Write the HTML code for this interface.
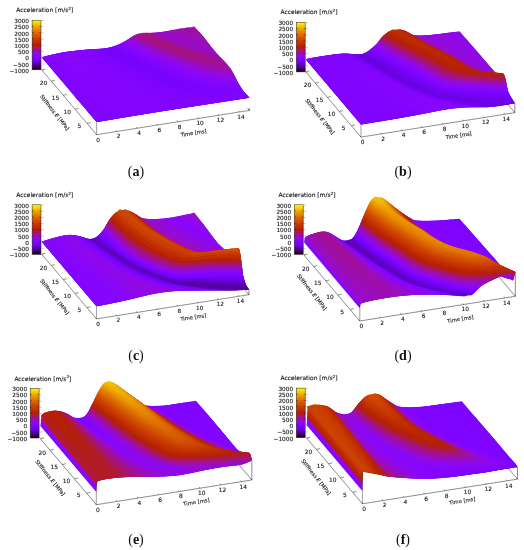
<!DOCTYPE html><html><head><meta charset="utf-8"><title>Figure</title><style>html,body{margin:0;padding:0;background:#fff}svg{display:block}text{font-family:"DejaVu Sans","Liberation Sans",sans-serif;fill:#111;stroke:#111;stroke-width:.1px}.cap text{font-family:"Liberation Serif",serif;fill:#111;stroke:none}</style></head><body><svg width="524" height="550" viewBox="0 0 524 550"><rect width="524" height="550" fill="#fff"/><defs><linearGradient id="cb" x1="0" y1="0" x2="0" y2="1"><stop offset="0" stop-color="#ff0"/><stop offset="0.03125" stop-color="#fbe800"/><stop offset="0.0625" stop-color="#f7d200"/><stop offset="0.09375" stop-color="#f3be00"/><stop offset="0.125" stop-color="#efab00"/><stop offset="0.1562" stop-color="#ea9900"/><stop offset="0.1875" stop-color="#e68900"/><stop offset="0.2188" stop-color="#e17a00"/><stop offset="0.25" stop-color="#dd6c00"/><stop offset="0.2812" stop-color="#d85f00"/><stop offset="0.3125" stop-color="#d35300"/><stop offset="0.3438" stop-color="#cf4800"/><stop offset="0.375" stop-color="#ca3e00"/><stop offset="0.4062" stop-color="#c43500"/><stop offset="0.4375" stop-color="#bf2d00"/><stop offset="0.4688" stop-color="#ba2600"/><stop offset="0.5" stop-color="#b42000"/><stop offset="0.5312" stop-color="#af1a32"/><stop offset="0.5625" stop-color="#a91562"/><stop offset="0.5938" stop-color="#a3118e"/><stop offset="0.625" stop-color="#9c0db4"/><stop offset="0.6562" stop-color="#960ad4"/><stop offset="0.6875" stop-color="#8f08ec"/><stop offset="0.7188" stop-color="#8706fa"/><stop offset="0.75" stop-color="#8004ff"/><stop offset="0.7812" stop-color="#7703fa"/><stop offset="0.8125" stop-color="#6e02ec"/><stop offset="0.8438" stop-color="#6501d4"/><stop offset="0.875" stop-color="#5a00b4"/><stop offset="0.9062" stop-color="#4e008e"/><stop offset="0.9375" stop-color="#400062"/><stop offset="0.9688" stop-color="#2d0032"/><stop offset="1" stop-color="#000"/></linearGradient><linearGradient id="a52" gradientUnits="userSpaceOnUse" x1="8.9" y1="56" x2="12.5" y2="78.8"><stop offset="0" stop-color="#9d0eaf"/><stop offset=".468" stop-color="#9e0fa9"/><stop offset=".61" stop-color="#9e0eac"/><stop offset=".927" stop-color="#990cc2"/><stop offset="1" stop-color="#990cc4"/></linearGradient><linearGradient id="a51" gradientUnits="userSpaceOnUse" x1="8.9" y1="55.8" x2="13.3" y2="83.4"><stop offset="0" stop-color="#9e0ea9"/><stop offset=".451" stop-color="#9e0fa9"/><stop offset=".642" stop-color="#9c0db7"/><stop offset=".773" stop-color="#990cc2"/><stop offset=".945" stop-color="#990cc4"/><stop offset="1" stop-color="#990cc3"/></linearGradient><linearGradient id="a50" gradientUnits="userSpaceOnUse" x1="8.9" y1="55.8" x2="14" y2="87.9"><stop offset="0" stop-color="#9e0eab"/><stop offset=".438" stop-color="#9e0eac"/><stop offset=".664" stop-color="#990cc2"/><stop offset=".813" stop-color="#990cc4"/><stop offset="1" stop-color="#9a0cbf"/></linearGradient><linearGradient id="a49" gradientUnits="userSpaceOnUse" x1="9" y1="56.6" x2="14.6" y2="92.1"><stop offset="0" stop-color="#9b0dbc"/><stop offset=".528" stop-color="#9a0dbd"/><stop offset=".625" stop-color="#990cc4"/><stop offset=".755" stop-color="#990cc3"/><stop offset=".924" stop-color="#9a0dbe"/><stop offset="1" stop-color="#9c0db4"/></linearGradient><linearGradient id="a48" gradientUnits="userSpaceOnUse" x1="9.1" y1="56.9" x2="14.8" y2="93.4"><stop offset="0" stop-color="#990cc4"/><stop offset=".725" stop-color="#990cc3"/><stop offset=".89" stop-color="#9a0dbe"/><stop offset=".964" stop-color="#9c0db4"/><stop offset="1" stop-color="#9d0eae"/></linearGradient><linearGradient id="a47" gradientUnits="userSpaceOnUse" x1="9" y1="56.8" x2="15.3" y2="96.2"><stop offset="0" stop-color="#9a0cc2"/><stop offset=".712" stop-color="#9a0cc1"/><stop offset=".826" stop-color="#9a0dbe"/><stop offset=".963" stop-color="#9e0eaa"/><stop offset="1" stop-color="#9e0fa7"/></linearGradient><linearGradient id="a46" gradientUnits="userSpaceOnUse" x1="9" y1="56.6" x2="15.5" y2="97.7"><stop offset="0" stop-color="#9b0dbc"/><stop offset=".759" stop-color="#9a0dbd"/><stop offset=".798" stop-color="#9a0dbe"/><stop offset=".928" stop-color="#9e0eaa"/><stop offset="1" stop-color="#9f0fa5"/></linearGradient><linearGradient id="a45" gradientUnits="userSpaceOnUse" x1="8.9" y1="55.9" x2="16" y2="100.8"><stop offset="0" stop-color="#9d0eae"/><stop offset=".696" stop-color="#9d0eaf"/><stop offset=".806" stop-color="#9c0db4"/><stop offset=".865" stop-color="#9e0eaa"/><stop offset=".965" stop-color="#9f0fa4"/><stop offset="1" stop-color="#9f0fa5"/></linearGradient><linearGradient id="a44" gradientUnits="userSpaceOnUse" x1="8.8" y1="55.4" x2="16.9" y2="106.5"><stop offset="0" stop-color="#a00fa1"/><stop offset=".611" stop-color="#9f0fa2"/><stop offset=".74" stop-color="#9e0eab"/><stop offset=".857" stop-color="#9f0fa4"/><stop offset=".921" stop-color="#9e0fa8"/><stop offset=".958" stop-color="#9d0eb0"/><stop offset="1" stop-color="#9a0dbd"/></linearGradient><linearGradient id="a43" gradientUnits="userSpaceOnUse" x1="8.7" y1="54.9" x2="17.3" y2="108.8"><stop offset="0" stop-color="#a21194"/><stop offset=".579" stop-color="#a11095"/><stop offset=".734" stop-color="#9f0fa3"/><stop offset=".766" stop-color="#9e0fa7"/><stop offset=".822" stop-color="#9f0fa4"/><stop offset=".883" stop-color="#9e0fa8"/><stop offset=".918" stop-color="#9d0eb0"/><stop offset="1" stop-color="#970bcd"/></linearGradient><linearGradient id="a42" gradientUnits="userSpaceOnUse" x1="8.6" y1="54.4" x2="17.7" y2="111.2"><stop offset="0" stop-color="#a41286"/><stop offset=".549" stop-color="#a31287"/><stop offset=".697" stop-color="#a11097"/><stop offset=".788" stop-color="#9f0fa4"/><stop offset=".846" stop-color="#9e0fa8"/><stop offset=".879" stop-color="#9d0eb0"/><stop offset="1" stop-color="#9309dd"/></linearGradient><linearGradient id="a41" gradientUnits="userSpaceOnUse" x1="8.6" y1="54" x2="18.1" y2="113.9"><stop offset="0" stop-color="#a5137b"/><stop offset=".521" stop-color="#a5137c"/><stop offset=".633" stop-color="#a31289"/><stop offset=".809" stop-color="#9e0fa8"/><stop offset=".841" stop-color="#9d0eb0"/><stop offset=".956" stop-color="#9309dd"/><stop offset="1" stop-color="#8e08ec"/></linearGradient><linearGradient id="a40" gradientUnits="userSpaceOnUse" x1="8.7" y1="54.4" x2="18.1" y2="113.9"><stop offset="0" stop-color="#a31287"/><stop offset=".498" stop-color="#a31288"/><stop offset=".58" stop-color="#a3118d"/><stop offset=".784" stop-color="#9e0eab"/><stop offset=".876" stop-color="#9a0cbe"/><stop offset=".955" stop-color="#9309dd"/><stop offset="1" stop-color="#8e08ec"/></linearGradient><linearGradient id="a39" gradientUnits="userSpaceOnUse" x1="8.7" y1="54.9" x2="18.1" y2="113.9"><stop offset="0" stop-color="#a11095"/><stop offset=".53" stop-color="#a11096"/><stop offset=".671" stop-color="#9f0fa4"/><stop offset=".85" stop-color="#9a0cbf"/><stop offset=".914" stop-color="#970bcd"/><stop offset="1" stop-color="#8e08ec"/></linearGradient><linearGradient id="a38" gradientUnits="userSpaceOnUse" x1="8.8" y1="55.4" x2="18.5" y2="116.6"><stop offset="0" stop-color="#9f0fa1"/><stop offset=".484" stop-color="#9f0fa2"/><stop offset=".591" stop-color="#9e0fa9"/><stop offset=".788" stop-color="#990cc2"/><stop offset=".878" stop-color="#960ad3"/><stop offset="1" stop-color="#8906f8"/></linearGradient><linearGradient id="a37" gradientUnits="userSpaceOnUse" x1="8.9" y1="56" x2="18.5" y2="116.6"><stop offset="0" stop-color="#9d0eaf"/><stop offset=".515" stop-color="#9d0eb0"/><stop offset=".624" stop-color="#9c0db8"/><stop offset=".793" stop-color="#980bcb"/><stop offset=".915" stop-color="#9309df"/><stop offset="1" stop-color="#8906f8"/></linearGradient><linearGradient id="a36" gradientUnits="userSpaceOnUse" x1="9" y1="56.6" x2="18.9" y2="118.9"><stop offset="0" stop-color="#9b0dbc"/><stop offset=".5" stop-color="#9b0dbd"/><stop offset=".605" stop-color="#990cc3"/><stop offset=".797" stop-color="#950ad7"/><stop offset=".92" stop-color="#8e08ec"/><stop offset=".963" stop-color="#8906f8"/><stop offset="1" stop-color="#8505fc"/></linearGradient><linearGradient id="a35" gradientUnits="userSpaceOnUse" x1="9.1" y1="57.2" x2="19.2" y2="121"><stop offset="0" stop-color="#980bc9"/><stop offset=".489" stop-color="#980bca"/><stop offset=".643" stop-color="#960ad3"/><stop offset=".776" stop-color="#9309df"/><stop offset=".889" stop-color="#8e08ed"/><stop offset=".93" stop-color="#8906f8"/><stop offset="1" stop-color="#8205fe"/></linearGradient><linearGradient id="a34" gradientUnits="userSpaceOnUse" x1="9.2" y1="57.9" x2="19.6" y2="123.1"><stop offset="0" stop-color="#950ad6"/><stop offset=".503" stop-color="#950ad7"/><stop offset=".757" stop-color="#9008e7"/><stop offset=".866" stop-color="#8c07f1"/><stop offset=".9" stop-color="#8906f8"/><stop offset="1" stop-color="#8004ff"/></linearGradient><linearGradient id="a33" gradientUnits="userSpaceOnUse" x1="9.3" y1="58.7" x2="19.9" y2="125.1"><stop offset="0" stop-color="#9109e4"/><stop offset=".518" stop-color="#9109e5"/><stop offset=".767" stop-color="#8c07f1"/><stop offset=".872" stop-color="#8906f8"/><stop offset=".97" stop-color="#8004ff"/><stop offset="1" stop-color="#7e04ff"/></linearGradient><linearGradient id="a32" gradientUnits="userSpaceOnUse" x1="9.5" y1="59.8" x2="20.2" y2="126.8"><stop offset="0" stop-color="#8c07f2"/><stop offset=".561" stop-color="#8b07f3"/><stop offset=".855" stop-color="#8605fb"/><stop offset=".973" stop-color="#7e04ff"/><stop offset="1" stop-color="#7d03fe"/></linearGradient><linearGradient id="a31" gradientUnits="userSpaceOnUse" x1="9.7" y1="61.1" x2="20.4" y2="128.4"><stop offset="0" stop-color="#8605fc"/><stop offset=".722" stop-color="#8505fd"/><stop offset=".891" stop-color="#8205fe"/><stop offset="1" stop-color="#7d03fe"/></linearGradient><linearGradient id="a30" gradientUnits="userSpaceOnUse" x1="9.9" y1="62.3" x2="20.6" y2="129.8"><stop offset="0" stop-color="#8004ff"/><stop offset=".901" stop-color="#8004ff"/><stop offset="1" stop-color="#7d04ff"/></linearGradient><linearGradient id="a29" gradientUnits="userSpaceOnUse" x1="10.1" y1="63.3" x2="20.9" y2="131.2"><stop offset="0" stop-color="#7a03fd"/><stop offset=".979" stop-color="#7d04ff"/><stop offset="1" stop-color="#7e04ff"/></linearGradient><linearGradient id="a28" gradientUnits="userSpaceOnUse" x1="10.2" y1="63.9" x2="20.9" y2="131.2"><stop offset="0" stop-color="#7703fa"/><stop offset=".712" stop-color="#7903fc"/><stop offset="1" stop-color="#7e04ff"/></linearGradient><linearGradient id="a27" gradientUnits="userSpaceOnUse" x1="10.2" y1="63.9" x2="21.1" y2="132.6"><stop offset="0" stop-color="#7703fa"/><stop offset=".632" stop-color="#7803fb"/><stop offset="1" stop-color="#7f04ff"/></linearGradient><linearGradient id="a26" gradientUnits="userSpaceOnUse" x1="10.1" y1="63.8" x2="21.3" y2="134.1"><stop offset="0" stop-color="#7803fb"/><stop offset=".64" stop-color="#7903fc"/><stop offset="1" stop-color="#7f04ff"/></linearGradient><linearGradient id="a25" gradientUnits="userSpaceOnUse" x1="10.1" y1="63.5" x2="21.3" y2="134.1"><stop offset="0" stop-color="#7a03fc"/><stop offset=".702" stop-color="#7b03fe"/><stop offset="1" stop-color="#7f04ff"/></linearGradient><linearGradient id="a24" gradientUnits="userSpaceOnUse" x1="10" y1="63.1" x2="21.3" y2="134.1"><stop offset="0" stop-color="#7b03fe"/><stop offset=".959" stop-color="#7e04ff"/><stop offset="1" stop-color="#7f04ff"/></linearGradient><linearGradient id="a18" gradientUnits="userSpaceOnUse" x1="9.8" y1="61.7" x2="21.3" y2="133.9"><stop offset="0" stop-color="#8305fe"/><stop offset="1" stop-color="#8004ff"/></linearGradient><linearGradient id="a16" gradientUnits="userSpaceOnUse" x1="9.8" y1="61.4" x2="21.3" y2="133.8"><stop offset="0" stop-color="#8405fd"/><stop offset=".847" stop-color="#8204ff"/><stop offset="1" stop-color="#8104ff"/></linearGradient><linearGradient id="a15" gradientUnits="userSpaceOnUse" x1="9.7" y1="61.3" x2="21.3" y2="133.8"><stop offset="0" stop-color="#8505fd"/><stop offset=".759" stop-color="#8305fe"/><stop offset="1" stop-color="#8104ff"/></linearGradient><linearGradient id="a14" gradientUnits="userSpaceOnUse" x1="9.7" y1="61.2" x2="21.3" y2="133.7"><stop offset="0" stop-color="#8505fc"/><stop offset=".715" stop-color="#8405fe"/><stop offset="1" stop-color="#8104ff"/></linearGradient><linearGradient id="a13" gradientUnits="userSpaceOnUse" x1="9.7" y1="61.1" x2="21.3" y2="133.7"><stop offset="0" stop-color="#8605fc"/><stop offset=".714" stop-color="#8405fd"/><stop offset="1" stop-color="#8104ff"/></linearGradient><linearGradient id="a12" gradientUnits="userSpaceOnUse" x1="9.7" y1="61" x2="21.2" y2="133.7"><stop offset="0" stop-color="#8605fb"/><stop offset=".67" stop-color="#8505fd"/><stop offset="1" stop-color="#8204ff"/></linearGradient><linearGradient id="a11" gradientUnits="userSpaceOnUse" x1="9.7" y1="60.9" x2="21.2" y2="133.6"><stop offset="0" stop-color="#8706fb"/><stop offset=".647" stop-color="#8505fc"/><stop offset="1" stop-color="#8204ff"/></linearGradient><linearGradient id="a10" gradientUnits="userSpaceOnUse" x1="9.7" y1="60.9" x2="21.2" y2="133.6"><stop offset="0" stop-color="#8706fb"/><stop offset=".669" stop-color="#8505fc"/><stop offset="1" stop-color="#8204ff"/></linearGradient><linearGradient id="a9" gradientUnits="userSpaceOnUse" x1="9.7" y1="60.9" x2="21.2" y2="133.6"><stop offset="0" stop-color="#8706fa"/><stop offset=".669" stop-color="#8505fc"/><stop offset="1" stop-color="#8204ff"/></linearGradient><linearGradient id="a8" gradientUnits="userSpaceOnUse" x1="9.7" y1="60.9" x2="21.2" y2="133.6"><stop offset="0" stop-color="#8706fb"/><stop offset=".669" stop-color="#8505fc"/><stop offset="1" stop-color="#8204ff"/></linearGradient><linearGradient id="a7" gradientUnits="userSpaceOnUse" x1="9.7" y1="61" x2="21.2" y2="133.7"><stop offset="0" stop-color="#8605fb"/><stop offset=".692" stop-color="#8505fd"/><stop offset="1" stop-color="#8204ff"/></linearGradient><linearGradient id="a6" gradientUnits="userSpaceOnUse" x1="9.7" y1="61.1" x2="21.3" y2="133.7"><stop offset="0" stop-color="#8605fc"/><stop offset=".648" stop-color="#8505fd"/><stop offset="1" stop-color="#8104ff"/></linearGradient><linearGradient id="a5" gradientUnits="userSpaceOnUse" x1="9.7" y1="61.2" x2="21.3" y2="133.7"><stop offset="0" stop-color="#8505fc"/><stop offset=".692" stop-color="#8405fe"/><stop offset="1" stop-color="#8104ff"/></linearGradient><linearGradient id="a4" gradientUnits="userSpaceOnUse" x1="9.8" y1="61.3" x2="21.3" y2="133.8"><stop offset="0" stop-color="#8505fd"/><stop offset=".737" stop-color="#8305fe"/><stop offset="1" stop-color="#8104ff"/></linearGradient><linearGradient id="a3" gradientUnits="userSpaceOnUse" x1="9.8" y1="61.5" x2="21.3" y2="133.8"><stop offset="0" stop-color="#8405fe"/><stop offset="1" stop-color="#8104ff"/></linearGradient><linearGradient id="a2" gradientUnits="userSpaceOnUse" x1="9.8" y1="61.7" x2="21.3" y2="133.9"><stop offset="0" stop-color="#8305fe"/><stop offset="1" stop-color="#8004ff"/></linearGradient><linearGradient id="b63" gradientUnits="userSpaceOnUse" x1="9.4" y1="58.8" x2="15.5" y2="97.8"><stop offset="0" stop-color="#9108e6"/><stop offset=".841" stop-color="#9108e6"/><stop offset="1" stop-color="#9109e5"/></linearGradient><linearGradient id="b62" gradientUnits="userSpaceOnUse" x1="9.3" y1="58.8" x2="16.7" y2="105.3"><stop offset="0" stop-color="#9109e5"/><stop offset=".572" stop-color="#9008e7"/><stop offset=".969" stop-color="#9109e3"/><stop offset="1" stop-color="#9209e1"/></linearGradient><linearGradient id="b61" gradientUnits="userSpaceOnUse" x1="9.3" y1="58.7" x2="17.1" y2="107.8"><stop offset="0" stop-color="#9109e3"/><stop offset=".607" stop-color="#9008e6"/><stop offset=".92" stop-color="#9109e3"/><stop offset=".976" stop-color="#9309de"/><stop offset="1" stop-color="#950ad7"/></linearGradient><linearGradient id="b60" gradientUnits="userSpaceOnUse" x1="9.3" y1="58.4" x2="17.3" y2="108.6"><stop offset="0" stop-color="#9209e0"/><stop offset=".846" stop-color="#9109e5"/><stop offset=".934" stop-color="#9209e1"/><stop offset=".961" stop-color="#9309de"/><stop offset=".984" stop-color="#950ad7"/><stop offset="1" stop-color="#980bc9"/></linearGradient><linearGradient id="b59" gradientUnits="userSpaceOnUse" x1="9.2" y1="58.1" x2="17.3" y2="108.6"><stop offset="0" stop-color="#940adb"/><stop offset=".877" stop-color="#9109e4"/><stop offset=".961" stop-color="#9309de"/><stop offset=".984" stop-color="#950ad7"/><stop offset="1" stop-color="#980bc9"/></linearGradient><linearGradient id="b58" gradientUnits="userSpaceOnUse" x1="9.2" y1="57.6" x2="17.3" y2="108.6"><stop offset="0" stop-color="#960bd1"/><stop offset=".744" stop-color="#940adb"/><stop offset=".961" stop-color="#9309de"/><stop offset=".985" stop-color="#950ad7"/><stop offset="1" stop-color="#980bc9"/><stop offset="1" stop-color="#a41286"/></linearGradient><linearGradient id="b57" gradientUnits="userSpaceOnUse" x1="9" y1="56.9" x2="17.3" y2="108.6"><stop offset="0" stop-color="#990cc3"/><stop offset=".767" stop-color="#960bd1"/><stop offset=".984" stop-color="#950ad7"/><stop offset="1" stop-color="#980bc9"/><stop offset="1" stop-color="#a41286"/></linearGradient><linearGradient id="b56" gradientUnits="userSpaceOnUse" x1="9" y1="56.3" x2="17.3" y2="108.6"><stop offset="0" stop-color="#9c0db7"/><stop offset=".699" stop-color="#990cc6"/><stop offset=".976" stop-color="#970bcf"/><stop offset="1" stop-color="#980bc9"/><stop offset="1" stop-color="#a41286"/></linearGradient><linearGradient id="b55" gradientUnits="userSpaceOnUse" x1="8.9" y1="55.7" x2="17.2" y2="108.4"><stop offset="0" stop-color="#9e0fa9"/><stop offset=".603" stop-color="#9c0db7"/><stop offset="1" stop-color="#990cc5"/><stop offset="1" stop-color="#a41286"/></linearGradient><linearGradient id="b54" gradientUnits="userSpaceOnUse" x1="8.8" y1="55.1" x2="17.1" y2="107.8"><stop offset="0" stop-color="#a11098"/><stop offset=".633" stop-color="#9e0fa9"/><stop offset="1" stop-color="#9b0db9"/><stop offset="1" stop-color="#ad193e"/></linearGradient><linearGradient id="b53" gradientUnits="userSpaceOnUse" x1="8.6" y1="54.3" x2="17.1" y2="107.4"><stop offset="0" stop-color="#a41282"/><stop offset=".63" stop-color="#a11096"/><stop offset=".935" stop-color="#9f0fa7"/><stop offset=".996" stop-color="#9e0fa9"/><stop offset="1" stop-color="#a41286"/><stop offset="1" stop-color="#ad193e"/></linearGradient><linearGradient id="b52" gradientUnits="userSpaceOnUse" x1="8.5" y1="53.4" x2="17.1" y2="107.4"><stop offset="0" stop-color="#a81569"/><stop offset=".532" stop-color="#a5137c"/><stop offset=".953" stop-color="#a11096"/><stop offset=".983" stop-color="#a11097"/><stop offset="1" stop-color="#a41286"/><stop offset="1" stop-color="#ad193e"/></linearGradient><linearGradient id="b51" gradientUnits="userSpaceOnUse" x1="8.3" y1="52.5" x2="17.1" y2="107.3"><stop offset="0" stop-color="#ab174d"/><stop offset=".496" stop-color="#a91562"/><stop offset="1" stop-color="#a41285"/><stop offset="1" stop-color="#ad193e"/></linearGradient><linearGradient id="b50" gradientUnits="userSpaceOnUse" x1="8.2" y1="51.6" x2="17" y2="106.7"><stop offset="0" stop-color="#af1a31"/><stop offset=".466" stop-color="#ac1848"/><stop offset=".643" stop-color="#aa1754"/><stop offset=".942" stop-color="#a7146e"/><stop offset="1" stop-color="#a71471"/><stop offset="1" stop-color="#ad193e"/></linearGradient><linearGradient id="b49" gradientUnits="userSpaceOnUse" x1="8.1" y1="50.8" x2="16.9" y2="106.6"><stop offset="0" stop-color="#b21d18"/><stop offset=".519" stop-color="#ae1a35"/><stop offset=".933" stop-color="#a9165c"/><stop offset=".991" stop-color="#a9165f"/><stop offset="1" stop-color="#ad193e"/><stop offset="1" stop-color="#b31f09"/></linearGradient><linearGradient id="b48" gradientUnits="userSpaceOnUse" x1="8" y1="50.2" x2="16.9" y2="106.6"><stop offset="0" stop-color="#b41f04"/><stop offset=".457" stop-color="#b11c1f"/><stop offset=".631" stop-color="#af1b2d"/><stop offset=".896" stop-color="#ac184a"/><stop offset=".982" stop-color="#ab1750"/><stop offset="1" stop-color="#ad193e"/><stop offset="1" stop-color="#b31f09"/></linearGradient><linearGradient id="b47" gradientUnits="userSpaceOnUse" x1="7.9" y1="49.7" x2="16.9" y2="106.6"><stop offset="0" stop-color="#b62100"/><stop offset=".226" stop-color="#b42001"/><stop offset=".569" stop-color="#b11d1a"/><stop offset=".919" stop-color="#ad1940"/><stop offset=".976" stop-color="#ac1844"/><stop offset="1" stop-color="#ad193e"/><stop offset="1" stop-color="#b31f09"/></linearGradient><linearGradient id="b46" gradientUnits="userSpaceOnUse" x1="7.8" y1="49.3" x2="16.9" y2="106.5"><stop offset="0" stop-color="#b72300"/><stop offset=".423" stop-color="#b42001"/><stop offset=".594" stop-color="#b31e0f"/><stop offset=".886" stop-color="#af1a32"/><stop offset=".999" stop-color="#ae193a"/><stop offset="1" stop-color="#b31f09"/></linearGradient><linearGradient id="b45" gradientUnits="userSpaceOnUse" x1="7.8" y1="48.8" x2="17.2" y2="107.9"><stop offset="0" stop-color="#b92500"/><stop offset=".548" stop-color="#b42000"/><stop offset=".689" stop-color="#b21e10"/><stop offset=".859" stop-color="#b01c26"/><stop offset=".969" stop-color="#af1b2e"/><stop offset=".976" stop-color="#b31f09"/><stop offset="1" stop-color="#b41f05"/></linearGradient><linearGradient id="b44" gradientUnits="userSpaceOnUse" x1="7.7" y1="48.3" x2="17.7" y2="111.6"><stop offset="0" stop-color="#bb2700"/><stop offset=".618" stop-color="#b42000"/><stop offset=".83" stop-color="#b11d1c"/><stop offset=".907" stop-color="#b01c22"/><stop offset=".919" stop-color="#b31f09"/><stop offset=".942" stop-color="#b41f05"/><stop offset="1" stop-color="#ac1849"/></linearGradient><linearGradient id="b43" gradientUnits="userSpaceOnUse" x1="7.6" y1="47.8" x2="17.7" y2="111.6"><stop offset="0" stop-color="#bc2900"/><stop offset=".641" stop-color="#b62100"/><stop offset=".72" stop-color="#b42001"/><stop offset=".85" stop-color="#b21e12"/><stop offset=".901" stop-color="#b21d15"/><stop offset=".92" stop-color="#b31f09"/><stop offset=".942" stop-color="#b41f05"/><stop offset="1" stop-color="#ac1849"/></linearGradient><linearGradient id="b42" gradientUnits="userSpaceOnUse" x1="7.5" y1="46.9" x2="17.7" y2="111.6"><stop offset="0" stop-color="#bf2e00"/><stop offset=".608" stop-color="#b92500"/><stop offset=".916" stop-color="#b52000"/><stop offset=".943" stop-color="#b41f05"/><stop offset="1" stop-color="#ac1849"/></linearGradient><linearGradient id="b41" gradientUnits="userSpaceOnUse" x1="7.5" y1="47.3" x2="17.7" y2="111.6"><stop offset="0" stop-color="#be2c00"/><stop offset=".663" stop-color="#b72300"/><stop offset=".819" stop-color="#b42001"/><stop offset=".92" stop-color="#b31f08"/><stop offset=".944" stop-color="#b31f08"/><stop offset="1" stop-color="#ac1849"/></linearGradient><linearGradient id="b40" gradientUnits="userSpaceOnUse" x1="7.6" y1="47.8" x2="17.7" y2="111.6"><stop offset="0" stop-color="#bc2900"/><stop offset=".641" stop-color="#b62100"/><stop offset=".72" stop-color="#b42001"/><stop offset=".825" stop-color="#b31e0f"/><stop offset=".926" stop-color="#b21d16"/><stop offset=".95" stop-color="#b21d16"/><stop offset="1" stop-color="#ac1849"/></linearGradient><linearGradient id="b39" gradientUnits="userSpaceOnUse" x1="7.7" y1="48.4" x2="18.6" y2="117.1"><stop offset="0" stop-color="#ba2700"/><stop offset=".569" stop-color="#b42000"/><stop offset=".763" stop-color="#b11d1c"/><stop offset=".857" stop-color="#b01c23"/><stop offset=".88" stop-color="#b01c23"/><stop offset=".92" stop-color="#ac1849"/><stop offset="1" stop-color="#9c0db6"/></linearGradient><linearGradient id="b38" gradientUnits="userSpaceOnUse" x1="7.8" y1="48.9" x2="18.6" y2="117.1"><stop offset="0" stop-color="#b92500"/><stop offset=".475" stop-color="#b42001"/><stop offset=".744" stop-color="#b01b28"/><stop offset=".839" stop-color="#af1a30"/><stop offset=".885" stop-color="#af1a31"/><stop offset=".919" stop-color="#ac1849"/><stop offset="1" stop-color="#9c0db6"/></linearGradient><linearGradient id="b37" gradientUnits="userSpaceOnUse" x1="7.9" y1="49.5" x2="18.6" y2="117.1"><stop offset="0" stop-color="#b72200"/><stop offset=".286" stop-color="#b42001"/><stop offset=".478" stop-color="#b21e12"/><stop offset=".749" stop-color="#ae1a37"/><stop offset=".845" stop-color="#ad193f"/><stop offset=".891" stop-color="#ad1940"/><stop offset=".919" stop-color="#ac1849"/><stop offset="1" stop-color="#9c0db6"/></linearGradient><linearGradient id="b36" gradientUnits="userSpaceOnUse" x1="8" y1="50.1" x2="18.6" y2="117.1"><stop offset="0" stop-color="#b42000"/><stop offset=".336" stop-color="#b21d17"/><stop offset=".531" stop-color="#b01b29"/><stop offset=".729" stop-color="#ac1844"/><stop offset=".85" stop-color="#ab174e"/><stop offset=".921" stop-color="#ab174f"/><stop offset="1" stop-color="#9c0db6"/></linearGradient><linearGradient id="b35" gradientUnits="userSpaceOnUse" x1="8.1" y1="50.7" x2="18.6" y2="117.1"><stop offset="0" stop-color="#b21e14"/><stop offset=".363" stop-color="#af1b2c"/><stop offset=".56" stop-color="#ad193e"/><stop offset=".784" stop-color="#aa1659"/><stop offset=".904" stop-color="#a9165e"/><stop offset=".927" stop-color="#a9165e"/><stop offset="1" stop-color="#9c0db6"/></linearGradient><linearGradient id="b34" gradientUnits="userSpaceOnUse" x1="8.2" y1="51.3" x2="18.6" y2="117.1"><stop offset="0" stop-color="#b01b29"/><stop offset=".317" stop-color="#ad193b"/><stop offset=".539" stop-color="#ab174d"/><stop offset=".79" stop-color="#a81568"/><stop offset=".911" stop-color="#a7146d"/><stop offset=".934" stop-color="#a7146d"/><stop offset="1" stop-color="#9c0db6"/></linearGradient><linearGradient id="b33" gradientUnits="userSpaceOnUse" x1="8.3" y1="52.1" x2="19.7" y2="123.9"><stop offset="0" stop-color="#ad1941"/><stop offset=".402" stop-color="#aa165a"/><stop offset=".743" stop-color="#a5137c"/><stop offset=".853" stop-color="#a5137f"/><stop offset=".905" stop-color="#9c0db6"/><stop offset="1" stop-color="#8405fe"/></linearGradient><linearGradient id="b32" gradientUnits="userSpaceOnUse" x1="8.4" y1="53.1" x2="19.7" y2="123.9"><stop offset="0" stop-color="#a91560"/><stop offset=".452" stop-color="#a61378"/><stop offset=".728" stop-color="#a21191"/><stop offset=".862" stop-color="#a21194"/><stop offset=".904" stop-color="#9c0db6"/><stop offset="1" stop-color="#8405fe"/></linearGradient><linearGradient id="b31" gradientUnits="userSpaceOnUse" x1="8.6" y1="54.3" x2="19.7" y2="123.9"><stop offset="0" stop-color="#a41282"/><stop offset=".481" stop-color="#a11097"/><stop offset=".737" stop-color="#9e0fa9"/><stop offset=".872" stop-color="#9e0ea9"/><stop offset=".902" stop-color="#9c0db6"/><stop offset="1" stop-color="#8405fe"/></linearGradient><linearGradient id="b30" gradientUnits="userSpaceOnUse" x1="8.8" y1="55.5" x2="19.7" y2="123.9"><stop offset="0" stop-color="#9f0fa4"/><stop offset=".488" stop-color="#9c0eb3"/><stop offset=".724" stop-color="#9a0cc0"/><stop offset=".906" stop-color="#9a0cbf"/><stop offset="1" stop-color="#8405fe"/></linearGradient><linearGradient id="b29" gradientUnits="userSpaceOnUse" x1="9" y1="56.9" x2="20.2" y2="126.8"><stop offset="0" stop-color="#990cc3"/><stop offset=".498" stop-color="#970bce"/><stop offset=".705" stop-color="#950ad5"/><stop offset=".881" stop-color="#960bd3"/><stop offset=".959" stop-color="#8405fe"/><stop offset="1" stop-color="#7d03fe"/></linearGradient><linearGradient id="b28" gradientUnits="userSpaceOnUse" x1="9.2" y1="58.2" x2="20.6" y2="129.3"><stop offset="0" stop-color="#940adb"/><stop offset=".733" stop-color="#9108e6"/><stop offset=".862" stop-color="#9109e4"/><stop offset=".924" stop-color="#8405fe"/><stop offset=".965" stop-color="#7d03fe"/><stop offset="1" stop-color="#7803fa"/></linearGradient><linearGradient id="b27" gradientUnits="userSpaceOnUse" x1="9.4" y1="59.3" x2="20.9" y2="131.5"><stop offset="0" stop-color="#8e08ec"/><stop offset=".719" stop-color="#8c07f2"/><stop offset=".847" stop-color="#8d07f1"/><stop offset=".894" stop-color="#8405fe"/><stop offset=".934" stop-color="#7d03fe"/><stop offset="1" stop-color="#7402f5"/></linearGradient><linearGradient id="b26" gradientUnits="userSpaceOnUse" x1="9.7" y1="61.3" x2="21.5" y2="135.5"><stop offset="0" stop-color="#8505fd"/><stop offset=".844" stop-color="#8405fe"/><stop offset=".883" stop-color="#7d03fe"/><stop offset="1" stop-color="#6f02ed"/></linearGradient><linearGradient id="b25" gradientUnits="userSpaceOnUse" x1="10" y1="63" x2="21.8" y2="137.3"><stop offset="0" stop-color="#7c03fe"/><stop offset=".859" stop-color="#7d03fe"/><stop offset=".976" stop-color="#6f02ed"/><stop offset="1" stop-color="#6e02ea"/></linearGradient><linearGradient id="b24" gradientUnits="userSpaceOnUse" x1="10.2" y1="64.2" x2="21.8" y2="137.3"><stop offset="0" stop-color="#7502f8"/><stop offset=".894" stop-color="#7603f9"/><stop offset="1" stop-color="#6e02ea"/></linearGradient><linearGradient id="b23" gradientUnits="userSpaceOnUse" x1="10.3" y1="65" x2="21.8" y2="137.3"><stop offset="0" stop-color="#7102f0"/><stop offset=".706" stop-color="#7302f5"/><stop offset=".949" stop-color="#7102f1"/><stop offset="1" stop-color="#6e02ea"/></linearGradient><linearGradient id="b22" gradientUnits="userSpaceOnUse" x1="10.4" y1="65.6" x2="21.8" y2="137.3"><stop offset="0" stop-color="#6d02e9"/><stop offset=".689" stop-color="#7102f0"/><stop offset=".976" stop-color="#6f02ec"/><stop offset="1" stop-color="#6e02ea"/></linearGradient><linearGradient id="b21" gradientUnits="userSpaceOnUse" x1="10.5" y1="66" x2="21.8" y2="137.4"><stop offset="0" stop-color="#6b01e3"/><stop offset=".713" stop-color="#6e02eb"/><stop offset="1" stop-color="#6d02e8"/></linearGradient><linearGradient id="b20" gradientUnits="userSpaceOnUse" x1="10.5" y1="66.3" x2="21.9" y2="137.5"><stop offset="0" stop-color="#6901df"/><stop offset=".541" stop-color="#6c01e5"/><stop offset=".736" stop-color="#6d02e8"/><stop offset="1" stop-color="#6c01e6"/></linearGradient><linearGradient id="b19" gradientUnits="userSpaceOnUse" x1="10.6" y1="66.5" x2="21.9" y2="137.6"><stop offset="0" stop-color="#6801dc"/><stop offset=".824" stop-color="#6c01e6"/><stop offset="1" stop-color="#6c01e5"/></linearGradient><linearGradient id="b18" gradientUnits="userSpaceOnUse" x1="10.6" y1="66.4" x2="21.8" y2="137.4"><stop offset="0" stop-color="#6801dd"/><stop offset=".63" stop-color="#6c01e5"/><stop offset=".825" stop-color="#6d02e8"/><stop offset="1" stop-color="#6d02e9"/></linearGradient><linearGradient id="b17" gradientUnits="userSpaceOnUse" x1="10.5" y1="65.9" x2="21.7" y2="136.4"><stop offset="0" stop-color="#6b01e5"/><stop offset=".676" stop-color="#7002ee"/><stop offset="1" stop-color="#7302f4"/></linearGradient><linearGradient id="b16" gradientUnits="userSpaceOnUse" x1="10.3" y1="65" x2="21.5" y2="135"><stop offset="0" stop-color="#7102f0"/><stop offset=".87" stop-color="#7903fc"/><stop offset="1" stop-color="#7b03fd"/></linearGradient><linearGradient id="b15" gradientUnits="userSpaceOnUse" x1="10.2" y1="63.9" x2="21.2" y2="133.5"><stop offset="0" stop-color="#7703fa"/><stop offset=".587" stop-color="#7e04ff"/><stop offset="1" stop-color="#8205fe"/></linearGradient><linearGradient id="b14" gradientUnits="userSpaceOnUse" x1="10" y1="63" x2="21.1" y2="132.5"><stop offset="0" stop-color="#7c03fe"/><stop offset=".629" stop-color="#8405fe"/><stop offset="1" stop-color="#8706fa"/></linearGradient><linearGradient id="b13" gradientUnits="userSpaceOnUse" x1="10" y1="62.7" x2="21" y2="132.2"><stop offset="0" stop-color="#7e04ff"/><stop offset=".717" stop-color="#8605fc"/><stop offset="1" stop-color="#8906f8"/></linearGradient><linearGradient id="b12" gradientUnits="userSpaceOnUse" x1="9.9" y1="62.5" x2="21" y2="132.3"><stop offset="0" stop-color="#7f04ff"/><stop offset=".761" stop-color="#8605fc"/><stop offset="1" stop-color="#8806f9"/></linearGradient><linearGradient id="b11" gradientUnits="userSpaceOnUse" x1="9.9" y1="62.4" x2="21.1" y2="132.5"><stop offset="0" stop-color="#7f04ff"/><stop offset=".957" stop-color="#8706fb"/><stop offset="1" stop-color="#8706fa"/></linearGradient><linearGradient id="b10" gradientUnits="userSpaceOnUse" x1="9.9" y1="62.3" x2="21.1" y2="132.8"><stop offset="0" stop-color="#8004ff"/><stop offset="1" stop-color="#8605fc"/></linearGradient><linearGradient id="b9" gradientUnits="userSpaceOnUse" x1="9.9" y1="62.2" x2="21.2" y2="133.2"><stop offset="0" stop-color="#8004ff"/><stop offset="1" stop-color="#8405fd"/></linearGradient><linearGradient id="c70" gradientUnits="userSpaceOnUse" x1="9.2" y1="57.7" x2="14.6" y2="91.9"><stop offset="0" stop-color="#960ad3"/><stop offset=".233" stop-color="#950ad6"/><stop offset=".753" stop-color="#8b07f4"/><stop offset=".954" stop-color="#8806f9"/><stop offset="1" stop-color="#8806f9"/></linearGradient><linearGradient id="c69" gradientUnits="userSpaceOnUse" x1="9.3" y1="58.5" x2="15.4" y2="96.9"><stop offset="0" stop-color="#9209e1"/><stop offset=".367" stop-color="#9209e2"/><stop offset=".649" stop-color="#8b07f4"/><stop offset=".829" stop-color="#8806f9"/><stop offset=".905" stop-color="#8906f8"/><stop offset="1" stop-color="#8e07ee"/></linearGradient><linearGradient id="c68" gradientUnits="userSpaceOnUse" x1="9.5" y1="59.6" x2="16.3" y2="102.4"><stop offset="0" stop-color="#8d07f0"/><stop offset=".474" stop-color="#8d07f0"/><stop offset=".679" stop-color="#8806f9"/><stop offset=".786" stop-color="#8906f8"/><stop offset=".901" stop-color="#8f08ea"/><stop offset="1" stop-color="#9109e4"/></linearGradient><linearGradient id="c67" gradientUnits="userSpaceOnUse" x1="9.6" y1="60.6" x2="17" y2="106.7"><stop offset="0" stop-color="#8806f9"/><stop offset=".708" stop-color="#8906f8"/><stop offset=".814" stop-color="#8f08ea"/><stop offset="1" stop-color="#9309df"/></linearGradient><linearGradient id="c66" gradientUnits="userSpaceOnUse" x1="9.6" y1="60.2" x2="17.6" y2="110.6"><stop offset="0" stop-color="#8a06f5"/><stop offset=".68" stop-color="#8a06f5"/><stop offset=".753" stop-color="#8f08ea"/><stop offset=".95" stop-color="#9309dc"/><stop offset="1" stop-color="#960bd2"/></linearGradient><linearGradient id="c65" gradientUnits="userSpaceOnUse" x1="9.4" y1="59" x2="17.7" y2="111.4"><stop offset="0" stop-color="#9008e8"/><stop offset=".716" stop-color="#8f08e9"/><stop offset=".746" stop-color="#8f08ea"/><stop offset=".938" stop-color="#9309dc"/><stop offset=".986" stop-color="#960bd2"/><stop offset="1" stop-color="#9a0cc2"/></linearGradient><linearGradient id="c64" gradientUnits="userSpaceOnUse" x1="9.3" y1="58.4" x2="17.7" y2="111.4"><stop offset="0" stop-color="#9209e0"/><stop offset=".738" stop-color="#9209e1"/><stop offset=".858" stop-color="#9109e3"/><stop offset=".938" stop-color="#9309dc"/><stop offset=".986" stop-color="#960bd2"/><stop offset="1" stop-color="#9a0cc2"/><stop offset="1" stop-color="#b82400"/></linearGradient><linearGradient id="c63" gradientUnits="userSpaceOnUse" x1="9.2" y1="57.9" x2="17.7" y2="111.4"><stop offset="0" stop-color="#950ad8"/><stop offset=".702" stop-color="#940ad9"/><stop offset=".91" stop-color="#9309dd"/><stop offset=".939" stop-color="#9309dc"/><stop offset=".986" stop-color="#960bd2"/><stop offset="1" stop-color="#9a0cc2"/><stop offset="1" stop-color="#b82400"/></linearGradient><linearGradient id="c62" gradientUnits="userSpaceOnUse" x1="9.1" y1="57.4" x2="17.7" y2="111.4"><stop offset="0" stop-color="#970bce"/><stop offset=".637" stop-color="#970bcf"/><stop offset=".931" stop-color="#960ad4"/><stop offset=".986" stop-color="#960bd2"/><stop offset="1" stop-color="#9a0cc2"/><stop offset="1" stop-color="#b82400"/></linearGradient><linearGradient id="c61" gradientUnits="userSpaceOnUse" x1="9" y1="56.9" x2="17.7" y2="111.4"><stop offset="0" stop-color="#990cc3"/><stop offset=".659" stop-color="#990cc4"/><stop offset=".922" stop-color="#980bca"/><stop offset=".976" stop-color="#980cc7"/><stop offset="1" stop-color="#9a0cc2"/><stop offset="1" stop-color="#b82400"/></linearGradient><linearGradient id="c60" gradientUnits="userSpaceOnUse" x1="8.9" y1="56.3" x2="17.6" y2="110.9"><stop offset="0" stop-color="#9c0db6"/><stop offset=".629" stop-color="#9c0db7"/><stop offset=".892" stop-color="#9a0cbf"/><stop offset=".949" stop-color="#9a0dbe"/><stop offset="1" stop-color="#9c0db7"/><stop offset="1" stop-color="#b82400"/></linearGradient><linearGradient id="c59" gradientUnits="userSpaceOnUse" x1="8.9" y1="55.7" x2="17.5" y2="110.3"><stop offset="0" stop-color="#9e0fa9"/><stop offset=".6" stop-color="#9e0ea9"/><stop offset=".893" stop-color="#9c0eb3"/><stop offset=".949" stop-color="#9d0eb2"/><stop offset="1" stop-color="#9e0eaa"/><stop offset="1" stop-color="#b82400"/></linearGradient><linearGradient id="c58" gradientUnits="userSpaceOnUse" x1="8.8" y1="55.2" x2="17.4" y2="109.7"><stop offset="0" stop-color="#a1109a"/><stop offset=".6" stop-color="#a1109b"/><stop offset=".893" stop-color="#9f0fa6"/><stop offset=".976" stop-color="#9f0fa1"/><stop offset="1" stop-color="#a0109b"/><stop offset="1" stop-color="#b82400"/></linearGradient><linearGradient id="c57" gradientUnits="userSpaceOnUse" x1="8.7" y1="54.5" x2="17.3" y2="109.1"><stop offset="0" stop-color="#a31289"/><stop offset=".6" stop-color="#a31289"/><stop offset=".866" stop-color="#a11096"/><stop offset=".95" stop-color="#a21094"/><stop offset=".976" stop-color="#a21190"/><stop offset="1" stop-color="#a31289"/><stop offset="1" stop-color="#b82400"/></linearGradient><linearGradient id="c56" gradientUnits="userSpaceOnUse" x1="8.5" y1="53.8" x2="17.2" y2="108.3"><stop offset="0" stop-color="#a61474"/><stop offset=".6" stop-color="#a61474"/><stop offset=".866" stop-color="#a41283"/><stop offset=".951" stop-color="#a41281"/><stop offset=".977" stop-color="#a5137d"/><stop offset="1" stop-color="#a61474"/><stop offset="1" stop-color="#b82400"/></linearGradient><linearGradient id="c55" gradientUnits="userSpaceOnUse" x1="8.4" y1="53" x2="17.1" y2="107.6"><stop offset="0" stop-color="#a9165c"/><stop offset=".571" stop-color="#a9165c"/><stop offset=".778" stop-color="#a81567"/><stop offset=".867" stop-color="#a7146e"/><stop offset=".952" stop-color="#a7146c"/><stop offset=".977" stop-color="#a81567"/><stop offset="1" stop-color="#a9165d"/><stop offset="1" stop-color="#b82400"/></linearGradient><linearGradient id="c54" gradientUnits="userSpaceOnUse" x1="8.3" y1="52.2" x2="17" y2="106.8"><stop offset="0" stop-color="#ac1843"/><stop offset=".571" stop-color="#ac1844"/><stop offset=".748" stop-color="#ab174e"/><stop offset=".868" stop-color="#aa1658"/><stop offset=".953" stop-color="#aa1756"/><stop offset=".978" stop-color="#ab1750"/><stop offset="1" stop-color="#ac1845"/><stop offset="1" stop-color="#d24f00"/></linearGradient><linearGradient id="c53" gradientUnits="userSpaceOnUse" x1="8.2" y1="51.4" x2="16.9" y2="106"><stop offset="0" stop-color="#af1b2b"/><stop offset=".571" stop-color="#af1b2c"/><stop offset=".779" stop-color="#ae193a"/><stop offset=".84" stop-color="#ad1941"/><stop offset=".926" stop-color="#ad1942"/><stop offset=".953" stop-color="#ad1940"/><stop offset=".978" stop-color="#ae193a"/><stop offset="1" stop-color="#af1b2e"/><stop offset="1" stop-color="#d24f00"/></linearGradient><linearGradient id="c52" gradientUnits="userSpaceOnUse" x1="8.1" y1="50.7" x2="16.8" y2="105.4"><stop offset="0" stop-color="#b21d15"/><stop offset=".571" stop-color="#b21d16"/><stop offset=".749" stop-color="#b01c22"/><stop offset=".87" stop-color="#af1b2e"/><stop offset=".954" stop-color="#af1b2c"/><stop offset=".979" stop-color="#b01c25"/><stop offset="1" stop-color="#b21d18"/><stop offset="1" stop-color="#d24f00"/></linearGradient><linearGradient id="c51" gradientUnits="userSpaceOnUse" x1="7.9" y1="50" x2="16.7" y2="105.1"><stop offset="0" stop-color="#b52000"/><stop offset=".595" stop-color="#b42000"/><stop offset=".804" stop-color="#b21e12"/><stop offset=".863" stop-color="#b21d18"/><stop offset=".947" stop-color="#b21d16"/><stop offset=".971" stop-color="#b31e0f"/><stop offset=".992" stop-color="#b42001"/><stop offset="1" stop-color="#b82400"/><stop offset="1" stop-color="#d24f00"/></linearGradient><linearGradient id="c50" gradientUnits="userSpaceOnUse" x1="7.8" y1="48.9" x2="16.6" y2="104.2"><stop offset="0" stop-color="#b82500"/><stop offset=".742" stop-color="#b72300"/><stop offset=".918" stop-color="#b52100"/><stop offset=".989" stop-color="#b82400"/><stop offset="1" stop-color="#bb2800"/><stop offset="1" stop-color="#d04c00"/></linearGradient><linearGradient id="c49" gradientUnits="userSpaceOnUse" x1="7.4" y1="46.8" x2="17.1" y2="107.7"><stop offset="0" stop-color="#c02e00"/><stop offset=".62" stop-color="#bf2d00"/><stop offset=".835" stop-color="#bc2900"/><stop offset=".88" stop-color="#be2b00"/><stop offset=".897" stop-color="#bf2e00"/><stop offset=".905" stop-color="#c33300"/><stop offset=".905" stop-color="#d04c00"/><stop offset="1" stop-color="#bf2e00"/></linearGradient><linearGradient id="c48" gradientUnits="userSpaceOnUse" x1="7.1" y1="44.5" x2="17.1" y2="107.7"><stop offset="0" stop-color="#c83b00"/><stop offset=".545" stop-color="#c73a00"/><stop offset=".807" stop-color="#c43400"/><stop offset=".865" stop-color="#c73a00"/><stop offset=".869" stop-color="#cb4200"/><stop offset=".869" stop-color="#d24f00"/><stop offset=".894" stop-color="#d04c00"/><stop offset="1" stop-color="#bf2e00"/></linearGradient><linearGradient id="c47" gradientUnits="userSpaceOnUse" x1="6.8" y1="42.6" x2="18.6" y2="117.3"><stop offset="0" stop-color="#ce4700"/><stop offset=".44" stop-color="#ce4600"/><stop offset=".664" stop-color="#ca3f00"/><stop offset=".705" stop-color="#ca3f00"/><stop offset=".733" stop-color="#cd4600"/><stop offset=".735" stop-color="#d24f00"/><stop offset=".747" stop-color="#d45400"/><stop offset=".783" stop-color="#d04c00"/><stop offset=".873" stop-color="#bf2e00"/><stop offset="1" stop-color="#a21194"/></linearGradient><linearGradient id="c46" gradientUnits="userSpaceOnUse" x1="6.9" y1="43.5" x2="18.6" y2="117.3"><stop offset="0" stop-color="#cb4100"/><stop offset=".446" stop-color="#ca4000"/><stop offset=".693" stop-color="#c73900"/><stop offset=".73" stop-color="#c83c00"/><stop offset=".742" stop-color="#ca4000"/><stop offset=".745" stop-color="#cf4800"/><stop offset=".758" stop-color="#d14c00"/><stop offset=".78" stop-color="#d04c00"/><stop offset=".871" stop-color="#bf2e00"/><stop offset="1" stop-color="#a21194"/></linearGradient><linearGradient id="c45" gradientUnits="userSpaceOnUse" x1="7.2" y1="45.4" x2="18.6" y2="117.3"><stop offset="0" stop-color="#c53500"/><stop offset=".503" stop-color="#c43400"/><stop offset=".71" stop-color="#c13000"/><stop offset=".748" stop-color="#c23200"/><stop offset=".762" stop-color="#c43500"/><stop offset=".767" stop-color="#c83b00"/><stop offset=".781" stop-color="#ca3f00"/><stop offset=".802" stop-color="#ca3f00"/><stop offset=".867" stop-color="#bf2e00"/><stop offset="1" stop-color="#a21194"/></linearGradient><linearGradient id="c44" gradientUnits="userSpaceOnUse" x1="7.6" y1="47.7" x2="18.6" y2="117.3"><stop offset="0" stop-color="#bd2a00"/><stop offset=".519" stop-color="#bc2900"/><stop offset=".709" stop-color="#b92600"/><stop offset=".771" stop-color="#bb2700"/><stop offset=".786" stop-color="#bc2900"/><stop offset=".794" stop-color="#c02e00"/><stop offset=".81" stop-color="#c13100"/><stop offset=".831" stop-color="#c23100"/><stop offset=".863" stop-color="#bf2e00"/><stop offset="1" stop-color="#a21194"/></linearGradient><linearGradient id="c43" gradientUnits="userSpaceOnUse" x1="7.9" y1="49.5" x2="18.6" y2="117.3"><stop offset="0" stop-color="#b62200"/><stop offset=".581" stop-color="#b52100"/><stop offset=".63" stop-color="#b42000"/><stop offset=".703" stop-color="#b31f0a"/><stop offset=".771" stop-color="#b31f08"/><stop offset=".791" stop-color="#b42000"/><stop offset=".833" stop-color="#bb2700"/><stop offset=".878" stop-color="#bb2800"/><stop offset="1" stop-color="#a21194"/></linearGradient><linearGradient id="c42" gradientUnits="userSpaceOnUse" x1="8" y1="50.5" x2="18.6" y2="117.3"><stop offset="0" stop-color="#b31e0f"/><stop offset=".444" stop-color="#b31e10"/><stop offset=".565" stop-color="#b21d18"/><stop offset=".713" stop-color="#b01b2a"/><stop offset=".782" stop-color="#b01b28"/><stop offset=".802" stop-color="#b11c21"/><stop offset=".819" stop-color="#b21e13"/><stop offset=".83" stop-color="#b52100"/><stop offset=".893" stop-color="#b72300"/><stop offset="1" stop-color="#a21194"/></linearGradient><linearGradient id="c41" gradientUnits="userSpaceOnUse" x1="8.2" y1="51.6" x2="20.1" y2="126.6"><stop offset="0" stop-color="#af1a30"/><stop offset=".416" stop-color="#af1a31"/><stop offset=".567" stop-color="#ad193f"/><stop offset=".611" stop-color="#ac1846"/><stop offset=".674" stop-color="#ac1847"/><stop offset=".694" stop-color="#ac1845"/><stop offset=".712" stop-color="#ad193f"/><stop offset=".728" stop-color="#ae1a33"/><stop offset=".739" stop-color="#b11d1b"/><stop offset=".755" stop-color="#b31e0f"/><stop offset=".795" stop-color="#b31e0e"/><stop offset=".875" stop-color="#a21194"/><stop offset="1" stop-color="#7e04ff"/></linearGradient><linearGradient id="c40" gradientUnits="userSpaceOnUse" x1="8.4" y1="52.7" x2="20.1" y2="126.6"><stop offset="0" stop-color="#aa1754"/><stop offset=".484" stop-color="#ab1751"/><stop offset=".637" stop-color="#a9165e"/><stop offset=".699" stop-color="#aa165b"/><stop offset=".736" stop-color="#ab174f"/><stop offset=".751" stop-color="#ad1941"/><stop offset=".767" stop-color="#ae1a37"/><stop offset=".809" stop-color="#ae1a35"/><stop offset=".873" stop-color="#a21194"/><stop offset="1" stop-color="#7e04ff"/></linearGradient><linearGradient id="c39" gradientUnits="userSpaceOnUse" x1="8.6" y1="53.9" x2="20.1" y2="126.6"><stop offset="0" stop-color="#a51379"/><stop offset=".214" stop-color="#a61379"/><stop offset=".381" stop-color="#a71470"/><stop offset=".461" stop-color="#a91562"/><stop offset=".638" stop-color="#a7146d"/><stop offset=".7" stop-color="#a8156a"/><stop offset=".739" stop-color="#a91561"/><stop offset=".765" stop-color="#a8156a"/><stop offset=".782" stop-color="#a91660"/><stop offset=".823" stop-color="#a9165e"/><stop offset=".871" stop-color="#a21194"/><stop offset="1" stop-color="#7e04ff"/></linearGradient><linearGradient id="c38" gradientUnits="userSpaceOnUse" x1="8.8" y1="55.2" x2="20.1" y2="126.6"><stop offset="0" stop-color="#a0109c"/><stop offset=".175" stop-color="#a0109e"/><stop offset=".302" stop-color="#a11096"/><stop offset=".385" stop-color="#a3118d"/><stop offset=".404" stop-color="#a31289"/><stop offset=".44" stop-color="#a61379"/><stop offset=".459" stop-color="#a61473"/><stop offset=".661" stop-color="#a5137e"/><stop offset=".704" stop-color="#a5137c"/><stop offset=".742" stop-color="#a71472"/><stop offset=".779" stop-color="#a21190"/><stop offset=".796" stop-color="#a41286"/><stop offset=".839" stop-color="#a41284"/><stop offset=".869" stop-color="#a21194"/><stop offset="1" stop-color="#7e04ff"/></linearGradient><linearGradient id="c37" gradientUnits="userSpaceOnUse" x1="9" y1="56.6" x2="20.1" y2="126.6"><stop offset="0" stop-color="#9b0dbc"/><stop offset=".201" stop-color="#9a0dbe"/><stop offset=".286" stop-color="#9c0db8"/><stop offset=".39" stop-color="#9e0eab"/><stop offset=".409" stop-color="#9f0fa6"/><stop offset=".427" stop-color="#a0109e"/><stop offset=".442" stop-color="#a21192"/><stop offset=".461" stop-color="#a3118a"/><stop offset=".668" stop-color="#a11098"/><stop offset=".712" stop-color="#a11097"/><stop offset=".732" stop-color="#a21193"/><stop offset=".75" stop-color="#a3118a"/><stop offset=".795" stop-color="#9c0eb3"/><stop offset=".812" stop-color="#9e0eaa"/><stop offset=".855" stop-color="#9e0fa7"/><stop offset=".877" stop-color="#9e0fa8"/><stop offset="1" stop-color="#7e04ff"/></linearGradient><linearGradient id="c36" gradientUnits="userSpaceOnUse" x1="9.2" y1="58" x2="20.9" y2="131.4"><stop offset="0" stop-color="#940ad9"/><stop offset=".213" stop-color="#940ada"/><stop offset=".353" stop-color="#970bce"/><stop offset=".391" stop-color="#980cc7"/><stop offset=".408" stop-color="#9a0cc1"/><stop offset=".423" stop-color="#9c0db6"/><stop offset=".441" stop-color="#9d0eb0"/><stop offset=".662" stop-color="#9a0dbe"/><stop offset=".683" stop-color="#9a0dbe"/><stop offset=".702" stop-color="#9b0dba"/><stop offset=".717" stop-color="#9d0eb0"/><stop offset=".761" stop-color="#960ad3"/><stop offset=".777" stop-color="#970bcc"/><stop offset=".839" stop-color="#980bca"/><stop offset=".936" stop-color="#7e04ff"/><stop offset="1" stop-color="#6c01e6"/></linearGradient><linearGradient id="c35" gradientUnits="userSpaceOnUse" x1="9.5" y1="59.5" x2="20.9" y2="131.4"><stop offset="0" stop-color="#8e08ee"/><stop offset=".239" stop-color="#8e08ee"/><stop offset=".383" stop-color="#9008e7"/><stop offset=".422" stop-color="#9209e3"/><stop offset=".459" stop-color="#940adb"/><stop offset=".705" stop-color="#9109e4"/><stop offset=".725" stop-color="#9209e2"/><stop offset=".741" stop-color="#940adb"/><stop offset=".777" stop-color="#8f08eb"/><stop offset=".795" stop-color="#9008e7"/><stop offset=".859" stop-color="#9109e5"/><stop offset=".934" stop-color="#7e04ff"/><stop offset="1" stop-color="#6c01e6"/></linearGradient><linearGradient id="c34" gradientUnits="userSpaceOnUse" x1="9.6" y1="60.7" x2="21.5" y2="135.1"><stop offset="0" stop-color="#8806f9"/><stop offset=".395" stop-color="#8906f8"/><stop offset=".477" stop-color="#8a06f6"/><stop offset=".71" stop-color="#8906f8"/><stop offset=".728" stop-color="#8a06f6"/><stop offset=".771" stop-color="#8906f7"/><stop offset=".833" stop-color="#8a06f6"/><stop offset=".886" stop-color="#7e04ff"/><stop offset=".95" stop-color="#6c01e6"/><stop offset="1" stop-color="#5d01be"/></linearGradient><linearGradient id="c33" gradientUnits="userSpaceOnUse" x1="9.9" y1="62.4" x2="21.5" y2="135.1"><stop offset="0" stop-color="#7f04ff"/><stop offset=".884" stop-color="#7e04ff"/><stop offset=".948" stop-color="#6c01e6"/><stop offset="1" stop-color="#5d01be"/></linearGradient><linearGradient id="c32" gradientUnits="userSpaceOnUse" x1="10.2" y1="64" x2="21.5" y2="135.1"><stop offset="0" stop-color="#7703fa"/><stop offset=".766" stop-color="#7703fa"/><stop offset=".859" stop-color="#7502f7"/><stop offset=".902" stop-color="#7502f8"/><stop offset=".947" stop-color="#6c01e6"/><stop offset="1" stop-color="#5d01be"/></linearGradient><linearGradient id="c31" gradientUnits="userSpaceOnUse" x1="10.3" y1="64.9" x2="21.9" y2="137.7"><stop offset="0" stop-color="#7102f1"/><stop offset=".703" stop-color="#7302f4"/><stop offset=".748" stop-color="#7202f2"/><stop offset=".801" stop-color="#6e02ea"/><stop offset=".887" stop-color="#6e02ea"/><stop offset=".913" stop-color="#6c01e6"/><stop offset=".964" stop-color="#5d01be"/><stop offset="1" stop-color="#5500a5"/></linearGradient><linearGradient id="c30" gradientUnits="userSpaceOnUse" x1="10.4" y1="65.5" x2="21.9" y2="137.7"><stop offset="0" stop-color="#6e02ea"/><stop offset=".663" stop-color="#7002f0"/><stop offset=".753" stop-color="#6f02ed"/><stop offset=".811" stop-color="#6901de"/><stop offset=".92" stop-color="#6801dc"/><stop offset="1" stop-color="#5500a5"/></linearGradient><linearGradient id="c29" gradientUnits="userSpaceOnUse" x1="10.5" y1="66.1" x2="22.2" y2="139.7"><stop offset="0" stop-color="#6b01e3"/><stop offset=".627" stop-color="#6e02ec"/><stop offset=".736" stop-color="#6d02e8"/><stop offset=".77" stop-color="#6701da"/><stop offset=".797" stop-color="#6401d2"/><stop offset=".863" stop-color="#6301cf"/><stop offset=".905" stop-color="#6301cf"/><stop offset=".938" stop-color="#5d01be"/><stop offset=".973" stop-color="#5500a5"/><stop offset="1" stop-color="#52009b"/></linearGradient><linearGradient id="c28" gradientUnits="userSpaceOnUse" x1="10.6" y1="66.5" x2="22.2" y2="139.7"><stop offset="0" stop-color="#6801dc"/><stop offset=".524" stop-color="#6c01e6"/><stop offset=".694" stop-color="#6c01e6"/><stop offset=".74" stop-color="#6a01e3"/><stop offset=".777" stop-color="#6301cf"/><stop offset=".805" stop-color="#6001c5"/><stop offset=".914" stop-color="#5e01c1"/><stop offset=".937" stop-color="#5d01be"/><stop offset=".973" stop-color="#5500a5"/><stop offset="1" stop-color="#52009b"/></linearGradient><linearGradient id="c27" gradientUnits="userSpaceOnUse" x1="10.6" y1="67" x2="22.5" y2="141.3"><stop offset="0" stop-color="#6501d4"/><stop offset=".515" stop-color="#6901df"/><stop offset=".683" stop-color="#6901df"/><stop offset=".729" stop-color="#6701db"/><stop offset=".766" stop-color="#5f01c3"/><stop offset=".794" stop-color="#5b01b8"/><stop offset=".838" stop-color="#5a00b4"/><stop offset=".901" stop-color="#5a00b4"/><stop offset=".924" stop-color="#5900b2"/><stop offset=".978" stop-color="#52009b"/><stop offset="1" stop-color="#520099"/></linearGradient><linearGradient id="c26" gradientUnits="userSpaceOnUse" x1="10.7" y1="67.4" x2="22.5" y2="141.3"><stop offset="0" stop-color="#6201cd"/><stop offset=".584" stop-color="#6501d5"/><stop offset=".668" stop-color="#6501d5"/><stop offset=".736" stop-color="#6301cf"/><stop offset=".773" stop-color="#5b01b6"/><stop offset=".8" stop-color="#5800ac"/><stop offset=".929" stop-color="#5600a7"/><stop offset=".952" stop-color="#5500a5"/><stop offset=".978" stop-color="#52009b"/><stop offset="1" stop-color="#520099"/></linearGradient><linearGradient id="c25" gradientUnits="userSpaceOnUse" x1="10.7" y1="67.6" x2="22.5" y2="141.3"><stop offset="0" stop-color="#6001c8"/><stop offset=".424" stop-color="#6001c6"/><stop offset=".654" stop-color="#6101c9"/><stop offset=".698" stop-color="#6001c8"/><stop offset=".745" stop-color="#5e01c1"/><stop offset=".778" stop-color="#5800ac"/><stop offset=".804" stop-color="#5500a4"/><stop offset=".848" stop-color="#5400a1"/><stop offset=".933" stop-color="#5400a1"/><stop offset="1" stop-color="#520099"/></linearGradient><linearGradient id="c24" gradientUnits="userSpaceOnUse" x1="10.8" y1="67.8" x2="22.5" y2="141.3"><stop offset="0" stop-color="#5f01c4"/><stop offset=".494" stop-color="#5c01b9"/><stop offset=".662" stop-color="#5d01bc"/><stop offset=".729" stop-color="#5b01b7"/><stop offset=".754" stop-color="#5900b1"/><stop offset=".806" stop-color="#54009f"/><stop offset=".934" stop-color="#53009d"/><stop offset="1" stop-color="#520099"/></linearGradient><linearGradient id="c23" gradientUnits="userSpaceOnUse" x1="10.7" y1="67.6" x2="22.4" y2="141.1"><stop offset="0" stop-color="#6101c8"/><stop offset=".433" stop-color="#5c01ba"/><stop offset=".687" stop-color="#5c01bb"/><stop offset=".732" stop-color="#5b01b7"/><stop offset=".783" stop-color="#5600a8"/><stop offset=".828" stop-color="#5500a3"/><stop offset=".934" stop-color="#5500a3"/><stop offset="1" stop-color="#54009f"/></linearGradient><linearGradient id="c22" gradientUnits="userSpaceOnUse" x1="10.7" y1="67.2" x2="22.3" y2="140.5"><stop offset="0" stop-color="#6301d0"/><stop offset=".395" stop-color="#5d01be"/><stop offset=".692" stop-color="#5d01be"/><stop offset=".737" stop-color="#5c01ba"/><stop offset=".785" stop-color="#5900b0"/><stop offset="1" stop-color="#5800ad"/></linearGradient><linearGradient id="c21" gradientUnits="userSpaceOnUse" x1="10.6" y1="66.7" x2="22.2" y2="140"><stop offset="0" stop-color="#6601d8"/><stop offset=".397" stop-color="#6001c5"/><stop offset=".569" stop-color="#5f01c3"/><stop offset=".674" stop-color="#5f01c4"/><stop offset=".741" stop-color="#5e01c0"/><stop offset=".766" stop-color="#5c01bb"/><stop offset="1" stop-color="#5c01ba"/></linearGradient><linearGradient id="c20" gradientUnits="userSpaceOnUse" x1="10.5" y1="66.2" x2="22.1" y2="139.3"><stop offset="0" stop-color="#6a01e1"/><stop offset=".442" stop-color="#6201cd"/><stop offset=".698" stop-color="#6201cd"/><stop offset=".743" stop-color="#6101c9"/><stop offset=".767" stop-color="#6001c5"/><stop offset=".83" stop-color="#6101c8"/><stop offset="1" stop-color="#6101c8"/></linearGradient><linearGradient id="c19" gradientUnits="userSpaceOnUse" x1="10.4" y1="65.5" x2="22" y2="138.6"><stop offset="0" stop-color="#6e02ea"/><stop offset=".485" stop-color="#6601d8"/><stop offset=".699" stop-color="#6601d8"/><stop offset=".743" stop-color="#6501d6"/><stop offset=".767" stop-color="#6401d2"/><stop offset=".787" stop-color="#6501d5"/><stop offset="1" stop-color="#6501d5"/></linearGradient><linearGradient id="c18" gradientUnits="userSpaceOnUse" x1="10.3" y1="64.9" x2="21.9" y2="137.9"><stop offset="0" stop-color="#7202f2"/><stop offset=".484" stop-color="#6b01e5"/><stop offset=".72" stop-color="#6b01e4"/><stop offset=".766" stop-color="#6901e0"/><stop offset=".828" stop-color="#6a01e1"/><stop offset="1" stop-color="#6a01e1"/></linearGradient><linearGradient id="c17" gradientUnits="userSpaceOnUse" x1="10.2" y1="64.1" x2="21.8" y2="137.1"><stop offset="0" stop-color="#7603f9"/><stop offset="1" stop-color="#6f02ec"/></linearGradient><linearGradient id="c16" gradientUnits="userSpaceOnUse" x1="10.1" y1="63.3" x2="21.6" y2="136.1"><stop offset="0" stop-color="#7b03fd"/><stop offset=".782" stop-color="#7603f9"/><stop offset="1" stop-color="#7502f7"/></linearGradient><linearGradient id="c15" gradientUnits="userSpaceOnUse" x1="10" y1="62.6" x2="21.5" y2="135.1"><stop offset="0" stop-color="#7e04ff"/><stop offset="1" stop-color="#7a03fd"/></linearGradient><linearGradient id="c12" gradientUnits="userSpaceOnUse" x1="9.7" y1="60.9" x2="21" y2="132.1"><stop offset="0" stop-color="#8706fa"/><stop offset=".785" stop-color="#8806f9"/><stop offset="1" stop-color="#8a06f7"/></linearGradient><linearGradient id="c11" gradientUnits="userSpaceOnUse" x1="9.6" y1="60.3" x2="20.8" y2="131.1"><stop offset="0" stop-color="#8a06f7"/><stop offset=".745" stop-color="#8b07f4"/><stop offset=".827" stop-color="#8d07f0"/><stop offset="1" stop-color="#8e08ed"/></linearGradient><linearGradient id="c10" gradientUnits="userSpaceOnUse" x1="9.5" y1="59.9" x2="20.7" y2="130.4"><stop offset="0" stop-color="#8c07f3"/><stop offset=".615" stop-color="#8d07ef"/><stop offset=".724" stop-color="#8d07ef"/><stop offset=".826" stop-color="#9008e7"/><stop offset=".979" stop-color="#9109e5"/><stop offset="1" stop-color="#9109e4"/></linearGradient><linearGradient id="c9" gradientUnits="userSpaceOnUse" x1="9.5" y1="59.7" x2="20.7" y2="130"><stop offset="0" stop-color="#8d07f0"/><stop offset=".724" stop-color="#8f08ea"/><stop offset=".765" stop-color="#9008e8"/><stop offset=".804" stop-color="#9209e2"/><stop offset="1" stop-color="#9309de"/></linearGradient><linearGradient id="c8" gradientUnits="userSpaceOnUse" x1="9.5" y1="59.7" x2="20.7" y2="130.1"><stop offset="0" stop-color="#8d07f0"/><stop offset=".745" stop-color="#8f08ea"/><stop offset=".804" stop-color="#9209e2"/><stop offset=".979" stop-color="#9209e0"/><stop offset="1" stop-color="#9309df"/></linearGradient><linearGradient id="c7" gradientUnits="userSpaceOnUse" x1="9.5" y1="59.8" x2="20.8" y2="130.6"><stop offset="0" stop-color="#8c07f2"/><stop offset=".546" stop-color="#8d07ee"/><stop offset=".743" stop-color="#8e08ee"/><stop offset=".803" stop-color="#9008e8"/><stop offset="1" stop-color="#9008e7"/></linearGradient><linearGradient id="c6" gradientUnits="userSpaceOnUse" x1="9.5" y1="60.1" x2="20.9" y2="131.4"><stop offset="0" stop-color="#8b07f4"/><stop offset=".763" stop-color="#8c07f3"/><stop offset=".825" stop-color="#8d07f0"/><stop offset="1" stop-color="#8d07f1"/></linearGradient><linearGradient id="c4" gradientUnits="userSpaceOnUse" x1="9.6" y1="60.7" x2="21.1" y2="132.7"><stop offset="0" stop-color="#8806f9"/><stop offset=".826" stop-color="#8706fb"/><stop offset="1" stop-color="#8605fb"/></linearGradient><linearGradient id="c3" gradientUnits="userSpaceOnUse" x1="9.7" y1="61" x2="21.2" y2="133.1"><stop offset="0" stop-color="#8705fb"/><stop offset="1" stop-color="#8405fd"/></linearGradient><linearGradient id="d86" gradientUnits="userSpaceOnUse" x1="10.1" y1="63.6" x2="18.5" y2="116.6"><stop offset="0" stop-color="#7903fc"/><stop offset=".943" stop-color="#8104ff"/><stop offset="1" stop-color="#8104ff"/></linearGradient><linearGradient id="d85" gradientUnits="userSpaceOnUse" x1="10.1" y1="63.3" x2="20" y2="126"><stop offset="0" stop-color="#7b03fd"/><stop offset=".415" stop-color="#7d04ff"/><stop offset=".949" stop-color="#8104ff"/><stop offset="1" stop-color="#8104ff"/></linearGradient><linearGradient id="d84" gradientUnits="userSpaceOnUse" x1="9.9" y1="62.5" x2="20.8" y2="131"><stop offset="0" stop-color="#7f04ff"/><stop offset=".928" stop-color="#8104ff"/><stop offset="1" stop-color="#8004ff"/></linearGradient><linearGradient id="d83" gradientUnits="userSpaceOnUse" x1="9.9" y1="62.1" x2="20.8" y2="131"><stop offset="0" stop-color="#8104ff"/><stop offset=".928" stop-color="#8104ff"/><stop offset="1" stop-color="#8004ff"/><stop offset="1" stop-color="#990cc3"/></linearGradient><linearGradient id="d82" gradientUnits="userSpaceOnUse" x1="9.8" y1="61.9" x2="20.8" y2="131"><stop offset="0" stop-color="#8204ff"/><stop offset=".929" stop-color="#8104ff"/><stop offset="1" stop-color="#8004ff"/><stop offset="1" stop-color="#990cc3"/></linearGradient><linearGradient id="d81" gradientUnits="userSpaceOnUse" x1="9.9" y1="62.1" x2="20.8" y2="131"><stop offset="0" stop-color="#8104ff"/><stop offset="1" stop-color="#8004ff"/><stop offset="1" stop-color="#990cc3"/></linearGradient><linearGradient id="d80" gradientUnits="userSpaceOnUse" x1="9.9" y1="62" x2="20.8" y2="130.7"><stop offset="0" stop-color="#8104ff"/><stop offset="1" stop-color="#8104ff"/><stop offset="1" stop-color="#990cc3"/></linearGradient><linearGradient id="d79" gradientUnits="userSpaceOnUse" x1="9.4" y1="59.3" x2="20.5" y2="129.2"><stop offset="0" stop-color="#8e08ec"/><stop offset=".274" stop-color="#8c07f1"/><stop offset=".925" stop-color="#8b07f4"/><stop offset="1" stop-color="#8806f8"/><stop offset="1" stop-color="#990cc3"/></linearGradient><linearGradient id="d78" gradientUnits="userSpaceOnUse" x1="9.3" y1="58.3" x2="20.4" y2="128.6"><stop offset="0" stop-color="#9309dd"/><stop offset=".229" stop-color="#9109e5"/><stop offset=".899" stop-color="#8f08ea"/><stop offset=".973" stop-color="#8d07f0"/><stop offset="1" stop-color="#8b07f4"/><stop offset="1" stop-color="#990cc3"/></linearGradient><linearGradient id="d77" gradientUnits="userSpaceOnUse" x1="9.1" y1="57.4" x2="20.4" y2="128.1"><stop offset="0" stop-color="#970bcd"/><stop offset=".184" stop-color="#950ad7"/><stop offset=".874" stop-color="#9209e0"/><stop offset=".945" stop-color="#9109e5"/><stop offset="1" stop-color="#8d07ef"/><stop offset="1" stop-color="#990cc3"/></linearGradient><linearGradient id="d76" gradientUnits="userSpaceOnUse" x1="9" y1="56.5" x2="20.3" y2="127.6"><stop offset="0" stop-color="#9b0dbb"/><stop offset=".185" stop-color="#980bc9"/><stop offset=".872" stop-color="#950ad4"/><stop offset=".944" stop-color="#940adb"/><stop offset="1" stop-color="#9008e8"/><stop offset="1" stop-color="#990cc3"/></linearGradient><linearGradient id="d75" gradientUnits="userSpaceOnUse" x1="8.8" y1="55.6" x2="20.2" y2="127.1"><stop offset="0" stop-color="#9f0fa7"/><stop offset=".162" stop-color="#9c0db7"/><stop offset=".406" stop-color="#9a0dbe"/><stop offset=".848" stop-color="#990cc6"/><stop offset=".917" stop-color="#980bcb"/><stop offset=".97" stop-color="#940ad8"/><stop offset="1" stop-color="#9209e1"/><stop offset="1" stop-color="#990cc3"/></linearGradient><linearGradient id="d74" gradientUnits="userSpaceOnUse" x1="8.7" y1="54.7" x2="20.2" y2="127"><stop offset="0" stop-color="#a2118f"/><stop offset=".139" stop-color="#9f0fa2"/><stop offset=".251" stop-color="#9e0fa9"/><stop offset=".819" stop-color="#9c0db6"/><stop offset=".91" stop-color="#9a0dbd"/><stop offset=".964" stop-color="#970bcd"/><stop offset=".995" stop-color="#940ad9"/><stop offset="1" stop-color="#990cc3"/></linearGradient><linearGradient id="d73" gradientUnits="userSpaceOnUse" x1="8.6" y1="53.8" x2="20.2" y2="127"><stop offset="0" stop-color="#a61377"/><stop offset=".139" stop-color="#a3118d"/><stop offset=".271" stop-color="#a11096"/><stop offset=".79" stop-color="#9f0fa4"/><stop offset=".879" stop-color="#9e0eaa"/><stop offset=".928" stop-color="#9c0db5"/><stop offset=".988" stop-color="#960bd0"/><stop offset="1" stop-color="#990cc3"/></linearGradient><linearGradient id="d72" gradientUnits="userSpaceOnUse" x1="8.4" y1="52.9" x2="20.2" y2="127"><stop offset="0" stop-color="#a9165c"/><stop offset=".16" stop-color="#a61379"/><stop offset=".334" stop-color="#a41283"/><stop offset=".761" stop-color="#a21190"/><stop offset=".848" stop-color="#a11095"/><stop offset=".894" stop-color="#a0109d"/><stop offset=".92" stop-color="#9f0fa5"/><stop offset=".981" stop-color="#990cc6"/><stop offset="1" stop-color="#990cc3"/><stop offset="1" stop-color="#b01b2a"/></linearGradient><linearGradient id="d71" gradientUnits="userSpaceOnUse" x1="8.3" y1="52" x2="20.2" y2="127"><stop offset="0" stop-color="#ad193f"/><stop offset=".115" stop-color="#aa1659"/><stop offset=".203" stop-color="#a81565"/><stop offset=".521" stop-color="#a61473"/><stop offset=".775" stop-color="#a5137c"/><stop offset=".863" stop-color="#a41285"/><stop offset=".886" stop-color="#a3118b"/><stop offset=".912" stop-color="#a11095"/><stop offset=".974" stop-color="#9b0dbb"/><stop offset="1" stop-color="#990cc3"/><stop offset="1" stop-color="#b01b2a"/></linearGradient><linearGradient id="d70" gradientUnits="userSpaceOnUse" x1="8.1" y1="51.1" x2="20.2" y2="127"><stop offset="0" stop-color="#b11c21"/><stop offset=".114" stop-color="#ad193e"/><stop offset=".202" stop-color="#ab184c"/><stop offset=".371" stop-color="#aa1755"/><stop offset=".768" stop-color="#a81566"/><stop offset=".855" stop-color="#a71470"/><stop offset=".878" stop-color="#a61377"/><stop offset=".904" stop-color="#a41282"/><stop offset="1" stop-color="#990cc3"/><stop offset="1" stop-color="#b01b2a"/></linearGradient><linearGradient id="d69" gradientUnits="userSpaceOnUse" x1="8" y1="50.1" x2="20.2" y2="126.9"><stop offset="0" stop-color="#b42002"/><stop offset=".114" stop-color="#b01c22"/><stop offset=".18" stop-color="#af1b2f"/><stop offset=".348" stop-color="#ad193b"/><stop offset=".742" stop-color="#ab174d"/><stop offset=".826" stop-color="#aa1756"/><stop offset=".849" stop-color="#aa165a"/><stop offset=".898" stop-color="#a7146e"/><stop offset="1" stop-color="#9a0cc0"/><stop offset="1" stop-color="#b01b2a"/></linearGradient><linearGradient id="d68" gradientUnits="userSpaceOnUse" x1="7.8" y1="49.2" x2="20.1" y2="126.4"><stop offset="0" stop-color="#b82400"/><stop offset=".092" stop-color="#b42000"/><stop offset=".18" stop-color="#b21e13"/><stop offset=".306" stop-color="#b11c1e"/><stop offset=".718" stop-color="#ae1a33"/><stop offset=".802" stop-color="#ae193b"/><stop offset=".846" stop-color="#ad1843"/><stop offset=".869" stop-color="#ac184b"/><stop offset=".895" stop-color="#aa1659"/><stop offset="1" stop-color="#9c0db6"/><stop offset="1" stop-color="#b01b2a"/></linearGradient><linearGradient id="d67" gradientUnits="userSpaceOnUse" x1="7.7" y1="48.1" x2="20" y2="126"><stop offset="0" stop-color="#bb2800"/><stop offset=".202" stop-color="#b52100"/><stop offset=".306" stop-color="#b42001"/><stop offset=".736" stop-color="#b11d1a"/><stop offset=".82" stop-color="#b01c24"/><stop offset=".866" stop-color="#ae1a33"/><stop offset=".893" stop-color="#ad1843"/><stop offset=".925" stop-color="#a91560"/><stop offset="1" stop-color="#9e0eab"/><stop offset="1" stop-color="#b01b2a"/></linearGradient><linearGradient id="d66" gradientUnits="userSpaceOnUse" x1="7.5" y1="47.1" x2="19.9" y2="125.5"><stop offset="0" stop-color="#bf2d00"/><stop offset=".223" stop-color="#b82400"/><stop offset=".754" stop-color="#b42001"/><stop offset=".817" stop-color="#b31f0a"/><stop offset=".84" stop-color="#b31e10"/><stop offset=".863" stop-color="#b11d1a"/><stop offset=".89" stop-color="#af1b2b"/><stop offset=".959" stop-color="#a61472"/><stop offset="1" stop-color="#a00f9f"/><stop offset="1" stop-color="#b01b2a"/></linearGradient><linearGradient id="d65" gradientUnits="userSpaceOnUse" x1="7.3" y1="46" x2="19.9" y2="125"><stop offset="0" stop-color="#c23200"/><stop offset=".223" stop-color="#bb2800"/><stop offset=".814" stop-color="#b62200"/><stop offset=".86" stop-color="#b42000"/><stop offset=".887" stop-color="#b21e12"/><stop offset=".958" stop-color="#a91560"/><stop offset="1" stop-color="#a21192"/><stop offset="1" stop-color="#b01b2a"/></linearGradient><linearGradient id="d64" gradientUnits="userSpaceOnUse" x1="7.2" y1="45" x2="19.8" y2="124.5"><stop offset="0" stop-color="#c63800"/><stop offset=".181" stop-color="#c02e00"/><stop offset=".834" stop-color="#b92500"/><stop offset=".885" stop-color="#b52100"/><stop offset=".919" stop-color="#b11c20"/><stop offset="1" stop-color="#a41285"/><stop offset="1" stop-color="#b01b2a"/></linearGradient><linearGradient id="d63" gradientUnits="userSpaceOnUse" x1="7" y1="43.9" x2="19.7" y2="124"><stop offset="0" stop-color="#ca3e00"/><stop offset=".181" stop-color="#c33300"/><stop offset=".808" stop-color="#bc2900"/><stop offset=".882" stop-color="#b82400"/><stop offset=".917" stop-color="#b31f09"/><stop offset="1" stop-color="#a61377"/><stop offset="1" stop-color="#b01b2a"/></linearGradient><linearGradient id="d62" gradientUnits="userSpaceOnUse" x1="6.8" y1="42.9" x2="19.6" y2="123.5"><stop offset="0" stop-color="#cd4500"/><stop offset=".16" stop-color="#c63900"/><stop offset=".364" stop-color="#c43400"/><stop offset=".805" stop-color="#bf2d00"/><stop offset=".88" stop-color="#bb2700"/><stop offset=".915" stop-color="#b62100"/><stop offset=".955" stop-color="#b01b28"/><stop offset="1" stop-color="#a81569"/><stop offset="1" stop-color="#b01b2a"/></linearGradient><linearGradient id="d61" gradientUnits="userSpaceOnUse" x1="6.6" y1="41.7" x2="19.6" y2="123.1"><stop offset="0" stop-color="#d14d00"/><stop offset=".16" stop-color="#ca3f00"/><stop offset=".402" stop-color="#c73900"/><stop offset=".78" stop-color="#c33300"/><stop offset=".848" stop-color="#c02f00"/><stop offset=".912" stop-color="#b92500"/><stop offset=".953" stop-color="#b21e12"/><stop offset=".999" stop-color="#aa1658"/><stop offset="1" stop-color="#b01b2a"/></linearGradient><linearGradient id="d60" gradientUnits="userSpaceOnUse" x1="6.4" y1="40.2" x2="19.6" y2="123.1"><stop offset="0" stop-color="#d55800"/><stop offset=".159" stop-color="#ce4700"/><stop offset=".475" stop-color="#ca3f00"/><stop offset=".77" stop-color="#c73900"/><stop offset=".837" stop-color="#c43400"/><stop offset=".943" stop-color="#b52100"/><stop offset=".991" stop-color="#ac1843"/><stop offset="1" stop-color="#b01b2a"/></linearGradient><linearGradient id="d59" gradientUnits="userSpaceOnUse" x1="6.1" y1="38.5" x2="19.6" y2="123.1"><stop offset="0" stop-color="#db6500"/><stop offset=".137" stop-color="#d45400"/><stop offset=".219" stop-color="#d14e00"/><stop offset=".759" stop-color="#cb4100"/><stop offset=".825" stop-color="#c83b00"/><stop offset=".854" stop-color="#c53700"/><stop offset=".933" stop-color="#b92500"/><stop offset=".982" stop-color="#af1b2b"/><stop offset="1" stop-color="#b01b2a"/></linearGradient><linearGradient id="d58" gradientUnits="userSpaceOnUse" x1="5.9" y1="37" x2="19.6" y2="123.1"><stop offset="0" stop-color="#df7200"/><stop offset=".157" stop-color="#d75c00"/><stop offset=".332" stop-color="#d45400"/><stop offset=".749" stop-color="#cf4900"/><stop offset=".815" stop-color="#cc4200"/><stop offset=".882" stop-color="#c33300"/><stop offset=".925" stop-color="#bc2900"/><stop offset=".974" stop-color="#b21d15"/><stop offset="1" stop-color="#b01b2a"/></linearGradient><linearGradient id="d57" gradientUnits="userSpaceOnUse" x1="5.7" y1="35.6" x2="19.6" y2="123.1"><stop offset="0" stop-color="#e37f00"/><stop offset=".156" stop-color="#db6600"/><stop offset=".329" stop-color="#d85d00"/><stop offset=".721" stop-color="#d35200"/><stop offset=".806" stop-color="#cf4900"/><stop offset=".873" stop-color="#c63800"/><stop offset=".967" stop-color="#b42000"/><stop offset="1" stop-color="#b01b2a"/></linearGradient><linearGradient id="d56" gradientUnits="userSpaceOnUse" x1="5.5" y1="34.4" x2="19.6" y2="123.1"><stop offset="0" stop-color="#e78c00"/><stop offset=".135" stop-color="#df7300"/><stop offset=".234" stop-color="#dc6a00"/><stop offset=".695" stop-color="#d75a00"/><stop offset=".774" stop-color="#d45400"/><stop offset=".827" stop-color="#cf4900"/><stop offset=".961" stop-color="#b72200"/><stop offset="1" stop-color="#b01b2a"/></linearGradient><linearGradient id="d55" gradientUnits="userSpaceOnUse" x1="5.3" y1="33.1" x2="19.6" y2="123.1"><stop offset="0" stop-color="#ea9900"/><stop offset=".134" stop-color="#e37d00"/><stop offset=".232" stop-color="#df7400"/><stop offset=".726" stop-color="#d96000"/><stop offset=".791" stop-color="#d55700"/><stop offset=".859" stop-color="#cc4200"/><stop offset=".955" stop-color="#b92500"/><stop offset="1" stop-color="#b01b2a"/></linearGradient><linearGradient id="d54" gradientUnits="userSpaceOnUse" x1="5.1" y1="32" x2="19.6" y2="123.1"><stop offset="0" stop-color="#eea700"/><stop offset=".134" stop-color="#e68800"/><stop offset=".231" stop-color="#e37d00"/><stop offset=".681" stop-color="#dc6a00"/><stop offset=".76" stop-color="#da6300"/><stop offset=".812" stop-color="#d55500"/><stop offset=".897" stop-color="#c63700"/><stop offset=".95" stop-color="#ba2700"/><stop offset="1" stop-color="#b01b2a"/></linearGradient><linearGradient id="d53" gradientUnits="userSpaceOnUse" x1="4.9" y1="30.9" x2="19.6" y2="123.1"><stop offset="0" stop-color="#f0b300"/><stop offset=".112" stop-color="#e99600"/><stop offset=".193" stop-color="#e68900"/><stop offset=".462" stop-color="#e27b00"/><stop offset=".676" stop-color="#df7200"/><stop offset=".754" stop-color="#dc6900"/><stop offset=".807" stop-color="#d75b00"/><stop offset=".892" stop-color="#c83b00"/><stop offset=".946" stop-color="#bc2900"/><stop offset="1" stop-color="#b01b2a"/></linearGradient><linearGradient id="d52" gradientUnits="userSpaceOnUse" x1="4.6" y1="29" x2="19.6" y2="123.1"><stop offset="0" stop-color="#f6cc00"/><stop offset=".09" stop-color="#f0b000"/><stop offset=".153" stop-color="#eca100"/><stop offset=".228" stop-color="#ea9800"/><stop offset=".667" stop-color="#e38000"/><stop offset=".744" stop-color="#e07600"/><stop offset=".797" stop-color="#db6600"/><stop offset=".883" stop-color="#cb4100"/><stop offset=".938" stop-color="#bf2d00"/><stop offset="1" stop-color="#b01b2a"/></linearGradient><linearGradient id="d51" gradientUnits="userSpaceOnUse" x1="4.7" y1="29.8" x2="19.6" y2="123.3"><stop offset="0" stop-color="#f4c200"/><stop offset=".132" stop-color="#eb9d00"/><stop offset=".21" stop-color="#e89200"/><stop offset=".474" stop-color="#e58400"/><stop offset=".668" stop-color="#e27b00"/><stop offset=".745" stop-color="#df7200"/><stop offset=".797" stop-color="#da6200"/><stop offset=".884" stop-color="#ca3f00"/><stop offset=".938" stop-color="#be2c00"/><stop offset="1" stop-color="#af1a30"/></linearGradient><linearGradient id="d50" gradientUnits="userSpaceOnUse" x1="4.9" y1="30.8" x2="19.7" y2="123.6"><stop offset="0" stop-color="#f1b500"/><stop offset=".111" stop-color="#ea9800"/><stop offset=".172" stop-color="#e78d00"/><stop offset=".3" stop-color="#e48300"/><stop offset=".671" stop-color="#df7300"/><stop offset=".727" stop-color="#de6e00"/><stop offset=".772" stop-color="#db6500"/><stop offset=".84" stop-color="#d04c00"/><stop offset=".939" stop-color="#bc2900"/><stop offset="1" stop-color="#ad193c"/></linearGradient><linearGradient id="d49" gradientUnits="userSpaceOnUse" x1="5.1" y1="31.9" x2="19.7" y2="124"><stop offset="0" stop-color="#eea700"/><stop offset=".132" stop-color="#e68800"/><stop offset=".21" stop-color="#e37f00"/><stop offset=".495" stop-color="#df7200"/><stop offset=".674" stop-color="#dd6b00"/><stop offset=".752" stop-color="#da6300"/><stop offset=".804" stop-color="#d55600"/><stop offset=".94" stop-color="#bb2700"/><stop offset="1" stop-color="#ac1848"/></linearGradient><linearGradient id="d48" gradientUnits="userSpaceOnUse" x1="5.3" y1="33.1" x2="19.8" y2="124.4"><stop offset="0" stop-color="#ea9a00"/><stop offset=".111" stop-color="#e48200"/><stop offset=".172" stop-color="#e17800"/><stop offset=".372" stop-color="#de6e00"/><stop offset=".696" stop-color="#d96200"/><stop offset=".755" stop-color="#d75c00"/><stop offset=".807" stop-color="#d25000"/><stop offset=".89" stop-color="#c43400"/><stop offset=".941" stop-color="#b92500"/><stop offset="1" stop-color="#aa1754"/></linearGradient><linearGradient id="d47" gradientUnits="userSpaceOnUse" x1="5.5" y1="34.3" x2="19.8" y2="124.8"><stop offset="0" stop-color="#e78d00"/><stop offset=".132" stop-color="#df7300"/><stop offset=".229" stop-color="#dc6a00"/><stop offset=".699" stop-color="#d65a00"/><stop offset=".782" stop-color="#d25100"/><stop offset=".892" stop-color="#c13000"/><stop offset=".942" stop-color="#b72200"/><stop offset="1" stop-color="#a91660"/></linearGradient><linearGradient id="d46" gradientUnits="userSpaceOnUse" x1="5.7" y1="35.7" x2="19.9" y2="125.2"><stop offset="0" stop-color="#e37f00"/><stop offset=".111" stop-color="#dd6c00"/><stop offset=".192" stop-color="#da6300"/><stop offset=".393" stop-color="#d75b00"/><stop offset=".703" stop-color="#d35200"/><stop offset=".786" stop-color="#cf4a00"/><stop offset=".894" stop-color="#bf2d00"/><stop offset=".944" stop-color="#b42000"/><stop offset="1" stop-color="#a7146d"/></linearGradient><linearGradient id="d45" gradientUnits="userSpaceOnUse" x1="5.9" y1="37" x2="20" y2="125.7"><stop offset="0" stop-color="#df7200"/><stop offset=".152" stop-color="#d75c00"/><stop offset=".322" stop-color="#d45400"/><stop offset=".688" stop-color="#d04b00"/><stop offset=".767" stop-color="#ce4600"/><stop offset=".818" stop-color="#c93d00"/><stop offset=".897" stop-color="#bc2900"/><stop offset=".945" stop-color="#b21e13"/><stop offset="1" stop-color="#a5137a"/></linearGradient><linearGradient id="d44" gradientUnits="userSpaceOnUse" x1="6.1" y1="38.5" x2="20.1" y2="126.2"><stop offset="0" stop-color="#db6600"/><stop offset=".152" stop-color="#d35200"/><stop offset=".36" stop-color="#d04b00"/><stop offset=".731" stop-color="#cc4200"/><stop offset=".795" stop-color="#c83c00"/><stop offset=".859" stop-color="#c02f00"/><stop offset=".9" stop-color="#b92500"/><stop offset=".947" stop-color="#b01b29"/><stop offset="1" stop-color="#a31287"/></linearGradient><linearGradient id="d43" gradientUnits="userSpaceOnUse" x1="6.3" y1="39.9" x2="20.1" y2="126.6"><stop offset="0" stop-color="#d65a00"/><stop offset=".152" stop-color="#cf4900"/><stop offset=".38" stop-color="#cc4200"/><stop offset=".736" stop-color="#c83b00"/><stop offset=".8" stop-color="#c53600"/><stop offset=".902" stop-color="#b62200"/><stop offset=".948" stop-color="#ad193e"/><stop offset="1" stop-color="#a11095"/></linearGradient><linearGradient id="d42" gradientUnits="userSpaceOnUse" x1="6.6" y1="41.3" x2="20.2" y2="127.1"><stop offset="0" stop-color="#d24f00"/><stop offset=".153" stop-color="#cb4100"/><stop offset=".42" stop-color="#c73a00"/><stop offset=".741" stop-color="#c43400"/><stop offset=".805" stop-color="#c13000"/><stop offset=".867" stop-color="#b92600"/><stop offset=".905" stop-color="#b31e0c"/><stop offset=".95" stop-color="#aa1754"/><stop offset="1" stop-color="#9f0fa1"/></linearGradient><linearGradient id="d41" gradientUnits="userSpaceOnUse" x1="6.8" y1="42.6" x2="20.3" y2="127.6"><stop offset="0" stop-color="#ce4600"/><stop offset=".173" stop-color="#c73900"/><stop offset=".787" stop-color="#bf2d00"/><stop offset=".836" stop-color="#bb2800"/><stop offset=".87" stop-color="#b62200"/><stop offset=".908" stop-color="#b01c24"/><stop offset=".951" stop-color="#a81566"/><stop offset="1" stop-color="#9e0eac"/></linearGradient><linearGradient id="d40" gradientUnits="userSpaceOnUse" x1="6.9" y1="43.7" x2="20.3" y2="127.9"><stop offset="0" stop-color="#ca4000"/><stop offset=".153" stop-color="#c43400"/><stop offset=".791" stop-color="#bc2900"/><stop offset=".839" stop-color="#b92500"/><stop offset=".873" stop-color="#b42003"/><stop offset=".91" stop-color="#ae1a36"/><stop offset=".952" stop-color="#a61474"/><stop offset="1" stop-color="#9c0db4"/></linearGradient><linearGradient id="d39" gradientUnits="userSpaceOnUse" x1="7.1" y1="44.7" x2="20.4" y2="128.3"><stop offset="0" stop-color="#c73a00"/><stop offset=".194" stop-color="#c02e00"/><stop offset=".795" stop-color="#b92500"/><stop offset=".842" stop-color="#b62200"/><stop offset=".875" stop-color="#b21d18"/><stop offset=".954" stop-color="#a41282"/><stop offset="1" stop-color="#9b0dbc"/></linearGradient><linearGradient id="d38" gradientUnits="userSpaceOnUse" x1="7.3" y1="45.7" x2="20.5" y2="128.7"><stop offset="0" stop-color="#c43400"/><stop offset=".194" stop-color="#bc2900"/><stop offset=".799" stop-color="#b62200"/><stop offset=".821" stop-color="#b52100"/><stop offset=".846" stop-color="#b31f0b"/><stop offset=".878" stop-color="#af1b2e"/><stop offset=".914" stop-color="#aa165a"/><stop offset=".955" stop-color="#a21190"/><stop offset="1" stop-color="#990cc4"/></linearGradient><linearGradient id="d37" gradientUnits="userSpaceOnUse" x1="7.4" y1="46.8" x2="20.5" y2="129"><stop offset="0" stop-color="#c02e00"/><stop offset=".235" stop-color="#b82400"/><stop offset=".665" stop-color="#b42000"/><stop offset=".783" stop-color="#b31f0b"/><stop offset=".804" stop-color="#b31e0f"/><stop offset=".825" stop-color="#b21d17"/><stop offset=".85" stop-color="#b01c26"/><stop offset=".881" stop-color="#ac1846"/><stop offset=".956" stop-color="#a0109e"/><stop offset="1" stop-color="#970bcc"/></linearGradient><linearGradient id="d36" gradientUnits="userSpaceOnUse" x1="7.6" y1="47.9" x2="20.6" y2="129.5"><stop offset="0" stop-color="#bc2900"/><stop offset=".215" stop-color="#b52000"/><stop offset=".275" stop-color="#b42002"/><stop offset=".67" stop-color="#b11c21"/><stop offset=".788" stop-color="#af1b2c"/><stop offset=".831" stop-color="#ae1a36"/><stop offset=".855" stop-color="#ac1844"/><stop offset=".885" stop-color="#a91660"/><stop offset=".958" stop-color="#9e0ead"/><stop offset="1" stop-color="#950ad4"/></linearGradient><linearGradient id="d35" gradientUnits="userSpaceOnUse" x1="7.8" y1="49.1" x2="20.7" y2="129.9"><stop offset="0" stop-color="#b82400"/><stop offset=".089" stop-color="#b42001"/><stop offset=".154" stop-color="#b21e14"/><stop offset=".256" stop-color="#b01c23"/><stop offset=".535" stop-color="#ae193a"/><stop offset=".674" stop-color="#ac1844"/><stop offset=".815" stop-color="#ab1752"/><stop offset=".837" stop-color="#aa1658"/><stop offset=".861" stop-color="#a81564"/><stop offset=".923" stop-color="#a11099"/><stop offset=".96" stop-color="#9b0dbc"/><stop offset="1" stop-color="#930adc"/></linearGradient><linearGradient id="d34" gradientUnits="userSpaceOnUse" x1="8" y1="50.4" x2="20.7" y2="130.4"><stop offset="0" stop-color="#b31f0b"/><stop offset=".133" stop-color="#ae1a34"/><stop offset=".216" stop-color="#ad1843"/><stop offset=".479" stop-color="#aa165a"/><stop offset=".72" stop-color="#a7146c"/><stop offset=".822" stop-color="#a61376"/><stop offset=".844" stop-color="#a5137c"/><stop offset=".868" stop-color="#a41286"/><stop offset=".963" stop-color="#980bcb"/><stop offset="1" stop-color="#9109e4"/></linearGradient><linearGradient id="d33" gradientUnits="userSpaceOnUse" x1="8.2" y1="51.7" x2="20.8" y2="131"><stop offset="0" stop-color="#ae1a36"/><stop offset=".089" stop-color="#ab1750"/><stop offset=".175" stop-color="#a91562"/><stop offset=".299" stop-color="#a71470"/><stop offset=".788" stop-color="#a21094"/><stop offset=".83" stop-color="#a1109a"/><stop offset=".876" stop-color="#9e0fa7"/><stop offset=".965" stop-color="#940ada"/><stop offset="1" stop-color="#8f08eb"/></linearGradient><linearGradient id="d32" gradientUnits="userSpaceOnUse" x1="8.5" y1="53.3" x2="20.9" y2="131.6"><stop offset="0" stop-color="#a81565"/><stop offset=".111" stop-color="#a5127f"/><stop offset=".217" stop-color="#a2118f"/><stop offset=".795" stop-color="#9c0db6"/><stop offset=".86" stop-color="#9a0cbf"/><stop offset=".884" stop-color="#990cc5"/><stop offset="1" stop-color="#8c07f2"/></linearGradient><linearGradient id="d31" gradientUnits="userSpaceOnUse" x1="8.8" y1="55.1" x2="21" y2="132.3"><stop offset="0" stop-color="#a1109a"/><stop offset=".133" stop-color="#9d0eaf"/><stop offset=".239" stop-color="#9b0db9"/><stop offset=".844" stop-color="#950ad6"/><stop offset=".889" stop-color="#930adc"/><stop offset="1" stop-color="#8906f8"/></linearGradient><linearGradient id="d30" gradientUnits="userSpaceOnUse" x1="9.1" y1="57.5" x2="21.2" y2="133.2"><stop offset="0" stop-color="#970bcf"/><stop offset=".154" stop-color="#9309dd"/><stop offset=".642" stop-color="#8f08ec"/><stop offset=".876" stop-color="#8c07f2"/><stop offset="1" stop-color="#8405fd"/></linearGradient><linearGradient id="d29" gradientUnits="userSpaceOnUse" x1="9.5" y1="60" x2="21.3" y2="134.1"><stop offset="0" stop-color="#8b07f3"/><stop offset=".305" stop-color="#8806fa"/><stop offset=".931" stop-color="#8204ff"/><stop offset="1" stop-color="#7f04ff"/></linearGradient><linearGradient id="d28" gradientUnits="userSpaceOnUse" x1="9.9" y1="62.5" x2="21.5" y2="135"><stop offset="0" stop-color="#7f04ff"/><stop offset="1" stop-color="#7a03fd"/></linearGradient><linearGradient id="d27" gradientUnits="userSpaceOnUse" x1="10.3" y1="64.6" x2="21.6" y2="135.9"><stop offset="0" stop-color="#7302f4"/><stop offset=".92" stop-color="#7302f4"/><stop offset="1" stop-color="#7602f8"/></linearGradient><linearGradient id="d26" gradientUnits="userSpaceOnUse" x1="10.5" y1="65.8" x2="21.7" y2="136.6"><stop offset="0" stop-color="#6c01e7"/><stop offset=".372" stop-color="#6d02e8"/><stop offset=".9" stop-color="#6d02e9"/><stop offset=".981" stop-color="#7002ef"/><stop offset="1" stop-color="#7202f2"/></linearGradient><linearGradient id="d25" gradientUnits="userSpaceOnUse" x1="10.6" y1="66.6" x2="21.8" y2="137.3"><stop offset="0" stop-color="#6701da"/><stop offset=".394" stop-color="#6801de"/><stop offset=".899" stop-color="#6a01e1"/><stop offset=".981" stop-color="#6c02e7"/><stop offset="1" stop-color="#6e02ea"/></linearGradient><linearGradient id="d24" gradientUnits="userSpaceOnUse" x1="10.7" y1="67.4" x2="21.9" y2="137.9"><stop offset="0" stop-color="#6201cd"/><stop offset=".371" stop-color="#6401d3"/><stop offset=".897" stop-color="#6701d9"/><stop offset="1" stop-color="#6a01e1"/></linearGradient><linearGradient id="d23" gradientUnits="userSpaceOnUse" x1="10.8" y1="68" x2="22" y2="138.6"><stop offset="0" stop-color="#5e01c0"/><stop offset=".523" stop-color="#6101ca"/><stop offset=".894" stop-color="#6301d0"/><stop offset="1" stop-color="#6501d6"/></linearGradient><linearGradient id="d22" gradientUnits="userSpaceOnUse" x1="10.9" y1="68.4" x2="22.2" y2="139.3"><stop offset="0" stop-color="#5b01b7"/><stop offset="1" stop-color="#6001c7"/></linearGradient><linearGradient id="d21" gradientUnits="userSpaceOnUse" x1="10.7" y1="67.6" x2="22" y2="138.4"><stop offset="0" stop-color="#6001c8"/><stop offset=".979" stop-color="#6601d7"/><stop offset="1" stop-color="#6701d9"/></linearGradient><linearGradient id="d20" gradientUnits="userSpaceOnUse" x1="10.7" y1="67.1" x2="21.9" y2="137.5"><stop offset="0" stop-color="#6401d1"/><stop offset=".979" stop-color="#6b01e5"/><stop offset="1" stop-color="#6c01e6"/></linearGradient><linearGradient id="d19" gradientUnits="userSpaceOnUse" x1="10.6" y1="66.5" x2="21.7" y2="136.5"><stop offset="0" stop-color="#6801dc"/><stop offset=".979" stop-color="#7202f2"/><stop offset="1" stop-color="#7202f3"/></linearGradient><linearGradient id="d18" gradientUnits="userSpaceOnUse" x1="10.4" y1="65.7" x2="21.5" y2="135.2"><stop offset="0" stop-color="#6d02e8"/><stop offset=".805" stop-color="#7703fa"/><stop offset="1" stop-color="#7a03fc"/></linearGradient><linearGradient id="d17" gradientUnits="userSpaceOnUse" x1="10.3" y1="64.6" x2="21.3" y2="133.9"><stop offset="0" stop-color="#7302f5"/><stop offset=".63" stop-color="#7c03fe"/><stop offset="1" stop-color="#8004ff"/></linearGradient><linearGradient id="d16" gradientUnits="userSpaceOnUse" x1="10" y1="62.9" x2="21.1" y2="132.7"><stop offset="0" stop-color="#7d03fe"/><stop offset=".717" stop-color="#8405fe"/><stop offset="1" stop-color="#8605fb"/></linearGradient><linearGradient id="d15" gradientUnits="userSpaceOnUse" x1="9.7" y1="60.9" x2="20.9" y2="131.7"><stop offset="0" stop-color="#8706fa"/><stop offset="1" stop-color="#8b07f4"/></linearGradient><linearGradient id="d13" gradientUnits="userSpaceOnUse" x1="9.3" y1="58.4" x2="20.8" y2="130.6"><stop offset="0" stop-color="#9309df"/><stop offset="1" stop-color="#9108e6"/></linearGradient><linearGradient id="d12" gradientUnits="userSpaceOnUse" x1="9.2" y1="57.6" x2="20.7" y2="130.1"><stop offset="0" stop-color="#960bd1"/><stop offset="1" stop-color="#9209e0"/></linearGradient><linearGradient id="d11" gradientUnits="userSpaceOnUse" x1="9.1" y1="57" x2="20.6" y2="129.7"><stop offset="0" stop-color="#990cc5"/><stop offset="1" stop-color="#940ad9"/></linearGradient><linearGradient id="d10" gradientUnits="userSpaceOnUse" x1="9" y1="56.4" x2="20.6" y2="129.3"><stop offset="0" stop-color="#9c0db8"/><stop offset="1" stop-color="#960bd0"/></linearGradient><linearGradient id="d9" gradientUnits="userSpaceOnUse" x1="8.9" y1="55.8" x2="20.5" y2="128.8"><stop offset="0" stop-color="#9e0eab"/><stop offset="1" stop-color="#980cc8"/></linearGradient><linearGradient id="d8" gradientUnits="userSpaceOnUse" x1="8.8" y1="55.3" x2="20.4" y2="128.4"><stop offset="0" stop-color="#a0109d"/><stop offset=".935" stop-color="#9b0dbd"/><stop offset="1" stop-color="#9a0cbf"/></linearGradient><linearGradient id="d7" gradientUnits="userSpaceOnUse" x1="8.7" y1="54.7" x2="20.3" y2="128"><stop offset="0" stop-color="#a2118f"/><stop offset=".935" stop-color="#9c0eb4"/><stop offset="1" stop-color="#9c0db6"/></linearGradient><linearGradient id="d6" gradientUnits="userSpaceOnUse" x1="8.7" y1="54.6" x2="20.3" y2="127.9"><stop offset="0" stop-color="#a3118d"/><stop offset="1" stop-color="#9c0db5"/></linearGradient><linearGradient id="d5" gradientUnits="userSpaceOnUse" x1="8.7" y1="55" x2="20.4" y2="128.1"><stop offset="0" stop-color="#a11096"/><stop offset="1" stop-color="#9b0db8"/></linearGradient><linearGradient id="d4" gradientUnits="userSpaceOnUse" x1="8.8" y1="55.5" x2="20.4" y2="128.3"><stop offset="0" stop-color="#9f0fa3"/><stop offset="1" stop-color="#9a0dbd"/></linearGradient><linearGradient id="d3" gradientUnits="userSpaceOnUse" x1="8.9" y1="56" x2="20.4" y2="128.5"><stop offset="0" stop-color="#9d0eaf"/><stop offset="1" stop-color="#9a0cc2"/></linearGradient><linearGradient id="d2" gradientUnits="userSpaceOnUse" x1="9" y1="56.6" x2="20.5" y2="128.8"><stop offset="0" stop-color="#9b0dbd"/><stop offset="1" stop-color="#990cc7"/></linearGradient><linearGradient id="d1" gradientUnits="userSpaceOnUse" x1="9.1" y1="57.2" x2="20.5" y2="129.1"><stop offset="0" stop-color="#980bca"/><stop offset="1" stop-color="#970bcd"/></linearGradient><linearGradient id="d0" gradientUnits="userSpaceOnUse" x1="9.2" y1="58" x2="20.6" y2="129.5"><stop offset="0" stop-color="#940ad8"/><stop offset="1" stop-color="#950ad5"/></linearGradient><linearGradient id="dw" gradientUnits="userSpaceOnUse" x1="96.6" y1="122.1" x2="115.2" y2="106.3"><stop offset="0" stop-color="#8004ff"/><stop offset="0.075" stop-color="#8706fa"/><stop offset="0.15" stop-color="#8f08ec"/><stop offset="0.175" stop-color="#980cc8"/><stop offset="0.2" stop-color="#a11096"/><stop offset="0.225" stop-color="#ab174f"/><stop offset="0.25" stop-color="#b42000"/><stop offset="0.425" stop-color="#c13000"/><stop offset="0.525" stop-color="#cd4400"/><stop offset="0.65" stop-color="#db6600"/><stop offset="0.775" stop-color="#e89200"/><stop offset="0.875" stop-color="#f3be00"/><stop offset="0.95" stop-color="#fae300"/><stop offset="1" stop-color="#ff0"/></linearGradient><linearGradient id="e115" gradientUnits="userSpaceOnUse" x1="9.9" y1="62" x2="18.6" y2="117.1"><stop offset="0" stop-color="#8104ff"/><stop offset=".964" stop-color="#8104ff"/><stop offset="1" stop-color="#8605fb"/></linearGradient><linearGradient id="e114" gradientUnits="userSpaceOnUse" x1="9.9" y1="62" x2="18.7" y2="117.9"><stop offset="0" stop-color="#8104ff"/><stop offset=".95" stop-color="#8104ff"/><stop offset=".985" stop-color="#8605fb"/><stop offset="1" stop-color="#8a06f6"/></linearGradient><linearGradient id="e113" gradientUnits="userSpaceOnUse" x1="9.9" y1="62.3" x2="18.9" y2="118.7"><stop offset="0" stop-color="#8004ff"/><stop offset=".937" stop-color="#8104ff"/><stop offset=".972" stop-color="#8605fb"/><stop offset=".986" stop-color="#8a06f6"/><stop offset="1" stop-color="#8e08ee"/></linearGradient><linearGradient id="e112" gradientUnits="userSpaceOnUse" x1="9.9" y1="62" x2="19" y2="119.2"><stop offset="0" stop-color="#8204ff"/><stop offset=".928" stop-color="#8104ff"/><stop offset=".963" stop-color="#8605fb"/><stop offset=".977" stop-color="#8a06f6"/><stop offset=".991" stop-color="#8e08ee"/><stop offset="1" stop-color="#9309df"/></linearGradient><linearGradient id="e111" gradientUnits="userSpaceOnUse" x1="9.5" y1="60.1" x2="19" y2="119.2"><stop offset="0" stop-color="#8b07f4"/><stop offset=".962" stop-color="#8706fa"/><stop offset=".978" stop-color="#8a06f6"/><stop offset=".991" stop-color="#8e08ee"/><stop offset="1" stop-color="#9309df"/></linearGradient><linearGradient id="e110" gradientUnits="userSpaceOnUse" x1="9.4" y1="58.9" x2="19" y2="119.2"><stop offset="0" stop-color="#9008e7"/><stop offset=".976" stop-color="#8b07f5"/><stop offset=".991" stop-color="#8e08ee"/><stop offset="1" stop-color="#9309df"/></linearGradient><linearGradient id="e109" gradientUnits="userSpaceOnUse" x1="9.2" y1="58" x2="19" y2="119.3"><stop offset="0" stop-color="#940ad9"/><stop offset=".966" stop-color="#8d07ef"/><stop offset=".99" stop-color="#8e08ee"/><stop offset=".998" stop-color="#9309df"/><stop offset="1" stop-color="#990cc5"/></linearGradient><linearGradient id="e108" gradientUnits="userSpaceOnUse" x1="9.1" y1="57.3" x2="19" y2="119.3"><stop offset="0" stop-color="#970bcc"/><stop offset=".985" stop-color="#8f08ea"/><stop offset=".998" stop-color="#9309df"/><stop offset="1" stop-color="#990cc5"/></linearGradient><linearGradient id="e107" gradientUnits="userSpaceOnUse" x1="9" y1="56.7" x2="19" y2="119.3"><stop offset="0" stop-color="#9a0cbf"/><stop offset=".952" stop-color="#9109e3"/><stop offset=".979" stop-color="#9109e5"/><stop offset=".998" stop-color="#9309df"/><stop offset="1" stop-color="#990cc5"/></linearGradient><linearGradient id="e106" gradientUnits="userSpaceOnUse" x1="8.9" y1="56.1" x2="19" y2="119.3"><stop offset="0" stop-color="#9d0eb1"/><stop offset=".998" stop-color="#9309df"/><stop offset="1" stop-color="#990cc5"/></linearGradient><linearGradient id="e105" gradientUnits="userSpaceOnUse" x1="8.8" y1="55.5" x2="19" y2="119.3"><stop offset="0" stop-color="#9f0fa3"/><stop offset=".889" stop-color="#960ad3"/><stop offset=".995" stop-color="#940adc"/><stop offset="1" stop-color="#990cc5"/></linearGradient><linearGradient id="e104" gradientUnits="userSpaceOnUse" x1="8.7" y1="54.9" x2="19" y2="119.3"><stop offset="0" stop-color="#a11095"/><stop offset=".884" stop-color="#980bcb"/><stop offset=".989" stop-color="#950ad6"/><stop offset="1" stop-color="#990cc5"/></linearGradient><linearGradient id="e103" gradientUnits="userSpaceOnUse" x1="8.6" y1="54.4" x2="19" y2="119.3"><stop offset="0" stop-color="#a41286"/><stop offset=".853" stop-color="#9a0cc1"/><stop offset=".984" stop-color="#970bcf"/><stop offset="1" stop-color="#990cc5"/><stop offset="1" stop-color="#a00f9f"/></linearGradient><linearGradient id="e102" gradientUnits="userSpaceOnUse" x1="8.6" y1="53.8" x2="19" y2="119.3"><stop offset="0" stop-color="#a61375"/><stop offset=".874" stop-color="#9b0dbb"/><stop offset=".979" stop-color="#980cc8"/><stop offset="1" stop-color="#990cc5"/><stop offset="1" stop-color="#a00f9f"/></linearGradient><linearGradient id="e101" gradientUnits="userSpaceOnUse" x1="8.5" y1="53.2" x2="19" y2="119.3"><stop offset="0" stop-color="#a81565"/><stop offset=".844" stop-color="#9d0eaf"/><stop offset="1" stop-color="#990cc5"/><stop offset="1" stop-color="#a00f9f"/></linearGradient><linearGradient id="e100" gradientUnits="userSpaceOnUse" x1="8.4" y1="52.6" x2="19" y2="119.3"><stop offset="0" stop-color="#ab1753"/><stop offset=".419" stop-color="#a5137b"/><stop offset=".815" stop-color="#9f0fa3"/><stop offset=".943" stop-color="#9c0db4"/><stop offset=".97" stop-color="#9b0db9"/><stop offset=".999" stop-color="#990cc3"/><stop offset="1" stop-color="#a00f9f"/></linearGradient><linearGradient id="e99" gradientUnits="userSpaceOnUse" x1="8.3" y1="52" x2="19" y2="119.3"><stop offset="0" stop-color="#ad1940"/><stop offset=".416" stop-color="#a7146c"/><stop offset=".662" stop-color="#a31288"/><stop offset=".86" stop-color="#a0109e"/><stop offset=".964" stop-color="#9d0eb1"/><stop offset=".994" stop-color="#9b0dbb"/><stop offset="1" stop-color="#a00f9f"/></linearGradient><linearGradient id="e98" gradientUnits="userSpaceOnUse" x1="8.2" y1="51.4" x2="19" y2="119.3"><stop offset="0" stop-color="#af1b2d"/><stop offset=".291" stop-color="#ab174e"/><stop offset=".831" stop-color="#a21190"/><stop offset=".959" stop-color="#9e0fa8"/><stop offset=".989" stop-color="#9c0eb3"/><stop offset="1" stop-color="#a00f9f"/></linearGradient><linearGradient id="e97" gradientUnits="userSpaceOnUse" x1="8.1" y1="50.8" x2="19" y2="119.3"><stop offset="0" stop-color="#b11d19"/><stop offset=".363" stop-color="#ac1846"/><stop offset=".655" stop-color="#a7146e"/><stop offset=".826" stop-color="#a41284"/><stop offset=".928" stop-color="#a11098"/><stop offset=".954" stop-color="#a00f9f"/><stop offset=".984" stop-color="#9e0eab"/><stop offset="1" stop-color="#a00f9f"/></linearGradient><linearGradient id="e96" gradientUnits="userSpaceOnUse" x1="8" y1="50.2" x2="19" y2="119.3"><stop offset="0" stop-color="#b41f05"/><stop offset=".288" stop-color="#af1b2a"/><stop offset=".626" stop-color="#a9165c"/><stop offset=".82" stop-color="#a61378"/><stop offset=".922" stop-color="#a3118d"/><stop offset=".948" stop-color="#a11095"/><stop offset=".978" stop-color="#9f0fa3"/><stop offset=".999" stop-color="#a00f9f"/><stop offset="1" stop-color="#a61376"/></linearGradient><linearGradient id="e95" gradientUnits="userSpaceOnUse" x1="7.9" y1="49.6" x2="19" y2="119.3"><stop offset="0" stop-color="#b62200"/><stop offset=".119" stop-color="#b42000"/><stop offset=".358" stop-color="#b01c23"/><stop offset=".67" stop-color="#aa1754"/><stop offset=".791" stop-color="#a81566"/><stop offset=".891" stop-color="#a5137b"/><stop offset=".943" stop-color="#a3118a"/><stop offset=".973" stop-color="#a11099"/><stop offset=".999" stop-color="#a00f9f"/><stop offset="1" stop-color="#a61376"/></linearGradient><linearGradient id="e94" gradientUnits="userSpaceOnUse" x1="7.8" y1="48.9" x2="19" y2="119.3"><stop offset="0" stop-color="#b82500"/><stop offset=".26" stop-color="#b42001"/><stop offset=".643" stop-color="#ad1941"/><stop offset=".786" stop-color="#aa1658"/><stop offset=".911" stop-color="#a61376"/><stop offset=".938" stop-color="#a5127f"/><stop offset=".999" stop-color="#a00f9f"/><stop offset="1" stop-color="#a61376"/></linearGradient><linearGradient id="e93" gradientUnits="userSpaceOnUse" x1="7.7" y1="48.3" x2="19" y2="119.3"><stop offset="0" stop-color="#bb2700"/><stop offset=".353" stop-color="#b52000"/><stop offset=".425" stop-color="#b31f0a"/><stop offset=".663" stop-color="#ae1a35"/><stop offset=".758" stop-color="#ac1845"/><stop offset=".881" stop-color="#a91562"/><stop offset=".933" stop-color="#a61474"/><stop offset=".963" stop-color="#a41285"/><stop offset=".997" stop-color="#a0109c"/><stop offset="1" stop-color="#a61376"/></linearGradient><linearGradient id="e92" gradientUnits="userSpaceOnUse" x1="7.6" y1="47.6" x2="19" y2="119.3"><stop offset="0" stop-color="#bd2b00"/><stop offset=".47" stop-color="#b42001"/><stop offset=".753" stop-color="#ae1a36"/><stop offset=".851" stop-color="#ab174d"/><stop offset=".901" stop-color="#a9165d"/><stop offset=".928" stop-color="#a81568"/><stop offset=".959" stop-color="#a5137a"/><stop offset=".993" stop-color="#a21193"/><stop offset="1" stop-color="#a61376"/></linearGradient><linearGradient id="e91" gradientUnits="userSpaceOnUse" x1="7.5" y1="46.9" x2="19" y2="119.3"><stop offset="0" stop-color="#c02e00"/><stop offset=".538" stop-color="#b52000"/><stop offset=".561" stop-color="#b42002"/><stop offset=".773" stop-color="#af1b2b"/><stop offset=".871" stop-color="#ac1847"/><stop offset=".923" stop-color="#a9165b"/><stop offset=".954" stop-color="#a7146f"/><stop offset=".988" stop-color="#a3118a"/><stop offset="1" stop-color="#a61376"/></linearGradient><linearGradient id="e90" gradientUnits="userSpaceOnUse" x1="7.3" y1="46.2" x2="19" y2="119.3"><stop offset="0" stop-color="#c23100"/><stop offset=".628" stop-color="#b42000"/><stop offset=".721" stop-color="#b21e11"/><stop offset=".816" stop-color="#b01b29"/><stop offset=".891" stop-color="#ad1942"/><stop offset=".918" stop-color="#ab174e"/><stop offset=".949" stop-color="#a81564"/><stop offset=".983" stop-color="#a41280"/><stop offset="1" stop-color="#a61376"/></linearGradient><linearGradient id="e89" gradientUnits="userSpaceOnUse" x1="7.2" y1="45.6" x2="19" y2="119.3"><stop offset="0" stop-color="#c43500"/><stop offset=".717" stop-color="#b42001"/><stop offset=".836" stop-color="#b01c23"/><stop offset=".913" stop-color="#ad1942"/><stop offset=".944" stop-color="#aa1659"/><stop offset=".979" stop-color="#a61377"/><stop offset="1" stop-color="#a61376"/></linearGradient><linearGradient id="e88" gradientUnits="userSpaceOnUse" x1="7.2" y1="45" x2="19" y2="119.6"><stop offset="0" stop-color="#c63800"/><stop offset=".758" stop-color="#b42000"/><stop offset=".83" stop-color="#b21d16"/><stop offset=".88" stop-color="#b01b29"/><stop offset=".906" stop-color="#ae1a37"/><stop offset=".937" stop-color="#ab174e"/><stop offset=".972" stop-color="#a7146e"/><stop offset=".997" stop-color="#a61376"/><stop offset="1" stop-color="#ab174f"/></linearGradient><linearGradient id="e87" gradientUnits="userSpaceOnUse" x1="7.1" y1="44.4" x2="19" y2="119.6"><stop offset="0" stop-color="#c83b00"/><stop offset=".802" stop-color="#b42000"/><stop offset=".876" stop-color="#b11d1d"/><stop offset=".902" stop-color="#af1b2b"/><stop offset=".933" stop-color="#ac1844"/><stop offset=".968" stop-color="#a81565"/><stop offset=".997" stop-color="#a61376"/><stop offset="1" stop-color="#ab174f"/></linearGradient><linearGradient id="e86" gradientUnits="userSpaceOnUse" x1="7" y1="43.8" x2="19" y2="119.6"><stop offset="0" stop-color="#ca3f00"/><stop offset=".798" stop-color="#b62200"/><stop offset=".822" stop-color="#b52000"/><stop offset=".846" stop-color="#b41f06"/><stop offset=".871" stop-color="#b21e10"/><stop offset=".898" stop-color="#b11c1f"/><stop offset=".929" stop-color="#ae1a39"/><stop offset=".964" stop-color="#a9165c"/><stop offset=".997" stop-color="#a61376"/><stop offset="1" stop-color="#ab174f"/></linearGradient><linearGradient id="e85" gradientUnits="userSpaceOnUse" x1="6.9" y1="43.1" x2="19" y2="119.6"><stop offset="0" stop-color="#cc4300"/><stop offset=".746" stop-color="#b92500"/><stop offset=".842" stop-color="#b52100"/><stop offset=".867" stop-color="#b42003"/><stop offset=".893" stop-color="#b21e12"/><stop offset=".925" stop-color="#af1b2d"/><stop offset=".961" stop-color="#ab1752"/><stop offset=".995" stop-color="#a61473"/><stop offset="1" stop-color="#ab174f"/></linearGradient><linearGradient id="e84" gradientUnits="userSpaceOnUse" x1="6.7" y1="42.4" x2="19" y2="119.6"><stop offset="0" stop-color="#cf4800"/><stop offset=".789" stop-color="#b92500"/><stop offset=".862" stop-color="#b62100"/><stop offset=".889" stop-color="#b41f03"/><stop offset=".92" stop-color="#b11c20"/><stop offset=".991" stop-color="#a81569"/><stop offset="1" stop-color="#ab174f"/></linearGradient><linearGradient id="e83" gradientUnits="userSpaceOnUse" x1="6.6" y1="41.5" x2="19" y2="119.6"><stop offset="0" stop-color="#d14e00"/><stop offset=".647" stop-color="#c02e00"/><stop offset=".857" stop-color="#b82400"/><stop offset=".883" stop-color="#b62200"/><stop offset=".915" stop-color="#b31e10"/><stop offset=".951" stop-color="#ae1a39"/><stop offset=".986" stop-color="#a9165e"/><stop offset="1" stop-color="#ab174f"/></linearGradient><linearGradient id="e82" gradientUnits="userSpaceOnUse" x1="6.5" y1="40.7" x2="19" y2="119.6"><stop offset="0" stop-color="#d45400"/><stop offset=".732" stop-color="#bf2d00"/><stop offset=".878" stop-color="#b82400"/><stop offset=".91" stop-color="#b42000"/><stop offset=".982" stop-color="#ab1752"/><stop offset="1" stop-color="#ab174f"/></linearGradient><linearGradient id="e81" gradientUnits="userSpaceOnUse" x1="6.3" y1="39.8" x2="19.1" y2="120.2"><stop offset="0" stop-color="#d75b00"/><stop offset=".611" stop-color="#c53600"/><stop offset=".815" stop-color="#bd2a00"/><stop offset=".897" stop-color="#b62200"/><stop offset=".934" stop-color="#b11d1d"/><stop offset=".969" stop-color="#ac1846"/><stop offset=".992" stop-color="#ab174f"/><stop offset="1" stop-color="#af1a32"/></linearGradient><linearGradient id="e80" gradientUnits="userSpaceOnUse" x1="6.2" y1="39" x2="19.1" y2="120.2"><stop offset="0" stop-color="#d96100"/><stop offset=".607" stop-color="#c73a00"/><stop offset=".835" stop-color="#bd2b00"/><stop offset=".892" stop-color="#b82400"/><stop offset=".929" stop-color="#b31e0f"/><stop offset=".965" stop-color="#ae193a"/><stop offset=".992" stop-color="#ab174f"/><stop offset="1" stop-color="#af1a32"/></linearGradient><linearGradient id="e79" gradientUnits="userSpaceOnUse" x1="6.1" y1="38.1" x2="19.1" y2="120.2"><stop offset="0" stop-color="#dc6800"/><stop offset=".625" stop-color="#c93c00"/><stop offset=".83" stop-color="#bf2d00"/><stop offset=".888" stop-color="#b92600"/><stop offset=".925" stop-color="#b42001"/><stop offset=".961" stop-color="#af1b2e"/><stop offset=".992" stop-color="#ab174f"/><stop offset="1" stop-color="#af1a32"/></linearGradient><linearGradient id="e78" gradientUnits="userSpaceOnUse" x1="5.9" y1="37.1" x2="19.1" y2="120.2"><stop offset="0" stop-color="#df7200"/><stop offset=".557" stop-color="#cd4500"/><stop offset=".776" stop-color="#c43500"/><stop offset=".85" stop-color="#bf2e00"/><stop offset=".919" stop-color="#b62200"/><stop offset=".955" stop-color="#b11c1f"/><stop offset=".992" stop-color="#ab174d"/><stop offset="1" stop-color="#af1a32"/></linearGradient><linearGradient id="e77" gradientUnits="userSpaceOnUse" x1="5.7" y1="35.7" x2="19.4" y2="122.3"><stop offset="0" stop-color="#e37e00"/><stop offset=".538" stop-color="#d04c00"/><stop offset=".728" stop-color="#c93d00"/><stop offset=".823" stop-color="#c23200"/><stop offset=".891" stop-color="#b92500"/><stop offset=".926" stop-color="#b31f0b"/><stop offset=".962" stop-color="#ad193d"/><stop offset=".976" stop-color="#af1a32"/><stop offset="1" stop-color="#ad1942"/></linearGradient><linearGradient id="e76" gradientUnits="userSpaceOnUse" x1="5.5" y1="34.4" x2="19.4" y2="122.3"><stop offset="0" stop-color="#e78c00"/><stop offset=".534" stop-color="#d45300"/><stop offset=".744" stop-color="#ca4000"/><stop offset=".848" stop-color="#c13000"/><stop offset=".921" stop-color="#b52100"/><stop offset=".957" stop-color="#af1b2c"/><stop offset=".977" stop-color="#af1a32"/><stop offset="1" stop-color="#ad1942"/></linearGradient><linearGradient id="e75" gradientUnits="userSpaceOnUse" x1="5.3" y1="33.3" x2="19.4" y2="122.3"><stop offset="0" stop-color="#ea9800"/><stop offset=".55" stop-color="#d65800"/><stop offset=".739" stop-color="#cd4500"/><stop offset=".842" stop-color="#c33300"/><stop offset=".916" stop-color="#b72300"/><stop offset=".952" stop-color="#b11c1e"/><stop offset="1" stop-color="#ad1942"/></linearGradient><linearGradient id="e74" gradientUnits="userSpaceOnUse" x1="5.1" y1="32.1" x2="19.4" y2="122.3"><stop offset="0" stop-color="#eda500"/><stop offset=".526" stop-color="#d96100"/><stop offset=".734" stop-color="#cf4a00"/><stop offset=".805" stop-color="#ca3e00"/><stop offset=".911" stop-color="#b92500"/><stop offset=".948" stop-color="#b31e0f"/><stop offset=".977" stop-color="#af1a32"/><stop offset="1" stop-color="#ad1942"/></linearGradient><linearGradient id="e73" gradientUnits="userSpaceOnUse" x1="4.9" y1="31" x2="20.3" y2="127.7"><stop offset="0" stop-color="#f0b300"/><stop offset=".474" stop-color="#dd6b00"/><stop offset=".688" stop-color="#d24f00"/><stop offset=".755" stop-color="#cc4300"/><stop offset=".855" stop-color="#bb2700"/><stop offset=".89" stop-color="#b42001"/><stop offset=".92" stop-color="#af1b2b"/><stop offset=".943" stop-color="#ad1942"/><stop offset="1" stop-color="#9d0eb0"/></linearGradient><linearGradient id="e72" gradientUnits="userSpaceOnUse" x1="4.7" y1="29.8" x2="20.3" y2="127.7"><stop offset="0" stop-color="#f4c200"/><stop offset=".452" stop-color="#e07600"/><stop offset=".662" stop-color="#d65900"/><stop offset=".75" stop-color="#ce4700"/><stop offset=".852" stop-color="#bd2a00"/><stop offset=".887" stop-color="#b62200"/><stop offset=".916" stop-color="#b11d1d"/><stop offset=".944" stop-color="#ad1942"/><stop offset="1" stop-color="#9d0eb0"/></linearGradient><linearGradient id="e71" gradientUnits="userSpaceOnUse" x1="4.7" y1="29.6" x2="20.3" y2="127.7"><stop offset="0" stop-color="#f4c400"/><stop offset=".451" stop-color="#e17700"/><stop offset=".641" stop-color="#d75d00"/><stop offset=".75" stop-color="#cf4800"/><stop offset=".851" stop-color="#bd2a00"/><stop offset=".886" stop-color="#b62200"/><stop offset=".916" stop-color="#b11d1b"/><stop offset=".944" stop-color="#ad1942"/><stop offset="1" stop-color="#9d0eb0"/></linearGradient><linearGradient id="e70" gradientUnits="userSpaceOnUse" x1="4.9" y1="30.6" x2="20.3" y2="127.7"><stop offset="0" stop-color="#f1b700"/><stop offset=".491" stop-color="#dd6b00"/><stop offset=".645" stop-color="#d55800"/><stop offset=".753" stop-color="#cd4400"/><stop offset=".889" stop-color="#b52000"/><stop offset=".945" stop-color="#ac1845"/><stop offset="1" stop-color="#9d0eb0"/></linearGradient><linearGradient id="e69" gradientUnits="userSpaceOnUse" x1="5.1" y1="31.8" x2="20.3" y2="127.7"><stop offset="0" stop-color="#eea900"/><stop offset=".495" stop-color="#da6300"/><stop offset=".649" stop-color="#d35100"/><stop offset=".758" stop-color="#ca4000"/><stop offset=".858" stop-color="#b92600"/><stop offset=".893" stop-color="#b31f0b"/><stop offset=".922" stop-color="#ae1a34"/><stop offset=".948" stop-color="#ab1751"/><stop offset="1" stop-color="#9d0eb0"/></linearGradient><linearGradient id="e68" gradientUnits="userSpaceOnUse" x1="5.2" y1="32.9" x2="20.3" y2="127.7"><stop offset="0" stop-color="#eb9c00"/><stop offset=".517" stop-color="#d75a00"/><stop offset=".674" stop-color="#cf4900"/><stop offset=".762" stop-color="#c83b00"/><stop offset=".862" stop-color="#b82400"/><stop offset=".896" stop-color="#b11d19"/><stop offset=".925" stop-color="#ad1941"/><stop offset=".951" stop-color="#a9165c"/><stop offset="1" stop-color="#9d0eb0"/></linearGradient><linearGradient id="e67" gradientUnits="userSpaceOnUse" x1="5.4" y1="34.1" x2="20.3" y2="127.7"><stop offset="0" stop-color="#e88f00"/><stop offset=".501" stop-color="#d45500"/><stop offset=".678" stop-color="#c40"/><stop offset=".767" stop-color="#c63700"/><stop offset=".866" stop-color="#b62100"/><stop offset=".929" stop-color="#ab174d"/><stop offset=".955" stop-color="#a81567"/><stop offset="1" stop-color="#9d0eb0"/></linearGradient><linearGradient id="e66" gradientUnits="userSpaceOnUse" x1="5.6" y1="35.3" x2="20.3" y2="127.7"><stop offset="0" stop-color="#e48300"/><stop offset=".543" stop-color="#d04b00"/><stop offset=".726" stop-color="#c73a00"/><stop offset=".801" stop-color="#bf2d00"/><stop offset=".836" stop-color="#b92600"/><stop offset=".87" stop-color="#b41f05"/><stop offset=".903" stop-color="#ae1a37"/><stop offset=".932" stop-color="#aa165a"/><stop offset=".958" stop-color="#a61473"/><stop offset="1" stop-color="#9d0eb0"/></linearGradient><linearGradient id="e65" gradientUnits="userSpaceOnUse" x1="5.8" y1="36.5" x2="20.3" y2="127.7"><stop offset="0" stop-color="#e17700"/><stop offset=".547" stop-color="#cd4500"/><stop offset=".709" stop-color="#c63800"/><stop offset=".777" stop-color="#c13000"/><stop offset=".84" stop-color="#b72300"/><stop offset=".874" stop-color="#b21d16"/><stop offset=".907" stop-color="#ac1846"/><stop offset=".936" stop-color="#a81567"/><stop offset=".962" stop-color="#a5137d"/><stop offset="1" stop-color="#9d0eb0"/></linearGradient><linearGradient id="e64" gradientUnits="userSpaceOnUse" x1="6" y1="37.5" x2="20.3" y2="127.7"><stop offset="0" stop-color="#de6e00"/><stop offset=".57" stop-color="#ca3f00"/><stop offset=".735" stop-color="#c23200"/><stop offset=".781" stop-color="#bf2d00"/><stop offset=".844" stop-color="#b52100"/><stop offset=".877" stop-color="#b01c25"/><stop offset=".91" stop-color="#ab1752"/><stop offset=".939" stop-color="#a71471"/><stop offset=".965" stop-color="#a41286"/><stop offset="1" stop-color="#9d0eb0"/></linearGradient><linearGradient id="e63" gradientUnits="userSpaceOnUse" x1="6.1" y1="38.3" x2="20.3" y2="127.7"><stop offset="0" stop-color="#db6700"/><stop offset=".514" stop-color="#ca3f00"/><stop offset=".738" stop-color="#c02f00"/><stop offset=".814" stop-color="#b92500"/><stop offset=".847" stop-color="#b41f04"/><stop offset=".913" stop-color="#a9165c"/><stop offset=".942" stop-color="#a5137a"/><stop offset=".967" stop-color="#a3118e"/><stop offset="1" stop-color="#9d0eb0"/></linearGradient><linearGradient id="e62" gradientUnits="userSpaceOnUse" x1="6.2" y1="39.1" x2="20.3" y2="127.7"><stop offset="0" stop-color="#d96000"/><stop offset=".557" stop-color="#c73900"/><stop offset=".764" stop-color="#bd2a00"/><stop offset=".817" stop-color="#b82400"/><stop offset=".851" stop-color="#b21e13"/><stop offset=".917" stop-color="#a81568"/><stop offset=".946" stop-color="#a41284"/><stop offset=".971" stop-color="#a11096"/><stop offset="1" stop-color="#9d0eb0"/></linearGradient><linearGradient id="e61" gradientUnits="userSpaceOnUse" x1="6.4" y1="40" x2="20.3" y2="127.7"><stop offset="0" stop-color="#d65900"/><stop offset=".56" stop-color="#c43500"/><stop offset=".79" stop-color="#ba2600"/><stop offset=".82" stop-color="#b62200"/><stop offset=".855" stop-color="#b01c23"/><stop offset=".922" stop-color="#a61376"/><stop offset=".95" stop-color="#a21190"/><stop offset="1" stop-color="#9d0eb0"/></linearGradient><linearGradient id="e60" gradientUnits="userSpaceOnUse" x1="6.5" y1="41" x2="20.3" y2="127.8"><stop offset="0" stop-color="#d35200"/><stop offset=".707" stop-color="#bc2900"/><stop offset=".793" stop-color="#b82400"/><stop offset=".823" stop-color="#b42000"/><stop offset=".859" stop-color="#ae1a33"/><stop offset=".892" stop-color="#a9165e"/><stop offset=".926" stop-color="#a41285"/><stop offset=".954" stop-color="#a0109c"/><stop offset=".978" stop-color="#9e0eaa"/><stop offset="1" stop-color="#9c0eb2"/></linearGradient><linearGradient id="e59" gradientUnits="userSpaceOnUse" x1="6.6" y1="41.8" x2="20.4" y2="128.2"><stop offset="0" stop-color="#d04c00"/><stop offset=".565" stop-color="#bf2d00"/><stop offset=".793" stop-color="#b62200"/><stop offset=".823" stop-color="#b31e0f"/><stop offset=".86" stop-color="#ad1843"/><stop offset=".894" stop-color="#a7146d"/><stop offset=".927" stop-color="#a21191"/><stop offset=".954" stop-color="#9f0fa7"/><stop offset=".978" stop-color="#9c0eb3"/><stop offset="1" stop-color="#9b0dba"/></linearGradient><linearGradient id="e58" gradientUnits="userSpaceOnUse" x1="6.8" y1="42.6" x2="20.4" y2="128.5"><stop offset="0" stop-color="#ce4600"/><stop offset=".793" stop-color="#b52000"/><stop offset=".824" stop-color="#b11c1f"/><stop offset=".861" stop-color="#ab1751"/><stop offset=".895" stop-color="#a5137a"/><stop offset=".928" stop-color="#a0109d"/><stop offset=".955" stop-color="#9d0eb0"/><stop offset="1" stop-color="#9a0cc1"/></linearGradient><linearGradient id="e57" gradientUnits="userSpaceOnUse" x1="6.9" y1="43.5" x2="20.5" y2="128.8"><stop offset="0" stop-color="#cb4100"/><stop offset=".712" stop-color="#b62100"/><stop offset=".754" stop-color="#b42001"/><stop offset=".795" stop-color="#b31e0e"/><stop offset=".825" stop-color="#af1b2f"/><stop offset=".862" stop-color="#a91660"/><stop offset=".896" stop-color="#a41287"/><stop offset=".929" stop-color="#9f0fa7"/><stop offset=".956" stop-color="#9b0db9"/><stop offset=".979" stop-color="#9a0cc2"/><stop offset="1" stop-color="#980cc7"/></linearGradient><linearGradient id="e56" gradientUnits="userSpaceOnUse" x1="7" y1="44.3" x2="20.5" y2="129.1"><stop offset="0" stop-color="#c83c00"/><stop offset=".631" stop-color="#b72200"/><stop offset=".693" stop-color="#b42000"/><stop offset=".797" stop-color="#b01c22"/><stop offset=".827" stop-color="#ad1941"/><stop offset=".863" stop-color="#a7146e"/><stop offset=".897" stop-color="#a21192"/><stop offset=".929" stop-color="#9d0eb0"/><stop offset=".956" stop-color="#9a0cc0"/><stop offset="1" stop-color="#970bcd"/></linearGradient><linearGradient id="e55" gradientUnits="userSpaceOnUse" x1="7.2" y1="45.2" x2="20.6" y2="129.3"><stop offset="0" stop-color="#c53700"/><stop offset=".633" stop-color="#b42001"/><stop offset=".779" stop-color="#af1b2e"/><stop offset=".801" stop-color="#ae1a37"/><stop offset=".83" stop-color="#ab1753"/><stop offset=".865" stop-color="#a5137b"/><stop offset=".897" stop-color="#a0109c"/><stop offset=".929" stop-color="#9c0db7"/><stop offset=".956" stop-color="#990cc6"/><stop offset=".979" stop-color="#970bce"/><stop offset="1" stop-color="#960bd2"/></linearGradient><linearGradient id="e54" gradientUnits="userSpaceOnUse" x1="7.3" y1="46" x2="20.6" y2="129.6"><stop offset="0" stop-color="#c33300"/><stop offset=".553" stop-color="#b42000"/><stop offset=".676" stop-color="#b11c1f"/><stop offset=".804" stop-color="#ac184b"/><stop offset=".833" stop-color="#a81564"/><stop offset=".866" stop-color="#a41287"/><stop offset=".898" stop-color="#9f0fa4"/><stop offset=".929" stop-color="#9a0dbd"/><stop offset=".956" stop-color="#980bcb"/><stop offset="1" stop-color="#950ad6"/></linearGradient><linearGradient id="e53" gradientUnits="userSpaceOnUse" x1="7.4" y1="46.7" x2="20.6" y2="129.8"><stop offset="0" stop-color="#c02f00"/><stop offset=".472" stop-color="#b42000"/><stop offset=".657" stop-color="#af1b2a"/><stop offset=".785" stop-color="#aa1753"/><stop offset=".808" stop-color="#a9165e"/><stop offset=".835" stop-color="#a61473"/><stop offset=".867" stop-color="#a21191"/><stop offset=".898" stop-color="#9e0eab"/><stop offset=".929" stop-color="#9a0cc1"/><stop offset=".955" stop-color="#970bce"/><stop offset="1" stop-color="#940ad9"/></linearGradient><linearGradient id="e52" gradientUnits="userSpaceOnUse" x1="7.5" y1="47.5" x2="20.7" y2="129.9"><stop offset="0" stop-color="#be2b00"/><stop offset=".39" stop-color="#b52000"/><stop offset=".431" stop-color="#b31f07"/><stop offset=".679" stop-color="#ad193f"/><stop offset=".766" stop-color="#aa165a"/><stop offset=".811" stop-color="#a7146d"/><stop offset=".838" stop-color="#a51280"/><stop offset=".898" stop-color="#9d0eb0"/><stop offset=".928" stop-color="#990cc4"/><stop offset=".955" stop-color="#960bd1"/><stop offset="1" stop-color="#940adc"/></linearGradient><linearGradient id="e51" gradientUnits="userSpaceOnUse" x1="7.7" y1="48.2" x2="20.7" y2="130"><stop offset="0" stop-color="#bb2800"/><stop offset=".308" stop-color="#b52000"/><stop offset=".349" stop-color="#b41f07"/><stop offset=".681" stop-color="#ab174d"/><stop offset=".745" stop-color="#a9165f"/><stop offset=".813" stop-color="#a61379"/><stop offset=".898" stop-color="#9c0db4"/><stop offset=".928" stop-color="#990cc6"/><stop offset=".954" stop-color="#960bd2"/><stop offset="1" stop-color="#9309dd"/></linearGradient><linearGradient id="e50" gradientUnits="userSpaceOnUse" x1="7.8" y1="48.9" x2="20.7" y2="130"><stop offset="0" stop-color="#b92500"/><stop offset=".226" stop-color="#b42000"/><stop offset=".558" stop-color="#ad1941"/><stop offset=".682" stop-color="#aa1658"/><stop offset=".791" stop-color="#a61376"/><stop offset=".814" stop-color="#a5127f"/><stop offset=".898" stop-color="#9c0db7"/><stop offset=".927" stop-color="#980cc8"/><stop offset=".978" stop-color="#940ada"/><stop offset="1" stop-color="#9309de"/></linearGradient><linearGradient id="e49" gradientUnits="userSpaceOnUse" x1="7.9" y1="49.6" x2="20.7" y2="130"><stop offset="0" stop-color="#b62200"/><stop offset=".103" stop-color="#b42000"/><stop offset=".33" stop-color="#b01c25"/><stop offset=".58" stop-color="#ab1751"/><stop offset=".684" stop-color="#a91562"/><stop offset=".792" stop-color="#a5137c"/><stop offset=".815" stop-color="#a41284"/><stop offset=".899" stop-color="#9b0db9"/><stop offset=".927" stop-color="#980cc8"/><stop offset=".977" stop-color="#940ada"/><stop offset="1" stop-color="#9309de"/></linearGradient><linearGradient id="e48" gradientUnits="userSpaceOnUse" x1="8" y1="50.2" x2="20.7" y2="130"><stop offset="0" stop-color="#b41f06"/><stop offset=".269" stop-color="#af1b2b"/><stop offset=".54" stop-color="#aa1656"/><stop offset=".707" stop-color="#a71470"/><stop offset=".793" stop-color="#a41283"/><stop offset=".816" stop-color="#a31289"/><stop offset=".899" stop-color="#9b0dbb"/><stop offset=".927" stop-color="#980bc9"/><stop offset=".977" stop-color="#940ad9"/><stop offset="1" stop-color="#9309de"/></linearGradient><linearGradient id="e47" gradientUnits="userSpaceOnUse" x1="8.1" y1="50.9" x2="20.7" y2="130"><stop offset="0" stop-color="#b11d1c"/><stop offset=".311" stop-color="#ad1942"/><stop offset=".73" stop-color="#a5137c"/><stop offset=".817" stop-color="#a2118f"/><stop offset=".843" stop-color="#a0109c"/><stop offset=".9" stop-color="#9b0dbd"/><stop offset=".953" stop-color="#960bd2"/><stop offset="1" stop-color="#9309dd"/></linearGradient><linearGradient id="e46" gradientUnits="userSpaceOnUse" x1="8.2" y1="51.6" x2="20.7" y2="129.9"><stop offset="0" stop-color="#af1a32"/><stop offset=".312" stop-color="#ab1752"/><stop offset=".584" stop-color="#a71472"/><stop offset=".71" stop-color="#a41280"/><stop offset=".819" stop-color="#a11095"/><stop offset=".9" stop-color="#9a0dbe"/><stop offset=".927" stop-color="#980bca"/><stop offset=".977" stop-color="#940ad8"/><stop offset="1" stop-color="#9309dc"/></linearGradient><linearGradient id="e45" gradientUnits="userSpaceOnUse" x1="8.3" y1="52.3" x2="20.6" y2="129.9"><stop offset="0" stop-color="#ac1848"/><stop offset=".27" stop-color="#a9165e"/><stop offset=".711" stop-color="#a31288"/><stop offset=".82" stop-color="#a1109a"/><stop offset=".928" stop-color="#980bca"/><stop offset=".977" stop-color="#950ad8"/><stop offset="1" stop-color="#940adb"/></linearGradient><linearGradient id="e44" gradientUnits="userSpaceOnUse" x1="8.4" y1="53" x2="20.6" y2="129.8"><stop offset="0" stop-color="#a9165c"/><stop offset=".355" stop-color="#a61473"/><stop offset=".713" stop-color="#a2118f"/><stop offset=".822" stop-color="#a00f9f"/><stop offset=".928" stop-color="#980bca"/><stop offset=".977" stop-color="#950ad7"/><stop offset="1" stop-color="#940ada"/></linearGradient><linearGradient id="e43" gradientUnits="userSpaceOnUse" x1="8.5" y1="53.6" x2="20.6" y2="129.8"><stop offset="0" stop-color="#a7146f"/><stop offset=".271" stop-color="#a5137a"/><stop offset=".714" stop-color="#a11095"/><stop offset=".823" stop-color="#9f0fa3"/><stop offset=".928" stop-color="#980bcb"/><stop offset="1" stop-color="#940ad9"/></linearGradient><linearGradient id="e42" gradientUnits="userSpaceOnUse" x1="8.6" y1="54.2" x2="20.6" y2="129.7"><stop offset="0" stop-color="#a41281"/><stop offset=".293" stop-color="#a31288"/><stop offset=".715" stop-color="#a0109b"/><stop offset=".825" stop-color="#9e0fa7"/><stop offset=".849" stop-color="#9d0eae"/><stop offset=".928" stop-color="#980bcb"/><stop offset="1" stop-color="#940ad8"/></linearGradient><linearGradient id="e41" gradientUnits="userSpaceOnUse" x1="8.7" y1="54.8" x2="20.6" y2="129.6"><stop offset="0" stop-color="#a21191"/><stop offset=".356" stop-color="#a11095"/><stop offset=".716" stop-color="#a00fa0"/><stop offset=".826" stop-color="#9e0eab"/><stop offset=".953" stop-color="#960bd1"/><stop offset="1" stop-color="#950ad7"/></linearGradient><linearGradient id="e40" gradientUnits="userSpaceOnUse" x1="8.8" y1="55.4" x2="20.6" y2="129.6"><stop offset="0" stop-color="#a00fa0"/><stop offset=".42" stop-color="#a00fa0"/><stop offset=".717" stop-color="#9f0fa5"/><stop offset=".827" stop-color="#9d0eae"/><stop offset=".929" stop-color="#980bcb"/><stop offset=".977" stop-color="#960ad4"/><stop offset="1" stop-color="#950ad6"/></linearGradient><linearGradient id="e39" gradientUnits="userSpaceOnUse" x1="8.9" y1="56" x2="20.6" y2="129.5"><stop offset="0" stop-color="#9d0eae"/><stop offset=".357" stop-color="#9e0fa9"/><stop offset=".718" stop-color="#9e0eaa"/><stop offset=".828" stop-color="#9d0eb1"/><stop offset=".93" stop-color="#970bcc"/><stop offset="1" stop-color="#950ad5"/></linearGradient><linearGradient id="e38" gradientUnits="userSpaceOnUse" x1="9" y1="56.5" x2="20.6" y2="129.5"><stop offset="0" stop-color="#9b0dbb"/><stop offset=".4" stop-color="#9d0eb1"/><stop offset=".719" stop-color="#9d0eaf"/><stop offset=".829" stop-color="#9c0db4"/><stop offset=".954" stop-color="#960bd0"/><stop offset="1" stop-color="#960ad4"/></linearGradient><linearGradient id="e37" gradientUnits="userSpaceOnUse" x1="9.1" y1="57.1" x2="20.6" y2="129.4"><stop offset="0" stop-color="#980bc9"/><stop offset=".358" stop-color="#9b0dbb"/><stop offset=".721" stop-color="#9c0db4"/><stop offset=".831" stop-color="#9c0db8"/><stop offset=".88" stop-color="#9a0cc1"/><stop offset=".955" stop-color="#970bd0"/><stop offset="1" stop-color="#960ad3"/></linearGradient><linearGradient id="e36" gradientUnits="userSpaceOnUse" x1="9.2" y1="57.8" x2="20.6" y2="129.3"><stop offset="0" stop-color="#950ad6"/><stop offset=".487" stop-color="#9a0cc1"/><stop offset=".766" stop-color="#9b0dba"/><stop offset=".832" stop-color="#9b0dbc"/><stop offset=".955" stop-color="#970bd0"/><stop offset="1" stop-color="#960bd2"/></linearGradient><linearGradient id="e35" gradientUnits="userSpaceOnUse" x1="9.3" y1="58.7" x2="20.6" y2="129.3"><stop offset="0" stop-color="#9109e3"/><stop offset=".681" stop-color="#990cc3"/><stop offset=".835" stop-color="#9a0cc1"/><stop offset=".955" stop-color="#970bcf"/><stop offset="1" stop-color="#960bd1"/></linearGradient><linearGradient id="e34" gradientUnits="userSpaceOnUse" x1="9.5" y1="59.6" x2="20.6" y2="129.3"><stop offset="0" stop-color="#8d07ef"/><stop offset=".793" stop-color="#980bc9"/><stop offset=".86" stop-color="#980bc9"/><stop offset=".954" stop-color="#970bd0"/><stop offset="1" stop-color="#960bd1"/></linearGradient><linearGradient id="e33" gradientUnits="userSpaceOnUse" x1="9.7" y1="60.7" x2="20.6" y2="129.3"><stop offset="0" stop-color="#8806fa"/><stop offset=".429" stop-color="#9008e8"/><stop offset=".839" stop-color="#960bd0"/><stop offset="1" stop-color="#960bd2"/></linearGradient><linearGradient id="e32" gradientUnits="userSpaceOnUse" x1="9.9" y1="62.1" x2="20.6" y2="129.5"><stop offset="0" stop-color="#8104ff"/><stop offset=".389" stop-color="#8a06f6"/><stop offset=".713" stop-color="#9109e4"/><stop offset=".865" stop-color="#940ad9"/><stop offset="1" stop-color="#950ad5"/></linearGradient><linearGradient id="e31" gradientUnits="userSpaceOnUse" x1="10" y1="62.8" x2="20.6" y2="129.8"><stop offset="0" stop-color="#7d04fe"/><stop offset=".261" stop-color="#8305fe"/><stop offset=".587" stop-color="#8b07f4"/><stop offset=".913" stop-color="#9209e0"/><stop offset="1" stop-color="#940ad9"/></linearGradient><linearGradient id="e30" gradientUnits="userSpaceOnUse" x1="9.9" y1="62.1" x2="20.7" y2="130.4"><stop offset="0" stop-color="#8104ff"/><stop offset=".412" stop-color="#8806f9"/><stop offset=".935" stop-color="#9008e7"/><stop offset="1" stop-color="#9109e3"/></linearGradient><linearGradient id="e29" gradientUnits="userSpaceOnUse" x1="9.6" y1="60.6" x2="20.8" y2="131"><stop offset="0" stop-color="#8906f8"/><stop offset="1" stop-color="#8f08eb"/></linearGradient><linearGradient id="e28" gradientUnits="userSpaceOnUse" x1="9.4" y1="59.2" x2="20.8" y2="130.9"><stop offset="0" stop-color="#8f08eb"/><stop offset=".806" stop-color="#8f08ec"/><stop offset="1" stop-color="#8f08ea"/></linearGradient><linearGradient id="e27" gradientUnits="userSpaceOnUse" x1="9.3" y1="58.3" x2="20.8" y2="130.6"><stop offset="0" stop-color="#9309dd"/><stop offset=".763" stop-color="#9008e7"/><stop offset="1" stop-color="#9008e7"/></linearGradient><linearGradient id="e26" gradientUnits="userSpaceOnUse" x1="9.1" y1="57.5" x2="20.7" y2="130.4"><stop offset="0" stop-color="#970bd0"/><stop offset=".784" stop-color="#9209e2"/><stop offset="1" stop-color="#9109e4"/></linearGradient><linearGradient id="e25" gradientUnits="userSpaceOnUse" x1="9" y1="56.9" x2="20.7" y2="130.2"><stop offset="0" stop-color="#990cc3"/><stop offset=".741" stop-color="#940adc"/><stop offset="1" stop-color="#9209e1"/></linearGradient><linearGradient id="e24" gradientUnits="userSpaceOnUse" x1="8.9" y1="56.3" x2="20.7" y2="130"><stop offset="0" stop-color="#9c0db6"/><stop offset=".74" stop-color="#950ad6"/><stop offset="1" stop-color="#9309dd"/></linearGradient><linearGradient id="e23" gradientUnits="userSpaceOnUse" x1="8.9" y1="55.7" x2="20.6" y2="129.8"><stop offset="0" stop-color="#9e0fa9"/><stop offset=".74" stop-color="#970bd0"/><stop offset="1" stop-color="#940ada"/></linearGradient><linearGradient id="e22" gradientUnits="userSpaceOnUse" x1="8.8" y1="55.2" x2="20.6" y2="129.6"><stop offset="0" stop-color="#a0109c"/><stop offset=".718" stop-color="#980cc8"/><stop offset="1" stop-color="#950ad6"/></linearGradient><linearGradient id="e21" gradientUnits="userSpaceOnUse" x1="8.7" y1="54.7" x2="20.6" y2="129.3"><stop offset="0" stop-color="#a2118e"/><stop offset=".543" stop-color="#9c0db6"/><stop offset="1" stop-color="#960bd2"/></linearGradient><linearGradient id="e20" gradientUnits="userSpaceOnUse" x1="8.6" y1="54.2" x2="20.5" y2="129.1"><stop offset="0" stop-color="#a41282"/><stop offset=".652" stop-color="#9c0db6"/><stop offset="1" stop-color="#970bcd"/></linearGradient><linearGradient id="e19" gradientUnits="userSpaceOnUse" x1="8.6" y1="53.8" x2="20.5" y2="128.8"><stop offset="0" stop-color="#a61375"/><stop offset=".608" stop-color="#9e0eab"/><stop offset="1" stop-color="#980cc8"/></linearGradient><linearGradient id="e18" gradientUnits="userSpaceOnUse" x1="8.5" y1="53.3" x2="20.4" y2="128.6"><stop offset="0" stop-color="#a81567"/><stop offset=".456" stop-color="#a21094"/><stop offset=".978" stop-color="#9a0cc1"/><stop offset="1" stop-color="#990cc2"/></linearGradient><linearGradient id="e17" gradientUnits="userSpaceOnUse" x1="8.4" y1="52.9" x2="20.4" y2="128.3"><stop offset="0" stop-color="#aa165a"/><stop offset=".522" stop-color="#a21191"/><stop offset="1" stop-color="#9b0dbc"/></linearGradient><linearGradient id="e16" gradientUnits="userSpaceOnUse" x1="8.3" y1="52.5" x2="20.3" y2="127.9"><stop offset="0" stop-color="#ab174e"/><stop offset=".609" stop-color="#a21190"/><stop offset="1" stop-color="#9c0db5"/></linearGradient><linearGradient id="e15" gradientUnits="userSpaceOnUse" x1="8.3" y1="52.1" x2="20.3" y2="127.6"><stop offset="0" stop-color="#ad1940"/><stop offset=".609" stop-color="#a41286"/><stop offset="1" stop-color="#9e0eac"/></linearGradient><linearGradient id="e14" gradientUnits="userSpaceOnUse" x1="8.2" y1="51.6" x2="20.2" y2="127.2"><stop offset="0" stop-color="#ae1a33"/><stop offset=".652" stop-color="#a5137f"/><stop offset="1" stop-color="#9f0fa2"/></linearGradient><linearGradient id="e13" gradientUnits="userSpaceOnUse" x1="8.1" y1="51.2" x2="20.1" y2="126.7"><stop offset="0" stop-color="#b01b26"/><stop offset=".63" stop-color="#a71470"/><stop offset="1" stop-color="#a11096"/></linearGradient><linearGradient id="e12" gradientUnits="userSpaceOnUse" x1="8.1" y1="50.9" x2="20.1" y2="126.3"><stop offset="0" stop-color="#b11d1c"/><stop offset=".891" stop-color="#a5137f"/><stop offset="1" stop-color="#a3118a"/></linearGradient><linearGradient id="e11" gradientUnits="userSpaceOnUse" x1="8" y1="50.6" x2="20" y2="125.8"><stop offset="0" stop-color="#b21e12"/><stop offset="1" stop-color="#a5137d"/></linearGradient><linearGradient id="e10" gradientUnits="userSpaceOnUse" x1="8" y1="50.3" x2="19.9" y2="125.3"><stop offset="0" stop-color="#b31f09"/><stop offset="1" stop-color="#a71470"/></linearGradient><linearGradient id="e9" gradientUnits="userSpaceOnUse" x1="8" y1="50.1" x2="19.9" y2="124.9"><stop offset="0" stop-color="#b42001"/><stop offset="1" stop-color="#a91563"/></linearGradient><linearGradient id="e8" gradientUnits="userSpaceOnUse" x1="7.9" y1="49.9" x2="19.8" y2="124.5"><stop offset="0" stop-color="#b52100"/><stop offset=".087" stop-color="#b42002"/><stop offset=".608" stop-color="#af1a31"/><stop offset="1" stop-color="#aa1756"/></linearGradient><linearGradient id="e7" gradientUnits="userSpaceOnUse" x1="7.9" y1="49.7" x2="19.7" y2="124"><stop offset="0" stop-color="#b62100"/><stop offset=".152" stop-color="#b42000"/><stop offset="1" stop-color="#ac1848"/></linearGradient><linearGradient id="e6" gradientUnits="userSpaceOnUse" x1="7.9" y1="49.6" x2="19.6" y2="123.6"><stop offset="0" stop-color="#b62200"/><stop offset=".217" stop-color="#b42001"/><stop offset="1" stop-color="#ae193b"/></linearGradient><linearGradient id="e5" gradientUnits="userSpaceOnUse" x1="7.9" y1="49.7" x2="19.6" y2="123.2"><stop offset="0" stop-color="#b62100"/><stop offset=".196" stop-color="#b42001"/><stop offset=".566" stop-color="#b21d18"/><stop offset="1" stop-color="#af1b2e"/></linearGradient><linearGradient id="e4" gradientUnits="userSpaceOnUse" x1="8" y1="50.1" x2="19.6" y2="123"><stop offset="0" stop-color="#b42000"/><stop offset="1" stop-color="#b01b28"/></linearGradient><linearGradient id="e3" gradientUnits="userSpaceOnUse" x1="8" y1="50.6" x2="19.6" y2="123.2"><stop offset="0" stop-color="#b21e11"/><stop offset=".652" stop-color="#b01c22"/><stop offset="1" stop-color="#af1b2e"/></linearGradient><linearGradient id="e2" gradientUnits="userSpaceOnUse" x1="8.1" y1="51" x2="19.6" y2="123.4"><stop offset="0" stop-color="#b11c1e"/><stop offset="1" stop-color="#ae1a35"/></linearGradient><linearGradient id="e1" gradientUnits="userSpaceOnUse" x1="8.2" y1="51.4" x2="19.7" y2="123.7"><stop offset="0" stop-color="#af1b2d"/><stop offset="1" stop-color="#ad193e"/></linearGradient><linearGradient id="e0" gradientUnits="userSpaceOnUse" x1="8.3" y1="52.2" x2="19.7" y2="124.1"><stop offset="0" stop-color="#ac1844"/><stop offset="1" stop-color="#ac184a"/></linearGradient><linearGradient id="ew" gradientUnits="userSpaceOnUse" x1="96.6" y1="122.1" x2="115.2" y2="106.3"><stop offset="0" stop-color="#8004ff"/><stop offset="0.075" stop-color="#8706fa"/><stop offset="0.15" stop-color="#8f08ec"/><stop offset="0.175" stop-color="#980cc8"/><stop offset="0.2" stop-color="#a11096"/><stop offset="0.225" stop-color="#ab174f"/><stop offset="0.25" stop-color="#b42000"/><stop offset="0.425" stop-color="#c13000"/><stop offset="0.525" stop-color="#cd4400"/><stop offset="0.65" stop-color="#db6600"/><stop offset="0.775" stop-color="#e89200"/><stop offset="0.875" stop-color="#f3be00"/><stop offset="0.95" stop-color="#fae300"/><stop offset="1" stop-color="#ff0"/></linearGradient><linearGradient id="f81" gradientUnits="userSpaceOnUse" x1="9.9" y1="62.2" x2="20.6" y2="129.5"><stop offset="0" stop-color="#8004ff"/><stop offset=".815" stop-color="#7f04ff"/><stop offset=".959" stop-color="#7d04ff"/><stop offset="1" stop-color="#7f04ff"/></linearGradient><linearGradient id="f80" gradientUnits="userSpaceOnUse" x1="9.8" y1="61.7" x2="20.6" y2="129.5"><stop offset="0" stop-color="#8305fe"/><stop offset=".811" stop-color="#8104ff"/><stop offset=".959" stop-color="#7d04ff"/><stop offset="1" stop-color="#7f04ff"/></linearGradient><linearGradient id="f79" gradientUnits="userSpaceOnUse" x1="9.6" y1="60.5" x2="20.6" y2="129.5"><stop offset="0" stop-color="#8906f8"/><stop offset=".805" stop-color="#8405fd"/><stop offset=".98" stop-color="#7e04ff"/><stop offset="1" stop-color="#7f04ff"/></linearGradient><linearGradient id="f78" gradientUnits="userSpaceOnUse" x1="9.4" y1="59.2" x2="20.8" y2="131"><stop offset="0" stop-color="#8f08ea"/><stop offset=".491" stop-color="#8b07f5"/><stop offset=".758" stop-color="#8806f9"/><stop offset=".909" stop-color="#8104ff"/><stop offset=".96" stop-color="#7e04ff"/><stop offset="1" stop-color="#7f04ff"/></linearGradient><linearGradient id="f77" gradientUnits="userSpaceOnUse" x1="9.3" y1="58.2" x2="20.8" y2="131"><stop offset="0" stop-color="#9309dc"/><stop offset=".4" stop-color="#8e08ec"/><stop offset=".754" stop-color="#8b07f4"/><stop offset=".881" stop-color="#8405fe"/><stop offset=".979" stop-color="#7f04ff"/><stop offset="1" stop-color="#7f04ff"/></linearGradient><linearGradient id="f76" gradientUnits="userSpaceOnUse" x1="9.1" y1="57.4" x2="20.8" y2="131"><stop offset="0" stop-color="#970bce"/><stop offset=".377" stop-color="#9109e3"/><stop offset=".727" stop-color="#8e07ee"/><stop offset=".879" stop-color="#8505fd"/><stop offset="1" stop-color="#7f04ff"/></linearGradient><linearGradient id="f75" gradientUnits="userSpaceOnUse" x1="9" y1="56.7" x2="20.8" y2="131"><stop offset="0" stop-color="#9a0cbe"/><stop offset=".354" stop-color="#940ad9"/><stop offset=".747" stop-color="#8f08ea"/><stop offset=".85" stop-color="#8806f9"/><stop offset=".955" stop-color="#8004ff"/><stop offset="1" stop-color="#7f04ff"/></linearGradient><linearGradient id="f74" gradientUnits="userSpaceOnUse" x1="8.9" y1="55.8" x2="20.8" y2="131"><stop offset="0" stop-color="#9e0eac"/><stop offset=".374" stop-color="#970bcf"/><stop offset=".72" stop-color="#9209e1"/><stop offset=".874" stop-color="#8806fa"/><stop offset=".979" stop-color="#7f04ff"/><stop offset="1" stop-color="#7f04ff"/></linearGradient><linearGradient id="f73" gradientUnits="userSpaceOnUse" x1="8.7" y1="55" x2="21.1" y2="132.8"><stop offset="0" stop-color="#a11097"/><stop offset=".343" stop-color="#9a0cc1"/><stop offset=".701" stop-color="#940ad9"/><stop offset=".852" stop-color="#8906f8"/><stop offset=".955" stop-color="#8004ff"/><stop offset="1" stop-color="#7e04ff"/></linearGradient><linearGradient id="f72" gradientUnits="userSpaceOnUse" x1="8.6" y1="54.2" x2="21.1" y2="132.8"><stop offset="0" stop-color="#a41280"/><stop offset=".321" stop-color="#9d0eb0"/><stop offset=".509" stop-color="#9a0cc1"/><stop offset=".676" stop-color="#970bce"/><stop offset=".744" stop-color="#940ada"/><stop offset=".797" stop-color="#8f08ea"/><stop offset=".877" stop-color="#8806f9"/><stop offset=".954" stop-color="#8104ff"/><stop offset="1" stop-color="#7e04ff"/></linearGradient><linearGradient id="f71" gradientUnits="userSpaceOnUse" x1="8.5" y1="53.4" x2="21.1" y2="132.8"><stop offset="0" stop-color="#a8156a"/><stop offset=".32" stop-color="#9f0fa1"/><stop offset=".486" stop-color="#9c0eb3"/><stop offset=".673" stop-color="#990cc4"/><stop offset=".718" stop-color="#970bcc"/><stop offset=".822" stop-color="#8e08ed"/><stop offset=".875" stop-color="#8906f8"/><stop offset=".953" stop-color="#8104ff"/><stop offset="1" stop-color="#7e04ff"/></linearGradient><linearGradient id="f70" gradientUnits="userSpaceOnUse" x1="8.4" y1="52.6" x2="21.1" y2="132.8"><stop offset="0" stop-color="#ab1752"/><stop offset=".319" stop-color="#a21192"/><stop offset=".546" stop-color="#9e0eac"/><stop offset=".67" stop-color="#9b0dba"/><stop offset=".715" stop-color="#990cc3"/><stop offset=".82" stop-color="#9008e9"/><stop offset=".874" stop-color="#8a06f6"/><stop offset=".952" stop-color="#8204ff"/><stop offset="1" stop-color="#7e04ff"/></linearGradient><linearGradient id="f69" gradientUnits="userSpaceOnUse" x1="8.2" y1="51.8" x2="21.4" y2="134.7"><stop offset="0" stop-color="#ae1a38"/><stop offset=".29" stop-color="#a5137c"/><stop offset=".411" stop-color="#a21190"/><stop offset=".652" stop-color="#9d0eae"/><stop offset=".695" stop-color="#9b0db9"/><stop offset=".798" stop-color="#9109e5"/><stop offset=".851" stop-color="#8b07f4"/><stop offset=".903" stop-color="#8505fc"/><stop offset=".976" stop-color="#7e04ff"/><stop offset="1" stop-color="#7c03fe"/></linearGradient><linearGradient id="f68" gradientUnits="userSpaceOnUse" x1="8.1" y1="51" x2="21.4" y2="134.7"><stop offset="0" stop-color="#b11c1e"/><stop offset=".31" stop-color="#a7146e"/><stop offset=".41" stop-color="#a51280"/><stop offset=".649" stop-color="#9f0fa2"/><stop offset=".692" stop-color="#9d0eaf"/><stop offset=".743" stop-color="#980cc7"/><stop offset=".796" stop-color="#9209e0"/><stop offset=".85" stop-color="#8c07f2"/><stop offset=".902" stop-color="#8605fc"/><stop offset=".976" stop-color="#7e04ff"/><stop offset="1" stop-color="#7c03fe"/></linearGradient><linearGradient id="f67" gradientUnits="userSpaceOnUse" x1="8" y1="50.2" x2="21.4" y2="134.7"><stop offset="0" stop-color="#b41f03"/><stop offset=".329" stop-color="#a91660"/><stop offset=".547" stop-color="#a41285"/><stop offset=".626" stop-color="#a21191"/><stop offset=".668" stop-color="#a0109b"/><stop offset=".714" stop-color="#9d0eaf"/><stop offset=".768" stop-color="#970bce"/><stop offset=".822" stop-color="#9108e6"/><stop offset=".875" stop-color="#8a06f6"/><stop offset=".927" stop-color="#8405fe"/><stop offset="1" stop-color="#7c03fe"/></linearGradient><linearGradient id="f66" gradientUnits="userSpaceOnUse" x1="7.8" y1="49.4" x2="21.4" y2="134.7"><stop offset="0" stop-color="#b72300"/><stop offset=".082" stop-color="#b42001"/><stop offset=".308" stop-color="#ac1848"/><stop offset=".427" stop-color="#a91561"/><stop offset=".624" stop-color="#a41283"/><stop offset=".665" stop-color="#a2118f"/><stop offset=".711" stop-color="#9f0fa4"/><stop offset=".766" stop-color="#980cc7"/><stop offset=".82" stop-color="#9209e2"/><stop offset=".874" stop-color="#8b07f4"/><stop offset=".926" stop-color="#8405fd"/><stop offset=".977" stop-color="#7e04ff"/><stop offset="1" stop-color="#7c03fe"/></linearGradient><linearGradient id="f65" gradientUnits="userSpaceOnUse" x1="7.7" y1="48.6" x2="21.4" y2="134.7"><stop offset="0" stop-color="#ba2600"/><stop offset=".143" stop-color="#b52000"/><stop offset=".163" stop-color="#b41f03"/><stop offset=".308" stop-color="#ae1a34"/><stop offset=".387" stop-color="#ac1847"/><stop offset=".622" stop-color="#a61375"/><stop offset=".685" stop-color="#a3118b"/><stop offset=".709" stop-color="#a11099"/><stop offset=".764" stop-color="#9a0cc0"/><stop offset=".819" stop-color="#9309de"/><stop offset=".873" stop-color="#8c07f2"/><stop offset=".925" stop-color="#8505fd"/><stop offset=".976" stop-color="#7e04ff"/><stop offset="1" stop-color="#7c03fe"/></linearGradient><linearGradient id="f64" gradientUnits="userSpaceOnUse" x1="7.6" y1="47.7" x2="21.4" y2="134.7"><stop offset="0" stop-color="#bd2a00"/><stop offset=".204" stop-color="#b52100"/><stop offset=".225" stop-color="#b42003"/><stop offset=".327" stop-color="#b01c25"/><stop offset=".425" stop-color="#ad193d"/><stop offset=".619" stop-color="#a81566"/><stop offset=".66" stop-color="#a61474"/><stop offset=".683" stop-color="#a5137e"/><stop offset=".707" stop-color="#a3118d"/><stop offset=".762" stop-color="#9b0db8"/><stop offset=".79" stop-color="#980bca"/><stop offset=".845" stop-color="#9008e6"/><stop offset=".899" stop-color="#8906f7"/><stop offset=".95" stop-color="#8205fe"/><stop offset="1" stop-color="#7c03fe"/></linearGradient><linearGradient id="f63" gradientUnits="userSpaceOnUse" x1="7.4" y1="46.8" x2="21.4" y2="134.7"><stop offset="0" stop-color="#c02e00"/><stop offset=".265" stop-color="#b52100"/><stop offset=".286" stop-color="#b42002"/><stop offset=".385" stop-color="#b11c1f"/><stop offset=".617" stop-color="#aa1755"/><stop offset=".658" stop-color="#a81564"/><stop offset=".704" stop-color="#a51280"/><stop offset=".76" stop-color="#9d0eaf"/><stop offset=".788" stop-color="#990cc3"/><stop offset=".843" stop-color="#9209e2"/><stop offset=".871" stop-color="#8e07ee"/><stop offset=".924" stop-color="#8605fb"/><stop offset=".975" stop-color="#7f04ff"/><stop offset="1" stop-color="#7c03fe"/></linearGradient><linearGradient id="f62" gradientUnits="userSpaceOnUse" x1="7.3" y1="45.9" x2="21.4" y2="134.7"><stop offset="0" stop-color="#c33300"/><stop offset=".345" stop-color="#b42000"/><stop offset=".615" stop-color="#ac1844"/><stop offset=".655" stop-color="#aa1754"/><stop offset=".702" stop-color="#a61472"/><stop offset=".758" stop-color="#9f0fa5"/><stop offset=".786" stop-color="#9b0dbb"/><stop offset=".842" stop-color="#9309de"/><stop offset=".87" stop-color="#8f08eb"/><stop offset=".923" stop-color="#8706fa"/><stop offset=".975" stop-color="#8004ff"/><stop offset="1" stop-color="#7c03fe"/></linearGradient><linearGradient id="f61" gradientUnits="userSpaceOnUse" x1="7.2" y1="45.1" x2="21.4" y2="134.7"><stop offset="0" stop-color="#c63800"/><stop offset=".324" stop-color="#b72300"/><stop offset=".421" stop-color="#b42000"/><stop offset=".612" stop-color="#ae1a33"/><stop offset=".653" stop-color="#ac1844"/><stop offset=".675" stop-color="#ab1752"/><stop offset=".7" stop-color="#a81565"/><stop offset=".757" stop-color="#a0109c"/><stop offset=".785" stop-color="#9c0eb4"/><stop offset=".813" stop-color="#980cc9"/><stop offset=".869" stop-color="#9008e9"/><stop offset=".923" stop-color="#8806fa"/><stop offset=".975" stop-color="#8004ff"/><stop offset="1" stop-color="#7c03fe"/></linearGradient><linearGradient id="f60" gradientUnits="userSpaceOnUse" x1="7" y1="44.3" x2="21.4" y2="134.7"><stop offset="0" stop-color="#c83c00"/><stop offset=".343" stop-color="#b92500"/><stop offset=".477" stop-color="#b42000"/><stop offset=".591" stop-color="#b11c1e"/><stop offset=".631" stop-color="#af1b2c"/><stop offset=".651" stop-color="#ae1a36"/><stop offset=".674" stop-color="#ac1844"/><stop offset=".698" stop-color="#aa1658"/><stop offset=".755" stop-color="#a21193"/><stop offset=".784" stop-color="#9e0ead"/><stop offset=".84" stop-color="#950ad7"/><stop offset=".868" stop-color="#9008e6"/><stop offset=".922" stop-color="#8806f9"/><stop offset=".974" stop-color="#8004ff"/><stop offset="1" stop-color="#7c03fe"/></linearGradient><linearGradient id="f59" gradientUnits="userSpaceOnUse" x1="6.9" y1="43.6" x2="21.4" y2="134.7"><stop offset="0" stop-color="#cb4000"/><stop offset=".343" stop-color="#bb2700"/><stop offset=".533" stop-color="#b42000"/><stop offset=".609" stop-color="#b21d16"/><stop offset=".65" stop-color="#b01b29"/><stop offset=".672" stop-color="#ae1a38"/><stop offset=".696" stop-color="#ab174d"/><stop offset=".754" stop-color="#a3118c"/><stop offset=".811" stop-color="#9a0cbe"/><stop offset=".839" stop-color="#960ad3"/><stop offset=".868" stop-color="#9109e4"/><stop offset=".895" stop-color="#8d07f0"/><stop offset=".948" stop-color="#8505fd"/><stop offset="1" stop-color="#7c03fe"/></linearGradient><linearGradient id="f58" gradientUnits="userSpaceOnUse" x1="6.8" y1="43" x2="21.4" y2="134.6"><stop offset="0" stop-color="#cd4400"/><stop offset=".342" stop-color="#bc2900"/><stop offset=".569" stop-color="#b52000"/><stop offset=".588" stop-color="#b42003"/><stop offset=".627" stop-color="#b21e12"/><stop offset=".648" stop-color="#b11d1d"/><stop offset=".67" stop-color="#af1b2d"/><stop offset=".695" stop-color="#ad1843"/><stop offset=".753" stop-color="#a41284"/><stop offset=".81" stop-color="#9b0dba"/><stop offset=".839" stop-color="#970bd0"/><stop offset=".867" stop-color="#9209e2"/><stop offset=".922" stop-color="#8906f7"/><stop offset=".948" stop-color="#8505fd"/><stop offset="1" stop-color="#7c03fe"/></linearGradient><linearGradient id="f57" gradientUnits="userSpaceOnUse" x1="6.7" y1="42.3" x2="21.4" y2="134.6"><stop offset="0" stop-color="#cf4900"/><stop offset=".302" stop-color="#c02e00"/><stop offset=".606" stop-color="#b52000"/><stop offset=".626" stop-color="#b41f04"/><stop offset=".647" stop-color="#b31e0f"/><stop offset=".669" stop-color="#b11c1f"/><stop offset=".693" stop-color="#ae1a36"/><stop offset=".752" stop-color="#a5137b"/><stop offset=".781" stop-color="#a11099"/><stop offset=".838" stop-color="#970bcc"/><stop offset=".867" stop-color="#9309df"/><stop offset=".894" stop-color="#8e08ed"/><stop offset=".948" stop-color="#8505fc"/><stop offset=".974" stop-color="#8104ff"/><stop offset="1" stop-color="#7d03fe"/></linearGradient><linearGradient id="f56" gradientUnits="userSpaceOnUse" x1="6.6" y1="41.6" x2="21.4" y2="134.6"><stop offset="0" stop-color="#d14d00"/><stop offset=".341" stop-color="#c02e00"/><stop offset=".624" stop-color="#b52100"/><stop offset=".645" stop-color="#b42003"/><stop offset=".667" stop-color="#b21e13"/><stop offset=".692" stop-color="#af1b2b"/><stop offset=".751" stop-color="#a61473"/><stop offset=".78" stop-color="#a21193"/><stop offset=".837" stop-color="#980cc8"/><stop offset=".866" stop-color="#9309dc"/><stop offset=".894" stop-color="#8f08eb"/><stop offset=".921" stop-color="#8a06f6"/><stop offset=".974" stop-color="#8104ff"/><stop offset="1" stop-color="#7d03fe"/></linearGradient><linearGradient id="f55" gradientUnits="userSpaceOnUse" x1="6.8" y1="42.5" x2="21.4" y2="134.6"><stop offset="0" stop-color="#ce4700"/><stop offset=".322" stop-color="#be2c00"/><stop offset=".607" stop-color="#b42001"/><stop offset=".626" stop-color="#b31f09"/><stop offset=".669" stop-color="#b01c24"/><stop offset=".694" stop-color="#ad193b"/><stop offset=".752" stop-color="#a5137f"/><stop offset=".781" stop-color="#a0109c"/><stop offset=".838" stop-color="#970bcd"/><stop offset=".867" stop-color="#9209e0"/><stop offset=".921" stop-color="#8906f7"/><stop offset=".974" stop-color="#8104ff"/><stop offset="1" stop-color="#7d03fe"/></linearGradient><linearGradient id="f54" gradientUnits="userSpaceOnUse" x1="6.9" y1="43.2" x2="21.4" y2="134.7"><stop offset="0" stop-color="#cc4300"/><stop offset=".303" stop-color="#bd2b00"/><stop offset=".57" stop-color="#b42001"/><stop offset=".628" stop-color="#b21d16"/><stop offset=".649" stop-color="#b11c21"/><stop offset=".671" stop-color="#af1a30"/><stop offset=".696" stop-color="#ac1846"/><stop offset=".753" stop-color="#a41286"/><stop offset=".782" stop-color="#9f0fa2"/><stop offset=".839" stop-color="#960bd1"/><stop offset=".867" stop-color="#9209e2"/><stop offset=".895" stop-color="#8d07ef"/><stop offset=".922" stop-color="#8906f8"/><stop offset=".974" stop-color="#8104ff"/><stop offset="1" stop-color="#7c03fe"/></linearGradient><linearGradient id="f53" gradientUnits="userSpaceOnUse" x1="7" y1="43.9" x2="21.4" y2="134.7"><stop offset="0" stop-color="#ca3e00"/><stop offset=".343" stop-color="#ba2600"/><stop offset=".515" stop-color="#b42001"/><stop offset=".59" stop-color="#b21d16"/><stop offset=".63" stop-color="#b01c24"/><stop offset=".65" stop-color="#af1b2f"/><stop offset=".673" stop-color="#ad193e"/><stop offset=".697" stop-color="#ab1752"/><stop offset=".755" stop-color="#a2118f"/><stop offset=".811" stop-color="#9a0cc1"/><stop offset=".84" stop-color="#950ad5"/><stop offset=".868" stop-color="#9109e5"/><stop offset=".895" stop-color="#8d07f1"/><stop offset=".922" stop-color="#8806f9"/><stop offset=".974" stop-color="#8004ff"/><stop offset="1" stop-color="#7c03fe"/></linearGradient><linearGradient id="f52" gradientUnits="userSpaceOnUse" x1="7.1" y1="44.9" x2="21.4" y2="134.7"><stop offset="0" stop-color="#c63900"/><stop offset=".343" stop-color="#b72300"/><stop offset=".439" stop-color="#b42000"/><stop offset=".612" stop-color="#af1b2e"/><stop offset=".652" stop-color="#ad1940"/><stop offset=".675" stop-color="#ab174d"/><stop offset=".699" stop-color="#a91561"/><stop offset=".756" stop-color="#a1109a"/><stop offset=".784" stop-color="#9d0eb2"/><stop offset=".841" stop-color="#940ad9"/><stop offset=".869" stop-color="#9008e8"/><stop offset=".896" stop-color="#8c07f3"/><stop offset=".949" stop-color="#8405fe"/><stop offset="1" stop-color="#7c03fe"/></linearGradient><linearGradient id="f51" gradientUnits="userSpaceOnUse" x1="7.3" y1="45.9" x2="21.4" y2="134.8"><stop offset="0" stop-color="#c33300"/><stop offset=".344" stop-color="#b52000"/><stop offset=".363" stop-color="#b42002"/><stop offset=".614" stop-color="#ad1942"/><stop offset=".655" stop-color="#ab1752"/><stop offset=".677" stop-color="#a9165f"/><stop offset=".701" stop-color="#a71471"/><stop offset=".758" stop-color="#9f0fa5"/><stop offset=".786" stop-color="#9b0dbb"/><stop offset=".842" stop-color="#9309de"/><stop offset=".897" stop-color="#8b07f5"/><stop offset=".949" stop-color="#8305fe"/><stop offset="1" stop-color="#7c03fe"/></linearGradient><linearGradient id="f50" gradientUnits="userSpaceOnUse" x1="7.5" y1="46.9" x2="21.4" y2="134.8"><stop offset="0" stop-color="#c02e00"/><stop offset=".285" stop-color="#b42001"/><stop offset=".364" stop-color="#b11d1a"/><stop offset=".616" stop-color="#aa1755"/><stop offset=".657" stop-color="#a81564"/><stop offset=".704" stop-color="#a51280"/><stop offset=".76" stop-color="#9d0eaf"/><stop offset=".787" stop-color="#990cc3"/><stop offset=".843" stop-color="#9109e3"/><stop offset=".897" stop-color="#8a06f6"/><stop offset=".924" stop-color="#8605fc"/><stop offset=".975" stop-color="#7f04ff"/><stop offset="1" stop-color="#7c03fe"/></linearGradient><linearGradient id="f49" gradientUnits="userSpaceOnUse" x1="7.6" y1="47.7" x2="21.4" y2="134.9"><stop offset="0" stop-color="#bd2a00"/><stop offset=".224" stop-color="#b42001"/><stop offset=".306" stop-color="#b11c1e"/><stop offset=".385" stop-color="#ae1a33"/><stop offset=".618" stop-color="#a81565"/><stop offset=".659" stop-color="#a61473"/><stop offset=".706" stop-color="#a3118d"/><stop offset=".761" stop-color="#9b0db8"/><stop offset=".816" stop-color="#940ada"/><stop offset=".871" stop-color="#8c07f1"/><stop offset=".924" stop-color="#8505fc"/><stop offset=".975" stop-color="#7f04ff"/><stop offset="1" stop-color="#7b03fe"/></linearGradient><linearGradient id="f48" gradientUnits="userSpaceOnUse" x1="7.7" y1="48.5" x2="21.4" y2="134.9"><stop offset="0" stop-color="#ba2700"/><stop offset=".163" stop-color="#b42000"/><stop offset=".307" stop-color="#af1a31"/><stop offset=".406" stop-color="#ac1849"/><stop offset=".62" stop-color="#a61473"/><stop offset=".662" stop-color="#a51280"/><stop offset=".684" stop-color="#a3118a"/><stop offset=".708" stop-color="#a11098"/><stop offset=".763" stop-color="#9a0cbf"/><stop offset=".817" stop-color="#9309dd"/><stop offset=".872" stop-color="#8c07f2"/><stop offset=".924" stop-color="#8505fd"/><stop offset=".975" stop-color="#7e04ff"/><stop offset="1" stop-color="#7b03fe"/></linearGradient><linearGradient id="f47" gradientUnits="userSpaceOnUse" x1="7.8" y1="49" x2="21.4" y2="134.9"><stop offset="0" stop-color="#b82400"/><stop offset=".102" stop-color="#b52000"/><stop offset=".143" stop-color="#b31f0b"/><stop offset=".308" stop-color="#ad1940"/><stop offset=".387" stop-color="#ab1753"/><stop offset=".622" stop-color="#a5137e"/><stop offset=".663" stop-color="#a31289"/><stop offset=".709" stop-color="#a00f9f"/><stop offset=".764" stop-color="#990cc4"/><stop offset=".818" stop-color="#9209e0"/><stop offset=".872" stop-color="#8b07f3"/><stop offset=".924" stop-color="#8505fd"/><stop offset=".975" stop-color="#7e04ff"/><stop offset="1" stop-color="#7b03fe"/></linearGradient><linearGradient id="f46" gradientUnits="userSpaceOnUse" x1="7.9" y1="49.5" x2="21.4" y2="134.9"><stop offset="0" stop-color="#b62200"/><stop offset=".061" stop-color="#b42000"/><stop offset=".288" stop-color="#ac1847"/><stop offset=".368" stop-color="#aa165a"/><stop offset=".623" stop-color="#a41286"/><stop offset=".665" stop-color="#a21191"/><stop offset=".71" stop-color="#9f0fa6"/><stop offset=".765" stop-color="#980cc8"/><stop offset=".819" stop-color="#9209e2"/><stop offset=".872" stop-color="#8b07f4"/><stop offset=".924" stop-color="#8505fd"/><stop offset=".975" stop-color="#7e04ff"/><stop offset="1" stop-color="#7b03fe"/></linearGradient><linearGradient id="f45" gradientUnits="userSpaceOnUse" x1="7.9" y1="49.9" x2="21.4" y2="134.9"><stop offset="0" stop-color="#b52000"/><stop offset=".021" stop-color="#b42002"/><stop offset=".309" stop-color="#aa1657"/><stop offset=".409" stop-color="#a7146b"/><stop offset=".645" stop-color="#a21191"/><stop offset=".688" stop-color="#a00f9f"/><stop offset=".765" stop-color="#980bcb"/><stop offset=".819" stop-color="#9109e4"/><stop offset=".872" stop-color="#8b07f5"/><stop offset=".924" stop-color="#8505fd"/><stop offset=".975" stop-color="#7e04ff"/><stop offset="1" stop-color="#7b03fe"/></linearGradient><linearGradient id="f44" gradientUnits="userSpaceOnUse" x1="8" y1="50.3" x2="21.4" y2="134.9"><stop offset="0" stop-color="#b31f08"/><stop offset=".289" stop-color="#a9165c"/><stop offset=".39" stop-color="#a71471"/><stop offset=".626" stop-color="#a21194"/><stop offset=".667" stop-color="#a0109d"/><stop offset=".713" stop-color="#9d0eaf"/><stop offset=".766" stop-color="#970bce"/><stop offset=".819" stop-color="#9109e5"/><stop offset=".872" stop-color="#8a07f5"/><stop offset=".924" stop-color="#8405fd"/><stop offset=".975" stop-color="#7e04ff"/><stop offset="1" stop-color="#7b03fe"/></linearGradient><linearGradient id="f43" gradientUnits="userSpaceOnUse" x1="8.1" y1="50.7" x2="21.4" y2="134.9"><stop offset="0" stop-color="#b21d15"/><stop offset=".29" stop-color="#a81566"/><stop offset=".39" stop-color="#a61379"/><stop offset=".647" stop-color="#a0109d"/><stop offset=".69" stop-color="#9e0eaa"/><stop offset=".793" stop-color="#930adc"/><stop offset=".846" stop-color="#8d07ef"/><stop offset=".898" stop-color="#8706fa"/><stop offset=".949" stop-color="#8204ff"/><stop offset="1" stop-color="#7b03fe"/></linearGradient><linearGradient id="f42" gradientUnits="userSpaceOnUse" x1="8.1" y1="51.1" x2="21.4" y2="134.9"><stop offset="0" stop-color="#b11c21"/><stop offset=".27" stop-color="#a8156a"/><stop offset=".371" stop-color="#a5137e"/><stop offset=".648" stop-color="#9f0fa3"/><stop offset=".691" stop-color="#9d0eaf"/><stop offset=".715" stop-color="#9b0db8"/><stop offset=".767" stop-color="#960ad3"/><stop offset=".82" stop-color="#9008e8"/><stop offset=".873" stop-color="#8a06f6"/><stop offset=".948" stop-color="#8204ff"/><stop offset="1" stop-color="#7b03fe"/></linearGradient><linearGradient id="f41" gradientUnits="userSpaceOnUse" x1="8.2" y1="51.5" x2="21.4" y2="134.8"><stop offset="0" stop-color="#af1b2d"/><stop offset=".25" stop-color="#a7146f"/><stop offset=".352" stop-color="#a41284"/><stop offset=".649" stop-color="#9e0fa9"/><stop offset=".692" stop-color="#9c0eb3"/><stop offset=".794" stop-color="#9209e0"/><stop offset=".847" stop-color="#8c07f1"/><stop offset=".898" stop-color="#8706fb"/><stop offset=".974" stop-color="#7e04ff"/><stop offset="1" stop-color="#7b03fe"/></linearGradient><linearGradient id="f40" gradientUnits="userSpaceOnUse" x1="8.2" y1="51.9" x2="21.4" y2="134.8"><stop offset="0" stop-color="#ae193a"/><stop offset=".23" stop-color="#a61375"/><stop offset=".353" stop-color="#a3118d"/><stop offset=".651" stop-color="#9d0eae"/><stop offset=".693" stop-color="#9b0db8"/><stop offset=".795" stop-color="#9209e2"/><stop offset=".847" stop-color="#8c07f2"/><stop offset=".899" stop-color="#8706fb"/><stop offset=".974" stop-color="#7f04ff"/><stop offset="1" stop-color="#7b03fe"/></linearGradient><linearGradient id="f39" gradientUnits="userSpaceOnUse" x1="8.3" y1="52.3" x2="21.4" y2="134.8"><stop offset="0" stop-color="#ac1847"/><stop offset=".21" stop-color="#a5137b"/><stop offset=".354" stop-color="#a11096"/><stop offset=".652" stop-color="#9c0db4"/><stop offset=".695" stop-color="#9a0dbd"/><stop offset=".796" stop-color="#9109e4"/><stop offset=".873" stop-color="#8906f8"/><stop offset=".948" stop-color="#8204ff"/><stop offset="1" stop-color="#7c03fe"/></linearGradient><linearGradient id="f38" gradientUnits="userSpaceOnUse" x1="8.4" y1="52.7" x2="21.4" y2="134.8"><stop offset="0" stop-color="#aa1754"/><stop offset=".211" stop-color="#a41286"/><stop offset=".334" stop-color="#a0109c"/><stop offset=".534" stop-color="#9d0eb0"/><stop offset=".654" stop-color="#9b0dba"/><stop offset=".696" stop-color="#990cc2"/><stop offset=".796" stop-color="#9108e6"/><stop offset=".874" stop-color="#8906f8"/><stop offset=".948" stop-color="#8204ff"/><stop offset="1" stop-color="#7c03fe"/></linearGradient><linearGradient id="f37" gradientUnits="userSpaceOnUse" x1="8.4" y1="53.1" x2="21.4" y2="134.8"><stop offset="0" stop-color="#a91561"/><stop offset=".19" stop-color="#a3118d"/><stop offset=".335" stop-color="#9f0fa5"/><stop offset=".536" stop-color="#9c0db7"/><stop offset=".655" stop-color="#9a0cc0"/><stop offset=".698" stop-color="#980cc7"/><stop offset=".797" stop-color="#9008e8"/><stop offset=".874" stop-color="#8806f8"/><stop offset=".948" stop-color="#8204ff"/><stop offset="1" stop-color="#7c03fe"/></linearGradient><linearGradient id="f36" gradientUnits="userSpaceOnUse" x1="8.5" y1="53.5" x2="21.4" y2="134.8"><stop offset="0" stop-color="#a7146d"/><stop offset=".128" stop-color="#a3118b"/><stop offset=".254" stop-color="#9f0fa2"/><stop offset=".377" stop-color="#9d0eb2"/><stop offset=".657" stop-color="#990cc6"/><stop offset=".699" stop-color="#970bcc"/><stop offset=".824" stop-color="#8d07f0"/><stop offset=".899" stop-color="#8605fc"/><stop offset=".974" stop-color="#7f04ff"/><stop offset="1" stop-color="#7c03fe"/></linearGradient><linearGradient id="f35" gradientUnits="userSpaceOnUse" x1="8.6" y1="54" x2="21.4" y2="134.8"><stop offset="0" stop-color="#a5137a"/><stop offset=".15" stop-color="#a1109b"/><stop offset=".296" stop-color="#9d0eb2"/><stop offset=".459" stop-color="#9a0cc0"/><stop offset=".659" stop-color="#980bcb"/><stop offset=".724" stop-color="#950ad6"/><stop offset=".799" stop-color="#8f08eb"/><stop offset=".85" stop-color="#8a06f6"/><stop offset=".948" stop-color="#8204ff"/><stop offset="1" stop-color="#7c03fe"/></linearGradient><linearGradient id="f34" gradientUnits="userSpaceOnUse" x1="8.6" y1="54.4" x2="21.4" y2="134.7"><stop offset="0" stop-color="#a41286"/><stop offset=".129" stop-color="#9f0fa1"/><stop offset=".235" stop-color="#9c0eb3"/><stop offset=".42" stop-color="#990cc5"/><stop offset=".66" stop-color="#960bd1"/><stop offset=".725" stop-color="#940ada"/><stop offset=".825" stop-color="#8c07f2"/><stop offset=".899" stop-color="#8605fc"/><stop offset=".974" stop-color="#7f04ff"/><stop offset="1" stop-color="#7c03fe"/></linearGradient><linearGradient id="f33" gradientUnits="userSpaceOnUse" x1="8.7" y1="54.8" x2="21.4" y2="134.7"><stop offset="0" stop-color="#a21192"/><stop offset=".152" stop-color="#9d0eb0"/><stop offset=".278" stop-color="#9a0cc1"/><stop offset=".442" stop-color="#970bcd"/><stop offset=".683" stop-color="#950ad8"/><stop offset=".727" stop-color="#9309de"/><stop offset=".801" stop-color="#8d07ef"/><stop offset=".9" stop-color="#8505fc"/><stop offset=".974" stop-color="#7f04ff"/><stop offset="1" stop-color="#7c03fe"/></linearGradient><linearGradient id="f32" gradientUnits="userSpaceOnUse" x1="8.8" y1="55.3" x2="21.4" y2="134.7"><stop offset="0" stop-color="#a0109e"/><stop offset=".131" stop-color="#9c0db8"/><stop offset=".259" stop-color="#980cc8"/><stop offset=".424" stop-color="#960ad4"/><stop offset=".686" stop-color="#9309dd"/><stop offset=".753" stop-color="#9008e7"/><stop offset=".827" stop-color="#8b07f5"/><stop offset=".924" stop-color="#8405fe"/><stop offset="1" stop-color="#7c03fe"/></linearGradient><linearGradient id="f31" gradientUnits="userSpaceOnUse" x1="8.9" y1="55.8" x2="21.4" y2="134.6"><stop offset="0" stop-color="#9e0eab"/><stop offset=".132" stop-color="#990cc3"/><stop offset=".26" stop-color="#960bd2"/><stop offset=".446" stop-color="#9309dd"/><stop offset=".688" stop-color="#9209e2"/><stop offset=".876" stop-color="#8705fb"/><stop offset=".974" stop-color="#7f04ff"/><stop offset="1" stop-color="#7d03fe"/></linearGradient><linearGradient id="f30" gradientUnits="userSpaceOnUse" x1="9" y1="56.4" x2="21.4" y2="134.6"><stop offset="0" stop-color="#9c0db8"/><stop offset=".133" stop-color="#970bce"/><stop offset=".241" stop-color="#940ada"/><stop offset=".469" stop-color="#9109e5"/><stop offset=".713" stop-color="#8f08e9"/><stop offset=".853" stop-color="#8806fa"/><stop offset=".974" stop-color="#7f04ff"/><stop offset="1" stop-color="#7d04fe"/></linearGradient><linearGradient id="f29" gradientUnits="userSpaceOnUse" x1="9.1" y1="57" x2="21.4" y2="134.5"><stop offset="0" stop-color="#990cc5"/><stop offset=".135" stop-color="#940ada"/><stop offset=".265" stop-color="#9109e5"/><stop offset=".473" stop-color="#8e08ec"/><stop offset=".717" stop-color="#8d07ee"/><stop offset=".878" stop-color="#8605fc"/><stop offset="1" stop-color="#7d04ff"/></linearGradient><linearGradient id="f28" gradientUnits="userSpaceOnUse" x1="9.2" y1="57.6" x2="21.4" y2="134.4"><stop offset="0" stop-color="#960bd2"/><stop offset=".115" stop-color="#9109e3"/><stop offset=".247" stop-color="#8e08ee"/><stop offset=".519" stop-color="#8b07f4"/><stop offset=".743" stop-color="#8b07f5"/><stop offset=".975" stop-color="#8004ff"/><stop offset="1" stop-color="#7e04ff"/></linearGradient><linearGradient id="f27" gradientUnits="userSpaceOnUse" x1="9.3" y1="58.2" x2="21.3" y2="134.2"><stop offset="0" stop-color="#930adc"/><stop offset=".14" stop-color="#8e08ee"/><stop offset=".294" stop-color="#8a06f6"/><stop offset=".586" stop-color="#8806f9"/><stop offset=".792" stop-color="#8806f9"/><stop offset="1" stop-color="#7f04ff"/></linearGradient><linearGradient id="f26" gradientUnits="userSpaceOnUse" x1="9.3" y1="58.3" x2="21.3" y2="133.9"><stop offset="0" stop-color="#9309dd"/><stop offset=".14" stop-color="#8d07ef"/><stop offset=".295" stop-color="#8a06f7"/><stop offset=".548" stop-color="#8806fa"/><stop offset=".817" stop-color="#8706fa"/><stop offset="1" stop-color="#8004ff"/></linearGradient><linearGradient id="f25" gradientUnits="userSpaceOnUse" x1="9.2" y1="58.2" x2="21.2" y2="133.4"><stop offset="0" stop-color="#940adb"/><stop offset=".118" stop-color="#8f08eb"/><stop offset=".254" stop-color="#8b07f4"/><stop offset=".51" stop-color="#8806f9"/><stop offset=".822" stop-color="#8806f9"/><stop offset="1" stop-color="#8305fe"/></linearGradient><linearGradient id="f24" gradientUnits="userSpaceOnUse" x1="9.2" y1="57.9" x2="21.1" y2="132.5"><stop offset="0" stop-color="#950ad7"/><stop offset=".119" stop-color="#9008e8"/><stop offset=".234" stop-color="#8c07f1"/><stop offset=".493" stop-color="#8906f7"/><stop offset=".806" stop-color="#8a06f6"/><stop offset="1" stop-color="#8806fa"/></linearGradient><linearGradient id="f23" gradientUnits="userSpaceOnUse" x1="9.2" y1="57.7" x2="20.9" y2="131.3"><stop offset="0" stop-color="#960bd3"/><stop offset=".167" stop-color="#9008e9"/><stop offset=".368" stop-color="#8c07f2"/><stop offset=".603" stop-color="#8b07f4"/><stop offset=".812" stop-color="#8c07f1"/><stop offset=".98" stop-color="#8c07f1"/><stop offset="1" stop-color="#8d07f0"/></linearGradient><linearGradient id="f22" gradientUnits="userSpaceOnUse" x1="9.1" y1="57.4" x2="20.7" y2="130.3"><stop offset="0" stop-color="#970bce"/><stop offset=".144" stop-color="#9209e2"/><stop offset=".282" stop-color="#8f08eb"/><stop offset=".502" stop-color="#8d07f0"/><stop offset=".921" stop-color="#9008e9"/><stop offset=".981" stop-color="#9109e5"/><stop offset="1" stop-color="#9209e2"/></linearGradient><linearGradient id="f21" gradientUnits="userSpaceOnUse" x1="9.1" y1="57.2" x2="20.6" y2="129.5"><stop offset="0" stop-color="#980bca"/><stop offset=".169" stop-color="#9209e1"/><stop offset=".306" stop-color="#9008e9"/><stop offset=".547" stop-color="#8e08ed"/><stop offset=".922" stop-color="#9209e0"/><stop offset=".981" stop-color="#940ad9"/><stop offset="1" stop-color="#950ad5"/></linearGradient><linearGradient id="f20" gradientUnits="userSpaceOnUse" x1="9.1" y1="57" x2="20.5" y2="128.8"><stop offset="0" stop-color="#990cc5"/><stop offset=".146" stop-color="#940ada"/><stop offset=".239" stop-color="#9209e2"/><stop offset=".485" stop-color="#9008e9"/><stop offset=".635" stop-color="#9008e7"/><stop offset=".903" stop-color="#950ad8"/><stop offset=".981" stop-color="#970bcc"/><stop offset="1" stop-color="#980cc8"/></linearGradient><linearGradient id="f19" gradientUnits="userSpaceOnUse" x1="9" y1="56.8" x2="20.4" y2="128.2"><stop offset="0" stop-color="#9a0cc2"/><stop offset=".122" stop-color="#960ad4"/><stop offset=".24" stop-color="#9309de"/><stop offset=".464" stop-color="#9109e5"/><stop offset=".616" stop-color="#9109e3"/><stop offset=".864" stop-color="#960ad3"/><stop offset=".963" stop-color="#990cc5"/><stop offset="1" stop-color="#9b0dbb"/></linearGradient><linearGradient id="f18" gradientUnits="userSpaceOnUse" x1="9" y1="56.6" x2="20.3" y2="127.6"><stop offset="0" stop-color="#9a0dbd"/><stop offset=".122" stop-color="#970bd0"/><stop offset=".263" stop-color="#940adc"/><stop offset=".532" stop-color="#9209e1"/><stop offset=".638" stop-color="#9309de"/><stop offset=".845" stop-color="#970bcd"/><stop offset=".924" stop-color="#9a0cc1"/><stop offset=".982" stop-color="#9c0eb3"/><stop offset="1" stop-color="#9d0eae"/></linearGradient><linearGradient id="f17" gradientUnits="userSpaceOnUse" x1="9" y1="56.4" x2="20.2" y2="127.1"><stop offset="0" stop-color="#9b0db9"/><stop offset=".147" stop-color="#970bce"/><stop offset=".241" stop-color="#950ad6"/><stop offset=".467" stop-color="#930adc"/><stop offset=".619" stop-color="#940ada"/><stop offset=".845" stop-color="#990cc4"/><stop offset=".925" stop-color="#9c0db6"/><stop offset=".982" stop-color="#9f0fa7"/><stop offset="1" stop-color="#a00fa0"/></linearGradient><linearGradient id="f16" gradientUnits="userSpaceOnUse" x1="8.9" y1="56.2" x2="20.1" y2="126.6"><stop offset="0" stop-color="#9c0db4"/><stop offset=".147" stop-color="#980bc9"/><stop offset=".264" stop-color="#960bd3"/><stop offset=".534" stop-color="#950ad8"/><stop offset=".641" stop-color="#960ad3"/><stop offset=".846" stop-color="#9b0dbb"/><stop offset=".924" stop-color="#9e0eab"/><stop offset="1" stop-color="#a21193"/></linearGradient><linearGradient id="f15" gradientUnits="userSpaceOnUse" x1="8.9" y1="56" x2="20" y2="126.1"><stop offset="0" stop-color="#9d0eae"/><stop offset=".147" stop-color="#990cc4"/><stop offset=".287" stop-color="#970bce"/><stop offset=".535" stop-color="#960bd2"/><stop offset=".621" stop-color="#970bce"/><stop offset=".745" stop-color="#9a0cc0"/><stop offset=".846" stop-color="#9d0eb1"/><stop offset=".924" stop-color="#a00f9f"/><stop offset="1" stop-color="#a41286"/></linearGradient><linearGradient id="f14" gradientUnits="userSpaceOnUse" x1="8.8" y1="55.6" x2="20" y2="125.6"><stop offset="0" stop-color="#9f0fa6"/><stop offset=".147" stop-color="#9b0dbc"/><stop offset=".287" stop-color="#990cc6"/><stop offset=".535" stop-color="#980bca"/><stop offset=".621" stop-color="#990cc6"/><stop offset=".725" stop-color="#9b0dba"/><stop offset=".846" stop-color="#9f0fa6"/><stop offset=".924" stop-color="#a21192"/><stop offset="1" stop-color="#a61378"/></linearGradient><linearGradient id="f13" gradientUnits="userSpaceOnUse" x1="8.8" y1="55.2" x2="19.9" y2="125.3"><stop offset="0" stop-color="#a0109c"/><stop offset=".17" stop-color="#9c0db4"/><stop offset=".286" stop-color="#9b0dbc"/><stop offset=".556" stop-color="#9a0cc1"/><stop offset=".642" stop-color="#9b0dbb"/><stop offset=".805" stop-color="#9f0fa3"/><stop offset=".904" stop-color="#a3118c"/><stop offset="1" stop-color="#a7146e"/></linearGradient><linearGradient id="f12" gradientUnits="userSpaceOnUse" x1="8.7" y1="54.6" x2="19.9" y2="124.9"><stop offset="0" stop-color="#a3118c"/><stop offset=".144" stop-color="#9f0fa1"/><stop offset=".261" stop-color="#9e0eab"/><stop offset=".553" stop-color="#9d0eb1"/><stop offset=".638" stop-color="#9e0eab"/><stop offset=".843" stop-color="#a3118d"/><stop offset=".981" stop-color="#a8156a"/><stop offset="1" stop-color="#a81564"/></linearGradient><linearGradient id="f11" gradientUnits="userSpaceOnUse" x1="8.6" y1="53.8" x2="19.8" y2="124.6"><stop offset="0" stop-color="#a61376"/><stop offset=".119" stop-color="#a31288"/><stop offset=".257" stop-color="#a21194"/><stop offset=".547" stop-color="#a1109a"/><stop offset=".653" stop-color="#a21193"/><stop offset=".84" stop-color="#a5137b"/><stop offset=".96" stop-color="#a81563"/><stop offset="1" stop-color="#aa165a"/></linearGradient><linearGradient id="f10" gradientUnits="userSpaceOnUse" x1="8.4" y1="52.8" x2="19.8" y2="124.3"><stop offset="0" stop-color="#aa1658"/><stop offset=".163" stop-color="#a7146d"/><stop offset=".297" stop-color="#a61376"/><stop offset=".562" stop-color="#a5137c"/><stop offset=".752" stop-color="#a7146f"/><stop offset=".898" stop-color="#a9165f"/><stop offset="1" stop-color="#ab1750"/></linearGradient><linearGradient id="f9" gradientUnits="userSpaceOnUse" x1="8.2" y1="51.7" x2="19.7" y2="124"><stop offset="0" stop-color="#ae1a35"/><stop offset=".182" stop-color="#ac184a"/><stop offset=".447" stop-color="#aa1659"/><stop offset=".6" stop-color="#a9165c"/><stop offset=".875" stop-color="#ab1751"/><stop offset="1" stop-color="#ac1847"/></linearGradient><linearGradient id="f8" gradientUnits="userSpaceOnUse" x1="8" y1="50.5" x2="19.7" y2="123.7"><stop offset="0" stop-color="#b31e0f"/><stop offset=".201" stop-color="#b01c24"/><stop offset=".551" stop-color="#ad193c"/><stop offset=".894" stop-color="#ad1940"/><stop offset="1" stop-color="#ad193e"/></linearGradient><linearGradient id="f7" gradientUnits="userSpaceOnUse" x1="7.9" y1="49.4" x2="19.6" y2="123.4"><stop offset="0" stop-color="#b72300"/><stop offset=".241" stop-color="#b42001"/><stop offset=".633" stop-color="#b11c21"/><stop offset=".957" stop-color="#ae1a34"/><stop offset="1" stop-color="#ae1a35"/></linearGradient><linearGradient id="f6" gradientUnits="userSpaceOnUse" x1="7.7" y1="48.4" x2="19.6" y2="123.1"><stop offset="0" stop-color="#ba2700"/><stop offset=".586" stop-color="#b42000"/><stop offset="1" stop-color="#af1b2c"/></linearGradient><linearGradient id="f5" gradientUnits="userSpaceOnUse" x1="7.6" y1="47.5" x2="19.5" y2="122.8"><stop offset="0" stop-color="#bd2b00"/><stop offset=".757" stop-color="#b52000"/><stop offset=".802" stop-color="#b42003"/><stop offset="1" stop-color="#b11c21"/></linearGradient><linearGradient id="f4" gradientUnits="userSpaceOnUse" x1="7.5" y1="46.9" x2="19.5" y2="122.4"><stop offset="0" stop-color="#c02e00"/><stop offset=".799" stop-color="#b62200"/><stop offset=".888" stop-color="#b42000"/><stop offset="1" stop-color="#b21e14"/></linearGradient><linearGradient id="f3" gradientUnits="userSpaceOnUse" x1="7.3" y1="46.2" x2="19.3" y2="121.6"><stop offset="0" stop-color="#c23100"/><stop offset=".643" stop-color="#bc2900"/><stop offset="1" stop-color="#b52100"/></linearGradient><linearGradient id="f2" gradientUnits="userSpaceOnUse" x1="7.2" y1="45" x2="19" y2="119.5"><stop offset="0" stop-color="#c63800"/><stop offset=".753" stop-color="#c13000"/><stop offset="1" stop-color="#bc2a00"/></linearGradient><linearGradient id="f1" gradientUnits="userSpaceOnUse" x1="6.9" y1="43.7" x2="18.5" y2="116.6"><stop offset="0" stop-color="#ca3f00"/><stop offset=".912" stop-color="#c73a00"/><stop offset="1" stop-color="#c63900"/></linearGradient><linearGradient id="fw" gradientUnits="userSpaceOnUse" x1="96.6" y1="122.1" x2="115.2" y2="106.3"><stop offset="0" stop-color="#8004ff"/><stop offset="0.075" stop-color="#8706fa"/><stop offset="0.15" stop-color="#8f08ec"/><stop offset="0.175" stop-color="#980cc8"/><stop offset="0.2" stop-color="#a11096"/><stop offset="0.225" stop-color="#ab174f"/><stop offset="0.25" stop-color="#b42000"/><stop offset="0.425" stop-color="#c13000"/><stop offset="0.525" stop-color="#cd4400"/><stop offset="0.65" stop-color="#db6600"/><stop offset="0.775" stop-color="#e89200"/><stop offset="0.875" stop-color="#f3be00"/><stop offset="0.95" stop-color="#fae300"/><stop offset="1" stop-color="#ff0"/></linearGradient></defs><g transform="translate(0.00,0.00) scale(1.0)"><path stroke="#333" stroke-width=".55" fill="none" d="M96.6 134.7L249.4 110.4M96.6 134.7L41.7 69.9M249.4 110.4L247.5 108.1M249.4 110.4L249.4 108.2M96.6 134.7L95.7 133.6M117 131.5L116.1 130.4M137.4 128.2L136.5 127.1M157.7 125L156.8 123.9M178.1 121.7L177.2 120.6M198.5 118.5L197.6 117.4M218.9 115.3L218 114.2M239.3 112L238.4 110.9M249.4 110.4L248.5 109.3M87.1 123.4L90.7 122.5M75.1 109.3L78.7 108.4M63.2 95.3L66.8 94.4M51.2 81.2L54.8 80.3M41.7 69.9L45.3 69"/><g font-size="5.8" text-anchor="middle"><text x="98.2" y="141.5">0</text><text x="118.6" y="138.3">2</text><text x="139.0" y="135.0">4</text><text x="159.3" y="131.8">6</text><text x="179.7" y="128.5">8</text><text x="200.1" y="125.3">10</text><text x="220.5" y="122.1">12</text><text x="240.9" y="118.8">14</text><text x="79.3" y="127.6">5</text><text x="67.3" y="113.5">10</text><text x="55.4" y="99.5">15</text><text x="43.4" y="85.4">20</text><text font-size="5.2" transform="translate(193.8,134.8) rotate(-9)">Time [ms]</text><text font-size="5.2" transform="translate(53.2,113.6) rotate(51.5)">Stiffness <tspan font-style="italic">E</tspan> [MPa]</text></g><polygon fill="url(#a52)" points="194.5,26.4 204.1,37.5 211.3,47.2 211.3,47.2 209.8,45.7 199.8,42.5 187.2,38.1 178.4,34.7 170.2,31.2"/><polygon fill="url(#a51)" points="188.1,27.3 197,30.7 199.3,31.9 204.1,37.5 210.1,45.7 214.8,51.3 214.8,51.3 213.2,50 199.4,45.8 183.8,40.3 172.2,35.8 164.2,32.2"/><polygon fill="url(#a50)" points="181.3,28.3 190,31.7 202.5,36.1 204.1,37.5 211.3,47.2 218.4,55.4 218.4,55.4 216.9,54 199.3,48.8 189.7,45.6 180.6,42.2 169.1,37.7 158.6,32.9"/><polygon fill="url(#a49)" points="174.9,29.8 189.3,35.5 205.3,41 207.7,42.3 212.5,48.6 219.6,56.7 222,59.1 222,59.1 220.2,58 196.2,50.4 183.5,46 166.2,39.2 153.2,33.3"/><polygon fill="url(#a48)" points="170.2,31.2 178.4,34.7 187.2,38.1 199.8,42.5 209.8,45.7 219.6,56.7 223.2,60.2 223.2,60.2 217,57.9 190,49.2 180.8,45.9 163.7,39 150.9,33.1"/><polygon fill="url(#a47)" points="164.2,32.2 175,36.9 186.8,41.4 202.7,46.9 213.2,50 214.8,51.3 219.6,56.7 225.6,62.8 225.6,62.8 224.2,61.5 210.6,56.7 187.3,49.1 178.2,45.8 161.3,38.9 148.6,32.9"/><polygon fill="url(#a46)" points="158.6,32.9 171.9,38.8 186.7,44.5 199.3,48.8 216.9,54 218.4,55.4 226.8,64.1 226.8,64.1 206.8,56.8 187.1,50.3 177.9,46.9 161,40 153.2,36.5 145.8,32.8"/><polygon fill="url(#a45)" points="153.2,33.3 166.2,39.2 183.5,46 196.2,50.4 220.2,58 222,59.1 223.2,60.2 229.2,66.9 229.2,66.9 226.4,65.6 203,57 183.6,50.3 174.6,47 158,40 150.2,36.5 143,32.8"/><polygon fill="url(#a44)" points="150.9,33.1 163.7,39 180.8,45.9 190,49.2 217,57.9 223.2,60.2 229.2,66.9 231.5,70.2 232.7,72.2 232.7,72.2 229.7,70.6 196.7,58 177.9,51.3 169.1,47.9 152.9,40.9 145.3,37.3 138.3,33.6"/><polygon fill="url(#a43)" points="148.6,32.9 156.1,36.5 164,40.1 181.2,46.9 190.5,50.2 210.6,56.7 224.2,61.5 226.8,64.1 230.4,68.4 233.9,74.4 233.9,74.4 230.6,72.8 223,70.2 194,58.9 175.4,52.2 166.8,48.8 150.8,41.7 143.3,38.1 136.3,34.4"/><polygon fill="url(#a42)" points="145.8,32.8 153.2,36.5 161,40 177.9,46.9 187.1,50.3 206.8,56.8 226.8,64.1 229.2,66.9 231.5,70.2 235.1,76.7 235.1,76.7 232.3,74.8 227.8,73.6 220.3,71 191.6,59.8 167.5,50.8 159.3,47.3 148.9,42.5 141.5,38.9 134.5,35.2"/><polygon fill="url(#a41)" points="143,32.8 150.2,36.5 158,40 174.6,47 183.6,50.3 203,57 226.4,65.6 229.2,66.9 231.5,70.2 232.7,72.2 236.3,79.2 236.3,79.2 235.1,76.7 225.5,74.3 218,71.8 189.7,60.6 168.6,52.7 160.3,49.2 149.8,44.5 140,39.7 133.1,36"/><polygon fill="url(#a40)" points="138.3,33.6 145.3,37.3 152.9,40.9 169.1,47.9 177.9,51.3 196.7,58 229.7,70.6 232.7,72.2 236.3,79.2 236.3,79.2 233.2,77.3 223.7,75 216.3,72.5 188.2,61.4 167.2,53.5 159,50 148.6,45.3 138.8,40.4 131.9,36.7"/><polygon fill="url(#a39)" points="136.3,34.4 143.3,38.1 150.8,41.7 161.3,46.4 169.6,49.9 194,58.9 223,70.2 230.6,72.8 233.9,74.4 236.3,79.2 236.3,79.2 226.4,76.9 218.2,74.5 166,54.3 157.8,50.8 147.5,46 137.7,41.2 130.9,37.5"/><polygon fill="url(#a38)" points="134.5,35.2 141.5,38.9 148.9,42.5 159.3,47.3 167.5,50.8 191.6,59.8 220.3,71 227.8,73.6 232.3,74.8 235.1,76.7 237.5,81.8 237.5,81.8 235.1,79.7 224.6,77.6 216.5,75.3 209.8,72.8 164.6,55.2 156.5,51.7 146.2,46.9 136.6,42.1 129.8,38.3"/><polygon fill="url(#a37)" points="133.1,36 140,39.7 149.8,44.5 160.3,49.2 168.6,52.7 189.7,60.6 218,71.8 225.5,74.3 235.1,76.7 237.5,81.8 237.5,81.8 233,80.4 227.6,79.5 218.3,77.3 207.9,73.8 160.4,55 142.5,46.7 135.3,43 128.6,39.3"/><polygon fill="url(#a36)" points="131.9,36.7 138.8,40.4 148.6,45.3 159,50 167.2,53.5 188.2,61.4 216.3,72.5 223.7,75 233.2,77.3 236.3,79.2 238.7,84 238.7,84 236.4,82.1 230.3,81.4 220.1,79.5 212.1,77.3 205.5,74.9 158.5,56.2 140.8,47.8 133.7,44.2 127,40.4"/><polygon fill="url(#a35)" points="130.9,37.5 137.7,41.2 147.5,46 157.8,50.8 166,54.3 218.2,74.5 226.4,76.9 236.3,79.2 237.5,81.8 239.9,86 239.9,86 237,84.4 224.7,83 219.5,82.1 210.7,80.2 203.7,77.9 185.8,70.9 154.7,58.1 137.3,49.7 130.3,46 123.8,42.3"/><polygon fill="url(#a34)" points="129.8,38.3 136.6,42.1 146.2,46.9 156.5,51.7 167.5,56.3 209.8,72.8 216.5,75.3 224.6,77.6 235.1,79.7 237.5,81.8 241.1,87.9 241.1,87.9 236.6,86.8 223.8,85.6 213.1,84 204.6,82.1 197.9,79.9 177.6,71.9 158.2,63.7 150.2,60.2 133.2,51.7 120,44.2"/><polygon fill="url(#a33)" points="128.6,39.3 135.3,43 142.5,46.7 160.4,55 207.9,73.8 218.3,77.3 227.6,79.5 233,80.4 237.5,81.8 242.3,89.7 242.3,89.7 236.5,88.9 223,87.9 211.6,86.5 202.4,84.9 195.1,82.9 189.1,80.7 175.1,75 148.2,63.3 140.8,59.7 131.3,54.8 122.4,49.8 116.2,46"/><polygon fill="url(#a32)" points="127,40.4 133.7,44.2 140.8,47.8 158.5,56.2 205.5,74.9 212.1,77.3 220.1,79.5 230.3,81.4 236.4,82.1 238.7,84 243.5,91.3 243.5,91.3 237.6,90.6 222.8,89.9 211,88.6 205.7,87.9 196.8,86.3 189.7,84.3 183.9,82.1 170.2,76.5 144,64.7 136.8,61.1 127.6,56.1 118.9,51.1 112.7,47.3"/><polygon fill="url(#a31)" points="123.8,42.3 130.3,46 137.3,49.7 154.7,58.1 185.8,70.9 203.7,77.9 210.7,80.2 219.5,82.1 224.7,83 237,84.4 239.9,86 242.3,89.7 244.7,92.8 244.7,92.8 239.2,92.1 222.8,91.6 210.3,90.4 199.8,89.1 195.3,88.2 191.2,87.4 184.3,85.4 178.7,83.2 165.4,77.5 139.9,65.7 123.8,57.1 115.3,52 109.3,48.2"/><polygon fill="url(#a30)" points="120,44.2 133.2,51.7 150.2,60.2 158.2,63.7 177.6,71.9 194.9,78.8 201.1,81 204.6,82.1 213.1,84 223.8,85.6 236.6,86.8 241.1,87.9 243.5,91.3 245.9,94 245.9,94 242,93.2 224,92.9 210.3,92 194.5,89.8 186.2,88.1 182.7,87.2 176.7,85 163.6,79.3 148.5,72.2 136.2,66.2 120.5,57.5 112.1,52.5 106.2,48.6"/><polygon fill="url(#a29)" points="116.2,46 122.4,49.8 131.3,54.8 140.8,59.7 148.2,63.3 172.3,73.8 192,81.8 198.5,83.9 202.4,84.9 211.6,86.5 223,87.9 236.5,88.9 242.3,89.7 244.7,92.8 247.1,95.3 247.1,95.3 245.3,94.1 225.7,94.1 217.6,93.8 204.5,92.8 189.2,90.5 181.2,88.8 177.8,87.8 172,85.6 159.3,79.8 132.5,66.6 117.1,57.8 108.9,52.7 103.1,48.8"/><polygon fill="url(#a28)" points="112.7,47.3 118.9,51.1 127.6,56.1 136.8,61.1 144,64.7 167.6,75.3 186.7,83.2 193,85.3 196.8,86.3 205.7,87.9 222.8,89.9 237.6,90.6 243.5,91.3 247.1,95.3 247.1,95.3 218.9,95 204.5,94.2 193.4,92.8 183.9,91.2 176.2,89.3 172.9,88.3 167.3,86.1 154.9,80.1 128.8,66.8 113.8,58 105.8,52.9 100.1,49"/><polygon fill="url(#a27)" points="109.3,48.2 115.3,52 123.8,57.1 139.9,65.7 165.4,77.5 178.7,83.2 184.3,85.4 191.2,87.4 195.3,88.2 199.8,89.1 210.3,90.4 222.8,91.6 239.2,92.1 244.7,92.8 248.3,96.5 248.3,96.5 241.3,96.1 221.5,96.1 213.1,95.8 199.2,94.9 193.6,94.2 183.8,92.6 179.4,91.7 171.9,89.8 165.8,87.6 160.7,85.2 146.4,78 127.8,68.2 119.1,63.2 110.9,58.1 103,53 97.4,49.1"/><polygon fill="url(#a26)" points="106.2,48.6 112.1,52.5 120.5,57.5 136.2,66.2 161.1,78.1 174,83.9 179.6,86.1 186.2,88.1 194.5,89.8 210.3,92 224,92.9 242,93.2 245.9,94 249.4,97.8 249.4,97.8 244.7,97 215.3,96.9 200.1,96.2 193.9,95.6 183.6,94 174.8,92.2 167.5,90.2 161.7,88 156.7,85.6 142.7,78.3 124.6,68.4 116.1,63.3 108,58.2 94.7,49.1"/><polygon fill="url(#a25)" points="103.1,48.8 108.9,52.7 117.1,57.8 132.5,66.6 159.3,79.8 172,85.6 177.8,87.8 181.2,88.8 189.2,90.5 199,92.1 210.6,93.4 225.7,94.1 245.3,94.1 247.1,95.3 249.4,97.8 247.7,98.1 217.8,98 209,97.8 194.5,96.9 188.5,96.3 178.6,94.7 170.2,92.8 166.5,91.8 160.1,89.6 155,87.2 141.2,79.8 123.5,69.8 117,66.1 107,59.7 99.3,54.5 92.1,49.3"/><polygon fill="url(#a24)" points="100.1,49 105.8,52.9 113.8,58 128.8,66.8 154.9,80.1 167.3,86.1 172.9,88.3 176.2,89.3 183.9,91.2 193.4,92.8 204.5,94.2 218.9,95 247.1,95.3 249.4,97.8 240.9,99.1 212.2,98.8 203.8,98.6 189.8,97.6 184,96.9 174.4,95.2 166.3,93.3 162.7,92.3 156.5,90 151.5,87.6 138,80.1 120.6,70.1 114.3,66.3 104.5,59.9 96.9,54.7 89.8,49.4"/><polygon fill="#7d04ff" points="97.4,49.1 103,53 110.9,58.1 119.1,63.2 127.8,68.2 146.4,78 160.7,85.2 165.8,87.6 171.9,89.8 179.4,91.7 183.8,92.6 193.6,94.2 199.2,94.9 213.1,95.8 221.5,96.1 241.3,96.1 248.3,96.5 249.4,97.8 234,100.1 206.5,99.7 198.4,99.4 185,98.3 179.4,97.6 170.2,95.8 162.3,93.8 158.9,92.8 152.9,90.5 147.9,88.1 134.8,80.5 117.8,70.4 111.6,66.6 101.9,60.1 94.5,54.9 87.5,49.6"/><polygon fill="#7f04ff" points="94.7,49.1 108,58.2 116.1,63.3 124.6,68.4 142.7,78.3 156.7,85.6 161.7,88 167.5,90.2 174.8,92.2 183.6,94 193.9,95.6 200.1,96.2 215.3,96.9 244.7,97 249.4,97.8 227.1,101.2 200.8,100.5 193.1,100.2 180.2,99 174.9,98.2 166,96.4 158.4,94.4 155,93.3 149.2,91 144.4,88.5 131.6,80.9 114.9,70.7 108.9,66.8 99.4,60.4 92.1,55.1 85.2,49.8"/><polygon fill="#8004ff" points="92.1,49.3 99.3,54.5 107,59.7 117,66.1 123.5,69.8 141.2,79.8 155,87.2 160.1,89.6 166.5,91.8 170.2,92.8 178.6,94.7 188.5,96.3 194.5,96.9 209,97.8 217.8,98 247.7,98.1 220.3,102.2 195.2,101.4 187.8,101 175.5,99.7 170.3,98.9 161.8,97 154.4,94.9 151.2,93.8 145.6,91.4 140.9,88.9 112.1,71 106.2,67.1 96.9,60.6 89.7,55.3 82.9,50"/><polygon fill="#8104ff" points="89.8,49.4 96.9,54.7 104.5,59.9 114.3,66.3 120.6,70.1 138,80.1 151.5,87.6 156.5,90 162.7,92.3 166.3,93.3 174.4,95.2 184,96.9 189.8,97.6 203.8,98.6 212.2,98.8 240.9,99.1 213.5,103.3 189.6,102.2 182.5,101.7 170.7,100.4 165.8,99.5 157.6,97.6 150.5,95.5 147.4,94.3 142,91.9 137.4,89.4 107.3,70 92.6,59.5 80.7,50.2"/><polygon fill="#8204ff" points="87.5,49.6 94.5,54.9 101.9,60.1 111.6,66.6 117.8,70.4 134.8,80.5 147.9,88.1 152.9,90.5 158.9,92.8 162.3,93.8 170.2,95.8 179.4,97.6 185,98.3 198.4,99.4 206.5,99.7 234,100.1 206.5,104.3 183.8,103.1 177.1,102.5 165.9,101.1 161.2,100.2 153.4,98.2 146.5,96 143.6,94.8 138.3,92.4 133.9,89.8 104.5,70.3 90.1,59.8 78.3,50.5"/><polygon fill="url(#a18)" points="85.2,49.8 92.1,55.1 99.4,60.4 108.9,66.8 114.9,70.7 131.6,80.9 144.4,88.5 149.2,91 155,93.3 158.4,94.4 166,96.4 174.9,98.2 180.2,99 193.1,100.2 200.8,100.5 227.1,101.2 199.8,105.4 178.3,103.9 171.9,103.3 161.2,101.8 156.7,100.9 149.2,98.8 142.7,96.5 139.8,95.3 134.7,92.8 130.4,90.2 101.7,70.6 87.6,60.1 76.1,50.7"/><polygon fill="#8305fe" points="82.9,50 89.7,55.3 96.9,60.6 106.2,67.1 112.1,71 140.9,88.9 145.6,91.4 151.2,93.8 154.4,94.9 161.8,97 170.3,98.9 175.5,99.7 187.8,101 195.2,101.4 220.3,102.2 193,106.4 172.7,104.8 166.6,104.1 156.5,102.5 152.3,101.5 145.1,99.4 138.8,97.1 136,95.9 131.1,93.3 126.9,90.7 99,70.9 85.2,60.3 73.8,50.9"/><polygon fill="url(#a16)" points="80.7,50.2 92.6,59.5 107.3,70 137.4,89.4 142,91.9 147.4,94.3 150.5,95.5 157.6,97.6 165.8,99.5 170.7,100.4 182.5,101.7 189.6,102.2 213.5,103.3 186,107.5 166.9,105.7 161.2,104.9 151.7,103.2 147.6,102.2 140.8,100 134.8,97.7 132.1,96.4 127.4,93.8 123.4,91.2 96.1,71.3 82.6,60.6 71.5,51.2"/><polygon fill="url(#a15)" points="78.3,50.5 90.1,59.8 104.5,70.3 133.9,89.8 138.3,92.4 143.6,94.8 146.5,96 153.4,98.2 161.2,100.2 165.9,101.1 177.1,102.5 183.8,103.1 206.5,104.3 179.2,108.5 161.2,106.5 155.9,105.8 146.9,103.9 143,102.9 136.6,100.7 130.8,98.3 128.3,97 123.7,94.4 119.8,91.7 93.3,71.6 80.1,60.9 69.2,51.5"/><polygon fill="url(#a14)" points="76.1,50.7 87.6,60.1 101.7,70.6 130.4,90.2 134.7,92.8 139.8,95.3 142.7,96.5 149.2,98.8 156.7,100.9 161.2,101.8 171.9,103.3 178.3,103.9 199.8,105.4 172.2,109.6 155.4,107.4 150.5,106.6 142,104.7 138.4,103.6 132.3,101.3 124.4,97.6 120,94.9 116.2,92.2 90.5,72 77.6,61.3 66.9,51.8"/><polygon fill="url(#a13)" points="73.8,50.9 85.2,60.3 99,70.9 126.9,90.7 131.1,93.3 136,95.9 138.8,97.1 145.1,99.4 152.3,101.5 156.5,102.5 166.6,104.1 172.7,104.8 193,106.4 165.4,110.7 149.9,108.3 145.2,107.4 137.3,105.4 133.9,104.3 128.1,102 120.7,98.2 116.5,95.5 112.8,92.7 87.7,72.5 75.1,61.7 64.6,52.1"/><polygon fill="url(#a12)" points="71.5,51.2 82.6,60.6 96.1,71.3 123.4,91.2 127.4,93.8 132.1,96.4 134.8,97.7 140.8,100 147.6,102.2 151.7,103.2 161.2,104.9 166.9,105.7 186,107.5 158.7,111.8 144.3,109.2 140,108.3 132.6,106.2 129.5,105 124,102.6 116.9,98.8 112.9,96.1 109.3,93.3 84.9,72.9 72.7,62.1 62.4,52.5"/><polygon fill="url(#a11)" points="69.2,51.5 80.1,60.9 93.3,71.6 119.8,91.7 123.7,94.4 128.3,97 130.8,98.3 136.6,100.7 143,102.9 146.9,103.9 155.9,105.8 161.2,106.5 179.2,108.5 151.8,112.9 138.6,110.1 134.6,109.1 127.8,106.9 124.9,105.8 119.7,103.3 113,99.4 109.2,96.7 105.8,93.9 82.1,73.4 70.1,62.5 60.1,52.9"/><polygon fill="url(#a10)" points="66.9,51.8 77.6,61.3 90.5,72 116.2,92.2 120,94.9 124.4,97.6 132.3,101.3 138.4,103.6 142,104.7 150.5,106.6 155.4,107.4 172.2,109.6 144.9,114 132.9,111.1 129.3,110 123.1,107.7 120.3,106.5 115.5,104 109.2,100.1 105.6,97.3 102.3,94.5 77.8,72.6 67.6,63 57.8,53.4"/><polygon fill="url(#a9)" points="64.6,52.1 75.1,61.7 87.7,72.5 112.8,92.7 116.5,95.5 120.7,98.2 128.1,102 133.9,104.3 137.3,105.4 145.2,107.4 149.9,108.3 165.4,110.7 137.9,115.1 127.2,112 123.9,110.9 118.2,108.6 111.2,104.8 105.3,100.8 98.7,95.2 75,73.1 65.1,63.5 55.5,53.8"/><polygon fill="url(#a8)" points="62.4,52.5 72.7,62.1 84.9,72.9 109.3,93.3 112.9,96.1 116.9,98.8 124,102.6 129.5,105 132.6,106.2 140,108.3 144.3,109.2 158.7,111.8 131,116.3 121.5,113 118.5,111.8 113.4,109.4 107,105.5 101.5,101.5 95.2,95.9 72.3,73.7 53.2,54.4"/><polygon fill="url(#a7)" points="60.1,52.9 70.1,62.5 82.1,73.4 105.8,93.9 109.2,96.7 113,99.4 119.7,103.3 124.9,105.8 127.8,106.9 134.6,109.1 138.6,110.1 151.8,112.9 124.2,117.4 115.8,113.9 108.7,110.2 102.8,106.3 97.7,102.2 91.7,96.6 69.5,74.3 50.9,54.9"/><polygon fill="url(#a6)" points="57.8,53.4 67.6,63 77.8,72.6 102.3,94.5 105.6,97.3 109.2,100.1 115.5,104 120.3,106.5 123.1,107.7 129.3,110 132.9,111.1 144.9,114 117.3,118.6 110.1,114.9 103.8,111.1 98.6,107 93.8,102.9 88.1,97.3 66.7,75 48.6,55.5"/><polygon fill="url(#a5)" points="55.5,53.8 65.1,63.5 75,73.1 98.7,95.2 105.3,100.8 111.2,104.8 118.2,108.6 123.9,110.9 127.2,112 137.9,115.1 110.4,119.7 104.4,115.9 99.1,111.9 94.3,107.8 90,103.6 84.6,98 64,75.6 46.3,56"/><polygon fill="url(#a4)" points="53.2,54.4 72.3,73.7 95.2,95.9 101.5,101.5 107,105.5 113.4,109.4 118.5,111.8 121.5,113 131,116.3 103.5,120.9 94.2,112.8 86.1,104.4 44,56.7"/><polygon fill="url(#a3)" points="50.9,54.9 69.5,74.3 91.7,96.6 97.7,102.2 102.8,106.3 108.7,110.2 115.8,113.9 124.2,117.4 96.6,122.1 41.7,57.3"/><polygon fill="url(#a2)" points="48.6,55.5 66.7,75 88.1,97.3 93.8,102.9 98.6,107 103.8,111.1 110.1,114.9 117.3,118.6 96.6,122.1 41.7,57.3"/><polygon fill="#8104ff" points="46.3,56 64,75.6 84.6,98 90,103.6 94.3,107.8 99.1,111.9 104.4,115.9 110.4,119.7 96.6,122.1 41.7,57.3"/><polygon fill="#8004ff" points="44,56.7 86.1,104.4 94.2,112.8 103.5,120.9 96.6,122.1 41.7,57.3"/><path stroke="#444" stroke-width=".5" d="M96.6 134.7L96.6 122.1"/></g><g transform="translate(0,0)"><rect x="32.1" y="20.2" width="8.9" height="49.6" fill="url(#cb)" stroke="#222" stroke-width=".5"/><path stroke-width=".55" stroke="#222" d="M32.1 26.4h1.5M41.0 26.4h-1.5M32.1 32.6h1.5M41.0 32.6h-1.5M32.1 38.8h1.5M41.0 38.8h-1.5M32.1 45.0h1.5M41.0 45.0h-1.5M32.1 51.2h1.5M41.0 51.2h-1.5M32.1 57.4h1.5M41.0 57.4h-1.5M32.1 63.6h1.5M41.0 63.6h-1.5"/><path stroke-width=".55" stroke="#888" d="M42.0 20.5h1.6M42.0 26.7h1.6M42.0 32.9h1.6M42.0 39.1h1.6M42.0 45.3h1.6M42.0 51.5h1.6M42.0 57.7h1.6M42.0 63.9h1.6M42.0 70.1h1.6"/><g font-size="5.8" text-anchor="end"><text x="29" y="23.1">3000</text><text x="29" y="29.3">2500</text><text x="29" y="35.5">2000</text><text x="29" y="41.7">1500</text><text x="29" y="47.9">1000</text><text x="29" y="54.1">500</text><text x="29" y="60.3">0</text><text x="29" y="66.5">−500</text><text x="29" y="72.7">−1000</text></g><text x="16.3" y="12.4" font-size="5.94">Acceleration [m/s<tspan font-size="4.2" dy="-2.2">2</tspan><tspan dy="2.2">]</tspan></text></g><g transform="translate(263.72,1.46) scale(1.007)"><path stroke="#333" stroke-width=".55" fill="none" d="M96.6 134.7L249.4 110.4M96.6 134.7L41.7 69.9M249.4 110.4L194.5 45.6M249.4 110.4L249.4 101.1M96.6 134.7L95.7 133.6M117 131.5L116.1 130.4M137.4 128.2L136.5 127.1M157.7 125L156.8 123.9M178.1 121.7L177.2 120.6M198.5 118.5L197.6 117.4M218.9 115.3L218 114.2M239.3 112L238.4 110.9M249.4 110.4L248.5 109.3M87.1 123.4L90.7 122.5M75.1 109.3L78.7 108.4M63.2 95.3L66.8 94.4M51.2 81.2L54.8 80.3M41.7 69.9L45.3 69"/><g font-size="5.8" text-anchor="middle"><text x="98.2" y="141.5">0</text><text x="118.6" y="138.3">2</text><text x="139.0" y="135.0">4</text><text x="159.3" y="131.8">6</text><text x="179.7" y="128.5">8</text><text x="200.1" y="125.3">10</text><text x="220.5" y="122.1">12</text><text x="240.9" y="118.8">14</text><text x="79.3" y="127.6">5</text><text x="67.3" y="113.5">10</text><text x="55.4" y="99.5">15</text><text x="43.4" y="85.4">20</text><text font-size="5.2" transform="translate(193.8,134.8) rotate(-9)">Time [ms]</text><text font-size="5.2" transform="translate(54.4,115.3) rotate(51.5)">Stiffness <tspan font-style="italic">E</tspan> [MPa]</text></g><polygon fill="#9008e7" points="194.5,29.5 217.2,56.2 217.2,56.2 215.2,54.9 196.2,46.6 185.7,41.8 175.9,36.9 168.9,33.2"/><polygon fill="url(#b63)" points="188.2,30.4 198.3,35.3 200.5,36.5 224.4,64.6 224.4,64.6 222.8,63.2 213.3,58.2 182,43.8 172.3,38.8 163.1,33.8"/><polygon fill="url(#b62)" points="181.5,31.5 193.9,37.5 204.5,42.3 206.5,43.6 230.4,71.4 230.4,71.4 228.4,70.1 222.7,67.8 204,57.7 181,46.7 173.6,43.1 157.5,34.3"/><polygon fill="url(#b61)" points="175.1,32.4 182.2,36.1 192.3,40.9 211.3,49.2 228,68.7 230.4,71.4 232.7,73.5 232.7,73.5 225.7,71.6 222.3,70.5 216.8,68.1 198.5,57.9 171.1,44.4 161.8,39.4 153,34.3"/><polygon fill="url(#b60)" points="168.9,33.2 178.3,38.1 188.3,43 215.2,54.9 217.2,56.2 230.4,71.4 232.7,73.5 233.9,74.2 233.9,74.2 226,72.7 222,71.7 215.8,69.4 210.9,66.8 195.2,57.8 165.7,43 150.2,34.1"/><polygon fill="url(#b59)" points="163.1,33.8 179.5,42.5 189.7,47.4 208.3,55.8 215.7,59.4 222.8,63.2 224.4,64.6 229.2,70.1 231.5,72.5 232.7,73.5 233.9,74.2 233.9,74.2 228.6,73.4 224,72.5 220.1,71.5 213.9,69.2 209,66.6 193.3,57.6 164,42.7 148.5,33.8"/><polygon fill="url(#b58)" points="157.5,34.3 166.5,39.3 176,44.3 201.6,56.4 208.8,60.2 222.7,67.8 228.4,70.1 230.4,71.4 232.7,73.5 233.9,74.2 235.1,72.7 235.1,72.7 232.9,73.9 227.5,73.1 222.9,72.2 218.9,71.2 212.7,68.8 207.9,66.3 192.2,57.2 162.9,42.3 147.5,33.4"/><polygon fill="url(#b57)" points="153,34.3 168.7,43.1 198.5,57.9 214.4,66.8 219.3,69.3 225.7,71.6 232.7,73.5 233.9,74.2 235.1,72.7 235.1,72.7 231.7,73.4 226.3,72.6 221.7,71.7 217.7,70.7 211.6,68.4 206.7,65.8 191.1,56.7 161.9,41.7 146.4,32.8"/><polygon fill="url(#b56)" points="150.2,34.1 165.7,43 195.2,57.8 210.9,66.8 215.8,69.4 222,71.7 226,72.7 233.9,74.2 235.1,72.7 235.1,72.7 230.5,72.9 225.1,72.1 220.5,71.2 216.6,70.2 210.4,67.8 205.6,65.2 189.9,56.1 163.1,42.3 154,37.2 145.4,32.1"/><polygon fill="url(#b55)" points="148.5,33.8 164,42.7 193.3,57.6 209,66.6 213.9,69.2 220.1,71.5 224,72.5 228.6,73.4 233.9,74.2 235.1,72.7 235.1,72.7 229.3,72.3 224,71.5 219.3,70.6 215.4,69.6 209.2,67.2 204.4,64.6 188.8,55.4 162,41.6 152.9,36.5 144.3,31.3"/><polygon fill="url(#b54)" points="147.5,33.4 162.9,42.3 192.2,57.2 207.9,66.3 212.7,68.8 218.9,71.2 222.9,72.2 227.5,73.1 232.9,73.9 235.1,72.7 236.3,71.7 236.3,71.7 234.4,72.4 228.1,71.8 222.8,71 218.2,70.1 214.2,69 208.1,66.6 203.2,64 187.6,54.7 160.8,40.9 151.8,35.7 143.2,30.6"/><polygon fill="url(#b53)" points="146.4,32.8 161.9,41.7 191.1,56.7 206.7,65.8 211.6,68.4 217.7,70.7 221.7,71.7 226.3,72.6 231.7,73.4 235.1,72.7 236.3,71.7 236.3,71.7 233.3,72 227,71.3 221.6,70.5 217,69.6 213.1,68.5 206.9,66.1 202.1,63.5 193.3,58.1 186.5,54.1 159.7,40.2 150.7,35.1 142.1,29.9"/><polygon fill="url(#b52)" points="145.4,32.1 154,37.2 163.1,42.3 189.9,56.1 205.6,65.2 210.4,67.8 216.6,70.2 220.5,71.2 225.1,72.1 230.5,72.9 235.1,72.7 236.3,71.7 236.3,71.7 232.1,71.6 225.8,70.9 220.4,70.1 215.8,69.2 211.9,68.1 205.7,65.7 200.9,63.1 192.2,57.6 185.4,53.7 158.6,39.7 149.6,34.5 141,29.3"/><polygon fill="url(#b51)" points="144.3,31.3 152.9,36.5 162,41.6 188.8,55.4 204.4,64.6 209.2,67.2 215.4,69.6 219.3,70.6 224,71.5 229.3,72.3 235.1,72.7 236.3,71.7 236.3,71.7 224.6,70.7 219.2,69.9 214.6,68.9 210.7,67.9 204.5,65.4 199.7,62.8 191,57.3 184.2,53.4 157.5,39.4 148.5,34.2 139.9,29"/><polygon fill="url(#b50)" points="143.2,30.6 151.8,35.7 160.8,40.9 187.6,54.7 203.2,64 208.1,66.6 214.2,69 218.2,70.1 222.8,71 228.1,71.8 234.4,72.4 236.3,71.7 236.3,71.7 223.4,70.5 218,69.7 213.4,68.7 209.5,67.6 203.4,65.2 200.8,63.9 183.1,53.1 156.4,39.1 147.4,33.9 138.8,28.7"/><polygon fill="url(#b49)" points="142.1,29.9 150.7,35.1 159.7,40.2 186.5,54.1 193.3,58.1 202.1,63.5 206.9,66.1 213.1,68.5 217,69.6 221.6,70.5 227,71.3 233.3,72 236.3,71.7 237.5,71.4 237.5,71.4 235.3,71.5 228.5,70.9 222.2,70.3 216.9,69.5 212.3,68.5 208.4,67.4 205.1,66.3 199.7,63.7 186.5,55.5 179.6,51.6 162.5,42.6 153,37.5 137.8,28.4"/><polygon fill="url(#b48)" points="141,29.3 149.6,34.5 158.6,39.7 185.4,53.7 192.2,57.6 200.9,63.1 205.7,65.7 211.9,68.1 215.8,69.2 220.4,70.1 225.8,70.9 232.1,71.6 236.3,71.7 237.5,71.4 237.5,71.4 234.1,71.3 227.3,70.8 221.1,70.1 215.7,69.3 211.1,68.3 207.2,67.2 203.9,66.1 198.5,63.5 185.4,55.3 178.5,51.3 161.4,42.4 151.9,37.2 136.7,28.1"/><polygon fill="url(#b47)" points="139.9,29 148.5,34.2 157.5,39.4 184.2,53.4 191,57.3 199.7,62.8 204.5,65.4 210.7,67.9 214.6,68.9 219.2,69.9 224.6,70.7 230.9,71.3 236.3,71.7 237.5,71.4 237.5,71.4 226,70.6 219.7,69.9 214.4,69.1 209.8,68.1 205.9,67 202.6,65.9 197.2,63.3 184.1,55 177.2,51.1 160.1,42.1 150.7,36.9 135.5,27.8"/><polygon fill="url(#b46)" points="138.8,28.7 154.1,37.8 163.5,42.9 180.7,51.8 187.6,55.8 200.8,63.9 206.2,66.5 209.5,67.6 213.4,68.7 218,69.7 223.4,70.5 229.7,71.1 236.3,71.7 237.5,71.4 237.5,71.4 224.4,70.4 218.2,69.8 212.8,68.9 208.2,68 204.3,66.9 201.1,65.7 195.7,63.1 182.6,54.8 175.7,50.8 158.6,41.8 149.3,36.7 134.1,27.5"/><polygon fill="url(#b45)" points="137.8,28.4 146.3,33.6 155.3,38.8 181.9,52.9 199.7,63.7 202.2,65 208.4,67.4 212.3,68.5 216.9,69.5 222.2,70.3 235.3,71.5 237.5,71.4 238.7,72.7 238.7,72.7 224.3,71.7 211.3,70.4 206,69.6 201.4,68.6 197.5,67.5 194.3,66.3 188.9,63.7 175.9,55.4 169.1,51.4 152.2,42.3 142.9,37.2 127.9,27.9"/><polygon fill="url(#b44)" points="136.7,28.1 145.2,33.3 154.2,38.5 180.8,52.6 198.5,63.5 201.1,64.8 207.2,67.2 211.1,68.3 215.7,69.3 221.1,70.1 227.3,70.8 234.1,71.3 237.5,71.4 238.7,72.7 239.9,76.3 239.9,76.3 237.2,73.3 222.3,72.4 209.4,71.1 204,70.3 199.5,69.3 195.6,68.3 192.4,67.1 187,64.4 174.1,56.2 167.3,52.2 150.4,43.1 141.1,38 126.1,28.8"/><polygon fill="url(#b43)" points="135.5,27.8 144,33 153,38.2 179.5,52.4 186.3,56.4 197.2,63.3 199.7,64.6 205.9,67 209.8,68.1 214.4,69.1 219.7,69.9 226,70.6 237.5,71.4 238.7,72.7 239.9,76.3 239.9,76.3 235.9,73.9 220.9,73 208,71.8 202.7,70.9 198.1,70 194.2,68.9 191,67.7 185.7,65.1 172.8,56.8 166,52.8 149.1,43.8 139.9,38.7 124.9,29.5"/><polygon fill="url(#b42)" points="134.1,27.5 142.6,32.8 151.5,38 178,52.1 184.8,56.2 195.7,63.1 198.2,64.4 204.3,66.9 208.2,68 212.8,68.9 218.2,69.8 224.4,70.4 237.5,71.4 238.7,72.7 239.9,76.3 239.9,76.3 234.7,74.5 219.8,73.6 213.1,73.1 206.8,72.4 201.5,71.6 197,70.6 193.1,69.5 189.9,68.3 184.6,65.7 171.6,57.5 164.9,53.5 148,44.5 138.8,39.3 123.8,30.2"/><polygon fill="url(#b41)" points="127.9,27.9 142.9,37.2 152.2,42.3 169.1,51.4 175.9,55.4 188.9,63.7 194.3,66.3 197.5,67.5 201.4,68.6 206,69.6 211.3,70.4 224.3,71.7 238.7,72.7 239.9,76.3 239.9,76.3 233.5,75.1 218.6,74.3 205.7,73 200.4,72.2 195.8,71.2 191.9,70.2 188.7,69 183.4,66.4 170.5,58.2 163.8,54.2 146.9,45.2 137.7,40.1 122.8,30.9"/><polygon fill="url(#b40)" points="126.1,28.8 141.1,38 150.4,43.1 167.3,52.2 174.1,56.2 187,64.4 192.4,67.1 195.6,68.3 199.5,69.3 204,70.3 209.4,71.1 222.3,72.4 237.2,73.3 239.9,76.3 239.9,76.3 217.4,74.9 204.5,73.7 199.2,72.9 194.7,71.9 190.8,70.8 187.6,69.7 182.3,67.1 169.4,58.9 162.6,54.9 145.9,46 136.6,40.8 121.7,31.7"/><polygon fill="url(#b39)" points="124.9,29.5 133.3,34.7 142.1,40 168.3,54.2 174.9,58.2 185.7,65.1 188.2,66.4 194.2,68.9 198.1,70 202.7,70.9 208,71.8 214.2,72.5 220.9,73 235.9,73.9 239.9,76.3 241.1,81.7 241.1,81.7 238.9,76.9 216.3,75.6 203.4,74.4 198,73.6 193.5,72.6 189.6,71.5 186.4,70.4 181.1,67.8 168.3,59.6 161.5,55.7 144.8,46.7 135.6,41.6 120.7,32.5"/><polygon fill="url(#b38)" points="123.8,30.2 138.8,39.3 148,44.5 164.9,53.5 171.6,57.5 184.6,65.7 189.9,68.3 193.1,69.5 197,70.6 201.5,71.6 206.8,72.4 219.8,73.6 234.7,74.5 239.9,76.3 241.1,81.7 241.1,81.7 237.7,77.6 215.1,76.3 202.2,75.1 196.9,74.3 192.3,73.3 188.5,72.3 185.3,71.1 180,68.5 167.1,60.4 160.4,56.5 143.7,47.5 134.5,42.4 119.6,33.3"/><polygon fill="url(#b37)" points="122.8,30.9 137.7,40.1 146.9,45.2 163.8,54.2 170.5,58.2 183.4,66.4 188.7,69 191.9,70.2 195.8,71.2 200.4,72.2 205.7,73 218.6,74.3 233.5,75.1 239.9,76.3 241.1,81.7 241.1,81.7 236.5,78.3 213.9,77.1 201,75.8 195.7,75 191.2,74.1 187.3,73 184.1,71.8 178.8,69.3 166,61.2 159.3,57.3 142.6,48.4 133.4,43.2 118.6,34.1"/><polygon fill="url(#b36)" points="121.7,31.7 136.6,40.8 145.9,46 162.6,54.9 169.4,58.9 182.3,67.1 187.6,69.7 190.8,70.8 194.7,71.9 199.2,72.9 204.5,73.7 217.4,74.9 239.9,76.3 241.1,81.7 241.1,81.7 235.4,79.2 212.8,78 199.9,76.8 194.5,76 190,75 186.1,74 182.9,72.8 177.7,70.3 164.9,62.2 158.2,58.3 141.5,49.4 132.3,44.3 117.5,35.2"/><polygon fill="url(#b35)" points="120.7,32.5 135.6,41.6 144.8,46.7 161.5,55.7 168.3,59.6 181.1,67.8 186.4,70.4 189.6,71.5 193.5,72.6 198,73.6 203.4,74.4 216.3,75.6 238.9,76.9 241.1,81.7 241.1,81.7 234.3,80.2 211.7,79 198.7,77.8 193.4,77 188.8,76.1 185,75.1 181.7,73.9 176.5,71.4 163.8,63.4 157.1,59.5 140.4,50.7 131.2,45.6 116.4,36.5"/><polygon fill="url(#b34)" points="119.6,33.3 134.5,42.4 143.7,47.5 160.4,56.5 167.1,60.4 180,68.5 185.3,71.1 188.5,72.3 192.3,73.3 196.9,74.3 202.2,75.1 215.1,76.3 237.7,77.6 241.1,81.7 241.1,81.7 217.9,80.6 203.9,79.6 197.6,79 192.2,78.2 187.7,77.3 183.8,76.3 180.6,75.2 175.3,72.7 158.2,62.1 132.3,48.3 123.6,43.1 115.4,37.9"/><polygon fill="url(#b33)" points="118.6,34.1 133.4,43.2 142.6,48.4 159.3,57.3 166,61.2 178.8,69.3 184.1,71.8 187.3,73 191.2,74.1 195.7,75 201,75.8 213.9,77.1 236.5,78.3 241.1,81.7 242.3,88.5 242.3,88.5 240.1,82.8 209.5,81.3 196.4,80.2 191.1,79.5 186.5,78.6 182.6,77.6 179.4,76.5 174.1,74 161.5,66.1 154.8,62.2 138.1,53.5 129,48.5 120.4,43.4 114.3,39.4"/><polygon fill="url(#b32)" points="117.5,35.2 132.3,44.3 141.5,49.4 158.2,58.3 164.9,62.2 177.7,70.3 182.9,72.8 186.1,74 190,75 194.5,76 199.9,76.8 212.8,78 235.4,79.2 241.1,81.7 242.3,88.5 242.3,88.5 239,84 208.3,82.6 195.3,81.5 189.9,80.8 185.3,79.9 181.4,78.9 178.2,77.8 172.9,75.4 160.3,67.5 153.7,63.7 137,55 127.8,50 119.3,44.9 113.2,41"/><polygon fill="url(#b31)" points="116.4,36.5 131.2,45.6 140.4,50.7 157.1,59.5 163.8,63.4 176.5,71.4 181.7,73.9 185,75.1 188.8,76.1 193.4,77 198.7,77.8 211.7,79 234.3,80.2 241.1,81.7 242.3,88.5 242.3,88.5 237.8,85.3 207.2,83.8 194.1,82.8 188.7,82 184.1,81.2 180.2,80.2 177,79.1 171.8,76.6 159.2,68.8 152.6,65 129,52.7 120.3,47.6 112.2,42.4"/><polygon fill="url(#b30)" points="115.4,37.9 121.5,41.8 130.1,47 139.2,52.1 155.9,60.8 162.6,64.7 175.3,72.7 180.6,75.2 183.8,76.3 187.7,77.3 192.2,78.2 197.6,79 210.6,80.1 241.1,81.7 242.3,88.5 242.3,88.5 236.7,86.4 213.4,85.4 199.3,84.4 193,83.8 187.6,83.1 183.1,82.2 179.2,81.2 176,80.1 170.7,77.7 153.8,67.4 132.6,56.4 125.8,52.6 117.2,47.5 111.2,43.7"/><polygon fill="url(#b29)" points="114.3,39.4 120.4,43.4 129,48.5 138.1,53.5 154.8,62.2 161.5,66.1 174.1,74 179.4,76.5 182.6,77.6 186.5,78.6 191.1,79.5 196.4,80.2 209.5,81.3 240.1,82.8 243.5,91.3 243.5,91.3 239,89.8 208.4,88.3 201.2,87.8 188.7,86.6 183.5,85.9 179.1,85 175.4,84 172.2,82.9 167,80.5 149.9,70.4 122.3,55.7 107.7,46.8"/><polygon fill="url(#b28)" points="113.2,41 119.3,44.9 127.8,50 137,55 153.7,63.7 160.3,67.5 172.9,75.4 178.2,77.8 181.4,78.9 185.3,79.9 189.9,80.8 195.3,81.5 208.3,82.6 239,84 242.3,88.5 244.7,93.7 244.7,93.7 238.9,92.8 209.9,90.9 196.4,89.9 190.4,89.2 180.2,87.6 172.6,85.6 166.8,83.3 162.1,80.9 146.9,72.3 122,58.7 105,48.7"/><polygon fill="url(#b27)" points="112.2,42.4 120.3,47.6 129,52.7 152.6,65 159.2,68.8 171.8,76.6 177,79.1 180.2,80.2 184.1,81.2 188.7,82 194.1,82.8 207.2,83.8 237.8,85.3 242.3,88.5 243.5,91.3 245.9,95.8 245.9,95.8 205.3,92.5 192.7,91.2 182.3,89.6 177.9,88.7 170.7,86.6 165.1,84.4 158,80.8 131.3,66 103.1,49.9"/><polygon fill="url(#b26)" points="111.2,43.7 119.3,48.8 128,53.9 151.5,66.2 158.2,70 170.7,77.7 176,80.1 179.2,81.2 183.1,82.2 187.6,83.1 193,83.8 206,84.9 236.7,86.4 242.3,88.5 244.7,93.7 248.3,99.4 248.3,99.4 244.3,98.3 200.6,93.9 189.1,92.5 179.6,90.7 172.1,88.7 168.9,87.6 163.4,85.3 151.6,79.3 133.8,69.5 101.4,50.9"/><polygon fill="url(#b25)" points="107.7,46.8 115.9,51.9 124.5,56.9 149.9,70.4 167,80.5 172.2,82.9 175.4,84 179.1,85 183.5,85.9 188.7,86.6 194.7,87.3 208.4,88.3 239,89.8 243.5,91.3 245.9,95.8 249.4,101.1 249,101.2 196.9,94.9 186.1,93.4 177.4,91.5 170.4,89.4 164.6,87.1 159.4,84.8 145.4,77.7 134.3,71.5 100,51.6"/><polygon fill="url(#b24)" points="105,48.7 122,58.7 146.9,72.3 162.1,80.9 166.8,83.3 172.6,85.6 180.2,87.6 190.4,89.2 196.4,89.9 209.9,90.9 238.9,92.8 244.7,93.7 247.1,97.7 249.4,101.1 242.3,102.4 204.9,97.1 193.7,95.7 183.5,94 175.5,92.1 168.9,89.9 163.2,87.7 155.6,84.2 141.6,77 132.9,72.1 116.1,62.1 98.7,52.2"/><polygon fill="url(#b23)" points="103.1,49.9 131.3,66 158,80.8 165.1,84.4 170.7,86.6 177.9,88.7 182.3,89.6 192.7,91.2 205.3,92.5 245.9,95.8 249.4,101.1 235.3,103.6 205.8,98.7 185.2,95.6 180.6,94.7 176.6,93.7 170,91.6 164.2,89.4 156.4,85.9 142.1,78.8 133.3,73.9 116.7,63.8 97.2,52.7"/><polygon fill="url(#b22)" points="101.4,50.9 133.8,69.5 151.6,79.3 163.4,85.3 168.9,87.6 172.1,88.7 179.6,90.7 189.1,92.5 200.6,93.9 244.3,98.3 248.3,99.4 249.4,101.1 228.4,104.8 200.9,99.5 181.4,96.2 177.1,95.3 173.5,94.3 167.4,92.1 151.7,85.2 144.4,81.6 137.5,78 129,73.1 112.7,63 95.4,53"/><polygon fill="url(#b21)" points="100,51.6 134.3,71.5 145.4,77.7 159.4,84.8 164.6,87.1 170.4,89.4 177.4,91.5 186.1,93.4 196.9,94.9 249,101.2 221.4,105.2 195.5,99.9 177,96.5 172.9,95.6 166.6,93.4 161.3,91.2 146.2,84.2 134.6,78.2 126.1,73.2 110.2,63.1 93.1,53.1"/><polygon fill="url(#b20)" points="98.7,52.2 116.1,62.1 132.9,72.1 141.6,77 155.6,84.2 163.2,87.7 168.9,89.9 175.5,92.1 183.5,94 193.7,95.7 204.9,97.1 242.3,102.4 214.5,105 189.7,99.6 172,96.2 168.1,95.3 162.1,93.2 157,90.9 144.8,85.1 137.6,81.5 130.9,77.8 122.7,72.8 107.2,62.8 90.3,52.8"/><polygon fill="url(#b19)" points="97.2,52.7 116.7,63.8 133.3,73.9 142.1,78.8 156.4,85.9 164.2,89.4 170,91.6 176.6,93.7 180.6,94.7 185.2,95.6 205.8,98.7 235.3,103.6 207.5,104.6 183.6,99.1 166.6,95.6 162.9,94.7 157,92.5 152,90.3 140.1,84.4 128.9,78.3 120.7,73.3 103.6,62.1 87.3,52.2"/><polygon fill="url(#b18)" points="95.4,53 112.7,63 129,73.1 137.5,78 144.4,81.6 151.7,85.2 167.4,92.1 173.5,94.3 177.1,95.3 181.4,96.2 200.9,99.5 228.4,104.8 200.5,104.4 177.4,98.8 161.1,95.2 157.4,94.2 154.3,93.1 149.1,90.9 135.2,83.7 122.5,76.4 114.7,71.4 101.8,62.7 84.1,51.6"/><polygon fill="url(#b17)" points="93.1,53.1 110.2,63.1 126.1,73.2 134.6,78.2 146.2,84.2 161.3,91.2 166.6,93.4 172.9,95.6 177,96.5 195.5,99.9 221.4,105.2 193.6,104.8 171.4,99 155.8,95.3 149.3,93.2 144.1,90.9 130.7,83.7 118.4,76.3 110.9,71.4 98.3,62.6 81.1,51.5"/><polygon fill="url(#b16)" points="90.3,52.8 107.2,62.8 122.7,72.8 130.9,77.8 137.6,81.5 144.8,85.1 157,90.9 162.1,93.2 168.1,95.3 172,96.2 189.7,99.6 214.5,105 186.7,105.9 165.6,100 150.7,96.1 144.5,94 139.6,91.7 126.6,84.4 114.7,76.9 107.3,71.9 93.2,61.8 78.3,51.7"/><polygon fill="url(#b15)" points="87.3,52.2 103.6,62.1 120.7,73.3 128.9,78.3 140.1,84.4 152,90.3 157,92.5 162.9,94.7 166.6,95.6 183.6,99.1 207.5,104.6 179.8,107.2 159.8,101 145.7,97 139.7,94.9 135,92.5 122.5,85.1 110.9,77.6 103.7,72.5 90,62.2 75.5,52"/><polygon fill="url(#b14)" points="84.1,51.6 101.8,62.7 114.7,71.4 122.5,76.4 135.2,83.7 149.1,90.9 154.3,93.1 157.4,94.2 161.1,95.2 177.4,98.8 200.5,104.4 172.9,108.6 153.9,102.2 140.6,98 134.9,95.8 130.4,93.4 118.3,85.9 107.1,78.2 100.1,73.1 86.7,62.7 72.7,52.3"/><polygon fill="url(#b13)" points="81.1,51.5 98.3,62.6 110.9,71.4 118.4,76.3 130.7,83.7 144.1,90.9 149.3,93.2 155.8,95.3 171.4,99 193.6,104.8 165.9,110 148,103.4 135.5,99.1 130.1,96.8 125.8,94.3 114.1,86.7 103.3,78.9 96.6,73.7 83.5,63.2 69.9,52.7"/><polygon fill="url(#b12)" points="78.3,51.7 93.2,61.8 107.3,71.9 114.7,76.9 126.6,84.4 139.6,91.7 144.5,94 150.7,96.1 165.6,100 186.7,105.9 159,111.4 142.2,104.6 130.4,100.1 125.4,97.7 121.2,95.2 110.1,87.5 99.6,79.6 80.3,63.7 67.1,53"/><polygon fill="url(#b11)" points="75.5,52 90,62.2 103.7,72.5 110.9,77.6 122.5,85.1 135,92.5 139.7,94.9 145.7,97 159.8,101 179.8,107.2 152.1,112.8 136.3,105.7 125.4,101.1 120.6,98.7 116.6,96.1 105.9,88.2 95.8,80.3 77.1,64.2 64.3,53.4"/><polygon fill="url(#b10)" points="72.7,52.3 86.7,62.7 100.1,73.1 107.1,78.2 118.3,85.9 130.4,93.4 134.9,95.8 140.6,98 153.9,102.2 172.9,108.6 145.2,114.1 130.5,106.8 120.3,102 115.9,99.6 112.1,97 101.8,89 92.1,80.9 73.9,64.7 61.5,53.8"/><polygon fill="url(#b9)" points="69.9,52.7 83.5,63.2 96.6,73.7 103.3,78.9 114.1,86.7 125.8,94.3 130.1,96.8 135.5,99.1 148,103.4 165.9,110 138.2,115.3 124.6,107.8 115.2,102.9 111,100.4 107.5,97.8 97.6,89.7 88.2,81.6 70.6,65.2 58.6,54.3"/><polygon fill="#8104ff" points="67.1,53 80.3,63.7 99.6,79.6 110.1,87.5 121.2,95.2 125.4,97.7 130.4,100.1 142.2,104.6 159,111.4 131.4,116.4 110.2,103.8 106.3,101.2 102.9,98.5 93.5,90.4 84.5,82.3 55.8,54.7"/><polygon fill="#8104ff" points="64.3,53.4 77.1,64.2 95.8,80.3 105.9,88.2 116.6,96.1 120.6,98.7 125.4,101.1 136.3,105.7 152.1,112.8 124.5,117.6 105.1,104.7 101.5,102 98.4,99.3 89.4,91.1 80.8,82.9 53,55.2"/><polygon fill="#8104ff" points="61.5,53.8 73.9,64.7 92.1,80.9 101.8,89 112.1,97 115.9,99.6 120.3,102 130.5,106.8 145.2,114.1 117.5,118.7 100,105.5 93.8,100.1 77,83.5 50.2,55.7"/><polygon fill="#8104ff" points="58.6,54.3 70.6,65.2 88.2,81.6 97.6,89.7 107.5,97.8 111,100.4 115.2,102.9 124.6,107.8 138.2,115.3 110.6,119.8 94.9,106.4 89.1,100.9 73.2,84.2 47.4,56.2"/><polygon fill="#8104ff" points="55.8,54.7 84.5,82.3 93.5,90.4 102.9,98.5 106.3,101.2 110.2,103.8 131.4,116.4 103.6,121 89.8,107.2 84.5,101.6 69.4,84.8 44.5,56.7"/><polygon fill="#8104ff" points="53,55.2 80.8,82.9 89.4,91.1 98.4,99.3 101.5,102 105.1,104.7 124.5,117.6 96.6,122.1 41.7,57.3"/><polygon fill="#8104ff" points="50.2,55.7 77,83.5 93.8,100.1 100,105.5 117.5,118.7 96.6,122.1 41.7,57.3"/><polygon fill="#8004ff" points="47.4,56.2 73.2,84.2 89.1,100.9 94.9,106.4 110.6,119.8 96.6,122.1 41.7,57.3"/><polygon fill="#8004ff" points="44.5,56.7 69.4,84.8 84.5,101.6 89.8,107.2 103.6,121 96.6,122.1 41.7,57.3"/><path stroke="#444" stroke-width=".5" d="M96.6 134.7L96.6 122.1"/></g><g transform="translate(264.2,2.1)"><rect x="32.1" y="20.2" width="8.9" height="49.6" fill="url(#cb)" stroke="#222" stroke-width=".5"/><path stroke-width=".55" stroke="#222" d="M32.1 26.4h1.5M41.0 26.4h-1.5M32.1 32.6h1.5M41.0 32.6h-1.5M32.1 38.8h1.5M41.0 38.8h-1.5M32.1 45.0h1.5M41.0 45.0h-1.5M32.1 51.2h1.5M41.0 51.2h-1.5M32.1 57.4h1.5M41.0 57.4h-1.5M32.1 63.6h1.5M41.0 63.6h-1.5"/><path stroke-width=".55" stroke="#888" d="M42.0 20.5h1.6M42.0 26.7h1.6M42.0 32.9h1.6M42.0 39.1h1.6M42.0 45.3h1.6M42.0 51.5h1.6M42.0 57.7h1.6M42.0 63.9h1.6M42.0 70.1h1.6"/><g font-size="5.8" text-anchor="end"><text x="29" y="23.1">3000</text><text x="29" y="29.3">2500</text><text x="29" y="35.5">2000</text><text x="29" y="41.7">1500</text><text x="29" y="47.9">1000</text><text x="29" y="54.1">500</text><text x="29" y="60.3">0</text><text x="29" y="66.5">−500</text><text x="29" y="72.7">−1000</text></g><text x="16.3" y="12.4" font-size="5.94">Acceleration [m/s<tspan font-size="4.2" dy="-2.2">2</tspan><tspan dy="2.2">]</tspan></text></g><g transform="translate(0.09,184.47) scale(0.998)"><path stroke="#333" stroke-width=".55" fill="none" d="M96.6 134.7L249.4 110.4M96.6 134.7L41.7 69.9M249.4 110.4L194.5 45.6M249.4 110.4L249.4 105.2M96.6 134.7L95.7 133.6M117 131.5L116.1 130.4M137.4 128.2L136.5 127.1M157.7 125L156.8 123.9M178.1 121.7L177.2 120.6M198.5 118.5L197.6 117.4M218.9 115.3L218 114.2M239.3 112L238.4 110.9M249.4 110.4L248.5 109.3M87.1 123.4L90.7 122.5M75.1 109.3L78.7 108.4M63.2 95.3L66.8 94.4M51.2 81.2L54.8 80.3M41.7 69.9L45.3 69"/><g font-size="5.8" text-anchor="middle"><text x="98.2" y="141.5">0</text><text x="118.6" y="138.3">2</text><text x="139.0" y="135.0">4</text><text x="159.3" y="131.8">6</text><text x="179.7" y="128.5">8</text><text x="200.1" y="125.3">10</text><text x="220.5" y="122.1">12</text><text x="240.9" y="118.8">14</text><text x="79.3" y="127.6">5</text><text x="67.3" y="113.5">10</text><text x="55.4" y="99.5">15</text><text x="43.4" y="85.4">20</text><text font-size="5.2" transform="translate(193.8,134.8) rotate(-9)">Time [ms]</text><text font-size="5.2" transform="translate(53.2,113.6) rotate(51.5)">Stiffness <tspan font-style="italic">E</tspan> [MPa]</text></g><polygon fill="url(#c70)" points="194.5,28.2 201.7,37 213.6,53.4 218.4,59.5 218.4,59.5 216,58.3 207.4,54.8 202.2,52.5 192.7,47.6 181.9,41.3 178,38.7 172.8,34.8"/><polygon fill="url(#c69)" points="188.2,29.7 194.1,33.5 202.9,38.6 213.6,53.4 217.2,58.1 219.6,60.7 223.2,63.9 223.2,63.9 203.4,55.9 193.3,51.1 184.4,46.1 178.2,42.3 172.5,38.4 167.5,34.4"/><polygon fill="url(#c68)" points="184,31.2 189.7,35.1 193.9,37.6 205.6,43.8 207.7,45.1 214.8,55 218.4,59.5 224.4,65 228,68.8 228,68.8 226.2,67.5 213.7,63 202.3,58.4 194.4,54.8 189.5,52.4 180.8,47.4 172.7,42.3 167.2,38.4 162.5,34.3"/><polygon fill="url(#c67)" points="178.5,33.3 184,37.2 192.4,42.3 204.1,48.4 211.9,52 213.6,53.4 218.4,59.5 224.4,65 231.5,72.6 231.5,72.6 229.3,71.4 219.1,68.2 206.9,63.6 193.4,57.7 185.9,54.1 179.3,50.3 169.4,43.9 162.2,38.7 157.6,34.6"/><polygon fill="url(#c66)" points="172.8,34.8 178,38.7 181.9,41.3 192.7,47.6 202.2,52.5 207.4,54.8 216,58.3 218.4,59.5 224.4,65 232.7,73.8 235.1,76.1 235.1,76.1 233.5,75 225.7,73.1 218.9,71 209.3,67.6 197.9,62.9 185.1,56.9 176,51.9 166.3,45.5 159.2,40.2 153.2,34.8"/><polygon fill="url(#c65)" points="167.5,34.4 172.5,38.4 178.2,42.3 184.4,46.1 193.3,51.1 203.4,55.9 223.2,63.9 232.7,73.8 235.1,76.1 236.3,76.6 236.3,76.6 231.4,76.4 226.5,75.6 218.9,73.7 212.3,71.5 203,68.1 197.3,65.7 189.5,62.1 177.3,56 173,53.5 169,50.9 161.6,45.7 156.4,41.7 153.2,39 149,34.9"/><polygon fill="url(#c64)" points="162.5,34.3 167.2,38.4 172.7,42.3 180.8,47.4 189.5,52.4 197,56 207.9,60.7 216.6,64.2 226.2,67.5 228,68.8 232.7,73.8 235.1,76.1 236.3,76.6 237.5,70 237.5,70 234.4,76.7 225.9,76.6 221.1,75.9 213.7,73.9 204.1,70.6 195.4,67 187.5,63.4 175.4,57.2 168.9,53.5 161.4,48.3 154.5,43 149.8,38.9 145.7,34.8"/><polygon fill="url(#c63)" points="157.6,34.6 162.2,38.7 165.7,41.3 171.3,45.2 177.3,49.1 185.9,54.1 198.7,60.1 212.8,65.9 222.4,69.3 229.3,71.4 231.5,72.6 235.1,76.1 236.3,76.6 237.5,70 237.5,70 231.5,76.6 223,76.5 218.2,75.8 210.9,73.8 204.5,71.6 195.6,68.1 187.5,64.4 175.4,58.3 168.7,54.5 162.9,50.7 154,44.1 147.7,38.7 143.7,34.5"/><polygon fill="url(#c62)" points="153.2,34.8 157.6,38.9 162.6,42.9 168.2,46.8 176,51.9 185.1,56.9 195.3,61.7 203.4,65.3 209.3,67.6 218.9,71 225.7,73.1 233.5,75 236.3,76.6 237.5,70 237.5,70 230.1,76.2 221.7,76.2 216.9,75.5 209.6,73.5 203.2,71.3 194.3,67.7 186.3,64.1 174.2,57.9 167.6,54.2 161.7,50.3 153,43.7 146.7,38.3 142.7,34.2"/><polygon fill="url(#c61)" points="149,34.9 153.2,39 158.1,43 165.2,48.3 173,53.5 179.6,57.2 187,60.8 194.6,64.5 203,68.1 212.3,71.5 218.9,73.7 226.5,75.6 231.4,76.4 236.3,76.6 237.5,70 237.5,70 228.9,75.8 220.5,75.8 215.7,75.1 208.4,73.1 202.1,70.9 193.2,67.3 185.2,63.6 173.2,57.4 166.6,53.7 160.8,49.8 152,43.2 145.8,37.8 141.7,33.7"/><polygon fill="url(#c60)" points="145.7,34.8 149.8,38.9 154.5,43 161.4,48.3 168.9,53.5 175.4,57.2 187.5,63.4 195.4,67 204.1,70.6 213.7,73.9 221.1,75.9 225.9,76.6 234.4,76.7 237.5,70 237.5,70 227.7,75.3 219.3,75.3 214.5,74.6 210.7,73.7 207.2,72.6 200.9,70.4 192.1,66.8 184.1,63.1 172.2,56.9 165.6,53.1 159.8,49.3 151.1,42.7 144.8,37.3 140.8,33.1"/><polygon fill="url(#c59)" points="143.7,34.5 147.7,38.7 154,44.1 162.9,50.7 168.7,54.5 175.4,58.3 187.5,64.4 195.6,68.1 204.5,71.6 210.9,73.8 218.2,75.8 223,76.5 231.5,76.6 237.5,70 237.5,70 226.5,74.7 218.1,74.7 213.4,74 209.5,73.1 199.8,69.8 191,66.2 183.1,62.5 171.1,56.2 164.6,52.5 158.8,48.6 150.1,42 143.9,36.6 139.8,32.5"/><polygon fill="url(#c58)" points="142.7,34.2 146.7,38.3 153,43.7 161.7,50.3 167.6,54.2 174.2,57.9 186.3,64.1 194.3,67.7 203.2,71.3 209.6,73.5 216.9,75.5 221.7,76.2 230.1,76.2 237.5,70 237.5,70 225.3,74.1 216.9,74.1 212.2,73.5 208.3,72.5 198.7,69.2 189.9,65.6 182,61.9 170.1,55.6 163.5,51.8 157.8,48 149.1,41.3 142.9,36 138.9,31.8"/><polygon fill="url(#c57)" points="141.7,33.7 145.8,37.8 152,43.2 160.8,49.8 166.6,53.7 173.2,57.4 185.2,63.6 193.2,67.3 202.1,70.9 208.4,73.1 215.7,75.1 220.5,75.8 228.9,75.8 237.5,70 237.5,70 224.1,73.5 215.7,73.6 211,72.9 207.2,72 197.6,68.7 188.8,65 180.9,61.3 169.1,55 162.5,51.2 156.8,47.3 148.2,40.7 141.9,35.3 137.9,31.1"/><polygon fill="url(#c56)" points="140.8,33.1 144.8,37.3 151.1,42.7 159.8,49.3 165.6,53.1 172.2,56.9 184.1,63.1 192.1,66.8 200.9,70.4 207.2,72.6 210.7,73.7 214.5,74.6 219.3,75.3 227.7,75.3 237.5,70 237.5,70 222.9,72.9 214.6,73.1 209.9,72.4 206,71.5 196.4,68.2 187.7,64.5 179.9,60.7 168,54.4 161.5,50.6 155.8,46.7 147.2,40.1 141,34.7 137,30.6"/><polygon fill="url(#c55)" points="139.8,32.5 143.9,36.6 150.1,42 158.8,48.6 164.6,52.5 171.1,56.2 183.1,62.5 191,66.2 199.8,69.8 209.5,73.1 213.4,74 218.1,74.7 226.5,74.7 237.5,70 237.5,70 221.7,72.4 213.4,72.6 208.7,71.9 204.9,71 195.3,67.7 186.6,64 178.8,60.2 167,53.8 160.6,50.1 154.9,46.2 146.3,39.6 140.1,34.2 136.1,30"/><polygon fill="url(#c54)" points="138.9,31.8 142.9,36 149.1,41.3 157.8,48 163.5,51.8 172.4,56.8 184.5,63.1 195.6,68 204.9,71.5 208.3,72.5 212.2,73.5 216.9,74.1 225.3,74.1 237.5,70 238.7,63.6 238.7,63.6 237.3,69.9 220.5,71.9 212.2,72 207.6,71.4 203.7,70.5 200.4,69.4 191.2,65.9 180.2,60.9 166,53.3 159.6,49.5 153.9,45.6 145.3,39 139.1,33.6 135.1,29.4"/><polygon fill="url(#c53)" points="137.9,31.1 141.9,35.3 148.2,40.7 156.8,47.3 162.5,51.2 171.3,56.2 183.4,62.5 194.5,67.5 203.8,70.9 207.2,72 211,72.9 215.7,73.6 224.1,73.5 237.5,70 238.7,63.6 238.7,63.6 235.1,68.7 218.3,70.8 210.1,71 205.4,70.4 201.6,69.5 198.3,68.4 192.1,66.1 180.8,61.1 168.7,54.6 157.7,48.3 152.1,44.4 143.6,37.8 137.4,32.4 133.4,28.2"/><polygon fill="url(#c52)" points="137,30.6 141,34.7 147.2,40.1 155.8,46.7 161.5,50.6 170.3,55.6 182.4,62 193.4,66.9 202.7,70.4 206,71.5 209.9,72.4 214.6,73.1 222.9,72.9 237.5,70 238.7,63.6 238.7,63.6 230.3,66.6 213.7,68.9 205.4,69.2 200.8,68.6 197.1,67.7 193.8,66.6 187.7,64.3 176.6,59.1 169.2,55.2 158,48.8 153.9,46.3 148.3,42.4 139.9,35.7 133.8,30.3 129.8,26.1"/><polygon fill="url(#c51)" points="136.1,30 140.1,34.2 146.3,39.6 154.9,46.2 160.6,50.1 169.3,55.1 181.3,61.4 192.3,66.4 201.5,70 204.9,71 208.7,71.9 213.4,72.6 221.7,72.4 237.5,70 238.7,63.6 238.7,63.6 224.5,65.1 207.9,67.5 199.8,67.9 195.2,67.4 191.5,66.5 188.3,65.4 182.3,63 171.4,57.7 164.2,53.7 149.1,44.7 143.7,40.8 135.4,34.1 129.3,28.7 125.3,24.5"/><polygon fill="url(#c50)" points="135.1,29.4 139.1,33.6 145.3,39 153.9,45.6 159.6,49.5 166,53.3 180.2,60.9 191.2,65.9 200.4,69.4 203.7,70.5 207.6,71.4 212.2,72 220.5,71.9 237.3,69.9 238.7,63.6 239.9,65.5 239.9,65.5 232.2,64.3 217.6,65.7 201.1,68.1 193,68.4 188.5,67.9 184.9,67 175.9,63.6 167.7,59.5 160.4,55.5 145.3,46.4 139.8,42.5 130,34.5 124,29 120,24.9"/><polygon fill="url(#c49)" points="133.4,28.2 137.4,32.4 143.6,37.8 152.1,44.4 157.7,48.3 164.2,52.1 175.8,58.5 183.5,62.3 192.1,66.1 198.3,68.4 201.6,69.5 205.4,70.4 210.1,71 218.3,70.8 235.1,68.7 238.7,63.6 239.9,65.5 241.1,72.1 241.1,72.1 237.4,66.9 227.2,67 212.6,68.3 196.1,70.6 188.1,70.9 183.7,70.4 180.1,69.4 177,68.3 171.2,66 160.7,60.7 153.8,56.6 139.3,47.6 134.1,43.6 126,36.9 120.1,31.4 116.2,27.3"/><polygon fill="url(#c48)" points="129.8,26.1 133.8,30.3 139.9,35.7 148.3,42.4 153.9,46.3 158,48.8 171.6,56.5 179.2,60.4 187.7,64.3 197.1,67.7 200.8,68.6 205.4,69.2 213.7,68.9 230.3,66.6 238.7,63.6 239.9,65.5 241.1,72.1 241.1,72.1 234.2,69.7 224,69.8 209.4,71 193,73.2 184.8,73.4 180.4,72.8 176.8,71.8 168.1,68.4 160.2,64.4 153.2,60.4 138.6,51.3 133.2,47.4 123.6,39.3 117.7,33.9 113.8,29.7"/><polygon fill="url(#c47)" points="125.3,24.5 129.3,28.7 135.4,34.1 143.7,40.8 149.1,44.7 164.2,53.7 171.4,57.7 182.3,63 188.3,65.4 191.5,66.5 195.2,67.4 199.8,67.9 207.9,67.5 224.5,65.1 238.7,63.6 239.9,65.5 241.1,72.1 242.3,81.7 242.3,81.7 240.3,73 221,72.9 206.6,74.1 190.1,76.1 181.9,76.2 177.5,75.6 174,74.6 170.9,73.5 165.4,71.1 155.2,65.9 150.7,63.3 136.2,54.1 130.8,50.2 121.3,42.1 115.5,36.7 111.6,32.5"/><polygon fill="url(#c46)" points="120,24.9 124,29 130,34.5 139.8,42.5 145.3,46.4 160.4,55.5 167.7,59.5 175.9,63.6 184.9,67 188.5,67.9 193,68.4 201.1,68.1 217.6,65.7 232.2,64.3 239.9,65.5 241.1,72.1 242.3,81.7 242.3,81.7 239.1,74.3 219.9,74.3 205.4,75.4 189,77.3 180.9,77.4 176.4,76.8 172.9,75.8 164.3,72.3 156.6,68.4 149.6,64.5 135.2,55.4 129.9,51.4 120.4,43.3 114.6,37.9 110.7,33.7"/><polygon fill="url(#c45)" points="116.2,27.3 120.1,31.4 126,36.9 134.1,43.6 139.3,47.6 145.2,51.4 158.3,59.3 165.8,63.3 171.2,66 180.1,69.4 183.7,70.4 188.1,70.9 196.1,70.6 212.6,68.3 227.2,67 237.4,66.9 241.1,72.1 242.3,81.7 242.3,81.7 238,75.7 218.7,75.6 204.3,76.7 187.9,78.5 179.9,78.6 175.5,77.9 172,76.9 163.4,73.4 155.6,69.6 148.7,65.7 134.3,56.6 129,52.6 119.5,44.5 113.7,39.1 109.8,34.9"/><polygon fill="url(#c44)" points="113.8,29.7 117.7,33.9 123.6,39.3 133.2,47.4 136.7,50 144.6,55.2 157.8,63.1 168.1,68.4 173.7,70.7 176.8,71.8 180.4,72.8 184.8,73.4 193,73.2 209.4,71 224,69.8 234.2,69.7 241.1,72.1 242.3,81.7 242.3,81.7 236.8,77 217.6,77 203.2,78 186.8,79.7 179.1,79.6 174.7,78.9 171.2,77.9 162.5,74.5 154.7,70.7 147.7,66.8 135.3,59.1 129.7,55.1 120.2,47.1 112.8,40.3 109,36.1"/><polygon fill="url(#c43)" points="111.6,32.5 115.5,36.7 121.3,42.1 130.8,50.2 136.2,54.1 150.7,63.3 155.2,65.9 165.4,71.1 170.9,73.5 174,74.6 177.5,75.6 181.9,76.2 190.1,76.1 206.6,74.1 221,72.9 240.3,73 242.3,81.7 242.3,81.7 235.7,78.6 216.5,78.5 185.5,80.7 178.1,80.4 173.9,79.6 170.4,78.7 161.5,75.3 153.6,71.5 146.6,67.7 134.2,60.3 128.7,56.5 120.8,49.9 113.3,43.1 108.1,37.5"/><polygon fill="url(#c42)" points="110.7,33.7 114.6,37.9 120.4,43.3 129.9,51.4 135.2,55.4 149.6,64.5 156.6,68.4 164.3,72.3 172.9,75.8 176.4,76.8 180.9,77.4 189,77.3 205.4,75.4 219.9,74.3 239.1,74.3 242.3,81.7 242.3,81.7 234.7,80 225.7,79.9 215.5,80 201,81 184.1,81.4 177.3,81.1 173.1,80.3 169.6,79.3 160.6,75.9 152.6,72.2 139,65.1 133.1,61.6 127.6,57.9 119.8,51.3 112.5,44.5 107.3,38.9"/><polygon fill="url(#c41)" points="109.8,34.9 113.7,39.1 119.5,44.5 129,52.6 132.4,55.3 138.2,59.1 150.9,67 158.1,70.9 166.2,74.7 172,76.9 175.5,77.9 179.9,78.6 187.9,78.5 204.3,76.7 218.7,75.6 238,75.7 242.3,81.7 243.5,91.1 243.5,91.1 242.2,81.8 224.7,81.4 214.6,81.5 200,82.6 182.8,82.3 176.5,82 172.4,81.2 165.6,79.1 159.7,76.8 151.6,73.1 142,68 135.9,65.2 130.1,61.7 125,58 117.4,51.5 111.7,46 106.6,40.3"/><polygon fill="url(#c40)" points="109,36.1 112.8,40.3 118.7,45.7 128.1,53.8 131.5,56.5 139.3,61.6 149.9,68.1 157.2,72 165.3,75.7 171.2,77.9 174.7,78.9 179.1,79.6 186.8,79.7 203.2,78 217.6,77 236.8,77 242.3,81.7 243.5,91.1 243.5,91.1 241.3,83.4 223.8,83 213.6,83.1 198.9,84.2 181.5,83.6 175.7,83.4 171.6,82.6 164.8,80.5 158.8,78.1 150.6,74.4 140.8,69.3 134.8,66.6 129.1,63.2 124,59.6 116.5,53.1 110.9,47.6 105.8,41.9"/><polygon fill="url(#c39)" points="108.1,37.5 112,41.7 119.2,48.5 127,55.2 132.3,59.1 138.1,62.8 148.8,69 156.2,72.8 164.4,76.5 170.4,78.7 173.9,79.6 178.1,80.4 185.5,80.7 216.5,78.5 235.7,78.6 242.3,81.7 243.5,91.1 243.5,91.1 240.1,85.3 222.6,84.9 212.5,85 197.7,86.1 180.2,85.8 174.9,85.5 170.9,84.7 164,82.6 155.1,79 147,75.3 133.6,68.6 128,65.1 122.9,61.3 115.5,54.8 109.9,49.3 104.9,43.6"/><polygon fill="url(#c38)" points="107.3,38.9 112.5,44.5 118.3,50 126,56.6 131.2,60.4 137,64 150.1,71 157.8,74.7 163.5,77.1 169.6,79.3 173.1,80.3 177.3,81.1 184.1,81.4 201,81 215.5,80 234.7,80 242.3,81.7 243.5,91.1 243.5,91.1 238.9,87.1 221.5,86.7 211.3,86.7 196.6,87.7 179.2,88.2 174.3,87.8 170.4,86.9 163.5,84.8 154.4,81.3 143.6,76.4 134.6,71.7 128.9,68.1 123.6,64.2 117.6,59 110.4,52.1 104,45.1"/><polygon fill="url(#c37)" points="106.6,40.3 111.7,46 117.4,51.5 125,58 130.1,61.7 135.9,65.2 142,68 151.6,73.1 159.7,76.8 165.6,79.1 172.4,81.2 176.5,82 182.8,82.3 200,82.6 214.6,81.5 224.7,81.4 242.2,81.8 243.5,91.1 243.5,91.1 237.7,88.7 220.3,88.2 210.2,88.2 195.6,89.1 178.5,90.3 174,89.6 166.5,87.6 159.9,85.4 151.1,82 143.1,78.4 135.9,74.7 126.4,68.2 121.4,64.2 109.7,53.3 103.2,46.4"/><polygon fill="url(#c36)" points="105.8,41.9 110.9,47.6 116.5,53.1 124,59.6 129.1,63.2 132.8,65.6 136.7,67.6 140.8,69.3 148,73.2 153.3,75.7 161.8,79.3 168.1,81.6 171.6,82.6 175.7,83.4 198.9,84.2 213.6,83.1 223.8,83 241.3,83.4 244.7,95.8 244.7,95.8 241.8,92.1 225.4,91.6 206.8,91.4 192.9,92 178.1,92.4 169.9,90.4 162.9,88.3 153.7,85 142.8,80.4 135.5,76.8 129.4,73.1 122,67.9 117.2,63.9 107.9,55.8 101,48.9"/><polygon fill="url(#c35)" points="104.9,43.6 109.9,49.3 115.5,54.8 122.9,61.3 128,65.1 133.6,68.6 147,75.3 155.1,79 160.9,81.4 167.4,83.7 170.9,84.7 174.9,85.5 180.2,85.8 197.7,86.1 212.5,85 222.6,84.9 240.1,85.3 243.5,91.1 244.7,95.8 244.7,95.8 237.4,94.5 213,93.6 203.8,93.5 178.1,93.8 173.7,92.8 166.3,90.7 156.6,87.4 148.1,84 137.8,79.3 131.3,75.7 125.3,71.9 120,67.9 106.9,57.2 99.3,50.4"/><polygon fill="url(#c34)" points="104,45.1 110.4,52.1 117.6,59 123.6,64.2 128.9,68.1 134.6,71.7 143.6,76.4 151.6,80.1 160.3,83.6 166.8,85.9 170.4,86.9 174.3,87.8 179.2,88.2 196.6,87.7 211.3,86.7 221.5,86.7 238.9,87.1 243.5,91.1 244.7,95.8 245.9,99.4 245.9,99.4 243.9,96.1 234.4,96 201.8,94.7 178.1,94.4 169.9,92.3 162.9,90.2 153.7,86.9 145.4,83.4 137.8,79.9 131.2,76.3 127.2,73.7 121.6,69.8 106.4,57.9 98.4,51.3"/><polygon fill="url(#c33)" points="103.2,46.4 108.3,52 116.9,60.2 122.9,65.6 128.2,69.5 135.9,74.7 140.6,77.1 151.1,82 159.9,85.4 170.1,88.6 174,89.6 178.5,90.3 195.6,89.1 210.2,88.2 220.3,88.2 237.7,88.7 243.5,91.1 244.7,95.8 245.9,99.4 245.9,99.4 240.9,97.4 231.7,97.2 200.1,95.7 189.4,95.4 178.1,94.8 169.9,92.7 162.9,90.6 153.7,87.3 145.4,83.8 137.8,80.2 131.2,76.7 127.1,74.2 121.5,70.3 97.5,52"/><polygon fill="url(#c32)" points="101,48.9 105,53.1 112.5,59.9 122,67.9 127.5,71.8 135.5,76.8 140.2,79.2 150.8,83.9 159.6,87.3 169.9,90.4 178.1,92.4 192.9,92 206.8,91.4 225.4,91.6 241.8,92.1 244.7,95.8 245.9,99.4 245.9,99.4 237.9,98.6 229.1,98.4 188.6,96.2 178.1,95.2 173.7,94.1 166.3,92 156.6,88.7 148,85.3 140.2,81.8 133.3,78.3 129.1,75.8 123.2,72 96.7,52.6"/><polygon fill="url(#c31)" points="99.3,50.4 106.9,57.2 120,67.9 123.5,70.6 129.2,74.4 135.5,78.1 142.8,81.7 150.8,85.2 159.6,88.5 169.9,91.8 178.1,93.8 203.8,93.5 221.5,93.9 237.4,94.5 244.7,95.8 245.9,99.4 247.1,101.9 247.1,101.9 244.2,100 226.2,99.5 204.2,98.1 187.7,96.9 178.1,95.6 169.9,93.5 162.9,91.3 153.7,88 145.4,84.6 137.8,81 131.1,77.5 123.1,72.4 112.4,64.7 95.8,53.2"/><polygon fill="url(#c30)" points="98.4,51.3 106.4,57.9 121.6,69.8 127.2,73.7 131.2,76.3 137.8,79.9 145.4,83.4 153.7,86.9 162.9,90.2 169.9,92.3 178.1,94.4 201.8,94.7 234.4,96 243.9,96.1 245.9,99.4 247.1,101.9 247.1,101.9 239.9,101.2 223,100.5 208.8,99.6 194.6,98.5 186.6,97.7 178.1,96.2 166.3,93 156.6,89.7 148,86.3 140.2,82.8 133.2,79.2 124.9,74.3 112,65.3 94.8,53.8"/><polygon fill="url(#c29)" points="97.5,52 121.5,70.3 127.1,74.2 131.2,76.7 137.8,80.2 145.4,83.8 153.7,87.3 159.6,89.5 169.9,92.7 178.1,94.8 189.4,95.4 200.1,95.7 231.7,97.2 240.9,97.4 245.9,99.4 247.1,101.9 248.3,103.7 248.3,103.7 244.2,102.6 219.6,101.5 205.8,100.5 192.4,99.3 185.4,98.5 178.1,97 166.3,93.7 156.6,90.4 148,87 140.2,83.5 133.2,79.9 124.8,74.9 111.7,65.8 93.8,54.3"/><polygon fill="url(#c28)" points="96.7,52.6 121.4,70.7 127.1,74.5 131.1,77 137.8,80.6 145.4,84.2 153.7,87.6 162.9,90.9 169.9,93.1 178.1,95.2 188.6,96.2 229.1,98.4 237.9,98.6 245.9,99.4 247.1,101.9 248.3,103.7 248.3,103.7 216.9,102.1 203.4,101.1 190.5,99.9 184.4,98.9 178.1,97.6 166.3,94.3 156.6,91 148,87.6 140.2,84.1 133.1,80.5 126.7,76.7 111.3,66.2 92.9,54.6"/><polygon fill="url(#c27)" points="95.8,53.2 112.4,64.7 123.1,72.4 131.1,77.5 137.8,81 145.4,84.6 153.7,88 162.9,91.3 169.9,93.5 178.1,95.6 187.7,96.9 204.2,98.1 226.2,99.5 244.2,100 247.1,101.9 249.4,105.2 248.5,105.4 232.9,104.5 211.7,103 198.8,101.9 186.9,100.5 181.9,99.5 177.8,98.1 166,94.7 156.4,91.4 147.9,88 140,84.5 132.8,80.9 126.2,77 110.3,66.6 91.1,54.9"/><polygon fill="url(#c26)" points="94.8,53.8 112,65.3 124.9,74.3 131,78 137.8,81.6 145.4,85.1 153.7,88.6 162.9,91.9 169.8,94 178.1,96.2 186.6,97.7 194.6,98.5 208.8,99.6 223,100.5 239.9,101.2 247.1,101.9 249.4,105.2 241.5,105.9 227,105 207.1,103.3 194.8,102.1 183.5,100.7 179.1,99.6 176.2,98.2 168.1,96 161.2,93.7 155,91.5 146.6,88.2 138.8,84.6 131.6,81 124.9,77.1 108.8,66.6 89.5,54.9"/><polygon fill="url(#c25)" points="93.8,54.3 111.7,65.8 124.8,74.9 133.2,79.9 140.2,83.5 148,87 156.6,90.4 162.9,92.6 173.7,95.9 178.1,97 185.4,98.5 199,100 212.6,101 227.2,101.9 244.2,102.6 248.3,103.7 249.4,105.2 236.9,106.1 223,105.1 203.8,103.3 191.9,102.1 181,100.6 176.8,99.6 174.3,98.3 166.3,96 159.5,93.8 153.4,91.6 145.1,88.2 137.4,84.6 130.2,81 123.6,77.1 107.4,66.5 88.2,54.6"/><polygon fill="url(#c24)" points="92.9,54.6 111.3,66.2 126.7,76.7 133.1,80.5 140.2,84.1 148,87.6 156.6,91 162.9,93.2 169.8,95.4 178.1,97.6 184.4,98.9 190.5,99.9 203.4,101.1 216.9,102.1 248.3,103.7 249.4,105.2 232.6,106.2 219.2,105.1 200.6,103.3 189.1,101.9 178.5,100.4 174.5,99.5 172,98.3 164.2,96 157.5,93.8 151.5,91.5 143.3,88.1 135.7,84.5 128.6,80.8 122,77 106,66.3 87.1,54.3"/><polygon fill="url(#c23)" points="91.1,54.9 110.3,66.6 126.2,77 132.8,80.9 140,84.5 147.9,88 156.4,91.4 166,94.7 177.8,98.1 181.9,99.5 186.9,100.5 198.8,101.9 211.7,103 232.9,104.5 248.5,105.4 228.3,106.2 215.4,105 197.4,103.1 186.3,101.7 176,100.1 172,99.2 169.4,98.1 161.8,95.8 155.3,93.6 146.6,90.2 138.7,86.7 131.4,83 124.5,79.2 118.2,75.3 104.4,65.9 85.9,53.9"/><polygon fill="url(#c22)" points="89.5,54.9 108.8,66.6 124.9,77.1 131.6,81 138.8,84.6 146.6,88.2 155,91.5 161.2,93.7 168.1,96 176.2,98.2 179.1,99.6 183.5,100.7 194.8,102.1 207.1,103.3 227,105 241.5,105.9 224.2,106.1 211.6,104.9 194.2,102.9 183.5,101.4 173.5,99.8 169.5,98.8 152.8,93.2 144.3,89.8 136.5,86.3 129.4,82.6 122.6,78.8 116.4,74.9 84.7,53.4"/><polygon fill="url(#c21)" points="88.2,54.6 107.4,66.5 123.6,77.1 130.2,81 137.4,84.6 145.1,88.2 153.4,91.6 159.5,93.8 166.3,96 174.3,98.3 176.8,99.6 181,100.6 191.9,102.1 203.8,103.3 223,105.1 236.9,106.1 220.1,106.1 207.9,104.8 191,102.6 180.6,101.1 170.9,99.4 166.9,98.4 160,96.2 150.3,92.8 141.9,89.3 134.3,85.8 127.3,82.1 120.6,78.3 114.5,74.3 83.4,52.9"/><polygon fill="url(#c20)" points="87.1,54.3 106,66.3 122,77 128.6,80.8 135.7,84.5 143.3,88.1 151.5,91.5 157.5,93.8 164.2,96 172,98.3 174.5,99.5 178.5,100.4 189.1,101.9 200.6,103.3 219.2,105.1 232.6,106.2 214.1,106 202.4,104.6 186.3,102.3 167.2,98.9 163.2,97.9 156,95.7 146.7,92.2 138.6,88.7 131.1,85.1 124.2,81.3 117.8,77.5 109.9,72.3 81.7,52.3"/><polygon fill="url(#c19)" points="85.9,53.9 104.4,65.9 118.2,75.3 124.5,79.2 131.4,83 138.7,86.7 146.6,90.2 155.3,93.6 161.8,95.8 169.4,98.1 172,99.2 176,100.1 186.3,101.7 197.4,103.1 215.4,105 228.3,106.2 207.1,106.1 185.9,102.9 176.4,101.2 163.1,98.5 159.2,97.5 152,95.2 143.1,91.8 135.2,88.2 127.9,84.5 121.2,80.8 114.9,76.9 105.3,70.4 79.7,51.8"/><polygon fill="url(#c18)" points="84.7,53.4 116.4,74.9 122.6,78.8 129.4,82.6 136.5,86.3 144.3,89.8 152.8,93.2 169.5,98.8 173.5,99.8 183.5,101.4 194.2,102.9 211.6,104.9 224.2,106.1 200.3,106.2 180.7,102.9 171.8,101.1 159.4,98.2 148.8,95 137.5,90.4 125.3,84.3 118.7,80.5 110.6,75.3 104.8,71.4 92,62.1 77.9,51.5"/><polygon fill="url(#c17)" points="83.4,52.9 114.5,74.3 120.6,78.3 127.3,82.1 134.3,85.8 141.9,89.3 150.3,92.8 160,96.2 166.9,98.4 170.9,99.4 180.6,101.1 191,102.6 207.9,104.8 220.1,106.1 193.5,106.3 175.5,102.7 155.7,97.9 145.7,94.7 134.7,90.1 122.8,83.9 116.4,80.1 108.3,75 100.8,69.7 89.9,61.8 76.2,51.2"/><polygon fill="url(#c16)" points="81.7,52.3 109.9,72.3 117.8,77.5 124.2,81.3 131.1,85.1 138.6,88.7 146.7,92.2 156,95.7 163.2,97.9 167.2,98.9 186.3,102.3 202.4,104.6 214.1,106 186.5,106.3 170.2,102.6 152,97.5 142.6,94.4 132,89.7 124.8,86 118.2,82.3 104.1,73.3 96.7,68.1 86,60.2 74.4,50.8"/><polygon fill="url(#c15)" points="79.7,51.8 105.3,70.4 114.9,76.9 121.2,80.8 127.9,84.5 135.2,88.2 143.1,91.8 152,95.2 159.2,97.5 163.1,98.5 176.4,101.2 185.9,102.9 207.1,106.1 179.7,106.3 161.5,101.4 142.3,95.2 134.2,91.8 126.8,88.2 115.7,82 107.7,76.8 100,71.7 84,59.9 72.6,50.6"/><polygon fill="#8104ff" points="77.9,51.5 92,62.1 104.8,71.4 110.6,75.3 118.7,80.5 125.3,84.3 137.5,90.4 148.8,95 159.4,98.2 171.8,101.1 180.7,102.9 200.3,106.2 172.8,106.6 159.7,102.5 138.9,95 131.2,91.7 121.8,86.8 111.2,80.5 101.5,74 94,68.9 80.2,58.4 70.8,50.4"/><polygon fill="#8405fd" points="76.2,51.2 89.9,61.8 100.8,69.7 108.3,75 116.4,80.1 122.8,83.9 134.7,90.1 145.7,94.7 155.7,97.9 175.5,102.7 193.5,106.3 165.9,107.1 154.2,102.8 132.7,94 125.5,90.5 116.6,85.5 104.6,77.8 88,66.2 77.9,58.4 73.2,54.4 68.9,50.3"/><polygon fill="url(#c12)" points="74.4,50.8 86,60.2 96.7,68.1 104.1,73.3 118.2,82.3 124.8,86 132,89.7 142.6,94.4 152,97.5 170.2,102.6 186.5,106.3 159,108 148.5,103.5 136,97.5 128.8,94.4 121.9,90.9 113.3,85.9 103.5,79.4 85.4,66.5 75.5,58.6 70.9,54.6 66.7,50.6"/><polygon fill="url(#c11)" points="72.6,50.6 84,59.9 100,71.7 107.7,76.8 115.7,82 126.8,88.2 134.2,91.8 142.3,95.2 161.5,101.4 179.7,106.3 152,109.5 142.5,104.7 130.9,98.6 122,94.2 115.6,90.5 107.5,85.3 91.1,73.6 80.7,65.8 71.2,57.8 64.2,51"/><polygon fill="url(#c10)" points="70.8,50.4 80.2,58.4 94,68.9 101.5,74 111.2,80.5 121.8,86.8 131.2,91.7 138.9,95 159.7,102.5 172.8,106.6 145.2,111.2 117.1,95.4 111,91.6 103.3,86.4 87.5,74.5 77.6,66.6 68.4,58.5 61.5,51.7"/><polygon fill="url(#c9)" points="68.9,50.3 73.2,54.4 77.9,58.4 88,66.2 104.6,77.8 116.6,85.5 125.5,90.5 132.7,94 154.2,102.8 165.9,107.1 138.2,113.2 111.7,96.9 105.9,93 98.7,87.7 85.3,76.9 74.2,67.5 65.3,59.3 58.5,52.4"/><polygon fill="url(#c8)" points="66.7,50.6 70.9,54.6 75.5,58.6 85.4,66.5 103.5,79.4 113.3,85.9 121.9,90.9 128.8,94.4 136,97.5 148.5,103.5 159,108 131.3,115 108.2,99.6 101,94.3 94.1,88.9 81.5,78 70.9,68.5 62.3,60.2 55.6,53.2"/><polygon fill="url(#c7)" points="64.2,51 71.2,57.8 80.7,65.8 91.1,73.6 107.5,85.3 115.6,90.5 122,94.2 130.9,98.6 142.5,104.7 152,109.5 124.4,116.5 103,100.8 96.3,95.4 89.9,90 77.8,79 67.7,69.3 59.4,61 52.8,53.9"/><polygon fill="url(#c6)" points="61.5,51.7 68.4,58.5 77.6,66.6 87.5,74.5 103.3,86.4 111,91.6 117.1,95.4 145.2,111.2 117.4,118 97.8,101.9 85.5,91 64.4,70.2 56.4,61.8 50,54.7"/><polygon fill="#8906f7" points="58.5,52.4 65.3,59.3 74.2,67.5 85.3,76.9 98.7,87.7 105.9,93 111.7,96.9 138.2,113.2 110.5,119.4 92.6,103.1 81.3,92 61.2,71 47.3,55.5"/><polygon fill="url(#c4)" points="55.6,53.2 62.3,60.2 70.9,68.5 81.5,78 94.1,88.9 101,94.3 108.2,99.6 131.3,115 103.6,120.8 87.5,104.1 77,93 58,71.9 44.5,56.4"/><polygon fill="url(#c3)" points="52.8,53.9 59.4,61 67.7,69.3 77.8,79 89.9,90 96.3,95.4 103,100.8 124.4,116.5 96.6,122.1 41.7,57.3"/><polygon fill="#8505fd" points="50,54.7 56.4,61.8 64.4,70.2 85.5,91 97.8,101.9 117.4,118 96.6,122.1 41.7,57.3"/><polygon fill="#8305fe" points="47.3,55.5 61.2,71 81.3,92 92.6,103.1 110.5,119.4 96.6,122.1 41.7,57.3"/><polygon fill="#8104ff" points="44.5,56.4 58,71.9 77,93 87.5,104.1 103.6,120.8 96.6,122.1 41.7,57.3"/><path stroke="#444" stroke-width=".5" d="M96.6 134.7L96.6 122.1"/></g><g transform="translate(0,184.6)"><rect x="32.1" y="20.2" width="8.9" height="49.6" fill="url(#cb)" stroke="#222" stroke-width=".5"/><path stroke-width=".55" stroke="#222" d="M32.1 26.4h1.5M41.0 26.4h-1.5M32.1 32.6h1.5M41.0 32.6h-1.5M32.1 38.8h1.5M41.0 38.8h-1.5M32.1 45.0h1.5M41.0 45.0h-1.5M32.1 51.2h1.5M41.0 51.2h-1.5M32.1 57.4h1.5M41.0 57.4h-1.5M32.1 63.6h1.5M41.0 63.6h-1.5"/><path stroke-width=".55" stroke="#888" d="M42.0 20.5h1.6M42.0 26.7h1.6M42.0 32.9h1.6M42.0 39.1h1.6M42.0 45.3h1.6M42.0 51.5h1.6M42.0 57.7h1.6M42.0 63.9h1.6M42.0 70.1h1.6"/><g font-size="5.8" text-anchor="end"><text x="29" y="23.1">3000</text><text x="29" y="29.3">2500</text><text x="29" y="35.5">2000</text><text x="29" y="41.7">1500</text><text x="29" y="47.9">1000</text><text x="29" y="54.1">500</text><text x="29" y="60.3">0</text><text x="29" y="66.5">−500</text><text x="29" y="72.7">−1000</text></g><text x="16.3" y="12.4" font-size="5.94">Acceleration [m/s<tspan font-size="4.2" dy="-2.2">2</tspan><tspan dy="2.2">]</tspan></text></g><g transform="translate(261.46,183.88) scale(1.018)"><path stroke="#333" stroke-width=".55" fill="none" d="M96.6 134.7L249.4 110.4M96.6 134.7L41.7 69.9M249.4 110.4L194.5 45.6M249.4 110.4L249.4 86.5M96.6 134.7L95.7 133.6M117 131.5L116.1 130.4M137.4 128.2L136.5 127.1M157.7 125L156.8 123.9M178.1 121.7L177.2 120.6M198.5 118.5L197.6 117.4M218.9 115.3L218 114.2M239.3 112L238.4 110.9M249.4 110.4L248.5 109.3M87.1 123.4L90.7 122.5M75.1 109.3L78.7 108.4M63.2 95.3L66.8 94.4M51.2 81.2L54.8 80.3M41.7 69.9L45.3 69"/><g font-size="5.8" text-anchor="middle"><text x="98.2" y="141.5">0</text><text x="118.6" y="138.3">2</text><text x="139.0" y="135.0">4</text><text x="159.3" y="131.8">6</text><text x="179.7" y="128.5">8</text><text x="200.1" y="125.3">10</text><text x="220.5" y="122.1">12</text><text x="240.9" y="118.8">14</text><text x="79.3" y="127.6">5</text><text x="67.3" y="113.5">10</text><text x="55.4" y="99.5">15</text><text x="43.4" y="85.4">20</text><text font-size="5.2" transform="translate(195.6,134.5) rotate(-9)">Time [ms]</text><text font-size="5.2" transform="translate(48.2,107.4) rotate(51.5)">Stiffness <tspan font-style="italic">E</tspan> [MPa]</text></g><polyline fill="none" stroke="url(#dw)" stroke-width="1.6" points="42.7,53 97.6,117.4"/><polygon fill="url(#d86)" points="194.5,34.3 236.3,81.9 236.3,81.9 234.7,80.6 224.9,75.8 218.9,71.9 215.3,69.3 207.1,62.6 195.2,54.9 188.2,49.6 179.8,42.9 172.1,36.1"/><polygon fill="url(#d85)" points="193.1,34.5 200.5,41.2 235.1,80.6 243.5,90.5 243.5,90.5 242.2,89 235.2,85.3 220.3,78.1 218,76.9 213.9,74.3 208.4,70.4 200.2,63.7 190.2,57.3 186.5,54.7 172.9,44 165.2,37.2"/><polygon fill="url(#d84)" points="186.1,34.9 190.5,39 197.1,44.3 207.4,52.2 214.8,57.4 237.5,83.3 247.1,95 247.1,95 244.5,93.8 240.9,92.7 235.2,90.4 228.4,86.7 213.6,79.5 209.1,77 203.4,73.1 193.5,65.1 183.6,58.7 179.9,56.1 166.2,45.4 158.6,38.6"/><polygon fill="url(#d83)" points="179.1,35.4 186.8,42.2 200.4,52.8 204.1,55.4 214.1,61.8 222.3,68.5 227.8,72.4 229.2,73.8 237.5,83.3 247.1,95 248.3,90.8 248.3,90.8 245.3,93.7 240.6,92.6 236.8,91.5 230.7,89.1 223.2,85.5 212.5,80.8 205.1,77.1 200.9,74.6 197.1,72 187,64 176.8,57.6 173.1,55 159.3,44.3 151.7,37.3"/><polygon fill="url(#d82)" points="172.1,36.1 179.8,42.9 188.2,49.6 195.2,54.9 207.1,62.6 215.3,69.3 218.9,71.9 224.9,75.8 234.7,80.6 236.3,81.9 247.1,95 248.3,90.8 248.3,90.8 244.9,93.2 240.1,92.1 230.1,88.4 222.5,84.7 211.6,80 204.1,76.4 199.9,73.9 196.1,71.3 185.8,63.2 175.7,56.8 171.9,54.2 159.8,44.8 154.9,40.6 150.4,36.3"/><polygon fill="url(#d81)" points="165.2,37.2 172.9,44 186.5,54.7 190.2,57.3 200.2,63.7 208.4,70.4 213.9,74.3 218,76.9 220.3,78.1 235.2,85.3 242.2,89 247.1,95 248.3,90.8 248.3,90.8 244.5,92.7 239.7,91.5 229.6,87.7 221.7,84.1 210.7,79.4 203.2,75.7 198.9,73.2 195,70.6 184.7,62.6 174.5,56.1 170.8,53.5 158.6,44.1 153.7,39.8 149.2,35.5"/><polygon fill="url(#d80)" points="158.6,38.6 166.2,45.4 179.9,56.1 183.6,58.7 193.5,65.1 203.4,73.1 207.1,75.7 211.2,78.3 228.4,86.7 235.2,90.4 240.9,92.7 244.5,93.8 247.1,95 248.3,90.8 248.3,90.8 244.1,92.3 239.2,91 229,87.2 220.9,83.5 209.8,78.8 202.2,75.2 197.9,72.6 194,70 183.7,62 173.4,55.6 169.6,52.9 157.4,43.4 152.5,39.2 148.1,34.8"/><polygon fill="url(#d79)" points="151.7,37.3 159.3,44.3 173.1,55 176.8,57.6 187,64 197.1,72 200.9,74.6 205.1,77.1 212.5,80.8 223.2,85.5 230.7,89.1 236.8,91.5 240.6,92.6 245.3,93.7 248.3,90.8 248.3,90.8 243.7,91.9 238.7,90.5 231.5,87.8 225.5,85.4 220.2,82.9 208.9,78.2 201.2,74.6 196.9,72 193,69.4 182.6,61.4 172.3,55 168.5,52.3 156.3,42.8 151.4,38.5 146.9,34.1"/><polygon fill="url(#d78)" points="150.4,36.3 154.9,40.6 159.8,44.8 171.9,54.2 175.7,56.8 185.8,63.2 196.1,71.3 199.9,73.9 204.1,76.4 211.6,80 222.5,84.7 230.1,88.4 240.1,92.1 244.9,93.2 248.3,90.8 248.3,90.8 243.2,91.4 238.3,90 227.8,86 219.4,82.3 210.6,78.8 200.2,74 195.9,71.5 192,68.8 181.5,60.8 171.2,54.4 167.3,51.7 155.1,42.2 150.2,37.9 145.7,33.4"/><polygon fill="url(#d77)" points="149.2,35.5 153.7,39.8 158.6,44.1 170.8,53.5 174.5,56.1 184.7,62.6 195,70.6 198.9,73.2 203.2,75.7 210.7,79.4 221.7,84.1 229.6,87.7 239.7,91.5 244.5,92.7 248.3,90.8 248.3,90.8 242.8,91 237.8,89.5 227.2,85.4 218.7,81.7 209.7,78.2 199.3,73.4 194.9,70.9 190.9,68.2 180.4,60.2 170,53.8 166.2,51.1 153.9,41.5 149,37.2 144.5,32.7"/><polygon fill="url(#d76)" points="148.1,34.8 152.5,39.2 157.4,43.4 169.6,52.9 173.4,55.6 183.7,62 194,70 197.9,72.6 202.2,75.2 209.8,78.8 220.9,83.5 229,87.2 239.2,91 244.1,92.3 248.3,90.8 248.3,90.8 242.4,90.5 237.3,89 226.6,84.7 217.9,81.1 208.9,77.6 200.8,74 196,71.5 189.9,67.7 179.3,59.6 168.9,53.2 165.1,50.5 157.9,45.1 152.7,40.9 147.8,36.5 143.4,32"/><polygon fill="url(#d75)" points="146.9,34.1 151.4,38.5 156.3,42.8 168.5,52.3 172.3,55 182.6,61.4 193,69.4 196.9,72 201.2,74.6 208.9,78.2 220.2,82.9 225.5,85.4 231.5,87.8 238.7,90.5 243.7,91.9 248.3,90.8 248.3,90.8 241.9,90.1 236.9,88.4 217.2,80.5 208,77 199.8,73.4 195.1,70.9 188.9,67 178.2,59 167.8,52.5 163.9,49.9 156.8,44.5 151.6,40.2 146.7,35.8 142.2,31.2"/><polygon fill="url(#d74)" points="145.7,33.4 150.2,37.9 155.1,42.2 167.3,51.7 171.2,54.4 181.5,60.8 192,68.8 195.9,71.5 200.2,74 210.6,78.8 219.4,82.3 227.8,86 238.3,90 243.2,91.4 248.3,90.8 248.3,90.8 241.5,89.6 236.4,87.9 216.4,79.8 207.1,76.4 198.9,72.8 194.1,70.3 187.9,66.4 177.2,58.4 166.7,51.9 162.8,49.3 155.6,43.8 150.4,39.6 145.5,35.1 141,30.5"/><polygon fill="url(#d73)" points="144.5,32.7 149,37.2 153.9,41.5 166.2,51.1 170,53.8 180.4,60.2 190.9,68.2 194.9,70.9 199.3,73.4 209.7,78.2 218.7,81.7 227.2,85.4 237.8,89.5 242.8,91 248.3,90.8 248.3,90.8 241.1,89.1 235.9,87.3 215.7,79.2 203.3,74.5 197.9,72.1 193.1,69.6 186.8,65.8 176.1,57.7 165.5,51.2 161.7,48.6 154.5,43.1 149.2,38.9 144.3,34.3 139.8,29.7"/><polygon fill="url(#d72)" points="143.4,32 147.8,36.5 152.7,40.9 157.9,45.1 165.1,50.5 168.9,53.2 179.3,59.6 189.9,67.7 193.9,70.3 198.3,72.8 208.9,77.6 217.9,81.1 226.6,84.7 237.3,89 242.4,90.5 248.3,90.8 249.4,86.5 249.4,86.5 248,90.4 240.7,88.6 235.5,86.7 231.4,84.9 214.9,78.5 205.3,75.1 199.6,72.7 194.4,70.2 189.9,67.7 185.8,65.1 175,57 164.4,50.6 160.5,47.9 153.3,42.5 148.1,38.2 143.2,33.6 138.7,28.9"/><polygon fill="url(#d71)" points="142.2,31.2 146.7,35.8 151.6,40.2 156.8,44.5 163.9,49.9 167.8,52.5 178.2,59 188.9,67 192.9,69.6 197.3,72.2 208,77 217.2,80.5 236.9,88.4 241.9,90.1 248.3,90.8 249.4,86.5 249.4,86.5 247.6,90 240.2,88.1 214.2,77.8 204.4,74.4 198.7,72 193.5,69.6 188.9,67 184.8,64.4 173.9,56.3 163.3,49.9 159.4,47.2 152.2,41.7 146.9,37.4 142,32.8 137.5,28"/><polygon fill="url(#d70)" points="141,30.5 145.5,35.1 150.4,39.6 155.6,43.8 162.8,49.3 166.7,51.9 177.2,58.4 187.9,66.4 191.9,69 196.4,71.6 207.1,76.4 216.4,79.8 236.4,87.9 241.5,89.6 248.3,90.8 249.4,86.5 249.4,86.5 247.2,89.6 239.8,87.6 234.5,85.5 230.4,83.6 226.5,82.1 213.4,77.1 203.5,73.7 197.7,71.3 192.5,68.8 187.9,66.3 183.8,63.7 172.8,55.6 162.2,49.2 158.3,46.5 151,41 145.7,36.6 140.8,32 136.3,27.2"/><polygon fill="url(#d69)" points="139.8,29.7 144.3,34.3 149.2,38.9 154.5,43.1 161.7,48.6 165.5,51.2 176.1,57.7 186.8,65.8 190.9,68.4 195.4,70.9 206.2,75.7 215.7,79.2 235.9,87.3 241.1,89.1 248.3,90.8 249.4,86.5 249.4,86.5 246.8,89.2 239.4,87 234.1,84.9 229.8,82.9 226,81.3 212.6,76.3 205.8,74.1 199.6,71.8 191.5,68.1 186.9,65.6 182.8,63 171.7,54.9 161,48.4 157.1,45.7 149.8,40.2 144.6,35.9 139.6,31.2 135.1,26.3"/><polygon fill="url(#d68)" points="138.7,28.9 143.2,33.6 148.1,38.2 153.3,42.5 160.5,47.9 164.4,50.6 175,57 185.8,65.1 189.9,67.7 194.4,70.2 199.6,72.7 205.3,75.1 214.9,78.5 231.4,84.9 235.5,86.7 240.7,88.6 248,90.4 249.4,86.5 249.4,86.5 246.4,88.7 239,86.5 225.4,80.6 211.9,75.6 201.7,72.2 195.8,69.8 190.5,67.4 185.9,64.8 181.7,62.2 170.6,54.1 159.9,47.7 156,45 148.7,39.5 143.4,35.1 138.4,30.3 133.9,25.4"/><polygon fill="url(#d67)" points="137.5,28 142,32.8 146.9,37.4 152.2,41.7 159.4,47.2 163.3,49.9 173.9,56.3 184.8,64.4 188.9,67 193.5,69.6 198.7,72 204.4,74.4 214.2,77.8 240.2,88.1 247.6,90 249.4,86.5 249.4,86.5 246,88.3 238.5,85.9 233.1,83.6 228.8,81.5 224.9,79.9 211.1,74.8 204.1,72.6 197.8,70.3 192.1,67.8 187.2,65.3 180.7,61.5 169.5,53.4 158.8,46.9 151.1,41.5 145.7,37.2 140.5,32.7 137.3,29.4 132.8,24.5"/><polygon fill="url(#d66)" points="136.3,27.2 140.8,32 145.7,36.6 151,41 158.3,46.5 162.2,49.2 172.8,55.6 183.8,63.7 187.9,66.3 192.5,68.8 197.7,71.3 203.5,73.7 213.4,77.1 226.5,82.1 230.4,83.6 234.5,85.5 239.8,87.6 247.2,89.6 249.4,86.5 249.4,86.5 245.6,87.9 238.1,85.4 232.7,83 228.3,80.8 224.3,79.1 210.4,74.1 199.9,70.7 191.2,67.1 186.2,64.6 179.7,60.7 168.5,52.6 157.7,46.1 150,40.7 144.6,36.5 139.4,31.9 136.1,28.6 131.6,23.6"/><polygon fill="url(#d65)" points="135.1,26.3 139.6,31.2 144.6,35.9 149.8,40.2 157.1,45.7 161,48.4 171.7,54.9 182.8,63 186.9,65.6 191.5,68.1 199.6,71.8 205.8,74.1 212.6,76.3 226,81.3 229.8,82.9 234.1,84.9 239.4,87 246.8,89.2 249.4,86.5 249.4,86.5 245.2,87.4 237.7,84.8 232.2,82.4 227.8,80.1 223.8,78.4 209.6,73.3 199.1,70 190.2,66.4 185.2,63.9 178.7,60 167.4,51.9 156.5,45.4 148.9,39.9 143.4,35.7 138.2,31 134.9,27.8 130.4,22.7"/><polygon fill="url(#d64)" points="133.9,25.4 138.4,30.3 143.4,35.1 148.7,39.5 156,45 159.9,47.7 170.6,54.1 181.7,62.2 185.9,64.8 190.5,67.4 195.8,69.8 201.7,72.2 211.9,75.6 225.4,80.6 239,86.5 246.4,88.7 249.4,86.5 249.4,86.5 244.7,86.9 237.2,84.1 231.6,81.6 227.2,79.2 223.1,77.5 208.7,72.4 197.9,69 189,65.5 184,63 177.4,59.1 166,51 155.1,44.4 147.4,39 142,34.7 138.4,31.7 133.5,26.7 129,21.5"/><polygon fill="url(#d63)" points="132.8,24.5 137.3,29.4 140.5,32.7 145.7,37.2 151.1,41.5 158.8,46.9 169.5,53.4 180.7,61.5 187.2,65.3 192.1,67.8 197.8,70.3 204.1,72.6 211.1,74.8 224.9,79.9 228.8,81.5 233.1,83.6 238.5,85.9 246,88.3 249.4,86.5 249.4,86.5 244.1,86.2 236.5,83.2 230.9,80.6 226.4,78.1 222.3,76.3 211.1,72.4 196.6,67.8 187.5,64.3 182.5,61.7 177.9,59.2 173.8,56.5 164.4,49.7 151.3,41.9 145.7,37.7 140.2,33.4 136.6,30.3 131.6,25.3 127.1,20.1"/><polygon fill="url(#d62)" points="131.6,23.6 136.1,28.6 139.4,31.9 144.6,36.5 150,40.7 157.7,46.1 168.5,52.6 179.7,60.7 186.2,64.6 191.2,67.1 199.9,70.7 210.4,74.1 224.3,79.1 228.3,80.8 232.7,83 238.1,85.4 245.6,87.9 249.4,86.5 249.4,86.5 243.6,85.5 235.9,82.4 230.3,79.6 225.7,77 221.5,75.2 210.1,71.2 195.3,66.7 186.2,63.1 181.1,60.6 176.6,58.1 172.4,55.4 162.9,48.6 149.8,40.7 142.2,35.2 136.8,30.7 133.3,27.5 130,24.1 125.5,18.7"/><polygon fill="url(#d61)" points="130.4,22.7 134.9,27.8 138.2,31 143.4,35.7 148.9,39.9 156.5,45.4 167.4,51.9 178.7,60 185.2,63.9 190.2,66.4 199.1,70 209.6,73.3 223.8,78.4 227.8,80.1 232.2,82.4 237.7,84.8 245.2,87.4 249.4,86.5 249.4,86.5 243.1,84.9 235.4,81.7 229.7,78.8 225.1,76.1 220.8,74.2 209.3,70.2 197.8,66.9 191,64.6 185.1,62.1 177.6,58.4 171.1,54.4 161.6,47.6 148.4,39.7 140.8,34.2 135.4,29.7 131.9,26.4 128.6,22.9 124.1,17.5"/><polygon fill="url(#d60)" points="129,21.5 133.5,26.7 138.4,31.7 142,34.7 147.4,39 155.1,44.4 166,51 177.4,59.1 184,63 189,65.5 197.9,69 208.7,72.4 223.1,77.5 227.2,79.2 231.6,81.6 237.2,84.1 244.7,86.9 249.4,86.5 249.4,86.5 242.7,84.4 234.9,81 229.1,78 224.5,75.2 220.2,73.3 208.4,69.3 196.8,65.9 189.9,63.6 183.9,61.2 176.4,57.4 169.9,53.5 160.3,46.6 147.1,38.8 139.4,33.2 134,28.7 130.5,25.3 127.2,21.8 122.7,16.4"/><polygon fill="url(#d59)" points="127.1,20.1 131.6,25.3 136.6,30.3 140.2,33.4 145.7,37.7 151.3,41.9 164.4,49.7 173.8,56.5 177.9,59.2 182.5,61.7 187.5,64.3 196.6,67.8 211.1,72.4 222.3,76.3 226.4,78.1 230.9,80.6 236.5,83.2 244.1,86.2 249.4,86.5 249.4,86.5 242.2,83.9 234.4,80.4 228.6,77.2 223.9,74.4 219.6,72.5 211.5,69.6 203.8,67.2 195.8,65.1 188.8,62.8 182.8,60.4 175.2,56.6 168.7,52.6 159,45.8 145.7,37.9 138.1,32.3 132.6,27.8 129.1,24.4 125.9,20.9 121.3,15.3"/><polygon fill="url(#d58)" points="125.5,18.7 130,24.1 133.3,27.5 136.8,30.7 142.2,35.2 149.8,40.7 162.9,48.6 172.4,55.4 176.6,58.1 181.1,60.6 186.2,63.1 195.3,66.7 210.1,71.2 221.5,75.2 225.7,77 230.3,79.6 235.9,82.4 243.6,85.5 249.4,86.5 249.4,86.5 241.8,83.4 233.9,79.8 228,76.5 223.3,73.6 218.9,71.7 210.7,68.8 202.9,66.4 194.7,64.3 187.7,62 181.6,59.5 174,55.7 167.4,51.8 157.7,45 144.4,37.1 136.7,31.5 131.2,26.9 127.7,23.5 124.4,20 119.9,14.4"/><polygon fill="url(#d57)" points="124.1,17.5 128.6,22.9 131.9,26.4 135.4,29.7 140.8,34.2 148.4,39.7 161.6,47.6 171.1,54.4 177.6,58.4 185.1,62.1 191,64.6 197.8,66.9 209.3,70.2 220.8,74.2 225.1,76.1 229.7,78.8 235.4,81.7 243.1,84.9 249.4,86.5 249.4,86.5 241.2,82.9 233.3,79.2 227.4,75.9 222.6,72.9 218.1,70.9 209.8,68 201.8,65.7 193.6,63.5 186.4,61.2 180.3,58.8 172.6,55 166,51.1 156.2,44.2 142.8,36.3 135.1,30.7 129.6,26.1 126.1,22.7 122.8,19.1 118.3,13.5"/><polygon fill="url(#d56)" points="122.7,16.4 127.2,21.8 130.5,25.3 134,28.7 139.4,33.2 147.1,38.8 160.3,46.6 169.9,53.5 176.4,57.4 183.9,61.2 189.9,63.6 196.8,65.9 208.4,69.3 220.2,73.3 224.5,75.2 229.1,78 234.9,81 242.7,84.4 249.4,86.5 249.4,86.5 232.8,78.7 226.8,75.4 222,72.3 217.4,70.3 209,67.4 200.8,65 192.4,62.9 185.2,60.6 179,58.2 171.3,54.4 164.6,50.4 154.7,43.6 141.2,35.7 133.5,30 128,25.4 124.5,22 121.2,18.4 116.6,12.7"/><polygon fill="url(#d55)" points="121.3,15.3 125.9,20.9 129.1,24.4 132.6,27.8 138.1,32.3 145.7,37.9 159,45.8 168.7,52.6 175.2,56.6 182.8,60.4 188.8,62.8 195.8,65.1 203.8,67.2 211.5,69.6 219.6,72.5 223.9,74.4 228.6,77.2 234.4,80.4 242.2,83.9 249.4,86.5 246.6,87 228.9,78.6 222.9,75.1 218,72 213.3,69.9 204.6,67.1 196.1,64.8 187.5,62.7 180.1,60.4 173.9,58 166.1,54.2 159.4,50.3 149.4,43.4 135.9,35.5 128.2,29.9 122.6,25.3 119.1,21.8 115.8,18.2 111.3,12.4"/><polygon fill="url(#d54)" points="119.9,14.4 124.4,20 127.7,23.5 131.2,26.9 136.7,31.5 144.4,37.1 157.7,45 167.4,51.8 174,55.7 181.6,59.5 187.7,62 194.7,64.3 202.9,66.4 210.7,68.8 218.9,71.7 223.3,73.6 228,76.5 233.9,79.8 241.8,83.4 249.4,86.5 241.9,88.2 224.8,79.9 219,76.5 214.2,73.4 209.7,71.4 201.2,68.5 193.1,66.1 184.6,64 177.4,61.7 171.4,59.3 163.7,55.5 157.1,51.5 147.2,44.7 133.9,36.7 126.3,31.1 120.8,26.5 117.4,23.1 114.1,19.4 109.6,13.7"/><polygon fill="url(#d53)" points="118.3,13.5 122.8,19.1 126.1,22.7 129.6,26.1 135.1,30.7 142.8,36.3 156.2,44.2 166,51.1 172.6,55 180.3,58.8 186.4,61.2 193.6,63.5 201.8,65.7 209.8,68 218.1,70.9 222.6,72.9 227.4,75.9 233.3,79.2 241.2,82.9 249.4,86.5 239.1,89 222.3,80.9 216.5,77.6 211.8,74.6 207.4,72.6 199,69.7 191,67.3 182.7,65.2 175.6,62.9 169.6,60.5 162,56.6 155.4,52.7 145.7,45.9 132.5,37.9 124.9,32.3 119.5,27.7 116,24.3 112.8,20.7 108.3,15"/><polygon fill="url(#d52)" points="116.6,12.7 121.2,18.4 124.5,22 128,25.4 133.5,30 141.2,35.7 154.7,43.6 164.6,50.4 171.3,54.4 179,58.2 185.2,60.6 192.4,62.9 200.8,65 209,67.4 217.4,70.3 222,72.3 226.8,75.4 232.8,78.7 249.4,86.5 237.2,89.6 220.6,81.8 214.9,78.6 210.3,75.6 205.8,73.7 197.6,70.8 189.6,68.5 181.4,66.3 174.3,64 168.4,61.6 160.9,57.8 154.3,53.8 144.6,47 131.5,39.1 124,33.4 118.5,28.9 115.1,25.5 111.9,21.9 107.4,16.3"/><polygon fill="url(#d51)" points="111.3,12.4 115.8,18.2 119.1,21.8 122.6,25.3 128.2,29.9 135.9,35.5 149.4,43.4 159.4,50.3 166.1,54.2 173.9,58 180.1,60.4 187.5,62.7 196.1,64.8 204.6,67.1 213.3,69.9 218,72 222.9,75.1 228.9,78.6 246.6,87 235.7,90.3 219.2,82.7 213.6,79.5 208.9,76.7 204.6,74.7 196.4,71.9 180.3,67.4 173.3,65.1 167.4,62.7 159.9,58.9 153.4,54.9 143.7,48.1 130.7,40.2 123.2,34.6 117.8,30 114.4,26.7 111.1,23.1 106.7,17.6"/><polygon fill="url(#d50)" points="109.6,13.7 114.1,19.4 117.4,23.1 120.8,26.5 126.3,31.1 133.9,36.7 147.2,44.7 157.1,51.5 163.7,55.5 171.4,59.3 177.4,61.7 184.6,64 193.1,66.1 201.2,68.5 209.7,71.4 214.2,73.4 219,76.5 224.8,79.9 241.9,88.2 234.1,91 217.7,83.7 212.2,80.6 207.6,77.9 203.2,76 195.1,73.2 179.2,68.7 172.2,66.4 166.4,64 158.9,60.2 152.5,56.2 142.8,49.4 129.9,41.5 122.4,35.9 117,31.4 113.6,28.1 110.4,24.5 105.9,19.1"/><polygon fill="url(#d49)" points="108.3,15 112.8,20.7 116,24.3 119.5,27.7 124.9,32.3 132.5,37.9 145.7,45.9 155.4,52.7 162,56.6 169.6,60.5 175.6,62.9 182.7,65.2 191,67.3 199,69.7 207.4,72.6 211.8,74.6 216.5,77.6 222.3,80.9 239.1,89 232.6,91.7 216.4,84.7 210.9,81.7 206.3,79 202,77.2 193.9,74.4 178.1,70 171.2,67.7 165.4,65.2 158,61.4 151.6,57.5 142,50.7 129.1,42.8 121.6,37.2 116.3,32.7 112.9,29.4 109.7,26 105.2,20.5"/><polygon fill="url(#d48)" points="107.4,16.3 111.9,21.9 115.1,25.5 118.5,28.9 124,33.4 131.5,39.1 144.6,47 154.3,53.8 160.9,57.8 168.4,61.6 174.3,64 181.4,66.3 189.6,68.5 197.6,70.8 205.8,73.7 210.3,75.6 214.9,78.6 220.6,81.8 237.2,89.6 231.1,92.4 215,85.7 209.6,82.9 205.1,80.3 200.8,78.4 192.8,75.7 173.5,70.1 167.2,67.8 159.4,64 152.7,60.1 141.1,52 130.3,45.5 122.7,40 117.3,35.6 113.8,32.5 108.9,27.4 104.5,22.1"/><polygon fill="url(#d47)" points="106.7,17.6 111.1,23.1 114.4,26.7 117.8,30 123.2,34.6 130.7,40.2 143.7,48.1 153.4,54.9 159.9,58.9 167.4,62.7 173.3,65.1 180.3,67.4 196.4,71.9 204.6,74.7 208.9,76.7 213.6,79.5 219.2,82.7 235.7,90.3 229.5,93.1 213.7,86.8 208.2,84 203.7,81.5 199.5,79.8 191.6,77.1 172.4,71.5 166.2,69.2 158.4,65.4 151.8,61.5 140.2,53.4 129.5,46.9 121.9,41.4 116.5,37.1 113.1,34 108.2,28.9 103.8,23.7"/><polygon fill="url(#d46)" points="105.9,19.1 110.4,24.5 113.6,28.1 117,31.4 122.4,35.9 129.9,41.5 142.8,49.4 152.5,56.2 158.9,60.2 166.4,64 172.2,66.4 179.2,68.7 195.1,73.2 203.2,76 207.6,77.9 212.2,80.6 217.7,83.7 234.1,91 227.9,93.9 212.2,87.9 206.8,85.2 202.4,82.8 198.2,81.1 190.3,78.5 171.4,72.9 165.2,70.6 157.5,66.8 150.9,62.9 139.4,54.8 128.7,48.3 121.1,42.8 115.8,38.5 112.3,35.4 107.5,30.4 103.1,25.2"/><polygon fill="url(#d45)" points="105.2,20.5 109.7,26 112.9,29.4 116.3,32.7 121.6,37.2 129.1,42.8 142,50.7 151.6,57.5 158,61.4 165.4,65.2 171.2,67.7 178.1,70 193.9,74.4 202,77.2 206.3,79 210.9,81.7 216.4,84.7 232.6,91.7 226.2,94.7 217.7,91.7 210.7,89 205.3,86.5 200.9,84.2 196.8,82.6 189,80 170.2,74.4 164.1,72.1 156.4,68.3 149.9,64.4 138.4,56.3 127.8,49.8 122.1,45.7 116.7,41.5 111.5,37 106.7,32.1 102.3,26.9"/><polygon fill="url(#d44)" points="104.5,22.1 108.9,27.4 113.8,32.5 117.3,35.6 122.7,40 130.3,45.5 141.1,52 152.7,60.1 159.4,64 167.2,67.8 173.5,70.1 192.8,75.7 200.8,78.4 205.1,80.3 209.6,82.9 215,85.7 231.1,92.4 225,95.2 216.6,92.4 209.6,89.8 204.3,87.4 199.9,85.1 195.8,83.5 184.3,79.8 172.9,76.6 166.2,74.3 160.6,71.9 155.7,69.4 149.2,65.5 137.8,57.4 127.2,50.8 121.5,46.7 116.1,42.5 111,38 106.2,33.2 101.8,28.1"/><polygon fill="url(#d43)" points="103.8,23.7 108.2,28.9 113.1,34 116.5,37.1 121.9,41.4 129.5,46.9 140.2,53.4 151.8,61.5 158.4,65.4 166.2,69.2 172.4,71.5 191.6,77.1 199.5,79.8 203.7,81.5 208.2,84 213.7,86.8 229.5,93.1 223.9,95.8 215.5,93 208.5,90.5 203.2,88.2 198.9,86 194.8,84.5 187.2,82 168.7,76.5 162.6,74.1 155,70.4 148.5,66.5 137.2,58.4 126.7,51.8 121,47.8 115.6,43.6 110.5,39.1 105.7,34.2 101.3,29.2"/><polygon fill="url(#d42)" points="103.1,25.2 107.5,30.4 112.3,35.4 115.8,38.5 121.1,42.8 128.7,48.3 139.4,54.8 150.9,62.9 157.5,66.8 165.2,70.6 171.4,72.9 190.3,78.5 198.2,81.1 202.4,82.8 206.8,85.2 212.2,87.9 227.9,93.9 222.7,96.3 214.4,93.7 207.4,91.3 197.9,87 193.8,85.4 186.2,83 167.9,77.6 161.9,75.2 154.3,71.4 147.9,67.5 136.6,59.5 126.1,52.9 120.4,48.8 115.1,44.6 110,40.1 105.2,35.3 100.9,30.3"/><polygon fill="url(#d41)" points="102.3,26.9 106.7,32.1 111.5,37 116.7,41.5 122.1,45.7 127.8,49.8 138.4,56.3 149.9,64.4 156.4,68.3 164.1,72.1 170.2,74.4 189,80 196.8,82.6 200.9,84.2 205.3,86.5 210.7,89 217.7,91.7 226.2,94.7 221.6,96.9 213.2,94.4 206.3,92.1 196.9,87.9 192.9,86.5 167.1,78.7 161.1,76.3 156,73.8 147.2,68.6 136,60.6 125.5,54 121.7,51.3 114.6,45.7 109.5,41.2 104.7,36.5 100.4,31.5"/><polygon fill="url(#d40)" points="101.8,28.1 106.2,33.2 111,38 116.1,42.5 121.5,46.7 127.2,50.8 137.8,57.4 149.2,65.5 155.7,69.4 160.6,71.9 166.2,74.3 172.9,76.6 184.3,79.8 195.8,83.5 199.9,85.1 204.3,87.4 209.6,89.8 216.6,92.4 225,95.2 220.5,97.5 212.1,95.2 205.2,93 195.9,89 191.9,87.6 166.4,79.8 160.4,77.4 155.3,74.9 146.5,69.8 135.4,61.7 125,55.1 121.1,52.4 114,46.8 109,42.4 104.2,37.6 99.9,32.7"/><polygon fill="url(#d39)" points="101.3,29.2 105.7,34.2 110.5,39.1 115.6,43.6 121,47.8 126.7,51.8 137.2,58.4 148.5,66.5 155,70.4 162.6,74.1 168.7,76.5 187.2,82 194.8,84.5 198.9,86 203.2,88.2 208.5,90.5 215.5,93 223.9,95.8 219.3,98.1 211,96 204.1,93.9 194.8,90.2 190.9,88.8 165.6,81 159.6,78.6 154.5,76.1 145.9,71 134.7,62.9 124.4,56.2 120.6,53.5 113.5,48 108.4,43.5 103.7,38.8 99.4,33.9"/><polygon fill="url(#d38)" points="100.9,30.3 105.2,35.3 110,40.1 115.1,44.6 120.4,48.8 126.1,52.9 136.6,59.5 147.9,67.5 154.3,71.4 161.9,75.2 167.9,77.6 186.2,83 193.8,85.4 197.9,87 207.4,91.3 214.4,93.7 222.7,96.3 218.1,98.8 209.9,96.9 203,95 189.9,90.1 168.1,83.4 161.7,81.1 153.8,77.4 145.2,72.2 134.1,64.1 123.8,57.5 120,54.8 112.9,49.2 107.9,44.8 103.2,40.1 98.9,35.3"/><polygon fill="url(#d37)" points="100.4,31.5 104.7,36.5 109.5,41.2 114.6,45.7 121.7,51.3 125.5,54 136,60.6 147.2,68.6 156,73.8 161.1,76.3 167.1,78.7 192.9,86.5 196.9,87.9 206.3,92.1 213.2,94.4 221.6,96.9 216.9,99.5 208.8,97.9 202,96.2 197,94.5 189,91.5 164,83.7 158.1,81.3 153.1,78.8 144.5,73.5 133.4,65.4 123.1,58.8 119.4,56.1 112.3,50.5 107.3,46.1 102.6,41.5 98.3,36.7"/><polygon fill="url(#d36)" points="99.9,32.7 104.2,37.6 109,42.4 114,46.8 121.1,52.4 125,55.1 135.4,61.7 146.5,69.8 155.3,74.9 160.4,77.4 166.4,79.8 191.9,87.6 195.9,89 205.2,93 212.1,95.2 220.5,97.5 215.8,100.3 207.7,98.9 201,97.4 196,95.9 188.1,93 163.2,85.1 157.4,82.7 152.3,80.2 143.7,74.9 132.7,66.8 122.5,60.1 118.7,57.4 111.7,51.9 106.7,47.5 102,42.9 97.7,38.2"/><polygon fill="url(#d35)" points="99.4,33.9 103.7,38.8 108.4,43.5 113.5,48 120.6,53.5 124.4,56.2 134.7,62.9 145.9,71 154.5,76.1 159.6,78.6 165.6,81 190.9,88.8 194.8,90.2 204.1,93.9 211,96 219.3,98.1 214.6,101.1 206.8,99.9 200.2,98.6 195.2,97.2 187.3,94.5 165.7,87.8 159.3,85.5 154,83 149.3,80.5 143,76.5 131.9,68.4 121.7,61.7 118,59 111,53.5 106,49.2 101.2,44.7 96.9,40"/><polygon fill="url(#d34)" points="98.9,35.3 103.2,40.1 107.9,44.8 112.9,49.2 120,54.8 123.8,57.5 134.1,64.1 145.2,72.2 153.8,77.4 161.7,81.1 168.1,83.4 189.9,90.1 203,95 209.9,96.9 218.1,98.8 213.5,102.1 205.9,101.1 199.6,99.9 194.6,98.7 164.8,89.7 158.5,87.4 153.2,85 148.5,82.4 142.1,78.5 131,70.4 118.9,62.5 111.8,57 105,51.4 100.3,46.9 95.9,42.4"/><polygon fill="url(#d33)" points="98.3,36.7 102.6,41.5 107.3,46.1 112.3,50.5 119.4,56.1 123.1,58.8 133.4,65.4 144.5,73.5 153.1,78.8 158.1,81.3 164,83.7 189,91.5 197,94.5 202,96.2 208.8,97.9 216.9,99.5 212.4,103.2 205.2,102.5 199,101.6 194.2,100.5 163.9,91.9 157.7,89.6 152.4,87.2 147.7,84.7 141.4,80.8 130.1,72.7 118.1,64.8 111,59.4 104.1,53.8 99.2,49.5 94.7,45.2"/><polygon fill="url(#d32)" points="97.7,38.2 102,42.9 106.7,47.5 111.7,51.9 118.7,57.4 122.5,60.1 132.7,66.8 143.7,74.9 152.3,80.2 157.4,82.7 163.2,85.1 188.1,93 196,95.9 201,97.4 207.7,98.9 215.8,100.3 211.6,104.3 198.7,103 193.8,102.1 189.6,101.1 163.2,93.9 157.1,91.6 151.8,89.2 147.1,86.7 140.7,82.8 129.3,74.9 117.3,67 103.2,56.2 98.2,52.1 93.5,47.9"/><polygon fill="url(#d31)" points="96.9,40 101.2,44.7 106,49.2 111,53.5 118,59 121.7,61.7 131.9,68.4 143,76.5 149.3,80.5 154,83 159.3,85.5 165.7,87.8 187.3,94.5 195.2,97.2 200.2,98.6 206.8,99.9 214.6,101.1 210.6,105.4 198.2,104.4 189.2,102.8 173.6,98.9 162.5,95.9 159.2,94.8 153.6,92.4 146.4,88.7 139.9,84.9 118.3,70.6 102.1,58.7 92.1,50.7"/><polygon fill="url(#d30)" points="95.9,42.4 100.3,46.9 105,51.4 111.8,57 118.9,62.5 131,70.4 142.1,78.5 148.5,82.4 153.2,85 158.5,87.4 164.8,89.7 194.6,98.7 199.6,99.9 205.9,101.1 213.5,102.1 209.8,106.3 197.9,105.4 193.1,104.7 184.8,103 169.2,99.2 161.8,97.2 158.6,96.1 153,93.7 145.8,90.1 139.3,86.3 119.5,73.4 103,61.6 90.9,52.5"/><polygon fill="url(#d29)" points="94.7,45.2 99.2,49.5 104.1,53.8 111,59.4 118.1,64.8 130.1,72.7 141.4,80.8 147.7,84.7 152.4,87.2 157.7,89.6 163.9,91.9 194.2,100.5 199,101.6 205.2,102.5 212.4,103.2 208.9,107.2 197.4,106.2 192.7,105.5 184.3,103.8 168.4,100 161,98 157.9,96.9 152.3,94.6 145.1,91 138.5,87.2 118.6,74.4 89.7,53.6"/><polygon fill="url(#d28)" points="93.5,47.9 98.2,52.1 103.2,56.2 117.3,67 129.3,74.9 140.7,82.8 147.1,86.7 151.8,89.2 157.1,91.6 163.2,93.9 189.6,101.1 193.8,102.1 198.7,103 211.6,104.3 208,108 197,106.9 192.4,106.1 183.9,104.4 167.8,100.7 160.4,98.7 157.2,97.6 151.7,95.3 144.5,91.7 137.9,88 119.8,76.5 88.4,54.6"/><polygon fill="url(#d27)" points="92.1,50.7 102.1,58.7 118.3,70.6 139.9,84.9 146.4,88.7 153.6,92.4 159.2,94.8 162.5,95.9 173.6,98.9 189.2,102.8 198.2,104.4 210.6,105.4 207.2,108.7 196.7,107.4 192,106.7 171.2,102.2 159.7,99.3 156.5,98.2 151.1,95.9 143.9,92.3 137.2,88.6 124.9,81.1 117,76 104.1,67 87.2,55.5"/><polygon fill="url(#d26)" points="90.9,52.5 103,61.6 119.5,73.4 139.3,86.3 145.8,90.1 153,93.7 158.6,96.1 161.8,97.2 169.2,99.2 184.8,103 193.1,104.7 197.9,105.4 209.8,106.3 206,109.7 191.5,107.4 166.2,102 158.7,100 152.8,97.8 147.7,95.4 140.7,91.8 134.1,88.1 125.8,83.1 117.8,78.1 103,67.8 85.6,56.3"/><polygon fill="url(#d25)" points="89.7,53.6 118.6,74.4 138.5,87.2 145.1,91 152.3,94.6 157.9,96.9 161,98 168.4,100 184.3,103.8 192.7,105.5 197.4,106.2 208.9,107.2 199,110.6 182.2,107.1 161.3,102.4 154,100.4 148.3,98.1 143.4,95.8 136.6,92.1 127.9,87.2 121.6,83.4 113.8,78.3 97.3,66.8 81.7,56.6"/><polygon fill="url(#d24)" points="88.4,54.6 119.8,76.5 137.9,88 144.5,91.7 151.7,95.3 157.2,97.6 160.4,98.7 167.8,100.7 183.9,104.4 192.4,106.1 197,106.9 208,108 195.8,110.3 179.4,106.8 159.1,102 152.1,100 146.5,97.7 141.7,95.4 135,91.7 126.3,86.8 120.2,83 112.5,78 96.1,66.4 80.8,56.2"/><polygon fill="url(#d23)" points="87.2,55.5 104.1,67 117,76 124.9,81.1 137.2,88.6 143.9,92.3 151.1,95.9 156.5,98.2 159.7,99.3 171.2,102.2 192,106.7 196.7,107.4 207.2,108.7 192.7,109.9 176.7,106.3 157.1,101.5 150.3,99.5 144.8,97.2 140.1,94.9 133.4,91.2 118.9,82.5 111.2,77.5 95,66 79.9,55.8"/><polygon fill="url(#d22)" points="85.6,56.3 103,67.8 117.8,78.1 125.8,83.1 134.1,88.1 140.7,91.8 147.7,95.4 152.8,97.8 158.7,100 166.2,102 191.5,107.4 206,109.7 189,109.3 173.4,105.6 154.7,100.8 148,98.8 142.7,96.5 138,94.2 131.6,90.5 117.3,81.9 109.7,76.9 95.5,66.7 78.8,55.3"/><polygon fill="url(#d21)" points="81.7,56.6 97.3,66.8 113.8,78.3 121.6,83.4 127.9,87.2 136.6,92.1 143.4,95.8 148.3,98.1 154,100.4 161.3,102.4 182.2,107.1 199,110.6 184,108.7 169.1,104.9 151.3,100 145,97.9 139.9,95.6 129,89.7 115.1,81.1 107.7,76.1 93.7,65.9 77.4,54.6"/><polygon fill="url(#d20)" points="80.8,56.2 96.1,66.4 112.5,78 120.2,83 126.3,86.8 135,91.7 141.7,95.4 146.5,97.7 152.1,100 159.1,102 179.4,106.8 195.8,110.3 177.2,108.5 163.3,104.5 146.8,99.4 140.8,97.2 135.9,94.9 125.5,88.8 111.9,80.1 104.7,75.1 91,64.9 75.1,53.5"/><polygon fill="url(#d19)" points="79.9,55.8 95,66 111.2,77.5 118.9,82.5 133.4,91.2 140.1,94.9 144.8,97.2 150.3,99.5 157.1,101.5 176.7,106.3 192.7,109.9 170.2,108.5 157.4,104.2 142.1,98.8 136.6,96.6 129.8,92.9 118,85.4 106.9,77.8 72.8,51.9"/><polygon fill="url(#d18)" points="78.8,55.3 95.5,66.7 109.7,76.9 117.3,81.9 131.6,90.5 138,94.2 142.7,96.5 148,98.8 154.7,100.8 173.4,105.6 189,109.3 163.3,108.6 151.5,104.1 137.5,98.4 132.3,96 125.9,92.3 114.5,84.5 103.8,76.7 70.5,50.2"/><polygon fill="url(#d17)" points="77.4,54.6 93.7,65.9 107.7,76.1 115.1,81.1 129,89.7 139.9,95.6 145,97.9 151.3,100 169.1,104.9 184,108.7 159.4,108.7 148.2,104.1 134.8,98.2 129.9,95.8 123.7,91.9 112.5,84.1 102,76.1 69.2,49.3"/><polygon fill="url(#d16)" points="75.1,53.5 91,64.9 104.7,75.1 111.9,80.1 125.5,88.8 135.9,94.9 140.8,97.2 146.8,99.4 163.3,104.5 177.2,108.5 155.9,108.9 145.3,104.1 132.5,98.1 127.8,95.6 121.7,91.7 109,82.4 98.8,74.4 68.1,48.6"/><polygon fill="url(#d15)" points="72.8,51.9 106.9,77.8 118,85.4 129.8,92.9 136.6,96.6 142.1,98.8 157.4,104.2 170.2,108.5 152.2,109 142.1,104.2 130,98 125.5,95.5 119.6,91.5 108.9,83.5 97.1,74.1 66.8,48.1"/><polygon fill="#8e08ec" points="70.5,50.2 103.8,76.7 114.5,84.5 125.9,92.3 132.3,96 137.5,98.4 151.5,104.1 163.3,108.6 148.1,109.2 127.3,97.9 123.1,95.3 117.4,91.4 106.9,83.3 95.3,73.8 65.5,47.7"/><polygon fill="url(#d13)" points="69.2,49.3 102,76.1 112.5,84.1 123.7,91.9 129.9,95.8 134.8,98.2 148.2,104.1 159.4,108.7 144.3,109.4 124.9,97.8 118.9,93.9 113.6,89.9 103.4,81.7 92.1,72.1 64.3,47.3"/><polygon fill="url(#d12)" points="68.1,48.6 98.8,74.4 109,82.4 121.7,91.7 127.8,95.6 132.5,98.1 145.3,104.1 155.9,108.9 140.3,109.5 120.4,96.5 116.7,93.8 109.8,88.4 100,80.2 90.5,71.9 63.1,46.9"/><polygon fill="url(#d11)" points="66.8,48.1 97.1,74.1 108.9,83.5 119.6,91.5 125.5,95.5 130,98 142.1,104.2 152.2,109 136,109.8 117.7,96.5 104.3,85.5 85.5,68.9 61.7,46.6"/><polygon fill="url(#d10)" points="65.5,47.7 95.3,73.8 106.9,83.3 117.4,91.4 123.1,95.3 127.3,97.9 148.1,109.2 129.1,110.6 111.3,95.5 95.8,81.6 76.4,63.5 59.2,46.6"/><polygon fill="url(#d9)" points="64.3,47.3 92.1,72.1 103.4,81.7 113.6,89.9 118.9,93.9 124.9,97.8 144.3,109.4 122.2,111.8 86.7,78.3 69.7,61.4 55.9,47.3"/><polygon fill="url(#d8)" points="63.1,46.9 90.5,71.9 100,80.2 109.8,88.4 116.7,93.8 120.4,96.5 140.3,109.5 115.2,113.1 83,80.8 66.7,63.9 52.1,48.4"/><polygon fill="url(#d7)" points="61.7,46.6 85.5,68.9 104.3,85.5 117.7,96.5 136,109.8 109.6,114.3 81.4,84.7 49,49.4"/><polygon fill="url(#d6)" points="59.2,46.6 76.4,63.5 95.8,81.6 111.3,95.5 129.1,110.6 104.4,115.3 77.6,85.7 46.3,50.4"/><polygon fill="url(#d5)" points="55.9,47.3 69.7,61.4 86.7,78.3 122.2,111.8 101.4,116.1 75.4,86.5 44.8,51.2"/><polygon fill="url(#d4)" points="52.1,48.4 66.7,63.9 83,80.8 115.2,113.1 99.2,116.8 43.6,52.1"/><polygon fill="url(#d3)" points="49,49.4 81.4,84.7 109.6,114.3 97.6,117.4 42.7,53"/><polygon fill="url(#d2)" points="46.3,50.4 77.6,85.7 104.4,115.3 97.6,117.4 42.7,53"/><polygon fill="url(#d1)" points="44.8,51.2 75.4,86.5 101.4,116.1 97.6,117.4 42.7,53"/><polygon fill="url(#d0)" points="43.6,52.1 99.2,116.8 97.6,117.4 42.7,53"/><polygon fill="url(#dw)" points="42.7,53 97.6,117.4 96.6,122.1 41.7,57.3"/><path stroke="#444" stroke-width=".5" d="M96.6 134.7L96.6 117.6"/></g><g transform="translate(262.2,184.6)"><rect x="32.1" y="20.2" width="8.9" height="49.6" fill="url(#cb)" stroke="#222" stroke-width=".5"/><path stroke-width=".55" stroke="#222" d="M32.1 26.4h1.5M41.0 26.4h-1.5M32.1 32.6h1.5M41.0 32.6h-1.5M32.1 38.8h1.5M41.0 38.8h-1.5M32.1 45.0h1.5M41.0 45.0h-1.5M32.1 51.2h1.5M41.0 51.2h-1.5M32.1 57.4h1.5M41.0 57.4h-1.5M32.1 63.6h1.5M41.0 63.6h-1.5"/><path stroke-width=".55" stroke="#888" d="M42.0 20.5h1.6M42.0 26.7h1.6M42.0 32.9h1.6M42.0 39.1h1.6M42.0 45.3h1.6M42.0 51.5h1.6M42.0 57.7h1.6M42.0 63.9h1.6M42.0 70.1h1.6"/><g font-size="5.8" text-anchor="end"><text x="29" y="23.1">3000</text><text x="29" y="29.3">2500</text><text x="29" y="35.5">2000</text><text x="29" y="41.7">1500</text><text x="29" y="47.9">1000</text><text x="29" y="54.1">500</text><text x="29" y="60.3">0</text><text x="29" y="66.5">−500</text><text x="29" y="72.7">−1000</text></g><text x="16.3" y="12.4" font-size="5.94">Acceleration [m/s<tspan font-size="4.2" dy="-2.2">2</tspan><tspan dy="2.2">]</tspan></text></g><g transform="translate(-2.04,367.58) scale(1.018)"><path stroke="#333" stroke-width=".55" fill="none" d="M96.6 134.7L249.4 110.4M96.6 134.7L41.7 69.9M249.4 110.4L194.5 45.6M249.4 110.4L249.4 91.3M96.6 134.7L95.7 133.6M117 131.5L116.1 130.4M137.4 128.2L136.5 127.1M157.7 125L156.8 123.9M178.1 121.7L177.2 120.6M198.5 118.5L197.6 117.4M218.9 115.3L218 114.2M239.3 112L238.4 110.9M249.4 110.4L248.5 109.3M87.1 123.4L90.7 122.5M75.1 109.3L78.7 108.4M63.2 95.3L66.8 94.4M51.2 81.2L54.8 80.3M41.7 69.9L45.3 69"/><g font-size="5.8" text-anchor="middle"><text x="98.2" y="141.5">0</text><text x="118.6" y="138.3">2</text><text x="139.0" y="135.0">4</text><text x="159.3" y="131.8">6</text><text x="179.7" y="128.5">8</text><text x="200.1" y="125.3">10</text><text x="220.5" y="122.1">12</text><text x="240.9" y="118.8">14</text><text x="79.3" y="127.6">5</text><text x="67.3" y="113.5">10</text><text x="55.4" y="99.5">15</text><text x="43.4" y="85.4">20</text><text font-size="5.2" transform="translate(195.2,133.8) rotate(-9)">Time [ms]</text><text font-size="5.2" transform="translate(49.9,109.4) rotate(51.5)">Stiffness <tspan font-style="italic">E</tspan> [MPa]</text></g><polyline fill="none" stroke="url(#ew)" stroke-width="1.6" points="42.7,47.1 97.6,111.9"/><polygon fill="#8104ff" points="194.5,32.6 217.2,59.4 217.2,59.4 215.3,58.2 198,49.7 169.7,36.6"/><polygon fill="#8104ff" points="189.1,33.5 197.6,36.9 199.3,38.3 223.2,66.5 223.2,66.5 215.6,62.9 186.6,48.3 163.9,37.5"/><polygon fill="#8104ff" points="182.4,34.6 204.1,43.9 228,72.3 228,72.3 216.4,67.7 211.2,65.3 182.9,50.6 158.3,38.6"/><polygon fill="#8104ff" points="175.9,35.6 194.5,43.8 210,51 233.9,79.5 233.9,79.5 232.7,78.1 212.5,70.1 204.6,66.6 176.9,51.8 153,39.6"/><polygon fill="url(#e115)" points="169.7,36.6 198,49.7 215.3,58.2 217.2,59.4 233.9,79.5 235.1,80.7 237.5,82.3 237.5,82.3 225.5,78 208.6,71 200.7,67.4 168.9,49.9 147.8,38.8"/><polygon fill="url(#e114)" points="163.9,37.5 186.6,48.3 215.6,62.9 223.2,66.5 233.9,79.5 236.3,81.6 238.7,82.9 238.7,82.9 232.2,80.9 222.7,77.5 206,70.4 198.2,66.7 166.7,49 145.7,37.7"/><polygon fill="url(#e113)" points="158.3,38.6 182.9,50.6 211.2,65.3 216.4,67.7 228,72.3 233.9,79.5 235.1,80.7 237.5,82.3 239.9,83.5 239.9,83.5 233.3,81.7 223.6,78.3 217.8,75.9 198.8,67.5 191.6,63.7 165,48.3 144.2,37"/><polygon fill="url(#e112)" points="153,39.6 174.6,50.6 202.3,65.3 207.1,67.8 215.3,71.3 232.7,78.1 235.1,80.7 236.3,81.6 239.9,83.5 241.1,83.9 241.1,83.9 231.5,81.4 222,78 216.2,75.6 197.3,67.1 190.1,63.3 163.7,47.8 143,36.4"/><polygon fill="url(#e111)" points="147.8,38.8 168.9,49.9 200.7,67.4 208.6,71 222.7,76.9 228.5,79.1 237.5,82.3 239.9,83.5 241.1,83.9 241.1,83.9 233.8,82.3 230.1,81.2 223.7,78.9 214.9,75.3 196,66.8 188.9,63 162.6,47.4 142,35.9"/><polygon fill="url(#e110)" points="145.7,37.7 166.7,49 193.5,64.2 200.7,68 222.7,77.5 228.9,79.7 238.7,82.9 239.9,83.5 241.1,83.9 241.1,83.9 236.8,83.1 232.5,82.1 228.8,81 222.4,78.6 216.4,76.3 194.9,66.4 187.8,62.6 161.6,46.9 141.1,35.3"/><polygon fill="url(#e109)" points="144.2,37 165,48.3 191.6,63.7 198.8,67.5 217.8,75.9 223.6,78.3 233.3,81.7 241.1,83.9 242.3,83.8 242.3,83.8 240.9,83.9 235.6,83 227.7,80.8 215.3,76 196.5,67.4 189.1,63.6 162.9,47.8 140.3,34.9"/><polygon fill="url(#e108)" points="143,36.4 163.7,47.8 190.1,63.3 197.3,67.1 216.2,75.6 225.1,79.1 231.5,81.4 235.3,82.5 241.1,83.9 242.3,83.8 242.3,83.8 239.7,83.7 234.4,82.8 226.5,80.6 214.2,75.8 195.5,67.1 188.1,63.3 162.1,47.4 139.5,34.4"/><polygon fill="url(#e107)" points="142,35.9 164.8,48.6 191.2,64.2 198.6,68 217.7,76.5 226.9,80.1 233.8,82.3 241.1,83.9 242.3,83.8 242.3,83.8 238.5,83.5 233.3,82.6 225.4,80.4 213.2,75.5 194.5,66.8 187.2,62.9 161.2,47 138.8,34"/><polygon fill="url(#e106)" points="141.1,35.3 163.8,48.2 190.1,63.9 197.5,67.7 216.4,76.3 228.8,81 236.8,83.1 241.1,83.9 242.3,83.8 242.3,83.8 237.4,83.4 232.2,82.4 224.3,80.1 212.2,75.2 196.2,67.8 191,65.2 186.3,62.6 160.4,46.6 138,33.5"/><polygon fill="url(#e105)" points="140.3,34.9 162.9,47.8 189.1,63.6 196.5,67.4 215.3,76 227.7,80.8 235.6,83 240.9,83.9 242.3,83.8 242.3,83.8 236.2,83.2 231,82.2 223.3,79.9 211.2,75 195.2,67.5 190.1,64.9 185.4,62.3 159.6,46.2 137.3,33"/><polygon fill="url(#e104)" points="139.5,34.4 162.1,47.4 188.1,63.3 195.5,67.1 214.2,75.8 226.5,80.6 234.4,82.8 239.7,83.7 242.3,83.8 242.3,83.8 235.1,83 229.9,82 222.2,79.7 210.2,74.7 194.3,67.2 189.2,64.6 184.5,62 158.8,45.8 136.6,32.6"/><polygon fill="url(#e103)" points="138.8,34 161.2,47 187.2,62.9 192,65.5 197.1,68.1 213.2,75.5 225.4,80.4 233.3,82.6 238.5,83.5 242.3,83.8 243.5,83.6 243.5,83.6 241.3,83.7 233.9,82.8 228.8,81.8 224.7,80.7 221.1,79.5 214.9,77 206.4,73.2 193.3,66.8 185.8,62.9 155.8,44 135.8,32.1"/><polygon fill="url(#e102)" points="138,33.5 160.4,46.6 186.3,62.6 191,65.2 196.2,67.8 212.2,75.2 224.3,80.1 232.2,82.4 237.4,83.4 242.3,83.8 243.5,83.6 243.5,83.6 240.1,83.5 232.7,82.6 227.6,81.6 220,79.2 208.1,74.2 192.3,66.5 184.9,62.6 154.9,43.6 135,31.6"/><polygon fill="url(#e101)" points="137.3,33 159.6,46.2 185.4,62.3 190.1,64.9 195.2,67.5 211.2,75 223.3,79.9 231,82.2 236.2,83.2 242.3,83.8 243.5,83.6 243.5,83.6 238.9,83.4 231.6,82.4 226.5,81.4 218.9,79 207,73.9 191.4,66.2 184,62.2 154.1,43.1 134.3,31.1"/><polygon fill="url(#e100)" points="136.6,32.6 156.6,44.5 186.8,63.3 194.3,67.2 207.5,73.5 216,77.2 222.2,79.7 225.8,80.9 229.9,82 235.1,83 242.3,83.8 243.5,83.6 243.5,83.6 237.7,83.2 230.4,82.2 225.4,81.1 217.8,78.7 206,73.6 190.4,65.8 183.1,61.9 153.3,42.7 133.6,30.6"/><polygon fill="url(#e99)" points="135.8,32.1 155.8,44 185.8,62.9 193.3,66.8 206.4,73.2 214.9,77 221.1,79.5 224.7,80.7 228.8,81.8 233.9,82.8 241.3,83.7 243.5,83.6 243.5,83.6 236.5,83 229.3,82 224.3,80.9 216.8,78.5 205,73.3 189.5,65.5 182.1,61.5 152.5,42.2 132.8,30"/><polygon fill="url(#e98)" points="135,31.6 154.9,43.6 184.9,62.6 192.3,66.5 208.1,74.2 220,79.2 227.6,81.6 232.7,82.6 240.1,83.5 243.5,83.6 243.5,83.6 235.3,82.8 228.1,81.8 223.2,80.7 215.7,78.2 204,73 188.5,65.1 181.2,61.1 151.7,41.7 132.1,29.5"/><polygon fill="url(#e97)" points="134.3,31.1 154.1,43.1 184,62.2 191.4,66.2 207,73.9 218.9,79 226.5,81.4 231.6,82.4 238.9,83.4 243.5,83.6 243.5,83.6 234.1,82.7 227,81.6 222.1,80.4 214.6,77.9 203,72.6 187.6,64.8 180.3,60.7 150.9,41.2 131.3,28.9"/><polygon fill="url(#e96)" points="133.6,30.6 153.3,42.7 183.1,61.9 190.4,65.8 206,73.6 217.8,78.7 225.4,81.1 230.4,82.2 237.7,83.2 243.5,83.6 244.7,83.4 244.7,83.4 242.4,83.4 232.9,82.5 225.8,81.3 220.9,80.2 213.5,77.6 204.7,73.6 186.6,64.4 179.4,60.3 150,40.7 130.6,28.4"/><polygon fill="url(#e95)" points="132.8,30 152.5,42.2 182.1,61.5 189.5,65.5 205,73.3 216.8,78.5 224.3,80.9 229.3,82 236.5,83 243.5,83.6 244.7,83.4 244.7,83.4 241.2,83.3 231.7,82.3 224.7,81.1 219.8,79.9 212.5,77.3 203.7,73.3 185.7,64 178.5,59.9 149.2,40.2 129.9,27.8"/><polygon fill="url(#e94)" points="132.1,29.5 151.7,41.7 181.2,61.1 188.5,65.1 204,73 215.7,78.2 223.2,80.7 228.1,81.8 235.3,82.8 243.5,83.6 244.7,83.4 244.7,83.4 239.9,83.1 230.5,82.1 223.6,80.8 218.7,79.6 214.8,78.4 211.4,77 202.6,73 184.7,63.6 177.5,59.5 148.4,39.7 129.1,27.2"/><polygon fill="url(#e93)" points="131.3,28.9 150.9,41.2 180.3,60.7 187.6,64.8 203,72.6 214.6,77.9 222.1,80.4 227,81.6 234.1,82.7 243.5,83.6 244.7,83.4 244.7,83.4 238.6,83 229.3,81.8 222.4,80.6 217.6,79.4 213.7,78.1 210.3,76.7 201.6,72.7 183.8,63.2 176.6,59.1 147.6,39.1 128.4,26.6"/><polygon fill="url(#e92)" points="130.6,28.4 150,40.7 179.4,60.3 186.6,64.4 204.7,73.6 213.5,77.6 220.9,80.2 225.8,81.3 232.9,82.5 242.4,83.4 244.7,83.4 244.7,83.4 237.5,82.8 228.3,81.7 221.4,80.4 216.6,79.1 212.8,77.8 209.4,76.5 200.7,72.4 183,62.9 175.8,58.7 146.9,38.7 127.7,26.1"/><polygon fill="url(#e91)" points="129.9,27.8 149.2,40.2 178.5,59.9 185.7,64 203.7,73.3 212.5,77.3 219.8,79.9 224.7,81.1 231.7,82.3 241.2,83.3 244.7,83.4 244.7,83.4 236.5,82.7 227.2,81.5 220.4,80.2 215.7,78.9 211.8,77.6 208.5,76.2 199.8,72.1 182.1,62.5 175,58.4 146.2,38.2 127.1,25.6"/><polygon fill="url(#e90)" points="129.1,27.2 148.4,39.7 177.5,59.5 184.7,63.6 202.6,73 211.4,77 214.8,78.4 218.7,79.6 223.6,80.8 230.5,82.1 239.9,83.1 244.7,83.4 244.7,83.4 235.4,82.6 226.2,81.3 219.4,80 214.7,78.7 210.9,77.3 207.5,76 201.7,73.2 196.3,70.4 181.3,62.2 174.2,58 147.6,39.2 126.4,25.1"/><polygon fill="url(#e89)" points="128.4,26.6 147.6,39.1 176.6,59.1 183.8,63.2 201.6,72.7 210.3,76.7 213.7,78.1 217.6,79.4 222.4,80.6 229.3,81.8 238.6,83 244.7,83.4 244.7,83.4 234.2,82.4 225.1,81.1 218.4,79.7 213.6,78.4 209.8,77.1 206.5,75.7 200.7,72.8 195.3,70.1 180.4,61.8 173.4,57.6 146.8,38.7 125.8,24.5"/><polygon fill="url(#e88)" points="127.7,26.1 146.9,38.7 175.8,58.7 183,62.9 200.7,72.4 209.4,76.5 212.8,77.8 216.6,79.1 221.4,80.4 228.3,81.7 237.5,82.8 245.9,83.5 245.9,83.5 233,82.3 224,80.9 217.3,79.5 212.6,78.2 208.8,76.8 202.6,74 194.3,69.7 179.5,61.4 172.5,57.2 146,38.2 125.1,24"/><polygon fill="url(#e87)" points="127.1,25.6 146.2,38.2 175,58.4 182.1,62.5 197.1,70.7 202.6,73.4 208.5,76.2 211.8,77.6 215.7,78.9 220.4,80.2 227.2,81.5 236.5,82.7 245.9,83.5 245.9,83.5 231.5,82.1 222.6,80.6 215.9,79.2 211.3,77.8 204.3,75 193.2,69.3 178.4,61 171.4,56.7 145.1,37.6 124.2,23.3"/><polygon fill="url(#e86)" points="126.4,25.1 147.6,39.2 174.2,58 181.3,62.2 196.3,70.4 201.7,73.2 207.5,76 210.9,77.3 214.7,78.7 219.4,80 226.2,81.3 235.4,82.6 245.9,83.5 245.9,83.5 240.3,83.1 230,81.9 221.1,80.3 214.6,78.8 210,77.5 203,74.6 192,68.9 177.3,60.4 170.4,56.2 144.1,36.9 123.3,22.5"/><polygon fill="url(#e85)" points="125.8,24.5 146.8,38.7 173.4,57.6 180.4,61.8 195.3,70.1 200.7,72.8 206.5,75.7 209.8,77.1 213.6,78.4 218.4,79.7 225.1,81.1 234.2,82.4 245.9,83.5 245.9,83.5 238.9,82.9 228.7,81.7 219.9,80.1 213.4,78.5 208.8,77.1 201.9,74.2 190.9,68.4 176.3,60 169.4,55.6 143.2,36.3 122.5,21.8"/><polygon fill="url(#e84)" points="125.1,24 146,38.2 172.5,57.2 179.5,61.4 194.3,69.7 202.6,74 208.8,76.8 212.6,78.2 217.3,79.5 224,80.9 233,82.3 245.9,83.5 245.9,83.5 237.4,82.8 227.2,81.4 218.5,79.8 212.1,78.2 207.5,76.7 200.7,73.8 189.7,68 175.2,59.4 168.4,55.1 142.3,35.6 121.7,21"/><polygon fill="url(#e83)" points="124.2,23.3 145.1,37.6 171.4,56.7 178.4,61 193.2,69.3 204.3,75 211.3,77.8 215.9,79.2 222.6,80.6 231.5,82.1 245.9,83.5 245.9,83.5 236,82.6 225.9,81.2 217.3,79.5 210.9,77.9 206.4,76.4 199.5,73.4 188.7,67.5 174.2,58.9 167.4,54.6 141.4,34.9 120.9,20.3"/><polygon fill="url(#e82)" points="123.3,22.5 144.1,36.9 170.4,56.2 177.3,60.4 192,68.9 203,74.6 210,77.5 214.6,78.8 221.1,80.3 230,81.9 240.3,83.1 245.9,83.5 245.9,83.5 234.5,82.5 224.6,81 216,79.2 209.6,77.5 205.2,76.1 198.4,73.1 187.6,67.1 173.2,58.4 166.4,54 140.6,34.3 120.1,19.6"/><polygon fill="url(#e81)" points="122.5,21.8 143.2,36.3 169.4,55.6 176.3,60 190.9,68.4 201.9,74.2 208.8,77.1 213.4,78.5 219.9,80.1 228.7,81.7 238.9,82.9 245.9,83.5 247.1,84 247.1,84 244.4,83.4 232.2,82.2 222.4,80.7 213.9,78.8 207.7,77 203.2,75.5 196.5,72.5 185.8,66.4 171.6,57.7 164.8,53.2 139.1,33.3 118.8,18.5"/><polygon fill="url(#e80)" points="121.7,21 142.3,35.6 168.4,55.1 175.2,59.4 189.7,68 200.7,73.8 207.5,76.7 212.1,78.2 218.5,79.8 227.2,81.4 237.4,82.8 245.9,83.5 247.1,84 247.1,84 229.6,82 219.9,80.4 211.6,78.4 205.4,76.6 201.1,75 194.4,71.9 183.8,65.7 169.7,56.9 163,52.4 137.5,32.3 117.4,17.3"/><polygon fill="url(#e79)" points="120.9,20.3 141.4,34.9 167.4,54.6 174.2,58.9 188.7,67.5 199.5,73.4 206.4,76.4 210.9,77.9 217.3,79.5 225.9,81.2 236,82.6 245.9,83.5 247.1,84 247.1,84 238.6,83.3 226.9,81.9 217.4,80.1 209.2,78.1 203.1,76.1 198.8,74.5 195.3,73 192.3,71.4 181.8,65.1 163.3,53.2 157.2,48.6 133.9,29.8 115.9,16.3"/><polygon fill="url(#e78)" points="120.1,19.6 140.6,34.3 166.4,54 173.2,58.4 187.6,67.1 198.4,73.1 205.2,76.1 209.6,77.5 216,79.2 224.6,81 234.5,82.5 245.9,83.5 247.1,84 247.1,84 235.4,83.3 223.9,81.8 214.6,80 206.6,77.8 200.6,75.8 196.4,74.2 192.9,72.6 189.9,70.9 179.6,64.6 161.3,52.6 155.2,47.9 132.1,29 114.3,15.3"/><polygon fill="url(#e77)" points="118.8,18.5 139.1,33.3 164.8,53.2 171.6,57.7 185.8,66.4 196.5,72.5 203.2,75.5 207.7,77 213.9,78.8 222.4,80.7 232.2,82.2 244.4,83.4 247.1,84 248.3,85.9 248.3,85.9 246.8,84 232.4,83.4 221.1,81.7 211.9,79.8 204.1,77.5 198.2,75.5 194,73.8 190.6,72.2 187.6,70.5 177.4,64.1 159.3,52 153.3,47.2 130.4,28.2 112.7,14.4"/><polygon fill="url(#e76)" points="117.4,17.3 137.5,32.3 163,52.4 169.7,56.9 183.8,65.7 194.4,71.9 201.1,75 205.4,76.6 211.6,78.4 219.9,80.4 229.6,82 247.1,84 248.3,85.9 248.3,85.9 243.4,84.1 229.3,83.4 218.2,81.7 209.2,79.7 201.5,77.3 195.7,75.2 188.3,71.9 185.4,70.2 175.3,63.7 157.4,51.5 153.3,48.3 128.7,27.5 111.2,13.6"/><polygon fill="url(#e75)" points="115.9,16.3 135.9,31.4 161.2,51.7 167.8,56.2 181.8,65.1 192.3,71.4 198.8,74.5 203.1,76.1 209.2,78.1 217.4,80.1 226.9,81.9 238.6,83.3 247.1,84 248.3,85.9 248.3,85.9 237.7,84.7 224,83.9 213.3,82 204.7,79.9 197.2,77.4 191.6,75.2 184.4,71.8 181.5,70.1 171.6,63.5 154,51.1 150,47.9 125.8,26.9 108.5,13"/><polygon fill="url(#e74)" points="114.3,15.3 132.1,29 155.2,47.9 161.3,52.6 179.6,64.6 189.9,70.9 192.9,72.6 196.4,74.2 200.6,75.8 206.6,77.8 214.6,80 223.9,81.8 235.4,83.3 247.1,84 248.3,85.9 248.3,85.9 230.5,86.1 217.4,85.2 207.2,83.3 198.9,81.2 191.8,78.7 182.6,74.7 176.6,71.4 169.3,66.4 149.8,52.4 145.9,49.2 122.1,28.2 105.1,14.2"/><polygon fill="url(#e73)" points="112.7,14.4 132.4,29.8 157.2,50.4 163.7,55 177.4,64.1 187.6,70.5 194,73.8 198.2,75.5 204.1,77.5 211.9,79.8 221.1,81.7 232.4,83.4 246.8,84 248.3,85.9 249.4,91.3 249.4,91.3 245.1,86.7 227.4,87 214.6,86.1 204.6,84.2 196.5,82.1 189.5,79.7 180.4,75.8 174.6,72.4 167.3,67.5 148,53.6 144.1,50.4 120.5,29.5 103.7,15.6"/><polygon fill="url(#e72)" points="111.2,13.6 128.7,27.5 153.3,48.3 157.4,51.5 175.3,63.7 185.4,70.2 188.3,71.9 195.7,75.2 201.5,77.3 209.2,79.7 218.2,81.7 229.3,83.4 243.4,84.1 248.3,85.9 249.4,91.3 249.4,91.3 242.8,87.4 225.3,87.7 212.7,86.8 202.9,85 194.8,82.9 187.9,80.6 179,76.7 173.1,73.4 165.9,68.5 146.8,54.7 142.9,51.5 119.4,30.7 102.7,16.9"/><polygon fill="url(#e71)" points="108.5,13 125.8,26.9 150,47.9 154,51.1 171.6,63.5 181.5,70.1 184.4,71.8 191.6,75.2 197.2,77.4 204.7,79.9 213.3,82 224,83.9 237.7,84.7 248.3,85.9 249.4,91.3 249.4,91.3 240.7,88.2 223.5,88.4 211,87.6 201.3,85.8 193.4,83.8 186.5,81.5 177.7,77.7 171.9,74.4 164.7,69.5 145.7,55.8 141.9,52.6 118.5,32 101.9,18.2"/><polygon fill="url(#e70)" points="105.1,14.2 122.1,28.2 145.9,49.2 149.8,52.4 167,64.8 176.6,71.4 179.4,73.1 186.4,76.5 191.8,78.7 198.9,81.2 207.2,83.3 217.4,85.2 230.5,86.1 248.3,85.9 249.4,91.3 249.4,91.3 238.8,88.8 221.7,89.1 209.5,88.3 199.8,86.6 192,84.6 185.2,82.4 180.1,80.3 176.5,78.7 170.7,75.4 163.6,70.6 144.7,56.9 140.9,53.7 117.6,33.3 101.1,19.5"/><polygon fill="url(#e69)" points="103.7,15.6 120.5,29.5 144.1,50.4 148,53.6 167.3,67.5 174.6,72.4 180.4,75.8 189.5,79.7 196.5,82.1 204.6,84.2 214.6,86.1 227.4,87 245.1,86.7 249.4,91.3 249.4,91.3 236.9,89.5 220.1,89.8 208,89 198.4,87.3 190.7,85.4 184,83.2 178.9,81.3 175.3,79.6 169.6,76.4 162.6,71.6 143.7,58 138.1,53.3 116.8,34.5 100.3,20.8"/><polygon fill="url(#e68)" points="102.7,16.9 119.4,30.7 142.9,51.5 146.8,54.7 165.9,68.5 173.1,73.4 179,76.7 187.9,80.6 194.8,82.9 202.9,85 212.7,86.8 225.3,87.7 242.8,87.4 249.4,91.3 249.4,91.3 235,90.2 218.4,90.5 206.4,89.7 197,88.1 189.4,86.2 182.7,84.1 177.7,82.2 174.1,80.5 168.5,77.3 161.5,72.6 142.8,59.1 137.2,54.4 115.9,35.7 99.5,22.2"/><polygon fill="url(#e67)" points="101.9,18.2 118.5,32 141.9,52.6 145.7,55.8 164.7,69.5 171.9,74.4 177.7,77.7 186.5,81.5 193.4,83.8 201.3,85.8 211,87.6 223.5,88.4 240.7,88.2 249.4,91.3 249.4,91.3 233.7,90.7 217.2,91 205.3,90.2 196,88.6 188.4,86.8 181.8,84.7 176.9,82.8 173.3,81.2 167.7,78 160.7,73.3 142.1,59.9 136.5,55.2 115.3,36.7 98.9,23.1"/><polygon fill="url(#e66)" points="101.1,19.5 117.6,33.3 140.9,53.7 144.7,56.9 163.6,70.6 170.7,75.4 176.5,78.7 180.1,80.3 185.2,82.4 192,84.6 199.8,86.6 209.5,88.3 221.7,89.1 238.8,88.8 249.4,91.3 249.4,91.3 232.4,91.2 216,91.5 204.2,90.8 195,89.2 187.4,87.4 180.9,85.4 176,83.5 172.4,81.9 166.8,78.7 157.7,72.6 141.4,60.7 135.8,56 114.7,37.5 98.4,24"/><polygon fill="url(#e65)" points="100.3,20.8 116.8,34.5 138.1,53.3 143.7,58 162.6,71.6 169.6,76.4 175.3,79.6 178.9,81.3 184,83.2 190.7,85.4 198.4,87.3 208,89 220.1,89.8 236.9,89.5 249.4,91.3 249.4,91.3 214.8,92.1 203.1,91.4 193.9,89.9 186.4,88.1 179.9,86 175,84.1 171.5,82.5 166,79.5 156.9,73.4 140.7,61.5 135.1,56.9 114.1,38.5 97.9,25"/><polygon fill="url(#e64)" points="99.5,22.2 115.9,35.7 137.2,54.4 142.8,59.1 161.5,72.6 168.5,77.3 174.1,80.5 177.7,82.2 182.7,84.1 189.4,86.2 197,88.1 206.4,89.7 218.4,90.5 235,90.2 249.4,91.3 249.4,91.3 229.8,92.4 213.6,92.7 201.9,92.1 192.8,90.6 185.3,88.8 178.8,86.6 170.5,83.2 165.1,80.3 158.3,75.7 140,62.4 134.5,57.8 113.5,39.5 97.4,26.1"/><polygon fill="url(#e63)" points="98.9,23.1 115.3,36.7 136.5,55.2 142.1,59.9 160.7,73.3 167.7,78 173.3,81.2 176.9,82.8 181.8,84.7 188.4,86.8 196,88.6 205.3,90.2 217.2,91 233.7,90.7 249.4,91.3 248.4,91.8 228.5,93 212.5,93.4 200.8,92.8 191.7,91.3 184.2,89.5 177.8,87.3 169.5,83.9 164.2,81.1 157.5,76.6 139.3,63.3 133.8,58.7 113,40.4 96.9,27.1"/><polygon fill="url(#e62)" points="98.4,24 114.7,37.5 135.8,56 141.4,60.7 157.7,72.6 166.8,78.7 172.4,81.9 176,83.5 180.9,85.4 187.4,87.4 195,89.2 204.2,90.8 216,91.5 232.4,91.2 249.4,91.3 247.2,92.3 227.5,93.5 211.5,94 199.9,93.4 190.7,91.9 183.3,90.1 176.9,87.9 168.7,84.6 163.4,81.8 156.8,77.3 138.7,64.1 135,61.1 112.5,41.3 96.4,28"/><polygon fill="url(#e61)" points="97.9,25 114.1,38.5 135.1,56.9 140.7,61.5 156.9,73.4 166,79.5 171.5,82.5 175,84.1 179.9,86 186.4,88.1 193.9,89.9 203.1,91.4 214.8,92.1 249.4,91.3 246.1,92.8 226.4,94 210.5,94.5 198.9,94 189.8,92.5 182.4,90.7 176,88.5 167.9,85.3 162.7,82.5 156.1,78.1 138.1,64.9 134.4,61.9 112,42.2 96,28.9"/><polygon fill="url(#e60)" points="97.4,26.1 113.5,39.5 134.5,57.8 140,62.4 158.3,75.7 165.1,80.3 170.5,83.2 178.8,86.6 185.3,88.8 192.8,90.6 201.9,92.1 213.6,92.7 229.8,92.4 249.4,91.3 244.9,93.3 225.3,94.5 209.5,95 198,94.5 188.9,93.1 181.6,91.3 175.2,89.2 167.1,86 162,83.2 155.4,78.8 137.5,65.7 133.9,62.7 111.5,43.1 95.6,29.8"/><polygon fill="url(#e59)" points="96.9,27.1 113,40.4 133.8,58.7 139.3,63.3 157.5,76.6 164.2,81.1 169.5,83.9 177.8,87.3 184.2,89.5 191.7,91.3 200.8,92.8 212.5,93.4 228.5,93 248.4,91.8 243.7,93.7 224.3,95 208.5,95.5 197.1,95 188.1,93.6 180.8,91.9 174.4,89.9 166.4,86.7 161.3,84 154.8,79.6 137,66.5 133.3,63.5 111,44 95.1,30.8"/><polygon fill="url(#e58)" points="96.4,28 112.5,41.3 135,61.1 138.7,64.1 156.8,77.3 163.4,81.8 168.7,84.6 176.9,87.9 183.3,90.1 190.7,91.9 199.9,93.4 211.5,94 227.5,93.5 247.2,92.3 242.5,94.2 223.2,95.4 207.6,95.9 196.2,95.4 187.3,94.1 180,92.5 173.7,90.6 165.8,87.5 160.7,84.7 154.2,80.3 136.4,67.2 132.8,64.3 110.5,44.8 94.7,31.7"/><polygon fill="url(#e57)" points="96,28.9 112,42.2 134.4,61.9 138.1,64.9 156.1,78.1 162.7,82.5 167.9,85.3 176,88.5 182.4,90.7 189.8,92.5 198.9,94 210.5,94.5 226.4,94 246.1,92.8 241.4,94.6 222.3,95.8 206.7,96.3 195.5,95.8 186.6,94.5 179.4,93 173.2,91.2 168.5,89.6 165.2,88.2 160.2,85.3 151.6,79.4 135.9,67.9 132.3,65 110.1,45.6 94.3,32.5"/><polygon fill="url(#e56)" points="95.6,29.8 111.5,43.1 133.9,62.7 137.5,65.7 155.4,78.8 162,83.2 167.1,86 175.2,89.2 181.6,91.3 188.9,93.1 198,94.5 209.5,95 225.3,94.5 244.9,93.3 240.2,94.9 221.3,96.1 205.9,96.6 194.8,96.1 186,94.9 178.9,93.4 172.7,91.8 168.1,90.2 164.8,88.8 159.7,85.9 151.1,80 135.5,68.6 130.1,64.1 109.7,46.4 93.9,33.4"/><polygon fill="url(#e55)" points="95.1,30.8 111,44 133.3,63.5 137,66.5 154.8,79.6 161.3,84 166.4,86.7 174.4,89.9 180.8,91.9 188.1,93.6 197.1,95 208.5,95.5 224.3,95 243.7,93.7 239.1,95.2 220.4,96.4 205.2,96.8 194.2,96.3 185.5,95.2 178.4,93.8 172.3,92.3 167.7,90.8 164.4,89.3 159.3,86.4 150.7,80.6 135,69.2 129.7,64.8 109.2,47.2 93.5,34.2"/><polygon fill="url(#e54)" points="94.7,31.7 110.5,44.8 132.8,64.3 136.4,67.2 154.2,80.3 160.7,84.7 165.8,87.5 173.7,90.6 180,92.5 187.3,94.1 196.2,95.4 207.6,95.9 223.2,95.4 242.5,94.2 237.9,95.5 219.4,96.6 204.5,96.9 193.6,96.5 185.1,95.4 178.1,94.1 172.1,92.6 167.5,91.1 164.2,89.7 159,86.8 150.3,81.1 134.6,69.8 129.3,65.4 108.8,47.9 93.1,35"/><polygon fill="url(#e53)" points="94.3,32.5 110.1,45.6 132.3,65 135.9,67.9 151.6,79.4 160.2,85.3 165.2,88.2 168.5,89.6 173.2,91.2 179.4,93 186.6,94.5 195.5,95.8 206.7,96.3 222.3,95.8 241.4,94.6 236.7,95.7 218.5,96.7 203.8,97 193.2,96.6 184.8,95.6 177.9,94.3 171.9,92.8 167.4,91.3 164,90 158.7,87.2 152.1,82.9 134.3,70.3 128.9,66 108.4,48.6 92.7,35.8"/><polygon fill="url(#e52)" points="93.9,33.4 109.7,46.4 130.1,64.1 135.5,68.6 151.1,80 159.7,85.9 164.8,88.8 168.1,90.2 172.7,91.8 178.9,93.4 186,94.9 194.8,96.1 205.9,96.6 221.3,96.1 240.2,94.9 235.6,95.9 217.7,96.8 203.2,97.1 192.7,96.7 184.5,95.7 177.7,94.4 171.8,93 167.3,91.5 163.9,90.2 158.5,87.5 151.8,83.3 133.9,70.8 128.5,66.5 108.1,49.2 92.3,36.5"/><polygon fill="url(#e51)" points="93.5,34.2 109.2,47.2 129.7,64.8 135,69.2 150.7,80.6 159.3,86.4 164.4,89.3 167.7,90.8 172.3,92.3 178.4,93.8 185.5,95.2 194.2,96.3 205.2,96.8 220.4,96.4 239.1,95.2 234.4,96 216.9,96.9 202.7,97.2 192.4,96.8 184.2,95.8 177.6,94.6 171.8,93.2 163.8,90.5 158.3,87.8 151.5,83.6 133.6,71.2 128.2,67 107.7,49.9 91.9,37.2"/><polygon fill="url(#e50)" points="93.1,35 108.8,47.9 129.3,65.4 134.6,69.8 150.3,81.1 159,86.8 164.2,89.7 167.5,91.1 172.1,92.6 178.1,94.1 185.1,95.4 193.6,96.5 204.5,96.9 219.4,96.6 237.9,95.5 233.3,96.2 216.1,97 202.1,97.3 192,96.9 184,95.9 177.4,94.7 171.7,93.4 163.7,90.7 158.2,88.1 151.3,84 133.3,71.7 127.9,67.5 107.4,50.5 91.5,38"/><polygon fill="url(#e49)" points="92.7,35.8 108.4,48.6 128.9,66 134.3,70.3 152.1,82.9 158.7,87.2 164,90 167.4,91.3 171.9,92.8 177.9,94.3 184.8,95.6 193.2,96.6 203.8,97 218.5,96.7 236.7,95.7 232.1,96.3 215.2,97.1 201.6,97.4 191.7,96.9 183.8,96 177.3,94.9 171.6,93.5 163.7,91 158,88.4 151.1,84.3 133,72.2 127.6,68 107,51.2 91.2,38.8"/><polygon fill="url(#e48)" points="92.3,36.5 108.1,49.2 128.5,66.5 133.9,70.8 151.8,83.3 158.5,87.5 163.9,90.2 167.3,91.5 171.8,93 177.7,94.4 184.5,95.7 192.7,96.7 203.2,97.1 217.7,96.8 235.6,95.9 230.9,96.4 214.5,97.2 201.1,97.4 191.3,97 183.6,96.1 177.2,95 171.6,93.7 163.6,91.2 157.9,88.6 150.9,84.7 132.8,72.6 127.3,68.5 104.9,50.4 90.8,39.5"/><polygon fill="url(#e47)" points="91.9,37.2 107.7,49.9 128.2,67 133.6,71.2 151.5,83.6 158.3,87.8 163.8,90.5 171.8,93.2 177.6,94.6 184.2,95.8 192.4,96.8 202.7,97.2 216.9,96.9 234.4,96 229.8,96.5 213.7,97.3 200.7,97.5 191.1,97 183.4,96.2 177.1,95.1 171.5,93.9 163.5,91.4 157.8,88.9 150.7,84.9 132.5,73 125.3,67.5 104.6,51 90.5,40.2"/><polygon fill="url(#e46)" points="91.5,38 107.4,50.5 127.9,67.5 133.3,71.7 151.3,84 158.2,88.1 163.7,90.7 171.7,93.4 177.4,94.7 184,95.9 192,96.9 202.1,97.3 216.1,97 233.3,96.2 228.7,96.7 213,97.4 200.2,97.5 190.8,97.1 183.3,96.2 177,95.2 171.5,94 167,92.8 160.4,90.4 155.1,87.8 150.5,85.2 132.3,73.4 125,67.9 104.3,51.6 90.1,40.9"/><polygon fill="url(#e45)" points="91.2,38.8 107,51.2 127.6,68 133,72.2 151.1,84.3 158,88.4 163.7,91 171.6,93.5 177.3,94.9 183.8,96 191.7,96.9 201.6,97.4 215.2,97.1 232.1,96.3 227.6,96.8 212.3,97.4 199.8,97.6 190.5,97.2 183.1,96.3 176.9,95.3 171.4,94.1 167,92.9 160.3,90.6 155,88 150.3,85.5 132.1,73.7 124.8,68.4 104,52.2 89.8,41.6"/><polygon fill="url(#e44)" points="90.8,39.5 104.9,50.4 127.3,68.5 132.8,72.6 150.9,84.7 157.9,88.6 163.6,91.2 171.6,93.7 177.2,95 183.6,96.1 191.3,97 201.1,97.4 214.5,97.2 230.9,96.4 226.4,96.9 211.6,97.5 199.4,97.6 190.3,97.2 183,96.4 176.8,95.4 171.4,94.2 167,93.1 160.3,90.8 154.9,88.3 150.2,85.7 131.8,74.1 124.5,68.8 103.7,52.8 89.4,42.3"/><polygon fill="url(#e43)" points="90.5,40.2 104.6,51 125.3,67.5 132.5,73 150.7,84.9 157.8,88.9 163.5,91.4 171.5,93.9 177.1,95.1 183.4,96.2 191.1,97 200.7,97.5 213.7,97.3 229.8,96.5 225.3,97 210.9,97.6 199,97.7 190,97.3 182.8,96.4 176.7,95.5 171.4,94.3 166.9,93.2 160.2,90.9 154.8,88.5 150,86 131.6,74.4 124.3,69.2 103.4,53.3 89.1,42.9"/><polygon fill="url(#e42)" points="90.1,40.9 104.3,51.6 125,67.9 132.3,73.4 150.5,85.2 155.1,87.8 160.4,90.4 167,92.8 171.5,94 177,95.2 183.3,96.2 190.8,97.1 200.2,97.5 213,97.4 228.7,96.7 224.2,97.1 210.1,97.7 198.6,97.8 189.8,97.3 182.7,96.5 176.7,95.6 171.3,94.5 166.9,93.4 160.1,91.1 154.6,88.7 149.9,86.2 143.5,82.4 131.4,74.8 124,69.6 103.1,53.8 88.8,43.5"/><polygon fill="url(#e41)" points="89.8,41.6 104,52.2 124.8,68.4 132.1,73.7 150.3,85.5 155,88 160.3,90.6 167,92.9 171.4,94.1 176.9,95.3 183.1,96.3 190.5,97.2 199.8,97.6 212.3,97.4 227.6,96.8 223,97.3 209.4,97.7 198.1,97.8 189.5,97.4 182.5,96.6 176.6,95.6 171.3,94.6 166.9,93.5 160,91.3 154.5,88.9 149.7,86.4 143.3,82.7 131.1,75.1 123.7,70 102.8,54.4 88.4,44.2"/><polygon fill="url(#e40)" points="89.4,42.3 103.7,52.8 124.5,68.8 131.8,74.1 150.2,85.7 154.9,88.3 160.3,90.8 167,93.1 171.4,94.2 176.8,95.4 183,96.4 190.3,97.2 199.4,97.6 211.6,97.5 226.4,96.9 221.4,97.4 208.4,97.9 197.5,97.9 189.2,97.4 182.3,96.7 171.2,94.7 166.8,93.7 159.9,91.5 154.3,89.2 149.5,86.7 143,83 130.8,75.5 123.4,70.4 102.4,55 87.9,44.9"/><polygon fill="url(#e39)" points="89.1,42.9 103.4,53.3 124.3,69.2 131.6,74.4 150,86 154.8,88.5 160.2,90.9 166.9,93.2 171.4,94.3 176.7,95.5 182.8,96.4 190,97.3 199,97.7 210.9,97.6 225.3,97 219.6,97.7 207.2,98 196.8,98 188.8,97.5 182.1,96.8 171.2,94.9 163.1,92.9 156.8,90.6 151.6,88.3 146.9,85.9 130.5,76 123,71 103.7,57 87.4,45.8"/><polygon fill="url(#e38)" points="88.8,43.5 103.1,53.8 124,69.6 131.4,74.8 143.5,82.4 149.9,86.2 154.6,88.7 160.1,91.1 166.9,93.4 171.3,94.5 176.7,95.6 182.7,96.5 189.8,97.3 198.6,97.8 210.1,97.7 224.2,97.1 216.9,98.1 205.4,98.3 195.7,98.2 188.1,97.7 181.7,97 176.1,96.1 166.7,94.2 163,93.2 156.6,91.1 151.2,88.8 146.5,86.4 129.9,76.7 122.3,71.7 102.9,57.9 86.5,46.8"/><polygon fill="url(#e37)" points="88.4,44.2 102.8,54.4 123.7,70 131.1,75.1 143.3,82.7 149.7,86.4 154.5,88.9 160,91.3 166.9,93.5 171.3,94.6 176.6,95.6 182.5,96.6 189.5,97.4 198.1,97.8 209.4,97.7 223,97.3 213.2,98.7 203,98.7 194.3,98.4 187.2,98 181.2,97.3 175.8,96.5 166.6,94.6 159.3,92.6 153.3,90.5 148.2,88.2 143.7,85.9 127.1,76.3 117.8,70.2 100.1,57.8 85.4,48"/><polygon fill="url(#e36)" points="87.9,44.9 102.4,55 123.4,70.4 130.8,75.5 143,83 149.5,86.7 154.3,89.2 159.9,91.5 166.8,93.7 171.2,94.7 182.3,96.7 189.2,97.4 197.5,97.9 208.4,97.9 221.4,97.4 208.2,99.6 192.5,98.9 186.2,98.3 175.5,96.8 162.6,94.2 155.8,92.2 150,90.1 145.1,87.9 140.7,85.6 130.1,79.7 124.2,76.2 114.8,70.1 98.8,59.2 83.9,49.6"/><polygon fill="url(#e35)" points="87.4,45.8 103.7,57 123,71 130.5,76 146.9,85.9 151.6,88.3 156.8,90.6 163.1,92.9 171.2,94.9 182.1,96.8 188.8,97.5 196.8,98 207.2,98 219.6,97.7 201.2,100.9 184.5,99 170.4,96.7 162.3,95 155,93.1 151.8,92.2 146.4,90.1 141.6,87.9 135,84.5 126.6,79.8 120.6,76.3 113,71.6 96.8,60.7 81.7,51.2"/><polygon fill="url(#e34)" points="86.5,46.8 102.9,57.9 122.3,71.7 129.9,76.7 146.5,86.4 151.2,88.8 156.6,91.1 163,93.2 166.7,94.2 176.1,96.1 181.7,97 188.1,97.7 195.7,98.2 205.4,98.3 216.9,98.1 194.3,102.4 177.2,99.1 157,94.8 149.9,92.9 144.3,90.8 132.8,85.1 118.3,76.9 110.6,72.1 94.5,61.2 79.4,51.6"/><polygon fill="url(#e33)" points="85.4,48 100.1,57.8 117.8,70.2 127.1,76.3 143.7,85.9 148.2,88.2 153.3,90.5 159.3,92.6 166.6,94.6 175.8,96.5 181.2,97.3 187.2,98 194.3,98.4 203,98.7 213.2,98.7 187.3,104.3 170.7,100.8 151.7,96 145.1,93.9 139.8,91.6 126.7,84.4 114.8,77.1 107.4,72.1 93.4,61.9 76.9,50.6"/><polygon fill="url(#e32)" points="83.9,49.6 98.8,59.2 114.8,70.1 124.2,76.2 130.1,79.7 140.7,85.6 145.1,87.9 150,90.1 155.8,92.2 162.6,94.2 175.5,96.8 186.2,98.3 192.5,98.9 208.2,99.6 180.3,105.6 164.4,101.8 150,97.8 140.5,94.6 135.5,92.2 126.9,87.2 118.9,82.1 111.3,76.9 104.1,71.7 88.7,59.8 74.5,49.4"/><polygon fill="url(#e31)" points="81.7,51.2 96.8,60.7 113,71.6 120.6,76.3 126.6,79.8 135,84.5 141.6,87.9 146.4,90.1 151.8,92.2 155,93.1 162.3,95 170.4,96.7 184.5,99 201.2,100.9 176.5,106 161.1,102.1 147.3,97.9 138.1,94.6 133.2,92.2 124.8,87.1 117,81.9 109.5,76.6 102.4,71.3 88.9,60.5 73.1,48.5"/><polygon fill="url(#e30)" points="79.4,51.6 94.5,61.2 110.6,72.1 118.3,76.9 132.8,85.1 144.3,90.8 149.9,92.9 157,94.8 177.2,99.1 194.3,102.4 173.6,106.2 158.8,102.2 145.3,97.9 136.3,94.5 131.6,92 123.3,86.9 108.1,76.2 101.1,70.9 87.7,60 72.1,47.8"/><polygon fill="url(#e29)" points="76.9,50.6 93.4,61.9 107.4,72.1 114.8,77.1 126.7,84.4 139.8,91.6 145.1,93.9 151.7,96 170.7,100.8 187.3,104.3 171.3,106.4 156.8,102.2 143.6,97.8 134.9,94.4 130.2,91.9 122,86.7 107,75.9 100,70.5 86.7,59.5 71.3,47.3"/><polygon fill="url(#e28)" points="74.5,49.4 88.7,59.8 104.1,71.7 111.3,76.9 118.9,82.1 126.9,87.2 135.5,92.2 140.5,94.6 150,97.8 164.4,101.8 180.3,105.6 169.1,106.5 155,102.2 142.1,97.8 133.5,94.2 128.9,91.7 118.9,85.1 106,75.6 99.1,70.2 85.8,59.1 70.5,46.8"/><polygon fill="url(#e27)" points="73.1,48.5 88.9,60.5 102.4,71.3 109.5,76.6 117,81.9 124.8,87.1 133.2,92.2 138.1,94.6 147.3,97.9 161.1,102.1 176.5,106 167,106.6 153.2,102.3 140.6,97.7 132.2,94.1 127.6,91.5 117.8,84.9 105,75.3 98.1,69.8 85,58.7 69.8,46.3"/><polygon fill="url(#e26)" points="72.1,47.8 87.7,60 101.1,70.9 108.1,76.2 123.3,86.9 131.6,92 136.3,94.5 145.3,97.9 158.8,102.2 173.6,106.2 165,106.7 151.5,102.3 139.2,97.6 131,94 126.5,91.4 116.7,84.7 104,75.1 97.2,69.6 84.1,58.4 69.1,45.9"/><polygon fill="url(#e25)" points="71.3,47.3 86.7,59.5 100,70.5 107,75.9 122,86.7 130.2,91.9 134.9,94.4 143.6,97.8 156.8,102.2 171.3,106.4 162.7,106.9 149.6,102.3 137.6,97.6 129.5,93.9 125.1,91.2 115.5,84.5 102.9,74.9 96.1,69.3 83.2,58.1 68.3,45.5"/><polygon fill="url(#e24)" points="70.5,46.8 85.8,59.1 99.1,70.2 106,75.6 118.9,85.1 128.9,91.7 133.5,94.2 142.1,97.8 155,102.2 169.1,106.5 160.3,107 147.6,102.4 135.9,97.5 128.1,93.8 123.7,91.1 112.4,82.9 100.1,73.2 67.5,45.1"/><polygon fill="url(#e23)" points="69.8,46.3 85,58.7 98.1,69.8 105,75.3 117.8,84.9 127.6,91.5 132.2,94.1 140.6,97.7 153.2,102.3 167,106.6 158.1,107.1 145.7,102.4 134.4,97.5 126.7,93.7 122.4,91 111.2,82.8 99,73 66.7,44.8"/><polygon fill="url(#e22)" points="69.1,45.9 84.1,58.4 97.2,69.6 104,75.1 116.7,84.7 126.5,91.4 131,94 139.2,97.6 151.5,102.3 165,106.7 155.7,107.2 143.7,102.4 132.7,97.4 125.2,93.6 121,90.9 110,82.6 97.9,72.8 65.8,44.4"/><polygon fill="url(#e21)" points="68.3,45.5 83.2,58.1 96.1,69.3 102.9,74.9 115.5,84.5 125.1,91.2 129.5,93.9 137.6,97.6 149.6,102.3 162.7,106.9 153.3,107.3 141.7,102.4 131,97.4 123.7,93.5 119.6,90.8 108.7,82.5 96.8,72.6 65,44.1"/><polygon fill="url(#e20)" points="67.5,45.1 100.1,73.2 112.4,82.9 123.7,91.1 128.1,93.8 135.9,97.5 147.6,102.4 160.3,107 150.9,107.3 139.7,102.4 129.4,97.3 122.3,93.4 118.2,90.7 107.5,82.3 95.7,72.4 64.2,43.8"/><polygon fill="url(#e19)" points="66.7,44.8 99,73 111.2,82.8 122.4,91 126.7,93.7 134.4,97.5 145.7,102.4 158.1,107.1 148.5,107.4 137.7,102.4 127.6,97.2 120.7,93.3 116.8,90.6 106.2,82.2 94.5,72.2 63.3,43.5"/><polygon fill="url(#e18)" points="65.8,44.4 97.9,72.8 110,82.6 121,90.9 125.2,93.6 132.7,97.4 143.7,102.4 155.7,107.2 145.6,107.4 135.2,102.4 123.3,95.8 118.9,93.2 113.3,89 101.3,79.1 91.5,70.6 62.3,43.3"/><polygon fill="url(#e17)" points="65,44.1 96.8,72.6 108.7,82.5 119.6,90.8 123.7,93.5 131,97.4 141.7,102.4 153.3,107.3 142.4,107.5 132.6,102.3 121.2,95.7 117,93 111.5,88.9 101.3,80.4 90.1,70.4 61.2,43"/><polygon fill="url(#e16)" points="64.2,43.8 95.7,72.4 107.5,82.3 118.2,90.7 122.3,93.4 129.4,97.3 139.7,102.4 150.9,107.3 139.1,107.6 129.8,102.3 118.9,95.6 114.9,92.9 109.6,88.7 99.6,80.2 88.6,70.2 60,42.8"/><polygon fill="url(#e15)" points="63.3,43.5 94.5,72.2 106.2,82.2 116.8,90.6 120.7,93.3 127.6,97.2 137.7,102.4 148.5,107.4 136.1,107.6 127.3,102.2 117,95.5 113.1,92.7 107.9,88.5 98.1,80 87.2,70 59,42.7"/><polygon fill="url(#e14)" points="62.3,43.3 91.5,70.6 101.3,79.1 113.3,89 118.9,93.2 123.3,95.8 135.2,102.4 145.6,107.4 133.4,107.5 125.1,102.1 115.2,95.3 111.5,92.6 106.4,88.4 96.8,79.8 86,69.8 58.1,42.5"/><polygon fill="url(#e13)" points="61.2,43 90.1,70.4 101.3,80.4 111.5,88.9 117,93 121.2,95.7 132.6,102.3 142.4,107.5 130.8,107.5 122.9,102 113.5,95.2 108.2,91 103.4,86.8 93.9,78.2 83.4,68.2 57.2,42.4"/><polygon fill="url(#e12)" points="60,42.8 88.6,70.2 99.6,80.2 109.6,88.7 114.9,92.9 118.9,95.6 129.8,102.3 139.1,107.6 128.2,107.5 111.8,95.1 106.7,90.9 100.4,85.2 80.7,66.7 56.3,42.3"/><polygon fill="url(#e11)" points="59,42.7 87.2,70 98.1,80 107.9,88.5 113.1,92.7 117,95.5 127.3,102.2 136.1,107.6 125.4,107.5 108.3,93.6 97.3,83.7 78,65.1 55.4,42.2"/><polygon fill="url(#e10)" points="58.1,42.5 86,69.8 96.8,79.8 106.4,88.4 111.5,92.6 115.2,95.3 125.1,102.1 133.4,107.5 122,107.6 104.5,92.1 91,79.4 72.2,60.9 54.1,42.3"/><polygon fill="url(#e9)" points="57.2,42.4 83.4,68.2 93.9,78.2 103.4,86.8 108.2,91 113.5,95.2 122.9,102 130.8,107.5 116.3,108 94.5,86.9 81.8,74.1 65.2,57 51.7,42.6"/><polygon fill="url(#e8)" points="56.3,42.3 80.7,66.7 100.4,85.2 106.7,90.9 111.8,95.1 128.2,107.5 109.3,108.8 76.9,74.9 48.3,43.4"/><polygon fill="url(#e7)" points="55.4,42.2 78,65.1 97.3,83.7 108.3,93.6 125.4,107.5 103.1,109.8 77.7,81.4 45.4,44.4"/><polygon fill="url(#e6)" points="54.1,42.3 72.2,60.9 91,79.4 104.5,92.1 122,107.6 101.2,110.3 76.4,81.9 44.5,45"/><polygon fill="url(#e5)" points="51.7,42.6 65.2,57 81.8,74.1 94.5,86.9 116.3,108 100,110.8 44,45.5"/><polygon fill="url(#e4)" points="48.3,43.4 76.9,74.9 109.3,108.8 98.8,111.3 43.4,46.1"/><polygon fill="url(#e3)" points="45.4,44.4 77.7,81.4 103.1,109.8 97.6,111.9 42.7,47.1"/><polygon fill="url(#e2)" points="44.5,45 76.4,81.9 101.2,110.3 97.6,111.9 42.7,47.1"/><polygon fill="url(#e1)" points="44,45.5 100,110.8 97.6,111.9 42.7,47.1"/><polygon fill="url(#e0)" points="43.4,46.1 98.8,111.3 97.6,111.9 42.7,47.1"/><polygon fill="url(#ew)" points="42.7,47.1 97.6,111.9 96.6,122.1 41.7,57.3"/><path stroke="#444" stroke-width=".5" d="M96.6 134.7L96.6 112"/></g><g transform="translate(-1.9,368.2)"><rect x="32.1" y="20.2" width="8.9" height="49.6" fill="url(#cb)" stroke="#222" stroke-width=".5"/><path stroke-width=".55" stroke="#222" d="M32.1 26.4h1.5M41.0 26.4h-1.5M32.1 32.6h1.5M41.0 32.6h-1.5M32.1 38.8h1.5M41.0 38.8h-1.5M32.1 45.0h1.5M41.0 45.0h-1.5M32.1 51.2h1.5M41.0 51.2h-1.5M32.1 57.4h1.5M41.0 57.4h-1.5M32.1 63.6h1.5M41.0 63.6h-1.5"/><path stroke-width=".55" stroke="#888" d="M42.0 20.5h1.6M42.0 26.7h1.6M42.0 32.9h1.6M42.0 39.1h1.6M42.0 45.3h1.6M42.0 51.5h1.6M42.0 57.7h1.6M42.0 63.9h1.6M42.0 70.1h1.6"/><g font-size="5.8" text-anchor="end"><text x="29" y="23.1">3000</text><text x="29" y="29.3">2500</text><text x="29" y="35.5">2000</text><text x="29" y="41.7">1500</text><text x="29" y="47.9">1000</text><text x="29" y="54.1">500</text><text x="29" y="60.3">0</text><text x="29" y="66.5">−500</text><text x="29" y="72.7">−1000</text></g><text x="16.3" y="12.4" font-size="5.94">Acceleration [m/s<tspan font-size="4.2" dy="-2.2">2</tspan><tspan dy="2.2">]</tspan></text></g><g transform="translate(264.35,367.08) scale(1.015)"><path stroke="#333" stroke-width=".55" fill="none" d="M96.6 134.7L249.4 110.4M96.6 134.7L41.7 69.9M249.4 110.4L194.5 45.6M249.4 110.4L249.4 98.5M96.6 134.7L95.7 133.6M117 131.5L116.1 130.4M137.4 128.2L136.5 127.1M157.7 125L156.8 123.9M178.1 121.7L177.2 120.6M198.5 118.5L197.6 117.4M218.9 115.3L218 114.2M239.3 112L238.4 110.9M249.4 110.4L248.5 109.3M87.1 123.4L90.7 122.5M75.1 109.3L78.7 108.4M63.2 95.3L66.8 94.4M51.2 81.2L54.8 80.3M41.7 69.9L45.3 69"/><g font-size="5.8" text-anchor="middle"><text x="98.2" y="141.5">0</text><text x="118.6" y="138.3">2</text><text x="139.0" y="135.0">4</text><text x="159.3" y="131.8">6</text><text x="179.7" y="128.5">8</text><text x="200.1" y="125.3">10</text><text x="220.5" y="122.1">12</text><text x="240.9" y="118.8">14</text><text x="79.3" y="127.6">5</text><text x="67.3" y="113.5">10</text><text x="55.4" y="99.5">15</text><text x="43.4" y="85.4">20</text><text font-size="5.2" transform="translate(195.2,133.6) rotate(-9)">Time [ms]</text><text font-size="5.2" transform="translate(49.5,109.4) rotate(51.5)">Stiffness <tspan font-style="italic">E</tspan> [MPa]</text></g><polyline fill="none" stroke="url(#fw)" stroke-width="1.6" points="42.5,38.6 97.4,103.1"/><polygon fill="#7c03fe" points="194.5,33.6 228,72.9 228,72.9 225.7,71.6 206.9,63.4 202,61 197.7,58.5 187.7,52.1 180.3,46.9 173.8,41.5 169.7,37.4"/><polygon fill="#7d03fe" points="190,34.3 194,38.5 197.2,41.2 200.6,43.8 206.2,47.7 207.7,49.1 232.7,78.4 232.7,78.4 230.4,77.2 221.5,73.8 207.9,68 197.6,63.2 193.1,60.8 183,54.4 173.7,47.9 167.2,42.5 163.2,38.3"/><polygon fill="#7d04fe" points="183.1,35.4 185.8,38.1 188.7,40.9 195.5,46.2 205.3,52.6 211.4,56.4 215.9,58.9 236.3,82.7 236.3,82.7 223.4,78.2 214.6,74.8 198.5,67.8 188.6,63 182.3,59.2 174.5,54 168.9,50.1 162.3,44.8 159.4,42 156.8,39.2"/><polygon fill="#7d04ff" points="176.4,36.4 180.4,40.5 183.5,43.2 188.7,47.2 196.4,52.4 204.5,57.5 208.9,60 213.8,62.4 221.8,65.9 223.2,67.3 239.9,87 239.9,87 238.3,85.6 226.3,82.4 216.6,79.1 210.7,76.9 199.8,72.2 184.4,65 179.9,62.6 175.8,60 162.6,50.9 156,45.6 153.1,42.8 150.5,40"/><polygon fill="#7d04ff" points="169.7,37.4 173.8,41.5 180.3,46.9 187.7,52.1 197.7,58.5 202,61 206.9,63.4 225.7,71.6 228,72.9 241.1,88.5 241.1,88.5 231.3,86.5 227,85.5 219.5,83.3 212.9,81 206.9,78.8 198.5,75.3 180.4,67 175.7,64.5 171.5,62 158.1,52.9 152.9,48.9 149.8,46.2 146.9,43.4 144.3,40.6"/><polygon fill="#7e04ff" points="163.2,38.3 167.2,42.5 173.7,47.9 183,54.4 193.1,60.8 197.6,63.2 207.9,68 221.5,73.8 230.4,77.2 232.7,78.4 243.5,91.2 243.5,91.2 239.5,90.2 234,89.3 224.3,87.3 212.6,83.9 203.1,80.5 197.3,78.2 189.3,74.6 176.4,68.6 171.6,66.2 167.2,63.7 163.1,61.1 153.7,54.5 145.1,47.8 142.1,45.1 138.1,40.8"/><polygon fill="#7f04ff" points="156.8,39.2 159.4,42 162.3,44.8 168.9,50.1 174.5,54 182.3,59.2 188.6,63 198.5,67.8 214.6,74.8 223.4,78.2 236.3,82.7 242.3,89.9 244.7,92.5 244.7,92.5 224,88.5 215.1,86.1 207.7,83.7 198.3,80.2 189.8,76.7 182,73.1 167,65.7 162.6,63.1 158.6,60.5 149.2,53.8 143.9,49.7 137.6,44.2 133.6,39.9"/><polygon fill="url(#f81)" points="150.5,40 153.1,42.8 156,45.6 162.6,50.9 175.8,60 182.1,63.8 189.4,67.5 197.2,71 205.1,74.6 213.6,78 226.3,82.4 238.3,85.6 239.9,87 242.3,89.9 245.9,93.7 245.9,93.7 243.6,92.5 226.7,89.5 217.1,87.3 212.9,86 205.5,83.5 196.1,79.9 187.7,76.4 179.9,72.7 164.9,65.3 160.5,62.7 156.5,60.1 147.2,53.3 141.9,49.1 135.6,43.5 131.6,39.2"/><polygon fill="url(#f80)" points="144.3,40.6 146.9,43.4 149.8,46.2 156.4,51.6 169.5,60.7 173.5,63.3 178,65.8 185.5,69.4 198.5,75.3 206.9,78.8 212.9,81 219.5,83.3 227,85.5 231.3,86.5 241.1,88.5 245.9,93.7 245.9,93.7 242.2,92.6 225.3,89.5 215.7,87.1 211.5,85.8 204.1,83.2 194.7,79.6 181.1,73.6 166,66.1 161.4,63.6 157.2,61 147.7,54.1 140.7,48.6 134.4,42.9 130.4,38.5"/><polygon fill="url(#f79)" points="138.1,40.8 142.1,45.1 145.1,47.8 153.7,54.5 163.1,61.1 167.2,63.7 171.6,66.2 176.4,68.6 194.6,77 206.1,81.6 216.2,85 224.3,87.3 234,89.3 239.5,90.2 243.5,91.2 245.9,93.7 245.9,93.7 224.1,89.4 214.5,87 206.5,84.3 196.6,80.5 188,76.9 180.1,73.3 164.9,65.8 160.3,63.2 156.2,60.5 146.7,53.7 139.6,48 133.4,42.3 129.4,37.9"/><polygon fill="url(#f78)" points="133.6,39.9 137.6,44.2 140.6,47 149.2,53.8 158.6,60.5 162.6,63.1 167,65.7 171.8,68.2 184.6,74.3 192.6,77.9 198.3,80.2 207.7,83.7 215.1,86.1 224,88.5 244.7,92.5 247.1,95 247.1,95 245.9,93.7 228.3,90.5 223,89.3 213.4,86.8 205.4,84 195.5,80.2 186.9,76.6 179,72.9 163.9,65.3 159.3,62.8 155.1,60.1 145.7,53.1 138.6,47.5 132.4,41.7 128.4,37.3"/><polygon fill="url(#f77)" points="131.6,39.2 135.6,43.5 141.9,49.1 147.2,53.3 156.5,60.1 160.5,62.7 164.9,65.3 177.3,71.5 185,75.2 193.2,78.8 202.2,82.3 209,84.7 217.1,87.3 221.7,88.4 232.1,90.6 243.6,92.5 245.9,93.7 247.1,95 247.1,95 244.7,93.7 227.2,90.4 221.8,89.2 212.2,86.6 200.8,82.4 191.4,78.6 177.9,72.5 162.8,64.9 158.2,62.3 154.1,59.6 144.7,52.6 137.6,46.9 131.3,41.1 127.4,36.6"/><polygon fill="url(#f76)" points="130.4,38.5 134.4,42.9 139,47.2 145.9,52.7 155.3,59.6 159.2,62.3 163.6,64.9 178.6,72.4 186.4,76 194.7,79.6 204.1,83.2 211.5,85.8 215.7,87.1 225.3,89.5 242.2,92.6 245.9,93.7 247.1,95 247.1,95 243.4,93.8 231.6,91.6 220.6,89.1 211.1,86.4 199.6,82.1 190.3,78.3 176.8,72.1 161.8,64.4 157.2,61.8 153,59.1 143.6,52 136.6,46.3 130.3,40.4 126.3,35.9"/><polygon fill="url(#f75)" points="129.4,37.9 133.4,42.3 138,46.6 144.9,52.3 154.2,59.2 158.2,61.9 162.6,64.5 177.5,72 185.3,75.7 193.6,79.3 203,83 210.4,85.6 214.5,87 224.1,89.4 245.9,93.7 247.1,95 247.1,95 242.2,93.9 224.8,90.3 219.5,89 209.9,86.2 205.8,84.7 192.2,79.2 178.3,73 160.7,64 156.1,61.4 152,58.7 142.6,51.5 135.5,45.7 129.3,39.8 125.3,35.2"/><polygon fill="url(#f74)" points="128.4,37.3 132.4,41.7 138.6,47.5 145.7,53.1 155.1,60.1 159.3,62.8 163.9,65.3 179,72.9 186.9,76.6 195.5,80.2 205.4,84 213.4,86.8 223,89.3 228.3,90.5 245.9,93.7 247.1,95 247.1,95 235.1,92.8 223.6,90.3 218.3,88.9 208.8,86.1 204.7,84.5 188.1,77.6 177.2,72.6 159.7,63.6 155.1,61 150.9,58.2 141.6,51 134.5,45.1 128.3,39.2 124.3,34.6"/><polygon fill="url(#f73)" points="127.4,36.6 131.3,41.1 136,45.4 142.8,51.2 152.2,58.2 156.1,61 160.5,63.6 175.4,71.2 188.6,77.4 197.5,81.1 208.1,85.2 212.2,86.6 221.8,89.2 232.8,91.6 244.7,93.7 247.1,95 248.3,96.7 248.3,96.7 246.1,95.1 233.9,92.8 222.5,90.2 217.2,88.9 207.7,85.9 187,77.3 173.6,71 156.2,61.9 149.9,57.8 140.5,50.5 133.5,44.6 127.3,38.5 123.3,33.9"/><polygon fill="url(#f72)" points="126.3,35.9 130.3,40.4 134.9,44.8 141.8,50.6 151.1,57.7 155.1,60.5 159.4,63.2 174.3,70.8 182,74.6 190.3,78.3 199.6,82.1 211.1,86.4 220.6,89.1 226,90.4 243.4,93.8 247.1,95 248.3,96.7 248.3,96.7 244.9,95.2 226.9,91.5 221.3,90.2 211.1,87.3 206.5,85.7 202.4,84.1 185.9,77 175.1,71.9 157.5,62.8 153,60.1 148.9,57.3 139.5,50 132.5,44 126.2,37.9 122.3,33.3"/><polygon fill="url(#f71)" points="125.3,35.2 129.3,39.8 133.9,44.2 140.8,50.1 150.1,57.3 154,60 158.3,62.7 173.2,70.4 180.9,74.2 189.2,78 205.8,84.7 209.9,86.2 219.5,89 224.8,90.3 242.2,93.9 247.1,95 248.3,96.7 248.3,96.7 243.7,95.3 231.6,92.9 220.2,90.1 209.9,87.1 205.4,85.5 201.3,83.9 182,75.3 174,71.5 156.5,62.3 151.9,59.6 147.8,56.8 138.5,49.4 131.5,43.4 125.2,37.3 121.3,32.6"/><polygon fill="url(#f70)" points="124.3,34.6 128.3,39.2 134.5,45.1 141.6,51 150.9,58.2 157.3,62.3 174.7,71.4 188.1,77.6 204.7,84.5 208.8,86.1 218.3,88.9 223.6,90.3 235.1,92.8 247.1,95 248.3,96.7 248.3,96.7 224.6,91.5 219,90.1 208.8,87 204.3,85.4 200.2,83.6 180.9,75 172.9,71.1 155.5,61.9 150.9,59.2 146.8,56.3 137.5,48.9 130.5,42.8 124.2,36.6 120.3,31.9"/><polygon fill="url(#f69)" points="123.3,33.9 127.3,38.5 131.9,43.1 138.7,49 148,56.3 151.9,59.2 156.2,61.9 171,69.7 178.8,73.5 187,77.3 207.7,85.9 217.2,88.9 222.5,90.2 233.9,92.8 246.1,95.1 248.3,96.7 249.4,98.5 249.4,98.5 247.7,96.7 235.1,94.2 223.5,91.5 217.8,90 207.7,86.9 203.1,85.2 199,83.4 179.8,74.6 169.3,69.4 152.1,60.1 145.8,55.9 136.5,48.4 129.5,42.2 123.2,36 119.3,31.2"/><polygon fill="url(#f68)" points="122.3,33.3 126.2,37.9 130.8,42.5 137.7,48.5 146.9,55.8 150.9,58.7 155.2,61.4 170,69.3 183.1,75.7 206.5,85.7 216,88.8 221.3,90.2 232.7,92.8 244.9,95.2 248.3,96.7 249.4,98.5 249.4,98.5 246.5,96.8 234,94.3 222.3,91.5 216.7,90 206.5,86.7 202,85 197.9,83.2 178.8,74.3 170.8,70.4 153.4,61 148.8,58.3 144.8,55.4 135.5,47.8 128.5,41.6 122.2,35.4 118.3,30.6"/><polygon fill="url(#f67)" points="121.3,32.6 125.2,37.3 131.5,43.4 138.5,49.4 147.8,56.8 154.1,61 171.4,70.2 184.8,76.6 205.4,85.5 214.9,88.7 220.2,90.1 231.6,92.9 243.7,95.3 248.3,96.7 249.4,98.5 249.4,98.5 245.4,97 232.8,94.3 221.2,91.5 215.6,89.9 205.4,86.6 200.9,84.8 196.8,82.9 177.7,73.9 169.7,70 152.3,60.5 147.8,57.8 143.7,54.9 134.4,47.2 127.5,41 121.2,34.7 117.3,29.8"/><polygon fill="url(#f66)" points="120.3,31.9 124.2,36.6 130.5,42.8 137.5,48.9 146.8,56.3 153.1,60.5 170.4,69.8 180.9,75 204.3,85.4 213.7,88.6 219,90.1 230.4,92.9 248.3,96.7 249.4,98.5 249.4,98.5 244.2,97.1 231.6,94.4 220,91.4 214.4,89.8 204.3,86.4 199.8,84.6 195.7,82.7 168.7,69.5 151.3,60 146.8,57.3 142.7,54.3 133.4,46.6 126.4,40.3 120.2,33.9 116.3,29.1"/><polygon fill="url(#f65)" points="119.3,31.2 123.2,36 129.5,42.2 136.5,48.4 145.8,55.9 152.1,60.1 169.3,69.4 179.8,74.6 199,83.4 203.1,85.2 207.7,86.9 217.8,90 223.5,91.5 235.1,94.2 247.7,96.7 249.4,98.5 249.4,98.5 236.6,95.9 224.6,93 213.3,89.7 208,88 198.6,84.4 167.6,69.1 150.3,59.6 145.7,56.7 141.7,53.8 132.4,46 125.4,39.6 119.2,33.2 115.3,28.3"/><polygon fill="url(#f64)" points="118.3,30.6 122.2,35.4 128.5,41.6 135.5,47.8 144.8,55.4 148.8,58.3 153.4,61 170.8,70.4 178.8,74.3 197.9,83.2 202,85 206.5,86.7 216.7,90 222.3,91.5 234,94.3 246.5,96.8 249.4,98.5 248.4,98.6 235.4,95.9 223.4,93 212.1,89.7 206.9,87.9 197.5,84.2 189.7,80.2 166.5,68.7 149.2,59.1 144.7,56.3 140.6,53.3 131.4,45.5 124.4,39 118.2,32.6 114.3,27.6"/><polygon fill="url(#f63)" points="117.3,29.8 121.2,34.7 127.5,41 134.4,47.2 143.7,54.9 147.8,57.8 152.3,60.5 169.7,70 177.7,73.9 196.8,82.9 200.9,84.8 205.4,86.6 215.6,89.9 221.2,91.5 232.8,94.3 245.4,97 249.4,98.5 247.2,98.8 234.2,96.1 222.2,93 210.9,89.7 205.7,87.8 196.4,84.1 185.2,78.2 165.5,68.4 148.2,58.8 143.7,55.9 139.6,53 130.4,45.1 123.4,38.6 117.2,32.1 113.3,27.1"/><polygon fill="url(#f62)" points="116.3,29.1 120.2,33.9 126.4,40.3 133.4,46.6 142.7,54.3 146.8,57.3 151.3,60 168.7,69.5 195.7,82.7 199.8,84.6 204.3,86.4 214.4,89.8 220,91.4 231.6,94.4 244.2,97.1 249.4,98.5 245.6,99 232.7,96.2 220.7,93.1 209.5,89.7 204.2,87.9 194.9,84 183.8,78.1 164.1,68.2 146.8,58.5 142.3,55.6 138.3,52.7 129.1,44.7 122.1,38.2 115.9,31.6 112,26.6"/><polygon fill="url(#f61)" points="115.3,28.3 119.2,33.2 125.4,39.6 132.4,46 141.7,53.8 145.7,56.7 150.3,59.6 167.6,69.1 198.6,84.4 208,88 213.3,89.7 224.6,93 236.6,95.9 249.4,98.5 243.9,99.3 231,96.4 219,93.3 207.8,89.8 202.6,87.9 193.3,84 182.2,77.9 167.7,70.7 160,66.6 143,56.8 136.8,52.4 129.4,46 120.7,37.8 114.5,31.2 110.5,26.2"/><polygon fill="url(#f60)" points="114.3,27.6 118.2,32.6 124.4,39 131.4,45.5 140.6,53.3 144.7,56.3 149.2,59.1 166.5,68.7 189.7,80.2 197.5,84.2 206.9,87.9 212.1,89.7 223.4,93 235.4,95.9 248.4,98.6 241.6,99.6 228.7,96.7 216.8,93.5 205.6,89.9 200.4,88 191.1,84 180,77.9 165.6,70.6 158,66.4 141,56.6 134.8,52.1 127.4,45.7 118.7,37.4 112.6,30.8 108.6,25.7"/><polygon fill="url(#f59)" points="113.3,27.1 117.2,32.1 123.4,38.6 130.4,45.1 139.6,53 143.7,55.9 148.2,58.8 165.5,68.4 185.2,78.2 196.4,84.1 205.7,87.8 210.9,89.7 222.2,93 234.2,96.1 247.2,98.8 234.6,100.7 221.8,97.8 210,94.6 198.9,91.1 193.8,89.1 184.6,85.1 173.6,79 159.4,71.7 151.8,67.6 135,57.8 128.8,53.3 121.5,46.9 112.9,38.6 106.7,32 102.8,26.9"/><polygon fill="url(#f58)" points="112,26.6 115.9,31.6 122.1,38.2 129.1,44.7 138.3,52.7 142.3,55.6 146.8,58.5 164.1,68.2 183.8,78.1 194.9,84 204.2,87.9 209.5,89.7 220.7,93.1 232.7,96.2 245.6,99 232.2,101.1 219.5,98.3 207.7,95.1 196.6,91.6 191.5,89.7 182.3,85.8 171.4,79.8 152.2,69.8 135.2,60 130.8,57.2 126.8,54.2 119.5,47.8 110.9,39.6 104.7,33 100.8,28"/><polygon fill="url(#f57)" points="110.5,26.2 114.5,31.2 120.7,37.8 129.4,46 136.8,52.4 143,56.8 160,66.6 167.7,70.7 182.2,77.9 193.3,84 202.6,87.9 207.8,89.8 219,93.3 231,96.4 243.9,99.3 230.6,101.4 217.8,98.6 206.1,95.5 195,92.1 189.9,90.2 180.7,86.4 169.8,80.4 150.7,70.5 133.7,60.8 129.3,57.9 125.3,54.9 118,48.6 109.4,40.4 103.3,33.9 99.4,28.9"/><polygon fill="url(#f56)" points="108.6,25.7 112.6,30.8 118.7,37.4 127.4,45.7 134.8,52.1 141,56.6 158,66.4 165.6,70.6 180,77.9 191.1,84 200.4,88 205.6,89.9 216.8,93.5 228.7,96.7 241.6,99.6 229.4,101.6 216.7,98.9 210.7,97.4 199.3,94.2 188.7,90.7 179.5,86.9 172,82.8 149.5,71.2 132.6,61.5 128.1,58.7 124.2,55.7 115.1,47.8 108.3,41.3 102.2,34.8 98.3,29.9"/><polygon fill="url(#f55)" points="102.8,26.9 106.7,32 112.9,38.6 121.5,46.9 128.8,53.3 135,57.8 151.8,67.6 159.4,71.7 173.6,79 184.6,85.1 193.8,89.1 198.9,91.1 210,94.6 221.8,97.8 234.6,100.7 228.3,101.9 215.5,99.2 209.5,97.8 198.1,94.7 187.5,91.2 178.4,87.5 150.8,73.4 131.4,62.4 127,59.6 123,56.7 114,48.8 107.2,42.4 101,36 97.1,31.1"/><polygon fill="url(#f54)" points="100.8,28 104.7,33 110.9,39.6 119.5,47.8 126.8,54.2 130.8,57.2 135.2,60 152.2,69.8 171.4,79.8 182.3,85.8 191.5,89.7 196.6,91.6 207.7,95.1 219.5,98.3 232.2,101.1 227.1,102.1 214.3,99.5 208.3,98.1 197,95.1 186.4,91.8 177.2,88.2 149.7,74.2 130.3,63.3 125.9,60.5 122,57.6 112.9,49.9 106.1,43.5 100,37.2 96.1,32.3"/><polygon fill="url(#f53)" points="99.4,28.9 103.3,33.9 109.4,40.4 118,48.6 125.3,54.9 129.3,57.9 133.7,60.8 150.7,70.5 169.8,80.4 180.7,86.4 189.9,90.2 195,92.1 206.1,95.5 217.8,98.6 230.6,101.4 225.9,102.3 213.2,99.8 207.2,98.5 195.9,95.5 185.3,92.3 176.1,88.8 148.7,75 129.4,64.2 125,61.4 121,58.5 112,50.8 105.2,44.5 99.1,38.2 95.2,33.4"/><polygon fill="url(#f52)" points="98.3,29.9 102.2,34.8 108.3,41.3 115.1,47.8 124.2,55.7 128.1,58.7 132.6,61.5 149.5,71.2 172,82.8 179.5,86.9 188.7,90.7 199.3,94.2 210.7,97.4 216.7,98.9 229.4,101.6 224.7,102.5 212,100.1 206.1,98.8 194.8,95.9 184.2,92.7 175.1,89.3 150.3,77 128.5,64.9 124.1,62.2 120.2,59.3 111.2,51.6 104.4,45.4 98.3,39.1 94.3,34.3"/><polygon fill="url(#f51)" points="97.1,31.1 101,36 107.2,42.4 114,48.8 123,56.7 127,59.6 131.4,62.4 150.8,73.4 178.4,87.5 187.5,91.2 198.1,94.7 209.5,97.8 215.5,99.2 228.3,101.9 223.6,102.7 210.9,100.3 199.3,97.6 188.3,94.7 183.2,93.1 174.2,89.7 149.5,77.6 127.7,65.6 123.3,62.8 119.4,59.9 110.4,52.3 103.6,46.1 97.5,39.9 93.6,35.1"/><polygon fill="url(#f50)" points="96.1,32.3 100,37.2 106.1,43.5 112.9,49.9 122,57.6 125.9,60.5 130.3,63.3 149.7,74.2 177.2,88.2 186.4,91.8 197,95.1 208.3,98.1 214.3,99.5 227.1,102.1 222.4,102.9 209.9,100.5 198.3,97.8 187.4,94.9 182.4,93.3 173.4,90 148.8,78.1 127.1,66.1 122.7,63.3 118.8,60.5 109.9,52.9 103.1,46.7 97,40.5 93,35.7"/><polygon fill="url(#f49)" points="95.2,33.4 99.1,38.2 105.2,44.5 112,50.8 121,58.5 125,61.4 129.4,64.2 148.7,75 176.1,88.8 185.3,92.3 195.9,95.5 207.2,98.5 213.2,99.8 225.9,102.3 221.2,103.1 208.9,100.6 197.4,98 186.7,95.1 181.7,93.6 172.8,90.3 148.3,78.4 138.5,73.2 126.6,66.5 122.3,63.7 118.4,60.9 109.4,53.4 102.6,47.2 96.5,41 92.6,36.3"/><polygon fill="url(#f48)" points="94.3,34.3 98.3,39.1 104.4,45.4 111.2,51.6 120.2,59.3 124.1,62.2 128.5,64.9 150.3,77 175.1,89.3 184.2,92.7 194.8,95.9 206.1,98.8 212,100.1 224.7,102.5 220.1,103.3 207.9,100.8 196.6,98.2 186,95.3 181.1,93.8 172.3,90.5 168.4,88.8 145.3,77.5 126.2,66.9 121.9,64.1 118,61.3 109,53.8 102.3,47.7 96.1,41.5 92.2,36.7"/><polygon fill="url(#f47)" points="93.6,35.1 97.5,39.9 103.6,46.1 110.4,52.3 119.4,59.9 123.3,62.8 127.7,65.6 149.5,77.6 174.2,89.7 183.2,93.1 188.3,94.7 199.3,97.6 210.9,100.3 223.6,102.7 218.9,103.5 206.9,100.9 195.8,98.4 185.3,95.5 180.5,94 171.7,90.8 167.9,89.1 152.6,81.7 144.9,77.8 125.8,67.2 121.5,64.5 117.6,61.7 108.7,54.2 101.9,48.1 95.8,41.9 91.8,37.2"/><polygon fill="url(#f46)" points="93,35.7 97,40.5 103.1,46.7 109.9,52.9 118.8,60.5 122.7,63.3 127.1,66.1 148.8,78.1 173.4,90 182.4,93.3 187.4,94.9 198.3,97.8 209.9,100.5 222.4,102.9 217.7,103.7 195,98.5 184.7,95.7 179.9,94.2 171.3,91 167.5,89.3 152.1,82 144.4,78.1 125.5,67.6 121.2,64.8 117.3,62 108.3,54.6 101.6,48.5 95.5,42.4 91.5,37.6"/><polygon fill="url(#f45)" points="92.6,36.3 96.5,41 102.6,47.2 109.4,53.4 118.4,60.9 122.3,63.7 126.6,66.5 138.5,73.2 148.3,78.4 172.8,90.3 181.7,93.6 186.7,95.1 197.4,98 208.9,100.6 221.2,103.1 216.5,103.8 194.2,98.7 184,95.9 179.3,94.4 170.8,91.2 167,89.5 151.7,82.3 144,78.4 125.1,67.9 120.8,65.2 116.9,62.4 108,55 101.3,48.9 95.1,42.8 91.1,38.1"/><polygon fill="url(#f44)" points="92.2,36.7 96.1,41.5 102.3,47.7 109,53.8 118,61.3 121.9,64.1 126.2,66.9 145.3,77.5 168.4,88.8 172.3,90.5 181.1,93.8 186,95.3 196.6,98.2 207.9,100.8 220.1,103.3 215.2,104 193.4,98.9 183.4,96.1 178.7,94.6 170.2,91.4 166.5,89.8 151.3,82.6 143.6,78.8 124.7,68.3 120.5,65.6 116.6,62.8 107.7,55.4 100.9,49.4 94.8,43.2 90.8,38.5"/><polygon fill="url(#f43)" points="91.8,37.2 95.8,41.9 101.9,48.1 108.7,54.2 117.6,61.7 121.5,64.5 125.8,67.2 144.9,77.8 152.6,81.7 167.9,89.1 171.7,90.8 180.5,94 185.3,95.5 195.8,98.4 206.9,100.9 218.9,103.5 213.8,104.2 197.5,100.3 187.5,97.7 182.6,96.3 173.7,93.3 166,90 156.3,85.6 148.2,81.7 140.7,77.8 124.4,68.7 120.1,66 116.2,63.2 107.3,55.9 100.6,49.8 94.4,43.7 90.4,39"/><polygon fill="url(#f42)" points="91.5,37.6 95.5,42.4 101.6,48.5 108.3,54.6 117.3,62 121.2,64.8 125.5,67.6 144.4,78.1 152.1,82 167.5,89.3 171.3,91 179.9,94.2 184.7,95.7 195,98.5 217.7,103.7 212.4,104.5 186.6,97.9 181.9,96.5 173.1,93.5 165.4,90.3 155.8,85.9 147.7,82 140.3,78.2 124,69.1 119.7,66.4 115.9,63.6 107,56.3 100.2,50.3 94.1,44.2 90.1,39.5"/><polygon fill="url(#f41)" points="91.1,38.1 95.1,42.8 101.3,48.9 108,55 116.9,62.4 120.8,65.2 125.1,67.9 144,78.4 151.7,82.3 167,89.5 170.8,91.2 179.3,94.4 184,95.9 194.2,98.7 216.5,103.8 210.9,104.7 185.8,98.1 181.1,96.7 172.5,93.7 164.9,90.6 155.3,86.2 147.2,82.4 139.8,78.6 123.6,69.5 119.3,66.8 115.5,64 106.6,56.8 99.9,50.8 93.7,44.7 89.7,40"/><polygon fill="url(#f40)" points="90.8,38.5 94.8,43.2 100.9,49.4 107.7,55.4 116.6,62.8 120.5,65.6 124.7,68.3 143.6,78.8 151.3,82.6 166.5,89.8 170.2,91.4 178.7,94.6 183.4,96.1 193.4,98.9 215.2,104 209.3,104.9 184.9,98.3 180.3,96.9 171.8,94 164.3,90.9 154.8,86.6 146.7,82.8 139.3,79 123.2,69.9 119,67.2 115.1,64.4 106.3,57.2 99.5,51.3 93.4,45.2 89.3,40.5"/><polygon fill="url(#f39)" points="90.4,39 94.4,43.7 100.6,49.8 107.3,55.9 116.2,63.2 120.1,66 124.4,68.7 140.7,77.8 148.2,81.7 156.3,85.6 166,90 173.7,93.3 182.6,96.3 187.5,97.7 197.5,100.3 213.8,104.2 207.7,105.1 183.9,98.5 171.2,94.2 163.7,91.2 151.5,85.6 143.7,81.9 136.5,78.1 122.8,70.3 118.6,67.6 114.7,64.9 105.9,57.7 99.2,51.8 93,45.7 88.9,41"/><polygon fill="url(#f38)" points="90.1,39.5 94.1,44.2 100.2,50.3 107,56.3 115.9,63.6 119.7,66.4 124,69.1 140.3,78.2 147.7,82 155.8,85.9 165.4,90.3 173.1,93.5 181.9,96.5 186.6,97.9 212.4,104.5 206.1,105.4 183,98.7 170.5,94.5 163.2,91.5 151,86 143.2,82.3 136,78.5 122.4,70.7 118.2,68.1 114.4,65.3 105.5,58.2 98.8,52.3 92.6,46.2 88.6,41.5"/><polygon fill="url(#f37)" points="89.7,40 93.7,44.7 99.9,50.8 106.6,56.8 115.5,64 119.3,66.8 123.6,69.5 139.8,78.6 147.2,82.4 155.3,86.2 164.9,90.6 172.5,93.7 181.1,96.7 185.8,98.1 210.9,104.7 204.4,105.6 182,98.9 169.8,94.7 162.5,91.8 150.4,86.4 142.7,82.7 133.2,77.6 119.8,69.8 112.2,64.3 105.1,58.6 98.4,52.7 92.3,46.7 88.2,42"/><polygon fill="url(#f36)" points="89.3,40.5 93.4,45.2 99.5,51.3 106.3,57.2 115.1,64.4 119,67.2 123.2,69.9 139.3,79 146.7,82.8 154.8,86.6 164.3,90.9 171.8,94 180.3,96.9 184.9,98.3 209.3,104.9 202.4,105.9 176.7,97.8 165.3,93.6 155.4,89.4 147.2,85.6 139.7,81.9 132.7,78.1 119.3,70.3 111.7,64.8 104.7,59.2 98,53.3 91.8,47.2 87.7,42.5"/><polygon fill="url(#f35)" points="88.9,41 93,45.7 99.2,51.8 105.9,57.7 114.7,64.9 118.6,67.6 122.8,70.3 136.5,78.1 143.7,81.9 151.5,85.6 163.7,91.2 171.2,94.2 183.9,98.5 207.7,105.1 200.2,106.2 175.6,98.1 164.5,93.9 154.7,89.8 146.5,86 139,82.4 132,78.6 118.8,70.8 111.2,65.4 102.5,58.3 97.5,53.9 91.4,47.8 87.2,43.1"/><polygon fill="url(#f34)" points="88.6,41.5 92.6,46.2 98.8,52.3 105.5,58.2 114.4,65.3 118.2,68.1 122.4,70.7 136,78.5 143.2,82.3 151,86 163.2,91.5 170.5,94.5 183,98.7 206.1,105.4 197.8,106.6 189.7,103.6 174.3,98.4 167,95.7 156.9,91.6 143.1,85.3 135.9,81.7 129.1,77.9 122.4,74 116.2,70.1 107.2,63.2 100.3,57.5 95.4,53 90.8,48.4 86.7,43.7"/><polygon fill="url(#f33)" points="88.2,42 92.3,46.7 98.4,52.7 105.1,58.6 112.2,64.3 119.8,69.8 133.2,77.6 142.7,82.7 150.4,86.4 162.5,91.8 169.8,94.7 182,98.9 204.4,105.6 194.9,106.9 187.4,104 169.2,97.5 152.8,90.8 139.8,84.7 128.2,78.5 121.7,74.7 115.5,70.7 111.8,68 104.8,62.4 99.7,58.2 94.8,53.7 90.2,49.1 86.1,44.4"/><polygon fill="url(#f32)" points="87.7,42.5 91.8,47.2 98,53.3 104.7,59.2 111.7,64.8 119.3,70.3 132.7,78.1 139.7,81.9 147.2,85.6 155.4,89.4 165.3,93.6 176.7,97.8 202.4,105.9 191,107.5 184.2,104.5 167.3,98 148.7,90.3 136.2,84.3 125,78 118.6,74.2 114.6,71.5 109.1,67.4 102.2,61.9 97.2,57.5 92.4,53 89.4,49.9 85.3,45.2"/><polygon fill="url(#f31)" points="87.2,43.1 91.4,47.8 97.5,53.9 102.5,58.3 111.2,65.4 118.8,70.8 132,78.6 139,82.4 146.5,86 154.7,89.8 164.5,93.9 175.6,98.1 200.2,106.2 185.3,108.2 179.4,105.3 173.4,102.6 158.3,96.1 149.2,92.5 143.9,90.1 132,84 121.2,77.8 115.1,73.9 111.3,71.2 99.2,61.4 91.2,54 88.2,50.9 84,46.1"/><polygon fill="url(#f30)" points="86.7,43.7 90.8,48.4 95.4,53 100.3,57.5 107.2,63.2 116.2,70.1 122.4,74 129.1,77.9 135.9,81.7 143.1,85.3 156.9,91.6 167,95.7 174.3,98.4 189.7,103.6 197.8,106.6 178.3,109.1 170.8,104.8 160.3,99.4 154.8,96.8 143.6,92.1 136.3,88.5 127.3,83.6 117,77.2 109.4,71.9 97.6,62.1 89.7,54.6 82.5,46.7"/><polygon fill="url(#f29)" points="86.1,44.4 90.2,49.1 94.8,53.7 99.7,58.2 104.8,62.4 111.8,68 115.5,70.7 121.7,74.7 128.2,78.5 139.8,84.7 152.8,90.8 169.2,97.5 187.4,104 194.9,106.9 171.4,109.8 162.7,104.2 153.2,98.7 150.7,97.4 140.1,92.6 128.8,86.5 122.5,82.7 114.7,77.5 107.4,72.2 95.9,62.3 88.2,54.8 81.1,46.8"/><polygon fill="url(#f28)" points="85.3,45.2 89.4,49.9 92.4,53 97.2,57.5 102.2,61.9 109.1,67.4 114.6,71.5 118.6,74.2 125,78 136.2,84.3 148.7,90.3 167.3,98 184.2,104.5 191,107.5 164.6,110.1 156.8,104.7 150.6,100.6 146.1,97.9 136.4,93 127.7,88 119.8,83 112.4,77.7 103.9,70.9 94.4,62.4 86.9,54.8 79.9,46.8"/><polygon fill="url(#f27)" points="84,46.1 88.2,50.9 91.2,54 99.2,61.4 111.3,71.2 115.1,73.9 121.2,77.8 132,84 143.9,90.1 149.2,92.5 158.3,96.1 173.4,102.6 179.4,105.3 185.3,108.2 157.6,110.2 148.9,103.6 143.2,99.6 132.3,93.3 124.3,88.3 117,83.1 110,77.8 101.9,70.9 92.8,62.3 85.6,54.7 78.8,46.7"/><polygon fill="url(#f26)" points="82.5,46.7 89.7,54.6 97.6,62.1 109.4,71.9 117,77.2 127.3,83.6 136.3,88.5 143.6,92.1 154.8,96.8 160.3,99.4 170.8,104.8 178.3,109.1 150.9,110 137.9,99.8 126.3,92.1 119.2,87.1 114.1,83.1 107.7,77.8 100,70.8 91.3,62.2 84.3,54.6 77.7,46.6"/><polygon fill="url(#f25)" points="81.1,46.8 88.2,54.8 95.9,62.3 107.4,72.2 114.7,77.5 122.5,82.7 128.8,86.5 140.1,92.6 150.7,97.4 153.2,98.7 162.7,104.2 171.4,109.8 146.8,109.8 134.6,99.8 123.8,92.2 117.1,87 112.3,83.1 106.2,77.7 98.8,70.7 90.4,62.1 83.5,54.5 77,46.5"/><polygon fill="url(#f24)" points="79.9,46.8 86.9,54.8 94.4,62.4 103.9,70.9 112.4,77.7 119.8,83 127.7,88 136.4,93 146.1,97.9 150.6,100.6 156.8,104.7 164.6,110.1 143.4,109.6 131.7,99.7 121.7,92.1 115.3,87 104.9,77.6 97.8,70.6 88.2,60.5 82.9,54.3 76.4,46.4"/><polygon fill="url(#f23)" points="78.8,46.7 85.6,54.7 92.8,62.3 101.9,70.9 110,77.8 117,83.1 124.3,88.3 132.3,93.3 143.2,99.6 148.9,103.6 157.6,110.2 140.3,109.4 127.7,98.4 115.2,88.2 105.1,78.9 98.1,71.9 88.8,61.8 82.2,54.2 75.9,46.3"/><polygon fill="url(#f22)" points="77.7,46.6 84.3,54.6 91.3,62.2 100,70.8 107.7,77.8 114.1,83.1 119.2,87.1 126.3,92.1 137.9,99.8 150.9,110 137.8,109.2 125.6,98.3 113.8,88.1 104,78.8 97.3,71.8 88.1,61.7 81.7,54.1 75.4,46.2"/><polygon fill="url(#f21)" points="77,46.5 83.5,54.5 90.4,62.1 98.8,70.7 106.2,77.7 112.3,83.1 117.1,87 123.8,92.2 134.6,99.8 146.8,109.8 135.4,109.1 113.7,89.3 104.3,80 96.4,71.6 87.4,61.5 81.1,53.9 74.9,46"/><polygon fill="url(#f20)" points="76.4,46.4 82.9,54.3 88.2,60.5 97.8,70.6 104.9,77.6 115.3,87 121.7,92.1 131.7,99.7 143.4,109.6 133.1,108.9 113.6,90.5 103.2,79.9 86.7,61.4 80.5,53.8 74.3,45.9"/><polygon fill="url(#f19)" points="75.9,46.3 82.2,54.2 88.8,61.8 98.1,71.9 105.1,78.9 115.2,88.2 127.7,98.4 140.3,109.4 131.1,108.7 113.5,91.6 103.4,81.2 86,61.2 73.8,45.8"/><polygon fill="url(#f18)" points="75.4,46.2 81.7,54.1 88.1,61.7 97.3,71.8 104,78.8 113.8,88.1 125.6,98.3 137.8,109.2 129,108.6 115.6,95.3 102.2,81 85.2,61 73.1,45.6"/><polygon fill="url(#f17)" points="74.9,46 81.1,53.9 87.4,61.5 96.4,71.6 104.3,80 113.7,89.3 135.4,109.1 127,108.4 115.1,96.4 100.8,80.8 84.1,60.8 72.2,45.4"/><polygon fill="url(#f16)" points="74.3,45.9 80.5,53.8 86.7,61.4 103.2,79.9 113.6,90.5 133.1,108.9 125.6,108.3 114.9,97.3 100.8,81.8 83.1,60.3 71.2,45"/><polygon fill="url(#f15)" points="73.8,45.8 86,61.2 103.4,81.2 113.5,91.6 131.1,108.7 124.4,108.1 113.8,96.9 99.7,81.1 82.1,59.7 70.3,44.5"/><polygon fill="url(#f14)" points="73.1,45.6 85.2,61 102.2,81 115.6,95.3 129,108.6 123.3,108 112.6,96.4 98.5,80.3 80.9,58.8 69.2,43.7"/><polygon fill="url(#f13)" points="72.2,45.4 84.1,60.8 100.8,80.8 115.1,96.4 127,108.4 122.2,107.8 111.5,95.8 97.4,79.3 79.8,57.7 68,42.8"/><polygon fill="url(#f12)" points="71.2,45 83.1,60.3 100.8,81.8 114.9,97.3 125.6,108.3 121.3,107.7 96.4,78.4 78.7,56.6 66.8,41.8"/><polygon fill="url(#f11)" points="70.3,44.5 82.1,59.7 99.7,81.1 113.8,96.9 124.4,108.1 120.5,107.5 95.4,77.5 65.6,40.8"/><polygon fill="url(#f10)" points="69.2,43.7 80.9,58.8 98.5,80.3 112.6,96.4 123.3,108 119.6,107.4 64.4,39.8"/><polygon fill="url(#f9)" points="68,42.8 79.8,57.7 97.4,79.3 111.5,95.8 122.2,107.8 118.6,107.2 87.3,68.4 63.2,39.1"/><polygon fill="url(#f8)" points="66.8,41.8 78.7,56.6 96.4,78.4 121.3,107.7 117.6,107 92.2,75.2 62.1,38.5"/><polygon fill="url(#f7)" points="65.6,40.8 95.4,77.5 120.5,107.5 116.4,106.8 92.3,76.3 60.9,38.2"/><polygon fill="url(#f6)" points="64.4,39.8 119.6,107.4 113.4,105.9 102.7,92 90.7,76.9 58.4,37.6"/><polygon fill="url(#f5)" points="63.2,39.1 87.3,68.4 118.6,107.2 108.2,103.9 87.1,77.1 54.2,36.8"/><polygon fill="url(#f4)" points="62.1,38.5 92.2,75.2 117.6,107 102.4,102.4 49.5,36.6"/><polygon fill="url(#f3)" points="60.9,38.2 92.3,76.3 116.4,106.8 97.4,103.1 42.5,38.6"/><polygon fill="url(#f2)" points="58.4,37.6 90.7,76.9 102.7,92 113.4,105.9 97.4,103.1 42.5,38.6"/><polygon fill="url(#f1)" points="54.2,36.8 87.1,77.1 108.2,103.9 97.4,103.1 42.5,38.6"/><polygon fill="#cb4100" points="49.5,36.6 102.4,102.4 97.4,103.1 42.5,38.6"/><polygon fill="url(#fw)" points="42.5,38.6 97.4,103.1 96.6,122.1 41.7,57.3"/><path stroke="#444" stroke-width=".5" d="M96.6 134.7L96.6 103.2"/></g><g transform="translate(264.2,367.9)"><rect x="32.1" y="20.2" width="8.9" height="49.6" fill="url(#cb)" stroke="#222" stroke-width=".5"/><path stroke-width=".55" stroke="#222" d="M32.1 26.4h1.5M41.0 26.4h-1.5M32.1 32.6h1.5M41.0 32.6h-1.5M32.1 38.8h1.5M41.0 38.8h-1.5M32.1 45.0h1.5M41.0 45.0h-1.5M32.1 51.2h1.5M41.0 51.2h-1.5M32.1 57.4h1.5M41.0 57.4h-1.5M32.1 63.6h1.5M41.0 63.6h-1.5"/><path stroke-width=".55" stroke="#888" d="M42.0 20.5h1.6M42.0 26.7h1.6M42.0 32.9h1.6M42.0 39.1h1.6M42.0 45.3h1.6M42.0 51.5h1.6M42.0 57.7h1.6M42.0 63.9h1.6M42.0 70.1h1.6"/><g font-size="5.8" text-anchor="end"><text x="29" y="23.1">3000</text><text x="29" y="29.3">2500</text><text x="29" y="35.5">2000</text><text x="29" y="41.7">1500</text><text x="29" y="47.9">1000</text><text x="29" y="54.1">500</text><text x="29" y="60.3">0</text><text x="29" y="66.5">−500</text><text x="29" y="72.7">−1000</text></g><text x="16.3" y="12.4" font-size="5.94">Acceleration [m/s<tspan font-size="4.2" dy="-2.2">2</tspan><tspan dy="2.2">]</tspan></text></g><g class="cap" font-size="14" text-anchor="middle"><text x="136" y="175.8">(<tspan font-weight="bold">a</tspan>)</text><text x="403" y="175.8">(<tspan font-weight="bold">b</tspan>)</text><text x="136" y="359.8">(<tspan font-weight="bold">c</tspan>)</text><text x="403" y="359.8">(<tspan font-weight="bold">d</tspan>)</text><text x="136" y="543.8">(<tspan font-weight="bold">e</tspan>)</text><text x="403" y="543.8">(<tspan font-weight="bold">f</tspan>)</text></g></svg></body></html>
